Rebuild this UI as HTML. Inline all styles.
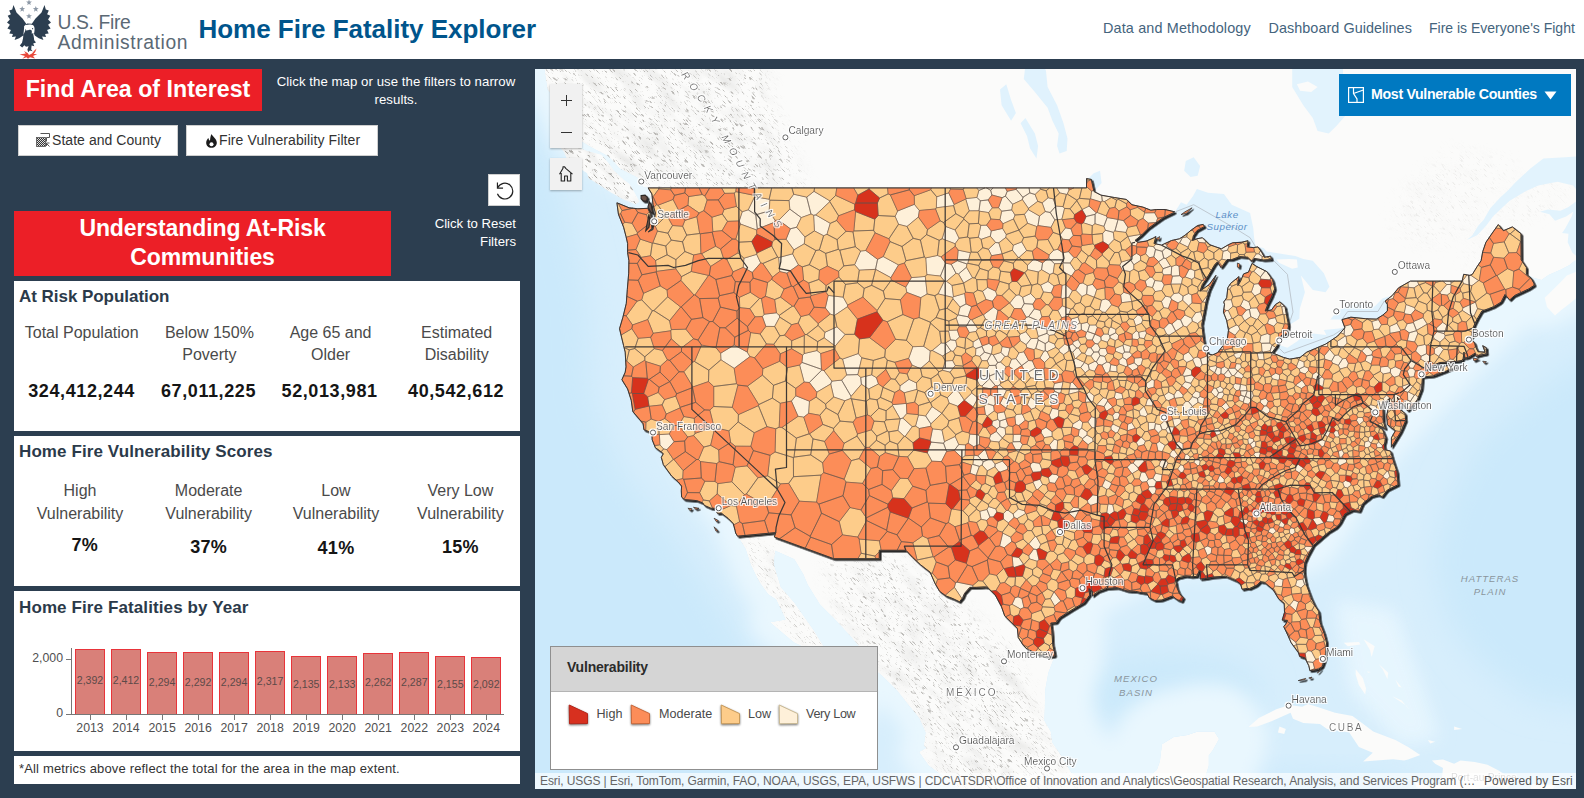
<!DOCTYPE html>
<html><head><meta charset="utf-8"><title>Home Fire Fatality Explorer</title>
<style>
*{box-sizing:border-box}
html,body{margin:0;padding:0}
body{width:1584px;height:798px;overflow:hidden;background:#2c3e50;font-family:"Liberation Sans",sans-serif;position:relative;color:#222}
.a{position:absolute;white-space:nowrap}
.hdr{left:0;top:0;width:1584px;height:59px;background:#fff}
.logo{color:#5b6975;font-size:19.3px;line-height:20px}
.title{left:198.5px;top:13px;font-size:26px;font-weight:700;color:#00558c;line-height:32px;letter-spacing:-0.02px}
.nav{top:19px;font-size:14.4px;line-height:18px;color:#44647d}
.red{background:#ec1f27;color:#fff;font-weight:700;text-align:center}
.btn{background:#fff;border:1px solid #cfcfcf;height:31px;top:124.5px;font-size:14px;color:#323232;line-height:29px}
.wt{color:#fff;font-size:13.2px;line-height:18px}
.card{background:#fff;left:14px;width:506px}
.ct{left:19px;font-size:17px;font-weight:700;color:#2b3a4a;line-height:20px;letter-spacing:-0.2px}
.lb{font-size:16px;color:#4a4a4a;line-height:22.5px;text-align:center;transform:translateX(-50%)}
.nm{font-size:18px;font-weight:700;color:#151515;line-height:22px;text-align:center;transform:translateX(-50%);letter-spacing:0.6px}
.map{position:absolute;left:535px;top:69px;display:block}
.mb{background:#f1f1f1;left:550px;width:32px;box-shadow:0 1px 2px rgba(0,0,0,.3)}
.yr{font-size:12.3px;color:#4f4f4f;line-height:14px;transform:translateX(-50%);top:720.5px}
.bv{font-size:10.6px;color:#5c4a48;line-height:12px;transform:translateX(-50%)}
.bar{background:#d98079;border:1px solid #e8343a;border-bottom:none;width:30px}
.lg{font-size:12.6px;color:#4a4a4a;line-height:14px;top:707px}
</style></head><body>

<div class="a hdr"></div>
<svg class="a" style="left:0;top:0" width="60" height="59" viewBox="0 0 60 59"><path d="M26.0,23.6L22.5,18.5L16.5,12.5L13.5,4.9L12.2,9.6L9.2,10.4L10.9,14.3L7.7,15.8L9.9,19.4L7.0,22.4L9.9,24.8L7.4,28.4L10.9,29.9L9.3,33.4L12.9,33.9L12.0,36.9L15.9,36.4L14.6,40.0L19.2,38.3L23.2,35.5L25.5,30.0ZM32.0,23.6L35.5,18.5L41.5,12.5L44.5,4.9L45.8,9.6L48.8,10.4L47.1,14.3L50.3,15.8L48.1,19.4L51.0,22.4L48.1,24.8L50.6,28.4L47.1,29.9L48.7,33.4L45.1,33.9L46.0,36.9L42.1,36.4L43.4,40.0L38.8,38.3L34.8,35.5L32.5,30.0ZM24.3,26.0L27.0,23.6L32.0,23.8L34.8,27.0L34.4,31.0L33.2,34.0L33.8,37.0L34.2,40.2L36.0,42.6L33.2,43.4L34.3,46.2L31.6,45.4L31.2,49.4L32.6,51.2L29.8,50.4L28.2,52.2L27.4,49.6L28.6,46.2L26.0,46.8L24.4,45.2L22.2,47.4L19.8,45.4L22.0,42.8L23.0,38.5L23.6,33.0Z" fill="#2c3e50"/><path d="M24.3,26.6 C25.2,24.4 31,23.9 33.5,25.5 C34.9,27 34.9,30 34.1,33.3 L31.6,33.6 C32.4,31 31.6,29.4 29.6,29.8 C28.5,30 27.6,31 27.3,30 L26.3,30.7 L25.8,29 L24.7,29.1 Z" fill="#fff"/><circle cx="32.6" cy="28.7" r="0.6" fill="#2c3e50"/><path d="M29.0,-0.5L29.8,1.5L31.9,1.6L30.2,3.0L30.8,5.1L29.0,3.9L27.2,5.1L27.8,3.0L26.1,1.6L28.2,1.5ZM22.2,6.1L23.0,8.1L25.1,8.2L23.4,9.6L24.0,11.7L22.2,10.5L20.4,11.7L21.0,9.6L19.3,8.2L21.4,8.1ZM35.8,6.1L36.6,8.1L38.7,8.2L37.0,9.6L37.6,11.7L35.8,10.5L34.0,11.7L34.6,9.6L32.9,8.2L35.0,8.1ZM29.0,13.2L29.8,15.2L31.9,15.3L30.2,16.7L30.8,18.8L29.0,17.6L27.2,18.8L27.8,16.7L26.1,15.3L28.2,15.2Z" fill="#8c98a6"/><path d="M19.5,54.5L25.8,53.6L24.0,51.0L27.6,53.0L29.0,55.0L32.0,53.4L34.4,50.4L36.6,48.4L35.2,52.0L33.6,54.0L37.2,54.0L33.0,56.0L35.0,58.6L30.0,57.2L28.0,58.8L26.4,57.2L22.4,58.8L25.0,56.0Z" fill="#e8483a"/></svg>
<div class="a logo" style="left:57.5px;top:12.8px;letter-spacing:-0.35px">U.S. Fire</div>
<div class="a logo" style="left:57.5px;top:32.9px;letter-spacing:0.6px">Administration</div>
<div class="a title">Home Fire Fatality Explorer</div>
<div class="a nav" style="left:1103px;letter-spacing:0.15px">Data and Methodology</div>
<div class="a nav" style="left:1268.5px;letter-spacing:0.05px">Dashboard Guidelines</div>
<div class="a nav" style="left:1429px;font-size:14px">Fire is Everyone's Fight</div>
<div class="a red" style="left:14px;top:69px;width:248px;height:42px;font-size:23.2px;line-height:40px">Find Area of Interest</div>
<div class="a wt" style="left:266px;top:72.5px;width:260px;text-align:center;letter-spacing:0.06px">Click the map or use the filters to narrow<br>results.</div>
<div class="a btn" style="left:18px;width:160px"><svg class="a" style="left:16px;top:6px" width="16" height="16" viewBox="0 0 16 16"><path d="M5.5,1.5 h9 v4 h-3 v4" fill="none" stroke="#555" stroke-width="1"/><defs><pattern id="dt" width="2" height="2" patternUnits="userSpaceOnUse"><rect width="1" height="1" fill="#333"/><rect x="1" y="1" width="1" height="1" fill="#333"/></pattern></defs><rect x="1.5" y="5.5" width="9" height="9" fill="#ddd"/><rect x="1.5" y="5.5" width="9" height="9" fill="url(#dt)" stroke="#555" stroke-width="0.8"/><path d="M11,11 l3.5,3.5 M11.5,14 v-3 h3" fill="none" stroke="#555" stroke-width="1"/></svg><span class="a" style="left:33px;top:0;letter-spacing:0.05px">State and County</span></div>
<div class="a btn" style="left:186px;width:192px"><svg class="a" style="left:18px;top:8px" width="13" height="14" viewBox="0 0 13 14"><path d="M6.5,0 C7.5,2.5 11.5,4.5 11.8,8.5 C12,11.5 9.5,13.8 6.5,13.8 C3.3,13.8 1,11.5 1.2,8.5 C1.3,6.5 2.3,5 3.5,4 C3.6,5.5 4.2,6.3 5,6.8 C5.2,4.5 5.5,2 6.5,0Z" fill="#1c1c1c"/><circle cx="6.5" cy="10.3" r="2" fill="#fff"/></svg><span class="a" style="left:32px;top:0;letter-spacing:0.1px">Fire Vulnerability Filter</span></div>
<div class="a" style="left:488px;top:174px;width:32px;height:32px;background:#fff;border:1px solid #cfcfcf"><svg class="a" style="left:5.5px;top:5.5px" width="19.5" height="19.5" viewBox="0 0 16 16"><path d="M2.2,5.5 A6.5,6.5 0 1 1 2,10.5" fill="none" stroke="#222" stroke-width="0.95"/><path d="M2,1.2 v4.6 h4.6" fill="none" stroke="#222" stroke-width="0.95"/></svg></div>
<div class="a wt" style="left:396px;top:214.5px;width:120px;text-align:right;white-space:normal;font-size:13.2px">Click to Reset Filters</div>
<div class="a red" style="left:14px;top:211px;width:377px;height:65px;font-size:23px;line-height:29px;padding-top:3px;letter-spacing:-0.1px">Understanding At-Risk<br>Communities</div>
<div class="a card" style="top:281px;height:150px"></div>
<div class="a ct" style="top:286.5px;letter-spacing:-0.04px">At Risk Population</div>
<div class="a lb" style="left:81.7px;top:321.5px">Total Population</div>
<div class="a lb" style="left:209.4px;top:321.5px">Below 150%<br>Poverty</div>
<div class="a lb" style="left:330.6px;top:321.5px">Age 65 and<br>Older</div>
<div class="a lb" style="left:456.7px;top:321.5px">Estimated<br>Disability</div>
<div class="a nm" style="left:81.6px;top:380px">324,412,244</div>
<div class="a nm" style="left:208.5px;top:380px">67,011,225</div>
<div class="a nm" style="left:329.6px;top:380px">52,013,981</div>
<div class="a nm" style="left:456.1px;top:380px">40,542,612</div>
<div class="a card" style="top:436px;height:150px"></div>
<div class="a ct" style="top:442px;letter-spacing:0.1px">Home Fire Vulnerability Scores</div>
<div class="a lb" style="left:80px;top:479px;line-height:23px">High<br>Vulnerability</div>
<div class="a lb" style="left:208.6px;top:479px;line-height:23px">Moderate<br>Vulnerability</div>
<div class="a lb" style="left:336px;top:479px;line-height:23px">Low<br>Vulnerability</div>
<div class="a lb" style="left:460.4px;top:479px;line-height:23px">Very Low<br>Vulnerability</div>
<div class="a nm" style="left:84.7px;top:533.5px;letter-spacing:0.3px">7%</div>
<div class="a nm" style="left:208.6px;top:536px;letter-spacing:0.3px">37%</div>
<div class="a nm" style="left:336px;top:537.2px;letter-spacing:0.3px">41%</div>
<div class="a nm" style="left:460.4px;top:536px;letter-spacing:0.3px">15%</div>
<div class="a card" style="top:591px;height:160px"></div>
<div class="a ct" style="top:597.5px;letter-spacing:0.11px">Home Fire Fatalities by Year</div>
<div class="a" style="left:71px;top:648px;width:1px;height:67px;background:#777"></div>
<div class="a" style="left:66px;top:714.0px;width:438px;height:1px;background:#777"></div>
<div class="a" style="left:66px;top:659px;width:5px;height:1px;background:#777"></div>
<div class="a" style="left:32px;top:650.5px;font-size:12.3px;color:#4f4f4f;line-height:14px;width:31px;text-align:right">2,000</div>
<div class="a" style="left:32px;top:705.5px;font-size:12.3px;color:#4f4f4f;line-height:14px;width:31px;text-align:right">0</div>
<div class="a bar" style="left:75.0px;top:649.1px;height:64.9px"></div>
<div class="a bv" style="left:90.0px;top:674.3px">2,392</div>
<div class="a" style="left:89.5px;top:714.5px;width:1px;height:5px;background:#777"></div>
<div class="a yr" style="left:90.0px">2013</div>
<div class="a bar" style="left:111.0px;top:648.6px;height:65.4px"></div>
<div class="a bv" style="left:126.0px;top:674.0px">2,412</div>
<div class="a" style="left:125.5px;top:714.5px;width:1px;height:5px;background:#777"></div>
<div class="a yr" style="left:126.0px">2014</div>
<div class="a bar" style="left:147.1px;top:651.8px;height:62.2px"></div>
<div class="a bv" style="left:162.1px;top:675.6px">2,294</div>
<div class="a" style="left:161.6px;top:714.5px;width:1px;height:5px;background:#777"></div>
<div class="a yr" style="left:162.1px">2015</div>
<div class="a bar" style="left:183.1px;top:651.8px;height:62.2px"></div>
<div class="a bv" style="left:198.1px;top:675.7px">2,292</div>
<div class="a" style="left:197.6px;top:714.5px;width:1px;height:5px;background:#777"></div>
<div class="a yr" style="left:198.1px">2016</div>
<div class="a bar" style="left:219.1px;top:651.8px;height:62.2px"></div>
<div class="a bv" style="left:234.1px;top:675.6px">2,294</div>
<div class="a" style="left:233.6px;top:714.5px;width:1px;height:5px;background:#777"></div>
<div class="a yr" style="left:234.1px">2017</div>
<div class="a bar" style="left:255.2px;top:651.2px;height:62.8px"></div>
<div class="a bv" style="left:270.1px;top:675.3px">2,317</div>
<div class="a" style="left:269.6px;top:714.5px;width:1px;height:5px;background:#777"></div>
<div class="a yr" style="left:270.1px">2018</div>
<div class="a bar" style="left:291.2px;top:656.1px;height:57.9px"></div>
<div class="a bv" style="left:306.2px;top:677.8px">2,135</div>
<div class="a" style="left:305.7px;top:714.5px;width:1px;height:5px;background:#777"></div>
<div class="a yr" style="left:306.2px">2019</div>
<div class="a bar" style="left:327.2px;top:656.2px;height:57.8px"></div>
<div class="a bv" style="left:342.2px;top:677.8px">2,133</div>
<div class="a" style="left:341.7px;top:714.5px;width:1px;height:5px;background:#777"></div>
<div class="a yr" style="left:342.2px">2020</div>
<div class="a bar" style="left:363.2px;top:652.7px;height:61.3px"></div>
<div class="a bv" style="left:378.2px;top:676.1px">2,262</div>
<div class="a" style="left:377.7px;top:714.5px;width:1px;height:5px;background:#777"></div>
<div class="a yr" style="left:378.2px">2021</div>
<div class="a bar" style="left:399.3px;top:652.0px;height:62.0px"></div>
<div class="a bv" style="left:414.3px;top:675.7px">2,287</div>
<div class="a" style="left:413.8px;top:714.5px;width:1px;height:5px;background:#777"></div>
<div class="a yr" style="left:414.3px">2022</div>
<div class="a bar" style="left:435.3px;top:655.6px;height:58.4px"></div>
<div class="a bv" style="left:450.3px;top:677.5px">2,155</div>
<div class="a" style="left:449.8px;top:714.5px;width:1px;height:5px;background:#777"></div>
<div class="a yr" style="left:450.3px">2023</div>
<div class="a bar" style="left:471.3px;top:657.3px;height:56.7px"></div>
<div class="a bv" style="left:486.3px;top:678.4px">2,092</div>
<div class="a" style="left:485.8px;top:714.5px;width:1px;height:5px;background:#777"></div>
<div class="a yr" style="left:486.3px">2024</div>
<div class="a" style="left:14px;top:756px;width:506px;height:28px;background:#fff"></div>
<div class="a" style="left:19px;top:761px;font-size:13px;color:#333;line-height:16px;letter-spacing:0.16px">*All metrics above reflect the total for the area in the map extent.</div>
<svg class="map" width="1041" height="720" viewBox="535 69 1041 720">
<defs>
<filter id="bl" x="-20%" y="-20%" width="140%" height="140%"><feGaussianBlur stdDeviation="9"/></filter>
<filter id="bl3" x="-30%" y="-30%" width="160%" height="160%"><feGaussianBlur stdDeviation="16"/></filter>
<filter id="sh" x="-5%" y="-5%" width="110%" height="110%"><feDropShadow dx="1.6" dy="1.6" stdDeviation="0.7" flood-color="#000" flood-opacity="0.85"/></filter>
<filter id="hill" x="0" y="0" width="100%" height="100%"><feTurbulence type="fractalNoise" baseFrequency="0.7 0.22" numOctaves="3" seed="11"/><feColorMatrix type="matrix" values="0 0 0 0 0.40  0 0 0 0 0.39  0 0 0 0 0.37  -4.5 -4.5 0 0 4.02"/></filter><filter id="hill2" x="0" y="0" width="100%" height="100%"><feTurbulence type="fractalNoise" baseFrequency="0.06 0.045" numOctaves="2" seed="5"/><feColorMatrix type="matrix" values="0 0 0 0 0.68  0 0 0 0 0.68  0 0 0 0 0.67  -0.9 -0.9 0 0 0.98"/></filter>
<filter id="halo" x="-10%" y="-30%" width="120%" height="160%"><feMorphology in="SourceAlpha" operator="dilate" radius="1.1" result="d"/><feFlood flood-color="#fff" flood-opacity="0.95"/><feComposite in2="d" operator="in" result="h"/><feMerge><feMergeNode in="h"/><feMergeNode in="SourceGraphic"/></feMerge></filter>

<clipPath id="pac"><path d="M294.9,-115.2L517.2,4.8L539.5,46.6L544.2,68.2L545.8,78.9L547.4,89.5L555.3,100.0L560.1,109.1L563.3,115.5L565.7,123.2L568.8,130.9L571.2,135.9L580.7,141.0L588.7,146.0L598.2,151.0L607.7,156.0L614.1,162.2L619.6,168.4L628.4,173.3L636.3,176.9L641.1,180.6L642.7,186.7L648.1,187.9L660.1,235.3L660.1,388.9L715.7,498.7L741.1,531.1L737.6,536.2L745.6,549.0L750.7,564.8L756.2,575.9L759.4,582.3L768.1,594.2L776.1,599.6L785.6,619.5L770.0,622.2L785.6,635.6L794.0,642.4L811.3,650.8L817.4,667.5L818.9,680.6L830.1,690.2L846.7,699.8L852.0,709.6L856.3,706.7L859.4,697.2L845.9,687.6L840.4,681.5L834.8,669.3L829.3,655.2L819.4,639.2L814.7,631.5L806.2,619.5L794.3,602.4L780.8,586.9L774.0,564.2L775.3,550.8L794.3,559.2L803.1,574.0L807.8,585.0L819.7,604.2L836.4,621.0L851.5,637.4L861.8,649.9L865.8,662.2L882.5,676.3L896.8,690.2L907.6,704.1L919.0,717.9L925.5,732.6L923.7,746.0L926.1,747.7L919.0,752.0L928.5,765.5L940.9,774.8L952.3,784.0L965.0,792.3L1009.5,842.0L1009.5,955.5L294.9,955.5Z"/></clipPath>
<clipPath id="atl"><path d="M1200.1,891.0L1200.1,787.3L1204.8,779.0L1208.8,765.5L1208.8,755.4L1212.8,750.3L1219.1,739.1L1214.4,731.6L1197.7,731.6L1187.4,735.0L1173.7,737.0L1161.9,744.3L1159.9,761.3L1156.9,769.7L1146.1,779.0L1139.2,781.5L1131.8,781.5L1120.7,784.8L1112.7,785.7L1098.1,789.8L1087.3,782.3L1071.0,772.2L1063.5,758.7L1052.4,742.6L1050.8,731.6L1044.4,720.4L1044.9,707.5L1045.2,690.2L1048.4,672.8L1054.8,655.9L1057.1,583.2L1168.3,527.3L1295.3,527.3L1358.9,429.7L1438.3,346.8L1517.7,269.8L1533.5,277.7L1541.5,280.0L1548.5,275.0L1560.5,269.8L1569.3,265.3L1574.8,260.7L1676.5,260.7L1676.5,891.0Z"/></clipPath>
<clipPath id="usc"><path d="M616.9,202.8L629.2,207.8L637.9,208.8L647.8,208.3L650.6,214.2L652.2,228.3L648.2,231.9L653.0,229.5L654.1,221.3L655.4,213.0L653.0,204.7L651.9,193.9L648.1,187.9L1086.5,187.9L1086.5,178.6L1091.3,179.4L1094.0,191.5L1100.8,195.1L1114.3,197.5L1126.2,199.4L1131.8,204.7L1142.9,207.1L1150.8,210.2L1156.4,209.5L1165.1,209.5L1174.7,211.8L1173.4,212.8L1163.1,217.8L1148.3,228.3L1141.8,234.9L1135.0,240.5L1138.1,242.3L1146.1,241.2L1153.2,238.1L1155.9,236.5L1154.0,243.5L1161.6,245.1L1171.5,240.5L1179.4,238.8L1185.0,235.3L1191.3,230.0L1197.7,225.5L1203.2,224.4L1204.5,226.5L1196.9,230.7L1193.4,235.8L1192.4,240.5L1196.9,238.8L1202.4,237.7L1209.3,244.6L1215.9,246.9L1221.5,248.8L1228.6,244.6L1232.6,242.8L1241.3,242.3L1248.0,240.7L1247.2,246.9L1253.3,247.6L1258.0,246.9L1262.0,252.7L1264.4,257.3L1270.7,256.1L1271.5,259.6L1263.6,260.0L1254.1,258.4L1252.0,261.4L1247.7,257.3L1239.8,256.6L1231.8,259.6L1227.1,259.6L1223.1,265.3L1221.0,267.5L1217.5,261.8L1214.8,264.6L1210.4,272.1L1206.4,278.8L1202.4,284.4L1200.1,291.1L1209.3,284.4L1215.9,275.4L1213.6,281.1L1209.3,290.0L1206.1,301.1L1204.8,308.8L1201.8,324.4L1203.2,336.0L1204.5,344.6L1206.1,349.3L1208.8,354.2L1212.8,354.9L1217.5,352.7L1223.9,344.6L1227.4,338.2L1228.5,330.2L1226.6,320.2L1223.4,312.1L1224.5,304.4L1223.7,302.0L1226.7,297.8L1227.8,287.8L1230.7,283.3L1239.0,276.6L1237.9,285.6L1240.6,281.1L1243.6,273.9L1248.5,272.1L1252.0,263.4L1256.4,266.4L1266.8,271.6L1272.6,279.7L1274.7,288.9L1271.5,297.1L1268.3,303.3L1265.2,311.0L1271.5,309.9L1275.5,304.4L1279.9,301.8L1285.0,306.6L1286.8,316.5L1288.7,325.2L1287.1,333.9L1281.8,335.0L1278.7,339.7L1277.1,345.7L1272.0,352.7L1283.4,357.4L1289.8,359.1L1300.1,357.4L1306.8,352.1L1314.4,348.9L1325.8,344.0L1337.7,336.0L1344.9,327.8L1341.9,319.6L1350.9,317.2L1365.2,318.7L1376.3,319.1L1382.7,315.2L1387.4,311.0L1387.4,304.4L1385.1,301.1L1392.2,295.6L1398.6,287.8L1410.5,281.1L1462.1,281.1L1463.7,274.3L1470.0,275.4L1472.4,274.3L1477.2,266.4L1481.1,260.7L1482.7,251.5L1485.9,242.3L1492.3,233.0L1498.3,224.6L1503.4,230.7L1512.4,226.9L1521.0,233.7L1521.2,259.8L1526.4,267.5L1526.4,274.3L1531.2,278.2L1533.9,283.3L1534.3,285.3L1528.8,288.9L1519.2,293.4L1514.5,295.6L1509.7,300.0L1505.0,294.5L1501.0,302.2L1493.8,306.6L1488.3,308.8L1481.9,311.0L1478.0,317.6L1474.8,323.7L1472.9,328.5L1476.4,332.8L1472.4,336.0L1470.0,339.3L1474.5,342.5L1475.6,346.8L1478.0,351.7L1485.1,352.1L1482.7,345.7L1486.4,347.8L1486.7,353.8L1481.1,354.9L1476.1,356.4L1475.1,353.2L1468.4,357.4L1464.5,358.1L1464.0,352.1L1463.2,358.5L1462.4,360.4L1456.4,361.4L1449.4,362.1L1439.8,362.5L1431.9,365.9L1425.6,371.1L1436.7,369.0L1449.4,364.8L1456.4,366.5L1446.2,371.1L1433.5,375.9L1422.4,377.0L1422.4,379.1L1421.6,388.9L1417.6,399.2L1415.7,402.1L1407.6,410.9L1404.1,405.3L1398.6,400.2L1397.4,397.1L1399.4,403.3L1400.1,409.4L1405.1,413.5L1405.7,420.6L1400.9,431.7L1391.4,447.2L1391.4,437.8L1395.4,430.7L1387.4,424.7L1386.6,415.6L1389.0,405.3L1389.8,398.2L1382.7,404.3L1383.0,410.1L1383.5,421.7L1385.5,428.7L1374.7,423.7L1382.7,429.7L1385.9,437.8L1384.3,444.8L1385.1,449.8L1390.6,451.1L1392.7,458.7L1397.0,471.5L1398.1,484.7L1387.4,490.0L1382.2,496.7L1377.9,494.8L1371.6,496.4L1362.8,503.5L1359.5,511.2L1352.5,510.2L1344.9,514.0L1339.8,523.5L1336.6,527.3L1328.7,532.1L1320.0,539.6L1315.7,543.3L1313.3,545.6L1308.0,555.5L1304.9,562.4L1304.1,570.3L1304.9,577.1L1306.5,585.0L1311.2,597.8L1315.2,606.0L1318.7,611.2L1320.0,622.2L1324.4,633.9L1326.6,642.8L1325.5,653.4L1324.9,659.2L1322.3,666.6L1318.4,669.3L1309.9,670.7L1308.8,665.7L1304.9,657.8L1299.6,656.4L1298.5,652.7L1294.5,647.2L1291.2,642.8L1288.0,635.6L1286.1,631.5L1283.7,626.7L1285.8,624.0L1287.4,620.4L1282.2,620.1L1284.5,612.3L1284.2,603.3L1278.8,599.1L1273.1,589.6L1264.4,582.3L1260.4,581.7L1257.2,585.0L1249.3,588.7L1247.7,588.3L1242.1,589.3L1240.6,584.1L1236.6,581.0L1225.5,576.2L1212.8,577.1L1204.8,578.6L1200.1,579.0L1200.9,571.3L1199.3,570.7L1196.9,576.4L1191.3,576.8L1185.8,576.0L1178.6,577.7L1175.4,580.1L1176.2,583.2L1177.0,587.8L1179.4,593.3L1183.4,597.8L1181.8,601.5L1177.0,599.6L1172.3,596.0L1167.5,597.8L1161.9,600.0L1154.8,600.5L1149.2,597.8L1146.9,593.3L1139.7,592.4L1135.7,591.4L1127.0,590.9L1117.5,587.8L1107.2,588.3L1098.4,591.4L1092.4,596.0L1092.4,591.4L1088.9,588.7L1089.7,595.1L1084.1,602.7L1073.8,608.7L1066.7,613.2L1059.5,617.7L1056.3,622.6L1050.8,623.1L1051.9,630.3L1052.7,644.5L1054.8,653.9L1054.8,655.9L1049.2,656.9L1038.1,654.3L1027.0,649.0L1023.3,645.3L1018.2,637.4L1017.4,628.5L1004.7,615.9L1001.6,606.9L995.2,594.9L987.3,587.2L984.7,586.9L976.2,587.4L969.8,587.4L964.6,593.3L962.7,597.8L959.5,601.8L953.1,598.7L946.0,596.0L939.6,591.3L934.9,583.2L930.1,572.2L920.6,564.8L912.6,557.4L906.3,550.6L905.8,550.3L879.3,550.3L879.3,558.7L833.7,558.7L774.3,537.0L775.7,532.6L737.6,536.2L735.6,533.0L735.1,530.2L733.2,523.5L728.4,518.6L721.3,513.1L717.3,513.3L715.7,508.3L711.0,508.3L704.3,505.4L703.0,503.1L696.7,500.6L684.4,499.6L681.6,497.1L681.3,490.9L681.6,486.1L678.1,481.8L671.6,476.0L663.3,464.6L661.3,457.3L663.3,453.7L659.7,450.7L655.4,447.8L652.2,439.8L651.9,434.2L652.5,433.2L649.0,431.7L643.9,429.7L643.1,423.7L632.8,411.5L631.2,400.2L627.6,388.9L621.9,379.7L625.2,372.2L626.0,366.9L625.2,352.1L623.6,345.7L619.5,328.7L622.8,317.6L626.3,303.3L627.3,289.4L628.7,273.2L628.9,260.7L627.6,252.7L627.6,243.5L626.0,236.5L623.6,227.2L618.4,214.2Z"/></clipPath>
</defs>
<rect x="535" y="69" width="1041" height="720" fill="#fbfbfa"/>
<mask id="hm" maskUnits="userSpaceOnUse" x="535" y="69" width="1041" height="720"><rect x="535" y="69" width="1041" height="720" fill="#000"/><g filter="url(#bl)" fill="#fff"><path d="M533.1,46.6L763.4,46.6L766.5,100.0L784.0,138.5L798.3,175.7L803.1,192.7L612.5,192.7L556.9,163.4Z"/><path d="M741.1,540.5L761.8,540.5L807.8,619.5L850.7,690.2L850.7,707.5L817.4,672.8L782.4,619.5Z" opacity="0.9"/><path d="M826.9,561.1L906.3,561.1L961.9,610.5L1006.3,646.3L1031.7,707.5L1065.1,767.2L1081.0,792.3L946.0,800.7L930.1,741.8L882.5,672.8L842.8,619.5Z" opacity="0.95"/><path d="M1454.1,151.0L1517.7,163.4L1485.9,204.7L1462.1,235.3L1422.4,246.9L1390.6,223.7L1406.5,187.9Z" opacity="0.22"/><path d="M1536.7,183.0L1571.7,183.0L1557.4,207.1L1509.7,223.7L1478.0,258.4L1462.1,269.8L1470.0,246.9L1501.8,211.8Z" opacity="0.22"/><path d="M1263.6,716.1L1295.3,707.5L1335.0,716.1L1390.6,741.8L1417.6,755.4L1366.8,760.4L1335.0,733.3L1279.5,724.7Z" opacity="0.45"/></g></mask>
<g mask="url(#hm)" opacity="0.8"><g transform="skewX(40)"><rect x="-150" y="60" width="1700" height="740" filter="url(#hill2)"/><rect x="-150" y="60" width="1700" height="740" filter="url(#hill)"/></g></g>
<path d="M294.9,-115.2L517.2,4.8L539.5,46.6L544.2,68.2L545.8,78.9L547.4,89.5L555.3,100.0L560.1,109.1L563.3,115.5L565.7,123.2L568.8,130.9L571.2,135.9L580.7,141.0L588.7,146.0L598.2,151.0L607.7,156.0L614.1,162.2L619.6,168.4L628.4,173.3L636.3,176.9L641.1,180.6L642.7,186.7L648.1,187.9L660.1,235.3L660.1,388.9L715.7,498.7L741.1,531.1L737.6,536.2L745.6,549.0L750.7,564.8L756.2,575.9L759.4,582.3L768.1,594.2L776.1,599.6L785.6,619.5L770.0,622.2L785.6,635.6L794.0,642.4L811.3,650.8L817.4,667.5L818.9,680.6L830.1,690.2L846.7,699.8L852.0,709.6L856.3,706.7L859.4,697.2L845.9,687.6L840.4,681.5L834.8,669.3L829.3,655.2L819.4,639.2L814.7,631.5L806.2,619.5L794.3,602.4L780.8,586.9L774.0,564.2L775.3,550.8L794.3,559.2L803.1,574.0L807.8,585.0L819.7,604.2L836.4,621.0L851.5,637.4L861.8,649.9L865.8,662.2L882.5,676.3L896.8,690.2L907.6,704.1L919.0,717.9L925.5,732.6L923.7,746.0L926.1,747.7L919.0,752.0L928.5,765.5L940.9,774.8L952.3,784.0L965.0,792.3L1009.5,842.0L1009.5,955.5L294.9,955.5Z" fill="#d7eefc"/>
<g clip-path="url(#pac)">
<path d="M500,40L540,140L566,200L588,300L592,400L622,470L680,545L716,600L752,660L790,720L850,820L500,820Z" fill="#cbe9fb" filter="url(#bl3)"/>
<path d="M294.9,-115.2L517.2,4.8L539.5,46.6L544.2,68.2L545.8,78.9L547.4,89.5L555.3,100.0L560.1,109.1L563.3,115.5L565.7,123.2L568.8,130.9L571.2,135.9L580.7,141.0L588.7,146.0L598.2,151.0L607.7,156.0L614.1,162.2L619.6,168.4L628.4,173.3L636.3,176.9L641.1,180.6L642.7,186.7L648.1,187.9L660.1,235.3L660.1,388.9L715.7,498.7L741.1,531.1L737.6,536.2L745.6,549.0L750.7,564.8L756.2,575.9L759.4,582.3L768.1,594.2L776.1,599.6L785.6,619.5L770.0,622.2L785.6,635.6L794.0,642.4L811.3,650.8L817.4,667.5L818.9,680.6L830.1,690.2L846.7,699.8L852.0,709.6L856.3,706.7L859.4,697.2L845.9,687.6L840.4,681.5L834.8,669.3L829.3,655.2L819.4,639.2L814.7,631.5L806.2,619.5L794.3,602.4L780.8,586.9L774.0,564.2L775.3,550.8L794.3,559.2L803.1,574.0L807.8,585.0L819.7,604.2L836.4,621.0L851.5,637.4L861.8,649.9L865.8,662.2L882.5,676.3L896.8,690.2L907.6,704.1L919.0,717.9L925.5,732.6L923.7,746.0L926.1,747.7L919.0,752.0L928.5,765.5L940.9,774.8L952.3,784.0L965.0,792.3L1009.5,842.0L1009.5,955.5L294.9,955.5Z" fill="none" stroke="#e9f7fe" stroke-width="40" stroke-linejoin="round" filter="url(#bl)"/>
</g>
<path d="M1200.1,891.0L1200.1,787.3L1204.8,779.0L1208.8,765.5L1208.8,755.4L1212.8,750.3L1219.1,739.1L1214.4,731.6L1197.7,731.6L1187.4,735.0L1173.7,737.0L1161.9,744.3L1159.9,761.3L1156.9,769.7L1146.1,779.0L1139.2,781.5L1131.8,781.5L1120.7,784.8L1112.7,785.7L1098.1,789.8L1087.3,782.3L1071.0,772.2L1063.5,758.7L1052.4,742.6L1050.8,731.6L1044.4,720.4L1044.9,707.5L1045.2,690.2L1048.4,672.8L1054.8,655.9L1057.1,583.2L1168.3,527.3L1295.3,527.3L1358.9,429.7L1438.3,346.8L1517.7,269.8L1533.5,277.7L1541.5,280.0L1548.5,275.0L1560.5,269.8L1569.3,265.3L1574.8,260.7L1676.5,260.7L1676.5,891.0Z" fill="#d7eefc"/>
<g clip-path="url(#atl)">
<path d="M1640,320L1550,380L1480,440L1448,500L1432,560L1446,620L1480,665L1530,700L1640,715Z" fill="#cbe9fb" filter="url(#bl3)"/>
<ellipse cx="1170" cy="692" rx="92" ry="40" fill="#cbe9fb" filter="url(#bl3)"/>
<path d="M1235,830L1275,772L1375,776L1440,800L1440,830Z" fill="#cbe9fb" filter="url(#bl3)"/>
<path d="M1200.1,891.0L1200.1,787.3L1204.8,779.0L1208.8,765.5L1208.8,755.4L1212.8,750.3L1219.1,739.1L1214.4,731.6L1197.7,731.6L1187.4,735.0L1173.7,737.0L1161.9,744.3L1159.9,761.3L1156.9,769.7L1146.1,779.0L1139.2,781.5L1131.8,781.5L1120.7,784.8L1112.7,785.7L1098.1,789.8L1087.3,782.3L1071.0,772.2L1063.5,758.7L1052.4,742.6L1050.8,731.6L1044.4,720.4L1044.9,707.5L1045.2,690.2L1048.4,672.8L1054.8,655.9L1057.1,583.2L1168.3,527.3L1295.3,527.3L1358.9,429.7L1438.3,346.8L1517.7,269.8L1533.5,277.7L1541.5,280.0L1548.5,275.0L1560.5,269.8L1569.3,265.3L1574.8,260.7L1676.5,260.7L1676.5,891.0Z" fill="none" stroke="#e9f7fe" stroke-width="96" stroke-linejoin="round" filter="url(#bl)"/>
<path d="M1335,600L1395,610L1420,680L1440,740L1400,745L1350,690Z" fill="#e9f7fe" opacity="0.85" filter="url(#bl)"/>
</g>
<path d="M1466.8,240.0L1477.2,235.3L1485.9,226.0L1493.4,215.9L1509.4,201.1L1525.1,191.5L1538.3,185.5L1557.4,181.8L1573.2,185.5L1578.0,192.0L1676.5,192.7L1676.5,138.5L1581.2,156.0L1565.3,157.2L1543.4,158.5L1530.4,168.4L1515.3,182.5L1508.1,190.3L1500.2,197.5L1490.3,208.3L1483.5,220.1L1478.0,226.0L1472.4,235.3Z" fill="#e2f3fd"/>
<path d="M1539.9,211.8L1547.8,209.5L1560.5,210.7L1568.5,207.1L1578.0,199.9L1612.9,199.9L1612.9,258.4L1576.4,256.1L1572.4,252.7L1567.7,242.3L1568.5,233.7L1562.1,233.0L1565.3,228.3L1571.7,216.6L1573.2,211.8L1566.1,216.6L1555.0,220.8L1549.4,214.2Z" fill="#e2f3fd"/>
<path d="M1287.4,4.8L1292.2,68.2L1292.2,86.9L1303.3,105.2L1312.8,118.1L1317.6,130.9L1328.7,133.4L1336.6,125.8L1347.7,112.9L1346.2,97.4L1343.0,86.9L1343.0,68.2L1343.0,4.8Z" fill="#e2f3fd"/>
<path d="M1175.1,211.8L1181.0,202.3L1186.6,204.7L1192.9,196.3L1196.9,189.1L1208.0,192.7L1223.9,193.9L1231.8,204.7L1250.1,213.0L1253.3,228.3L1254.1,237.7L1255.6,246.9L1258.0,246.9L1231.8,251.5L1200.1,246.9L1160.4,249.2L1133.4,244.6L1144.5,223.7Z" fill="#e0f2fd"/>
<path d="M1258.0,246.9L1263.6,248.1L1266.8,251.5L1281.0,253.8L1295.3,256.1L1303.3,259.1L1312.8,260.7L1323.9,273.2L1329.5,286.7L1325.5,292.3L1312.8,290.0L1300.9,275.4L1304.9,292.3L1299.8,308.8L1299.3,318.7L1289.0,325.2L1288.2,333.9L1288.2,339.3L1279.5,340.3L1277.9,344.6L1269.9,340.3L1266.8,314.3L1263.6,292.3L1250.9,269.8L1249.3,260.7Z" fill="#e0f2fd"/>
<path d="M1247.7,258.4L1208.0,258.4L1196.9,294.5L1200.1,357.4L1231.8,357.4L1247.7,303.3L1250.9,267.5Z" fill="#e0f2fd"/>
<path d="M1277.9,344.6L1287.4,347.8L1296.9,341.4L1308.0,332.8L1319.2,334.3L1326.3,335.0L1323.9,330.0L1339.0,328.5L1344.3,327.4L1347.7,333.9L1330.3,351.0L1303.3,361.7L1276.3,361.7Z" fill="#e0f2fd"/>
<path d="M1341.9,319.6L1330.3,319.4L1336.9,311.5L1345.4,306.6L1356.5,304.4L1374.7,306.6L1382.7,298.3L1392.2,295.6L1393.8,303.3L1390.6,318.7L1366.8,323.1L1344.6,323.1Z" fill="#e0f2fd"/>
<path d="M1059.5,153.5L1057.1,146.0L1058.7,133.4L1052.4,120.7L1047.6,107.8L1034.9,92.1L1023.8,78.9L1025.4,65.5L1041.3,60.2L1046.0,70.9L1047.6,86.9L1057.1,105.2L1063.5,123.2L1067.5,138.5L1066.7,151.0Z" fill="#e0f2fd"/>
<path d="M1036.5,158.5L1030.1,148.5L1027.0,135.9L1020.6,123.2L1025.4,118.1L1034.9,133.4L1038.1,146.0Z" fill="#e0f2fd"/>
<path d="M1011.1,120.7L1001.6,105.2L1000.0,89.5L1006.3,84.2L1011.1,100.0L1015.9,112.9Z" fill="#e0f2fd"/>
<path d="M1190.5,176.9L1184.2,170.8L1185.8,160.9L1193.7,157.2L1200.1,165.9L1197.7,175.7Z" fill="#e0f2fd"/>
<path d="M1085.7,187.9L1087.3,179.4L1093.7,173.3L1100.0,170.8L1101.6,183.0L1095.3,190.3Z" fill="#e0f2fd"/>
<path d="M558.0,144.0L566.4,142.2L573.6,145.5L587.1,151.0L601.4,154.7L608.5,162.9L614.1,170.8L623.6,179.4L629.3,183.8L634.7,192.7L639.5,201.8L635.5,204.2L622.0,198.7L609.3,191.5L598.2,184.2L588.7,178.2L587.1,173.3L577.6,167.1L568.0,160.9L564.1,152.3Z" fill="#fbfbfa"/>
<path d="M1581.2,261.8L1575.6,272.1L1566.9,275.4L1560.5,282.2L1553.2,289.6L1544.7,297.8L1547.0,307.1L1555.0,315.4L1561.3,309.9L1570.1,303.3L1578.0,296.7L1589.1,292.3L1589.1,261.8Z" fill="#fbfbfa"/>
<path d="M1296.9,84.2L1308.0,81.6L1317.6,86.9L1311.2,92.1L1300.1,90.8Z" fill="#fbfbfa"/>
<path d="M1276.3,259.6L1289.0,258.9L1296.9,259.6L1297.7,267.5L1292.2,268.7L1279.5,263.0Z" fill="#fbfbfa"/>
<path d="M1248.5,727.0L1258.8,717.9L1276.3,709.3L1289.6,705.1L1302.2,706.7L1308.0,704.1L1319.2,707.5L1335.0,712.7L1352.5,716.1L1362.0,723.0L1373.2,731.6L1395.4,740.1L1408.1,746.9L1420.3,755.0L1408.1,759.6L1404.1,760.4L1393.0,759.3L1363.1,761.4L1372.8,752.8L1358.9,746.9L1349.3,732.4L1327.1,729.0L1320.0,723.9L1303.3,723.0L1293.0,718.7L1290.6,712.7L1271.5,721.3L1257.2,726.4Z" fill="#fbfbfa"/>
<path d="M1279.5,726.4L1285.8,729.0L1284.2,734.1L1277.9,732.4Z" fill="#fbfbfa"/>
<path d="M1431.9,760.4L1443.0,759.6L1454.1,763.8L1460.5,760.4L1474.8,762.1L1487.5,764.7L1498.6,770.5L1506.5,775.6L1511.3,784.0L1506.5,789.0L1492.3,785.7L1476.4,789.0L1463.7,799.0L1458.9,792.3L1446.2,789.0L1448.6,783.1L1441.4,782.3L1442.2,775.6L1443.0,768.0L1435.1,763.8Z" fill="#fbfbfa"/>
<path d="M1447.8,783.1L1428.7,785.7L1415.2,782.3L1416.0,787.3L1430.3,790.7L1446.2,789.0Z" fill="#fbfbfa"/>
<path d="M1531.2,784.0L1555.0,784.8L1551.8,792.3L1530.4,793.2Z" fill="#fbfbfa"/>
<path d="M1355.7,669.3L1362.8,678.0L1366.0,688.5L1365.2,694.6L1358.9,685.0L1355.7,674.5Z" fill="#fbfbfa"/>
<path d="M1343.8,642.8L1358.9,641.9L1360.4,644.5L1347.7,646.3Z" fill="#fbfbfa"/>
<path d="M1363.6,639.2L1374.7,646.3L1371.6,656.9L1370.0,649.9Z" fill="#fbfbfa"/>
<path d="M1378.7,664.0L1388.2,672.8L1387.4,678.9L1382.7,669.3Z" fill="#fbfbfa"/>
<path d="M1366.8,671.4L1370.8,671.9L1368.4,672.8Z" fill="#fbfbfa"/>
<path d="M1395.4,679.8L1401.7,687.6L1398.6,686.7Z" fill="#fbfbfa"/>
<path d="M1392.2,696.3L1398.6,700.6L1406.5,705.8L1408.9,709.3L1401.7,700.6Z" fill="#fbfbfa"/>
<path d="M1427.9,740.1L1435.1,741.8L1430.3,743.5Z" fill="#fbfbfa"/>
<path d="M1454.1,726.4L1462.1,729.0L1454.1,729.9Z" fill="#fbfbfa"/>
<clipPath id="vi"><path d="M558.0,144.0L566.4,142.2L573.6,145.5L587.1,151.0L601.4,154.7L608.5,162.9L614.1,170.8L623.6,179.4L629.3,183.8L634.7,192.7L639.5,201.8L635.5,204.2L622.0,198.7L609.3,191.5L598.2,184.2L588.7,178.2L587.1,173.3L577.6,167.1L568.0,160.9L564.1,152.3Z"/></clipPath>
<g clip-path="url(#vi)"><g transform="skewX(40)"><rect x="365" y="136" width="180" height="80" filter="url(#hill2)"/><rect x="365" y="136" width="180" height="80" filter="url(#hill)"/></g></g>
<path d="M1175.4,211.8L1193.7,204.7L1235.0,228.3L1250.1,237.7L1255.6,246.9M1271.5,258.4L1287.4,274.3L1293.0,312.1L1288.7,325.2" fill="none" stroke="#b5bcc4" stroke-width="0.8"/>
<path d="M1277.6,346.8L1284.2,353.2L1319.2,340.3L1333.5,335.0L1344.6,327.8M1342.2,319.1L1347.7,311.5L1377.9,311.5L1384.3,301.1" fill="none" stroke="#b5bcc4" stroke-width="0.8"/>
<g filter="url(#sh)">
<path d="M616.9,202.8L629.2,207.8L637.9,208.8L647.8,208.3L650.6,214.2L652.2,228.3L648.2,231.9L653.0,229.5L654.1,221.3L655.4,213.0L653.0,204.7L651.9,193.9L648.1,187.9L1086.5,187.9L1086.5,178.6L1091.3,179.4L1094.0,191.5L1100.8,195.1L1114.3,197.5L1126.2,199.4L1131.8,204.7L1142.9,207.1L1150.8,210.2L1156.4,209.5L1165.1,209.5L1174.7,211.8L1173.4,212.8L1163.1,217.8L1148.3,228.3L1141.8,234.9L1135.0,240.5L1138.1,242.3L1146.1,241.2L1153.2,238.1L1155.9,236.5L1154.0,243.5L1161.6,245.1L1171.5,240.5L1179.4,238.8L1185.0,235.3L1191.3,230.0L1197.7,225.5L1203.2,224.4L1204.5,226.5L1196.9,230.7L1193.4,235.8L1192.4,240.5L1196.9,238.8L1202.4,237.7L1209.3,244.6L1215.9,246.9L1221.5,248.8L1228.6,244.6L1232.6,242.8L1241.3,242.3L1248.0,240.7L1247.2,246.9L1253.3,247.6L1258.0,246.9L1262.0,252.7L1264.4,257.3L1270.7,256.1L1271.5,259.6L1263.6,260.0L1254.1,258.4L1252.0,261.4L1247.7,257.3L1239.8,256.6L1231.8,259.6L1227.1,259.6L1223.1,265.3L1221.0,267.5L1217.5,261.8L1214.8,264.6L1210.4,272.1L1206.4,278.8L1202.4,284.4L1200.1,291.1L1209.3,284.4L1215.9,275.4L1213.6,281.1L1209.3,290.0L1206.1,301.1L1204.8,308.8L1201.8,324.4L1203.2,336.0L1204.5,344.6L1206.1,349.3L1208.8,354.2L1212.8,354.9L1217.5,352.7L1223.9,344.6L1227.4,338.2L1228.5,330.2L1226.6,320.2L1223.4,312.1L1224.5,304.4L1223.7,302.0L1226.7,297.8L1227.8,287.8L1230.7,283.3L1239.0,276.6L1237.9,285.6L1240.6,281.1L1243.6,273.9L1248.5,272.1L1252.0,263.4L1256.4,266.4L1266.8,271.6L1272.6,279.7L1274.7,288.9L1271.5,297.1L1268.3,303.3L1265.2,311.0L1271.5,309.9L1275.5,304.4L1279.9,301.8L1285.0,306.6L1286.8,316.5L1288.7,325.2L1287.1,333.9L1281.8,335.0L1278.7,339.7L1277.1,345.7L1272.0,352.7L1283.4,357.4L1289.8,359.1L1300.1,357.4L1306.8,352.1L1314.4,348.9L1325.8,344.0L1337.7,336.0L1344.9,327.8L1341.9,319.6L1350.9,317.2L1365.2,318.7L1376.3,319.1L1382.7,315.2L1387.4,311.0L1387.4,304.4L1385.1,301.1L1392.2,295.6L1398.6,287.8L1410.5,281.1L1462.1,281.1L1463.7,274.3L1470.0,275.4L1472.4,274.3L1477.2,266.4L1481.1,260.7L1482.7,251.5L1485.9,242.3L1492.3,233.0L1498.3,224.6L1503.4,230.7L1512.4,226.9L1521.0,233.7L1521.2,259.8L1526.4,267.5L1526.4,274.3L1531.2,278.2L1533.9,283.3L1534.3,285.3L1528.8,288.9L1519.2,293.4L1514.5,295.6L1509.7,300.0L1505.0,294.5L1501.0,302.2L1493.8,306.6L1488.3,308.8L1481.9,311.0L1478.0,317.6L1474.8,323.7L1472.9,328.5L1476.4,332.8L1472.4,336.0L1470.0,339.3L1474.5,342.5L1475.6,346.8L1478.0,351.7L1485.1,352.1L1482.7,345.7L1486.4,347.8L1486.7,353.8L1481.1,354.9L1476.1,356.4L1475.1,353.2L1468.4,357.4L1464.5,358.1L1464.0,352.1L1463.2,358.5L1462.4,360.4L1456.4,361.4L1449.4,362.1L1439.8,362.5L1431.9,365.9L1425.6,371.1L1436.7,369.0L1449.4,364.8L1456.4,366.5L1446.2,371.1L1433.5,375.9L1422.4,377.0L1422.4,379.1L1421.6,388.9L1417.6,399.2L1415.7,402.1L1407.6,410.9L1404.1,405.3L1398.6,400.2L1397.4,397.1L1399.4,403.3L1400.1,409.4L1405.1,413.5L1405.7,420.6L1400.9,431.7L1391.4,447.2L1391.4,437.8L1395.4,430.7L1387.4,424.7L1386.6,415.6L1389.0,405.3L1389.8,398.2L1382.7,404.3L1383.0,410.1L1383.5,421.7L1385.5,428.7L1374.7,423.7L1382.7,429.7L1385.9,437.8L1384.3,444.8L1385.1,449.8L1390.6,451.1L1392.7,458.7L1397.0,471.5L1398.1,484.7L1387.4,490.0L1382.2,496.7L1377.9,494.8L1371.6,496.4L1362.8,503.5L1359.5,511.2L1352.5,510.2L1344.9,514.0L1339.8,523.5L1336.6,527.3L1328.7,532.1L1320.0,539.6L1315.7,543.3L1313.3,545.6L1308.0,555.5L1304.9,562.4L1304.1,570.3L1304.9,577.1L1306.5,585.0L1311.2,597.8L1315.2,606.0L1318.7,611.2L1320.0,622.2L1324.4,633.9L1326.6,642.8L1325.5,653.4L1324.9,659.2L1322.3,666.6L1318.4,669.3L1309.9,670.7L1308.8,665.7L1304.9,657.8L1299.6,656.4L1298.5,652.7L1294.5,647.2L1291.2,642.8L1288.0,635.6L1286.1,631.5L1283.7,626.7L1285.8,624.0L1287.4,620.4L1282.2,620.1L1284.5,612.3L1284.2,603.3L1278.8,599.1L1273.1,589.6L1264.4,582.3L1260.4,581.7L1257.2,585.0L1249.3,588.7L1247.7,588.3L1242.1,589.3L1240.6,584.1L1236.6,581.0L1225.5,576.2L1212.8,577.1L1204.8,578.6L1200.1,579.0L1200.9,571.3L1199.3,570.7L1196.9,576.4L1191.3,576.8L1185.8,576.0L1178.6,577.7L1175.4,580.1L1176.2,583.2L1177.0,587.8L1179.4,593.3L1183.4,597.8L1181.8,601.5L1177.0,599.6L1172.3,596.0L1167.5,597.8L1161.9,600.0L1154.8,600.5L1149.2,597.8L1146.9,593.3L1139.7,592.4L1135.7,591.4L1127.0,590.9L1117.5,587.8L1107.2,588.3L1098.4,591.4L1092.4,596.0L1092.4,591.4L1088.9,588.7L1089.7,595.1L1084.1,602.7L1073.8,608.7L1066.7,613.2L1059.5,617.7L1056.3,622.6L1050.8,623.1L1051.9,630.3L1052.7,644.5L1054.8,653.9L1054.8,655.9L1049.2,656.9L1038.1,654.3L1027.0,649.0L1023.3,645.3L1018.2,637.4L1017.4,628.5L1004.7,615.9L1001.6,606.9L995.2,594.9L987.3,587.2L984.7,586.9L976.2,587.4L969.8,587.4L964.6,593.3L962.7,597.8L959.5,601.8L953.1,598.7L946.0,596.0L939.6,591.3L934.9,583.2L930.1,572.2L920.6,564.8L912.6,557.4L906.3,550.6L905.8,550.3L879.3,550.3L879.3,558.7L833.7,558.7L774.3,537.0L775.7,532.6L737.6,536.2L735.6,533.0L735.1,530.2L733.2,523.5L728.4,518.6L721.3,513.1L717.3,513.3L715.7,508.3L711.0,508.3L704.3,505.4L703.0,503.1L696.7,500.6L684.4,499.6L681.6,497.1L681.3,490.9L681.6,486.1L678.1,481.8L671.6,476.0L663.3,464.6L661.3,457.3L663.3,453.7L659.7,450.7L655.4,447.8L652.2,439.8L651.9,434.2L652.5,433.2L649.0,431.7L643.9,429.7L643.1,423.7L632.8,411.5L631.2,400.2L627.6,388.9L621.9,379.7L625.2,372.2L626.0,366.9L625.2,352.1L623.6,345.7L619.5,328.7L622.8,317.6L626.3,303.3L627.3,289.4L628.7,273.2L628.9,260.7L627.6,252.7L627.6,243.5L626.0,236.5L623.6,227.2L618.4,214.2Z" fill="#fc8d59"/>
<path d="M1208.8,357.2l-2.1-1.1 -6.3,2.4 1.7,6.4 5.5-0.8 1.7-4.4zM1247,390.6l-0.8-5.2 -5.6-1.1 -1,5.7 0.9,0.9zM1028.6,316.7l-2.4,0.6 -1.4,2.2 2.7,9.1 8.8,0.1 3.1-4.6 -0.6-3.1zM1153.6,400.9l-2.8-2.9 -3.4,1 -1.9,6.6 7,0.4zM876.5,377.7l-4.8-2.9 -11,2.6 0.7,6.9 7.3,4.7 9.8-5zM959.1,238.2l-4-8.3 -9.3-3.4 -3.7,12.3 13.1,5zM905.7,287.1l1.1,5.3 14,5.3 6.4-3.7 -1.9-17.6 -13.9,1.2zM931,442.1l-3.7,10.8 4.6,8.3 9.6,0.4 5.1-10 -3-8.3zM860.7,377.4l-2.8-2.8 -11.3,0.3 -5,5.2 9.5,16.3 10.3-12.1zM1228.9,246.8l-0.9-1.8 -6.5,3.8 -2.5-0.8 0.2,0.7 3.8,2.6 4.5-1.1zM1035.7,348.6l2.6-8.7 -0.8-1.7 -6.4,0.4 -5,6.1 0.7,3 7.1,1.9zM982,346.5l2.5,5.7 6.6,2 0.5-0.2 1.1-8 -3.7-2.6 -6.7,2.4zM1240.2,521.3l6,3.6 2.3-3.5 -1.5-2 -6.7-0.1zM734.2,345l-13.6,8.2 0.3,6.6 13.3,8.6 15.8-11.8 -2.8-4.6zM1032.9,304.2l-8.7-0.6 -2.9,5.1 4.9,8.6 2.4-0.6 5.8-7.9zM1069.1,190l-0.6-2.1 -11.9,0 3.1,5 6.7,1.5 0.9-0.3zM1055.7,347.4l-1-3.3 -6-2.7 -3.5,2.2 0.1,7.1 1.9,1zM796.7,227.2l4.6-9.6 -11.5-8.5 -11,11.1 11.5,8.6zM825.3,307.9l4.8,6.2 4.4,1.4 13-8.8 0.2-1.6 -4.5-8 -15-1.7zM1002.4,438l-6.1-6.6 -5.7,3.4 -1.2,3.5 1.1,2.8 8.4,1zM1417.5,281.1l-7,0 -2.6,1.4 0.3,4.7 5.8,0.7 4.8-3.2zM1078.2,507.8l-4.9-0.4 -4.3,4.4 0.1,1.6 5.8,5.1 4.8-9.4zM809.3,382.5l7.5,9.7 13.9-8.2 1.2-2.9 -7.9-10.4 -2-0.8zM1471.8,332.9l-1.3,4.9 0.3,0.4 1.6-2.2 2.3-1.9zM1141.3,364.8l1.5-5.6 -1.5-1.7 -7,0.6 -0.2,4.7 4.1,3.2zM1079.7,283.5l-4,6.7 6.2,6.4 4.7-2.3 0.7-8.7 -4.4-2.7zM1415.5,394.6l-1,0.3 -4.2,6.5 1.3,2 2.4,0.5 3.6-4.7 0.7-1.7zM817,350.5l-12.8,3 -1.6,1.7 -0.7,7.2 19.6,6.9 -0.7-15.7zM1214.1,279.7l1.8-4.3 -2.4,3.4zM990.9,322l5.1-1.6 2-10.1 -4.4-3.2 -10.2,7.7 1.9,4.1zM951.2,264.2l-5.5-1 -5.3,12.9 3.9,5 2.3,0.2 9.4-8zM786.1,239.2l7.8,10.7 10.4-6.1 0.7-6.8 -8.3-9.8 -6.4,1.6zM1088.2,364.6l1.1,5.1 5.3,1.6 3.6-6.8 -1.8-2.7 -1.7-0.5zM995,466.8l3.6,4.8 1.6,0.5 7.3-2.6 0.3-2.5 -5.3-6 -7.4,3zM1072.5,290.7l-6.8-6.2 -3.7,0.8 -1.1,12.2 1.3,1.2 6.7-1.5zM1084.5,362.4l-8.5-4 -1.1,0.2 -1.3,1.6 1.9,7.8 5.2-0.5zM1188.6,417.2l8-5.2 -4.1-5.5 -6.5,5.3zM982.5,291.3l3.5,8.2 6.4,1.8 4.6-6.1 -1.3-4 -8.1-3.9zM823.6,235.8l3.4-1.5 3.3-11 -14.5-8.4 -2.2,0.4 0.8,15.6zM1197.7,323.6l5.1-4.4 0.2-0.8 -2.4-6.8 -5,1.1 -3.8,5.5 0.6,3.1zM900,385.8l-0.3,3.9 4.5,3.1 12.8-3.4 -0.6-6.5 -7.4-3.6zM957.3,330l-7.9,0.3 -0.9,0.8 1.9,8.7 5.4,0.7 3.8-3.6zM1023.6,564.5l-4.7-7.1 -6.7-0.9 0.8,10.1 1.4,0.8zM989.6,376l-2.3-7.8 -8.7-0.4 2,7.5zM1000,403.5l6.3,4.9 3-7.9 -5.9-3.4zM1191,383.3l3.3-5.8 -2.5-2.5 -7.8,1.4 1.1,5.4zM952.8,297.4l0.1,1.3 7.1,8.4 6.1-3.2 -1.4-10.5 -11.2,3.3zM1024.4,510.7l-6.1-1.7 -5.2,4.9 1,3.6 3,1.2 8.7-5.2zM1141.6,316.6l-3.8-1.9 -4.3,4.8 2.1,6.3 6-2.5 1.1-3zM1175.7,331.4l-3.8-7.5 -2.8-0.8 -5.3,5.5 2.6,5.3 2.6,1.4zM1228.3,369.8l3.7,5.8 2.1,0 3.4-4.4 -2.6-3.1 -5.6,0.1 -1,0.7zM1063.6,262.9l-0.7-10.2 -5.2-3.4 -4,0.8 -4.6,4.9 -0.4,3 5.9,5.8 8.3-0.3zM1379.2,416l-0.6-5 -1.8-1.4 -5.7,2.5 0.6,2.5 4.7,3.3zM829.8,201.7l0.2-0.8 -16-9.6 -7.3,5.8 4.3,17 2.6,1.2 2.2-0.4zM1172.7,418.9l-0.2,0.4 1.8,7.6 1,0.1 5.5-4 0.6-2.4 -2.2-2.3zM801.3,217.6l9.7-3.5 -4.3-17 -13-2.9 -4.7,6.4 0.8,8.5zM1082.5,438.6l0.1,1.3 5.5,4.8 5.1-3.4 -0.4-3 -5.7-3.3zM1253.7,271.4l6.7,5.6 4.8-6.2 -8-4zM1188.5,293.4l-5.4,2.7 -0.5,4.2 6,5.7 3.5-3.1 -0.3-8.1zM769.2,210.9l0.7-10.7 -0.7-1 -14.6-2.5 -6.4,13.1 7.6,5zM1035.5,407.7l1.3-6 -5.7-4.3 -1.5,0.8 -2.3,6.6 4,4.5zM1156.1,222.4l1.6-4.1 -3-5.6 -10,0.2 -1.8,5.5 5.5,4.7zM985.2,448.9l-7.4,6.8 5.4,6.1 5.6-2.6zM792.6,253.8l-14,3.8 1.1,14 7.2,1.6 11.6-8.3zM1270.1,350.9l1.8,4 4.3,0.5 0.8-0.6 -5-2.1 3.9-5.3 -3.6-2.2 -0.3,0zM1028.6,360.5l-7,5.3 3.6,5.8 2.7,0.9 7.5-4.6 -3-7.1zM1109.5,362.5l-2.7-0.5 -4.9,3.1 3.6,7.9 1.8,0.1 2.4-1.9 1.1-6.7zM988.6,212.6l3.8-4.8 -4.2-7.9 -7.9,0.9 -1.3,10 0.4,0.4zM1172.4,276.2l-1.7,8 10.4-0.1 0.5-0.4 1-5.7 -2.9-2.3zM1295.3,532.3l-1.1-3.9 -3.3-0.8 -1.6,2.2 0.3,3.3 1.4,1.5 1.4,0.2zM1192.5,406.5l5.5-4.1 -0.5-4 -5.1-1.8 -3.9,4.9zM1085.4,402.3l7.6-0.6 1.3-5.8 -4.9-4 -3.2,2.3zM1239.1,400.4l4.1,1.6 1.6-5.3 -4-1.5 -2.2,1.5zM1390.6,369l-0.3,3.7 2.1,3.5 2.3,1.1 4.5-1.6 2-5.1 -0.5-1.3 -5.5-2.6zM1462.5,280.9l0.9,2.8 8.5,2 6.8-5.1 -8-5.5 -0.7,0.3 -3.1-0.5zM1242.3,348.7l4.7-5.1 -3.7-4.8 -4.7,1 -0.9,5.5zM915.5,426.1l3.8,2.4 11.5-2.2 0.1-2.4 -5.3-8 -7.1-1zM1168.4,308.5l3.1-9 -1-2.4 -4.9-1 -4.2,5.3 2.2,6.3zM1324.9,359.3l6.6,1.9 3.3-5.9 -5.2-6 -5.2,6.3zM1133.9,264.8l-3.6-5.4 -8.9,2.6 -1.7,3.2 2.7,5.2 7.5,1.2 4-2.3zM743.9,258.2l-0.7,9.2 9.1,5.1 8.4-9.6 -4-8.6zM877.6,259.3l-11.8-8.8 -5.2,0.5 -6,13.7 4.7,5.5 16.2-0.9zM1299.2,369l5.1-2.5 -0.2-4.6 -5.2-2.1 -2.4,6.3 0.3,1.3zM955.5,582.7l-1.1,4.6 7.5,11.4 0.8-0.9 1.9-4.5 5.2-5.9 3.2,0 -0.1-2.1 -15.9-3.2zM1024.4,214.3l3.1,9 9.3,3.3 1.2-1 1.5-9.6 -11.2-6.4zM1345.6,480.4l-3,2.1 1.7,4.7 3.2,0.8 3.8-3 -0.7-2.6zM1023.9,351.7l-5.1,1.2 -2.9,5.7 5.7,7 7-5.1zM1267.3,323.5l6.5,2.9 3.4-3.9 -1.8-5 -6.6,1.6zM1021.5,413.9l-5.3,0.6 -1.4,2.4 0.9,7.7 3.2,1 6.4-5.3 -2.8-5.9zM988.2,199.9l3.7-4.9 -1.2-4.7 -4.3-2.4 -1.4,0 -6.2,2.6 -1.9,6.9 3.4,3.4zM1138.6,332.2l-2.3-1.4 -4.2,3.6 0.2,4.7 5.4,0.5 1.8-1.7zM1165.9,258.5l-2.1-0.4 -5.1,3.6 -0.1,0.4 4.4,6.6 7.6-2.6zM1230.7,253.1l-3.2-2.9 -4.5,1.1 -1.2,7.9 4.8,1 0.5-0.6 3.4,0zM756.7,230.1l0.6-1 -1.5-14.3 -7.6-5 -6,1.9 -3,9.3 1.1,3zM1423.1,317.5l-9.3,3.8 -0.4,1.2 3.2,7.9 10.7-6.3zM1186.7,327.1l5.7-5.8 -0.6-3.1 -6.9-3.3 -4.3,4.9 2.8,6.3zM1202.1,364.9l-1.7-6.4 -3.2-1.6 -3.7,1.3 -0.8,1.7 3,6.8 4.3,0.9zM1012.7,204.3l-7.3-8.2 -3.3,1.6 -3.6,10 3.1,3.5 10.2-1.3zM1453.2,359.4l-3.2-0.5 -3.8,2.8 -0.1,0.5 9.4-0.7zM1448.3,369.1l1.7,0.3 6.4-2.9 -7-1.7 -2.7,0.9zM1030,466.1l2.8,6.2 7.8-0.5 1.3-2.7 -2.3-5.8 -6.6-1 -2.2,1.4zM943.6,443.3l3,8.3 7.6-1.1 4.6-6 -3.6-8.1 -10.7,5.1zM1221.1,433.5l-2.6-5.2 -3.7,0.3 -1.1,1.6 2.8,5.2zM986.9,509.4l-7.2,1.9 1.3,8 5.8,1.2 3.2-3.4zM1451.2,285.3l-0.5-0.8 -4,0 -6.8,8 0.1,0.5 1.3,1.3 5.9,0.9 3.6-2.7zM989.6,378.6l-7.7,7.5 0.9,1.3 8.1,1.5 4.5-3.3zM769.2,210.9l-13.4,3.9 1.5,14.3 16.6-6.6 1.3-2.1zM1063.7,272.1l7.4,3.9 0.7-0.2 3.5-5.1 -5.2-7.7 -6.5-0.1 -0.7,0.6zM1233.1,306.2l-1.7-6.5 -6.1,0.1 -1.6,2.2 0.8,2.4 -0.6,4.4 2,1.8 2.4-0.1zM1344.8,326.1l-0.7,8.2 1,1.7 1,0.4 4.8-1.2 3.1-5.2 -3.3-5.6zM1093.8,352.1l-3,4 3.9,5.2 1.7,0.5 3.6-6.3 -1.5-3.6zM949.1,403.1l8.6,3.1 6.6-6.1 -6.2-9.2 -3.7-0.8 -7.1,7.7zM1043.8,368.8l-5.9,0.5 -2,9.4 1.5,1.9 6.7,0.2 0.9-0.9zM1014.4,370.5l7.2-4.9 -5.7-7 -4.4,0.5 -2.7,7.1zM1002.4,438l3.3-3.8 -0.5-6 -5.5-1.5 -2.9,2.2 -0.5,2.5zM1050.2,212.5l-5-1 -5.7,4.5 -1.5,9.6 13,1.8 3.9-7.5zM1270.1,528l-1.8,3.1 0.3,0.9 4.2,2.2 3.6-3 -2.9-3.6zM900.1,418.8l-2.3,11.6 6.4,5.9 1,0.1 7.1-9.8 -9.4-8.5zM1162.1,251.3l5.1-4.7 -0.3-1.5 -2-1.6 -3.3,1.6 -5.6-1.2 -2.4,2.8 1.9,2.8zM674.1,441.7l-4.8-7.8 -9.9,0.7 0.5,10.2 3.7,4.2 3.3,0.7zM1057.9,310.6l3.7,7.1 6.6-1.5 2.6-7.1 -8.5-3.3zM1280.6,306l1,0.8 3.1-0.4 -3.7-3.6zM1153.8,256.9l4.9,4.8 5.1-3.6 -1.7-6.8 -6.6-1.8zM1086.3,332.3l-1.1,4.3 1.9,3.4 5.2,0 2.5-5.8 -7.2-2.7zM1155.1,291.6l6.8-1 2.4-5.7 -2.4-3.7 -7-0.7 -2.4,7.1zM1338.7,437.1l0.7-1.5 -1.4-4.8 -2.4-0.3 -2.2,2.5 1.9,4.1zM1172,433.5l2.3-6.6 -6.4-0.3 -2.2,3.2 2.1,3.3zM1100.8,336.8l0.4,3.4 6.1,2.1 2.8-4.2 -0.3-2.4 -1.8-1.7 -4.2,0zM1250,444.3l4.1-3.3 -1-2.3 -3.5-1 -1.9,1.8 0.7,4.4zM1005.9,237.4l0.4-2.9 -3.7-6.1 -11.3,2.5 -1,5.3 5.3,6.3 3.3,0.3zM990.7,190.3l1.2,4.7 10.2,2.7 3.3-1.6 1.8-4.8 -1.9-3.4 -12.1,0zM1388.4,299.9l4.6-1.3 2.1-5.7 -0.4-0.4 -2.5,3.1 -4.5,3.5zM1155.5,423.6l-0.9-1.2 -6.4,0 0.4,8.1 5.9-1.4zM968.1,316.8l-10.1-1.9 -0.4,0.2 -1.4,3 2.8,8.6 7.1,0 4.2-7.3zM987.4,396.7l-1.3,6 0.4,0.8 7.2,2.2 1.6-1.5 -0.6-7.6 -4.2-1.6zM1162.3,451.6l2.9-6.3 -5.9-3.9 -2.9,2.1 1.5,7.5zM1221.2,368.3l-4.2-1.2 -2.3,5.8 3.3,2.5 2.9-1.6zM1462.9,307.8l-0.6,2.7 9.3,6 2.5-0.6 3.5-7.3 -2.1-6.5zM1312.8,374.1l-0.9,3.9 5.1,2.1 4.9-3.3 -5.5-4.9zM966.1,303.9l-6.1,3.2 -2,7.8 10.1,1.9 3.6-10.2zM945.7,263.2l-4.6-6.3 -3.6-1.5 -11.8,2.5 1.1,16.7 13.6,1.5zM1324.1,445.9l1.4-4.6 -3.4-1.6 -4.7,2.3 4.7,4.9zM1338.8,457.9l-1.5,5.1 2.6,2.7 6.7-3.3 -0.1-2.5 -4.5-2.8 -2.7,0.4zM1118.1,219.4l-10.9-1.9 -3.3,8.9 1.4,3.8 8,2.1 1.6-1.3zM1314.5,517.9l-1.7,1.7 4,5.8 7.1-2.5 -3.9-5.5zM1129.7,352.1l-5.1-0.1 -2,2.1 0.1,3.3 3.8,2.4 5.6-4.3 -0.1-1zM1245.4,396.3l-0.6,0.4 -1.6,5.3 0.5,1.1 4.6,1.2 3.5-3.8 -0.1-1.2zM1321.5,346.4l6.1,0.1 0.4-4 -2.2,1.5 -4.6,2zM842.5,359.1l4.1,15.8 11.3-0.3 3.9-16.8 -3.5-4.3zM964.3,400.2l8.9,6.7 4.4-7.8 -0.4-1.9 -5.5-4.2zM1020.2,340.7l5.9,4 5-6.1 -5.2-6.9 -5.8,2.4 -0.9,2.2zM1328.5,436.3l1.7-3.8 -0.6-1.1 -3.9-0.9 -2.3,3.5 4.1,2.8zM1371,412l5.8-2.4 -0.5-3.4 -5.5-1.5 -2,1.3zM1052.2,431.8l-6.2-4.5 -4.5,2.7 -0.4,2.7 3.1,5 8-1.3zM1383,475.8l0.3,1.5 3.8,2.1 2.9-2.8 -1.8-5.5 -1.2,0zM1192.1,395l0.3,1.6 5.1,1.8 2.6-2 -0.1-3.9 -4.4-1.6zM1115.5,351.3l7.1,2.8 2-2.1 -1.7-6.8 -7.4,3zM1218.4,398.7l3.4-0.2 2.4-4.3 -1.4-2.3 -4.2,0.9 -2.1,4zM1057.9,409.2l-5.8-0.9 -2.8,6.8 1.4,4 2.5,0.4 5.2-3.1 0.5-5.7zM1096.9,418.3l-5.5-1.7 -3.6,5.3 4.2,5.8 2.7,0.3 1.2-1.4zM1302.7,574l1.2,3.2 1-0.2 -0.8-6.6zM1098.9,502.8l-0.3-5.9 -1.3-1.3 -4.6-0.8 -5.3,5.7 0.5,2.5 2.9,2.4zM1021.3,435.6l-0.9-1.4 -7.2,0.2 -0.3,7.4 7.4-0.2zM930.2,440.5l0.8,1.6 12.6,1.2 0.9-1.8 -2.5-11.6 -9.5-1.1zM1192.7,359.9l0.8-1.7 -4.9-6.3 -5.2,2.9 -0.3,4.3 3.7,3.4zM955.8,340.5l-5.4-0.7 -5,3.3 5.6,7.9 2.2,0.5 3.8-5.3zM1444.2,333.7l-7.1-2.1 -3.7,4.4 0.4,2.7 6.1,3.5 4.9-4.3 0.4-2.3zM1037.8,201.3l-2.7-6.8 -5.3-1.6 -6.9,4.4 -0.5,2.4 6,8.7zM1338.2,354.9l-3.4,0.4 -3.3,5.9 1.1,2 5.7,2.2 4.3-6.7zM779.3,315.3l-2.9-2.5 -12.2,1.4 -1.9,2.4 3.5,9.8 8.9,0.1 5-9.4zM1191.4,370.2l-5.2-2.9 -3.8,7.9 1.6,1.2 7.8-1.4zM898.6,264.9l-15.4-8.4 -5.6,2.8 -2.1,10 15.4,8.4zM1016.2,189.3l6.7,8 6.9-4.4 -0.7-5 -12.2,0zM1045.3,350.7l-1.5,0.6 -4,6.8 4.8,4.4 5.4-5.3 -2.8-5.5zM1048.7,258l-6.1,4.8 -1.1,6.9 8.3,4.8 3.4-1.3 1.4-9.4zM1248.9,301.7l-5.4-2.5 -3.2,6.8 6.1,4 3-0.5 1.6-1.5zM1151.9,379.4l-5.3,3.8 -0.4,2.8 1.8,2.7 6.1-1.5 0.3-6.9zM1209.5,286.6l-2.7,4.5 1.1,3.7 1.4-4.8 1.8-3.8zM1237.8,371.1l3.7-3.8 -0.9-3.3 -4.4-0.5 -1.3,4.6zM907,226.5l11.4-9.5 1-6.5 -5-6.2 -16.8,6.7 -2.5,5.4 3.4,7.9zM1161.1,481.4l1.1-6.8 -6.7-1.4 -2.6,5.1 3.5,3.4zM1105.4,312.5l6.3-7.8 -2.6-4.4 -3.7-1.4 -4,1.2 -2.1,9.5 3.2,2.5zM1252.4,391.6l-5.2-0.7 -1.8,5.4 6.3,3 1.8-3.4zM1090.8,356.1l3-4 -2.8-4.3 -3.2-0.1 -3,5.7 1.9,2.4zM1039.4,324.1l-3.1,4.6 1.9,7.8 8.8-3.2 0.1-6zM1006.4,510.5l-3.1,3.1 0.1,5.5 5,3.8 5.7-5.4 -1-3.6 -5-3.6zM1317,380.1l0.2,3.8 5.7,3.1 1.4-8.1 -2.4-2.1zM963.7,282.9l8.9-5.2 -6.1-10.5 -8,6.8zM1229.8,377.8l2.2-2.2 -3.7-5.8 -4.3,4.7 1.4,2.7zM1443.6,349.3l-3.6-3.6 -5.7,3 0,4.9 4.5,2.8zM1054.8,391.4l4.2,1.8 1.9-0.4 2.2-11.1 -8.7,1.7 -1.2,4.8zM952.1,285.4l-5.5-4.1 -2.3-0.2 -6.3,12.8 14.8,3.5 0.7-0.7zM1082.2,209.4l-0.1,0.3 4,6.8 9-2.2 1.2-1.6 -7.3-6.6zM1199,242.4l6,0.7 0.9-1.9 -3.5-3.5 -6,1.3zM1293.9,599.9l-4.4,5.3 6.5,5.9 2.6-9.1zM1102.9,241.6l5.7,3.6 5.6-5.9 -0.9-7 -8-2.1 -2.7,3.3zM1170.5,297.1l1,2.4 6.5,3.5 4.6-2.7 0.5-4.2 -4.4-3.3 -4.9,0.7zM1389.2,404.1l2.6-2.6 -0.2-1.7 -5-4.9 -3.5,3.6 1.7,4 5-4.3zM798,416.3l5.8,0.9 4.9-3.9 0.8-12.1 -13.7-5.5 -4.4,5.4zM1018.6,451.8l0.4-0.1 3.6-7.1 -2.3-3 -7.4,0.2 -1,1 4.2,8zM999.7,385l1-1.8 -2.1-10 -1.2-0.5 -7.8,3.3 0,2.6 5.8,7 2,0.3zM983.2,461.8l-1.1,3.3 5.2,5.8 7.7-4.1 0.1-2.8 -3.4-4.4 -2.9-0.4zM1204.5,350.3l2.2,5.8 2.1,1.1 3.3-2.4 -3.3-0.6 -3-5.7zM984.2,406.6l1.1,7.8 2,1.6 7-5.1 -0.6-5.2 -7.2-2.2zM979.7,356.4l2.1,4.3 5.4,0.1 3.9-6.6 -6.6-2zM1068.4,345.8l0.6,5.1 3.7,1.4 4-4.3 -4.1-4.1zM1289.3,637.1l-0.5,0.3 2.4,5.4 2.5,3.3 2.8-1.5 -0.5-2.3zM990.3,236.2l1-5.3 -4.7-5.8 -5.8,0.2 -2.5,12 2.8,2.1zM1390.3,372.7l0.3-3.7 -2.8-2.8 -7.1,0.7 -0.4,4.4 2.9,2.7zM1095.1,214.3l-0.1,9.5 8.9,2.6 3.3-8.9 -0.9-1.6 -9.2-3.5 -0.8,0.3zM996.8,428.9l2.9-2.2 0.1-5.7 -2.1-1.6 -5.3,1.7 -0.6,4zM1305.1,653.3l1.2,7.4 0.5,1 6.3,0.7 2.7-3 -4.3-8.3 -3.5-0.5zM831.9,381.1l-1.2,2.9 3,13 11.1,3.8 6.2-2.4 0.1-2 -9.5-16.3zM1400.6,398l-0.2-1.3 -5.1-2.9 -3.7,6 0.2,1.7 3.9,0.8 2.6-2.3 -0.9-2.9 1.1,2.8zM1055,483.4l3.9-6.6 -1.9-2.1 -4.8-0.7 -3.8,3.6 1,5zM1005.2,428.2l3.1-2.5 -2.3-6.7 -6.2,2 -0.1,5.7zM1096.7,405l7.4,1.6 3.5-5.6 -0.1-1.4 -1.5-1.4 -2.8-0.6 -6.6,7.1zM1261.4,343.3l8.5-0.2 0.3-8.3 -2.9-1.3 -6.4,2.1 -1.3,6.4zM1186,411.8l6.5-5.3 -4-5 -2.8-0.2 -3.1,3.6 1.7,6.2zM1138.2,467.8l-5.1-4.8 -2.1,0.2 -3.9,4 4.4,6.1 0.9,0.2 6.1-3.7zM1426.5,353.7l-0.1-8.4 -1.8-0.8 -7,1.5 -2.1,5.1 5.5,5.2zM1038.3,272l3.2-2.3 1.1-6.9 -8.7-3.9 -6.4,6.2 0,4.6zM1049.2,335.5l-2.2-2.2 -8.8,3.2 -0.7,1.7 0.8,1.7 6.9,3.7 3.5-2.2zM1001.6,211.2l-1.7,8.5 3,4.1 10.6-4.8 1.6-4 -3.3-5.1zM977.8,455.7l-3.9-0.4 -1.1,9.1 6.6,2 2.7-1.3 1.1-3.3zM1156.4,481.7l-3.5-3.4 -4.3,0.7 -1.9,2.7 2.3,5.1 5.7-0.2zM966.5,267.2l0.5-3.2 -9.7-3.3 -6.1,3.5 4.8,9.1 2.5,0.7zM1022.4,199.7l0.5-2.4 -6.7-8 -9,2 -1.8,4.8 7.3,8.2zM1110.8,426.9l0.3,2.8 4.5,3.3 2-0.4 2.3-4.8 -0.2-0.6 -6.8-3.3zM1098.5,351.9l1.5,3.6 4.8,0.9 2.8-3.1 -1.7-5 -5.8,0.2zM1087.6,331.5l7.4,2.6 2.4-6.6 -1.5-2.6 -6.3,0.1zM1182.1,237.2l-2.7,1.6 -5.1,1.1 4.3,3.4 1-0.3 2.8-5.4zM1140.1,415.7l5.9,1 1.7-2.4 -3.4-7.8 -0.5-0.1 -4.6,4.7zM1193.7,462.3l3.9,3.5 2.1-0.7 0.5-4.1 -2.7-2.2 -2.1,0.5zM1186.7,236.9l-4.3,0.7 -2.8,5.4 8.5,4.2 2.9-6.8zM1114.9,231l11.1,1.5 1.9-5.2 -4.3-6.7 -5.5-1.1zM1036.4,536.7l-1.3-0.3 -6.4,7.4 4.9,5.3 3.1,0.4 2.4-1.3 1.7-3.8zM950,372.2l5.4-6.7 -2.7-5 -7.5,0.4 -2.8,9.4zM1416.5,330.7l-7.4,2.1 -1.8,7.9 7.4,1.3 3.2-8.6zM1153.6,246.7l-4.9-0.8 -1.8,1.5 -1.3,6.3 3.6,4.1 4.6-0.9 1.7-7.4zM1087.3,322.3l-6.1,1.3 0.2,6.2 4.9,2.5 1.3-0.8 2-6.5zM1179.1,266.2l-3-1.3 -4.4,1.6 -0.5,8.3 1.2,1.4 7.3-0.5zM1251,308l-1.6,1.5 1.4,7.2 5.6,2.7 1.4-0.5 2.4-4.9 -3.2-6.2zM997.6,362.5l-4.4-7.7 -1.6-0.8 -0.5,0.2 -3.9,6.6 2,4.7 6.6-0.2zM1303.6,468.2l-5.3-3.8 -2.2,1.1 -0.7,5 3.8,2.3zM1057.7,440.3l-3.5-1.2 -4.9,5.9 2.7,6 5.1-0.7zM1230.1,284.2l-2.3,3.6 -0.1,1.6 2.1-0.2 1.8-2.9zM1141.1,458.1l-4.7,0 -3.3,4.9 5.1,4.8 6.4-6.8zM912,365.1l8.5,3.6 8.9-7.8 0.9-10 -6.6-4.6 -10.9,0.4 -4.2,11.7zM1172.4,450.2l-2.7,3.7 0.5,2.1 4.3,2.3 3.4-3 -3.7-5.4zM1087.3,285.6l-0.7,8.7 7.8,2.9 2.4-7.7 -4.3-5.2zM1080,322.9l-2-5.9 -6.7,1.9 0.1,4.7 3,1.9zM1087.9,181.1l-0.9-2.4 -0.5-0.1 0,5.4zM1232,318.3l-3.7-7.8 -2.4,0.1 -2,2.8 2.9,7.7zM1076,358.4l5.8-5.5 -3.2-4.9 -1.9,0 -4,4.3 2.2,6.3zM1254.1,441l-4.1,3.3 2.2,3.8 0.6,0.2 3.1-2.1 -0.1-4.3zM1306.6,585.3l-1.7-8.3 -1,0.2 -1.1,1.8 1.9,5.7zM1082.5,529.9l1.6-4.2 -2.4-5.1 -6.5-0.9 -1.5,2.2 3.2,8.2zM1021.3,308.7l2.9-5.1 -1.6-6.4 -3.5-2.4 -3,0.4 -6.4,7.8 4.7,5.5zM1198,402.4l5.1,2.3 1.5-6.5 -4.5-1.8 -2.6,2zM973,341.9l0,4.7 2.8,2 6.2-2.1 0.3-0.7 -3-7.3 -0.3-0.2zM1040.2,187.9l-11.1,0 0.7,5 5.3,1.6 5.5-5.3zM1043.4,292l7.9,0.8 2.8-6.9 -6.1-4.5 -7.5,3.7zM1081.2,323.6l-1.2-0.7 -5.6,2.6 0.6,6.7 0.9,0.3 5.5-2.7zM1312.2,546.7l-7-0.5 -0.8,2.2 3.4,4.4 3.5-3.5 1.2-2.1zM1172.1,249.8l-4.9-3.2 -5.1,4.7 1.7,6.8 2.1,0.4 5.5-3.4zM1378.4,319.5l-6.7,2 1.9,8.1 5.3-0.4 2.6-4.5zM1102.3,201.2l2.4,0.4 6.8-4.1 0-0.5 -9.8-1.7zM1113.8,420.1l4.5-1.1 1.6-4.4 -1.3-2 -3.6-0.3 -2.5,3zM1119,363.9l7,2.8 1.2-0.7 0.4-0.7 -1.1-5.5 -3.8-2.4 -3.9,2.8zM1041.9,316.8l-1.7-6.5 -5.8-1.5 -5.8,7.9 10.2,4.3zM1222.8,349.6l0.6-0.3 -0.2-3.7 -3,3.7zM1045.2,211.5l5,1 5.7-6.5 -2.6-7.1 -5.2-1.2 -6,5.2zM1314.7,668.6l-1.6-6.2 -6.3-0.7 2,4 1.1,4.9zM993.4,516.9l3.5-4.8 -1-3.2 -7.3-2.4 -1.7,2.9 3.1,7.7zM1174,394.8l0.4,3.2 0.6,0.4 8-1.1 0.2-2.2 -4.3-4.9 -2.4,0.4zM997.7,394.6l5.6,2.3 3.2-6.3 -6.8-5.6 -2.3,0.9zM1207.8,294.7l-5.2,7.1 3.2,0.9zM1187.5,454.2l-2.3,0.1 -0.9,4.2 3.8,3.5 0.5,0 1.6-4.9zM1062.7,239.2l6.4,0.7 4.2-4.5 -2.3-6.6 -5.5-1 -5.5,7zM1188.8,269.6l-3.8,7.3 6.8,2.5 2.8-1.9 0.3-6.8 -4-1.7zM1148.6,479l-3.3-6.8 -4.1-0.2 -2,7 2.8,3.3 4.7-0.6zM1216.2,388.3l2.4,4.5 4.2-0.9 0.8-3.1 -3.4-2.6zM1251.3,291.9l3.6,4 5.3-2.5 1.4-5.7 -3.2-4.1 -4.4,0.5zM1446.7,284.5l4,0 0.5-1.4 -0.4-2 -8.2,0zM1412.7,386.2l-3.8-2.4 -6.2,2.2 -0.6,0.9 2.3,4.2 3,1.2 1.2-0.3zM1209.6,366.8l-0.2,2.4 5.3,3.7 2.3-5.8 -0.9-1.6zM1122,393.5l-6.6-1.5 -1.1,5.5 2.2,2.1 6.5-0.9zM1447,325.3l-4.4-3.1 -6.2,5.7 0.7,3.7 7.1,2.1zM1130,294.2l-6.2-1.9 -3.2,2.8 1,7.6 10.2-1.2zM1342.6,358.7l-4.3,6.7 1.7,3.7 7.2-2 1.3-3.9 -2.5-4.8zM980.3,200.8l-3.4-3.4 -10.9,1.1 -0.3,0.5 3.5,11.9 9.8-0.1zM1006,419l0.3-0.6 -2-6.6 -7,1.3 0.4,6.3 2.1,1.6zM1159,465.5l4.1,3.1 3.2-1.1 1.7-4.2 -1.5-2.5 -4.2-1 -2,1.3zM1409.1,332.8l7.4-2.1 -3.1-8.2 -6.4,1.3 -2.4,5.6zM925.6,415.9l5.3,8 11-10.6 -9.9-6.8zM1407.2,371.1l2.2,6.1 4.7-0.5 1.4-5.8 -2.2-2.5 -3.4-0.3zM1182.6,449.3l0.6-0.9 -0.2-4.7 -3.9-2.2 -2.9,1.1 -0.2,5.6zM1404.2,312.6l0.9,1.4 5.9,0.7 4.2-5 -0.5-2.1 -8.7-3.2zM1036.3,489.6l1.6-0.1 4.7-5.1 -2.5-5.2 -6.6,2 -0.5,1zM1018.1,257.4l1.1,0 7.5-6.9 -4.9-8.7 -8.6,3.4 -0.8,5zM1204.1,548.1l3.2,7.4 3.9-2 0.7-5.5 -4.2-2 -3.2,1.4zM1100,355.5l-3.6,6.3 1.8,2.7 3.7,0.6 4.9-3.1 -2-5.6zM1300,372.2l5.1,1.8 3.4-3.4 -0.2-2.7 -4-1.4 -5.1,2.5zM1165.7,429.8l2.2-3.2 -1.3-4.4 -2.4-1.2 -3.9,3.7 1.8,5zM978.3,434.8l-8.5-0.8 -1.6,9.2 5.4,3.5 5.8-2.1 0.3-8zM1140.8,437.3l-4.6,5.1 2,3.9 5.9-1.6 1.4-3.6 -3.9-3.8zM1342,457.1l2.1-3.9 -2.2-3.4 -3.6,1.5 1,6.2zM1174,394.8l-5.4-2.7 -4.6,3.3 2.2,4.6 2.6,0.6 5.6-2.6zM1015,597.7l-3,6.6 8.5,4.8 3.5-1.6 -2.1-9.1 -3.9-1.6zM1368,447.6l2.3-1.5 0.9-2.8 -2.9-2.5 -3.6,1.2 -0.3,4.2 1,1.4zM954.2,204.4l-5.5-11.6 -12,4 -0.4,11 17.3-2.1zM1109.8,335.7l6-2.9 0.1-3.4 -4.9-2.4 -1.8,1 -1.2,6zM1064.8,344l-6.1,5.4 0.8,2.3 4,3.1 5.5-3.9 -0.6-5.1zM1079.8,419.7l-6.9,4.1 -0.7,3.2 6.9,2.9 2.7-1.7 0.9-5.9zM1048.7,397.5l3.5,4 4.2-1.2 2.6-7.1 -4.2-1.8 -6,4.9zM1219.8,474.9l-2.9,6.5 2.8,1.8 4.6-0.8 0-3.1zM1258.8,253.8l3.5,2.8 1.6-0.3 -3.5-5.9zM1372.6,351.7l-5.9-5.9 -5,5.1 4.8,5 5.5-1zM1000.6,362.1l-3,0.4 -1.8,2.8 1.6,7.4 1.2,0.5 4.9-1.1 2.7-5.2zM1486.4,349.1l0-1.3 -3.1-1.8 1.9,3.3zM977.8,328.6l-6-8.9 -1.5-0.3 -4.2,7.3 3.2,5.9 6.7-1.1zM1054.6,606.1l6.3-5.1 -6.8-9.2 -3.8,6.7zM1284.4,358.2l0.9-0.3 -1.2-0.3zM1420.3,384.4l-0.6,5.6 1.3,0.5 0.6-1.6 0.4-5zM1224.5,366.6l-3.3,1.7 -0.3,5.5 3.1,0.7 4.3-4.7 0-0.9zM1101.9,486.3l4.8,3.1 2.4-0.8 2.4-4.6 -0.4-1.4 -6.1-3.1zM972.8,464.4l-1.2,0.7 -1.6,8.2 6.1,2.1 3.3-9zM1396.9,323.1l-7.3,3.3 0.3,7 9.8-1.8 1-1.4zM906.4,403.7l-0.3-0.3 -13.3,1.2 -0.3,0.9 7.6,13.3 2.8-0.7 4-4.6zM978.8,190.5l6.2-2.6 -8.4,0zM1091.6,191l-1.1,7.8 10.4,3.2 1.4-0.8 -0.6-5.9 -7.7-3.8 -0.3-1.1zM1413.3,368.4l3.1-5.8 -4.9-3.2 -4.1,3.5 2.5,5.2zM1278.1,380.4l1.3-1.2 0.2-4.5 -4-1.6 -4.2,2.7 -0.2,0.5 1,2.5zM1064.6,208.4l-1.5-1.8 -7.2-0.6 -5.7,6.5 4.7,7.4 7-0.6zM1264.1,406l-2.7,4.6 4.8,3.3 1-0.2 2.5-2.2 0.2-2.3 -3.4-3.4zM1263.5,352.1l6.6-1.2 1.9-5.7 -2.1-2.1 -8.5,0.2 0.5,7.8zM1373.8,438.7l-0.7-1.9 -2.2-1.1 -2.6,1.8 0,3.3 2.9,2.2zM1408.4,408.8l3.2-5.4 -1.3-2 -2.6-1.3 -3.5,0.6 -1.3,3.5 1.2,1.1 1.6,2.6zM1002.7,533l-3.1,13 4.6,1.8 7.7-6.4 -1.1-4.3zM995.6,242.5l-7.2,6.7 3.1,6.5 10.7-1.8 -3.3-11.1zM1262.3,256.6l-3.5-2.8 -2.5-0.1 -4.4,6.6 0.5,0.5 1.7-2.4 7.8,1.3zM1356.4,420.3l2.4,4.1 0.7,0.2 4.2-3.5 -0.8-3.6 -5.3-0.1zM1078.9,391.2l0.1-1.6 -6.5-7.5 -2.2,0.9 -1.6,11.2 9.7-2.4zM1097.9,344l-3-0.5 -3.9,4.3 2.8,4.3 4.7-0.2 1.6-3.4zM835.2,346.1l10-11.7 -8.3-7.6 -12.1,5.5 -0.7,5.5zM1070.1,263l3.9-5.5 -5.5-5.9 -5.6,1.1 0.7,10.2zM1140.7,234.7l-0.3-0.3 -12.6,2.2 3.9,8.5 4.4,1 1.6-4 -2.7-1.6 5.1-4.2zM1146.6,333.2l-1-2.5 -7,1.5 0.9,5.7 4.8,0.8zM1234.1,375.6l1.4,1.7 6.1,1.1 1.8-1.5 -0.3-2.1 -5.3-3.7zM1295.4,385.2l6,3.4 4.4-3.1 -3.1-4.7 -1.2-0.2zM1079.1,429.9l-0.8,5.9 4.2,2.8 4.6-3.6 0.1-3.1 -5.4-3.7zM1130.7,346.4l-7.1-2.4 -0.7,1.2 1.7,6.8 5.1,0.1zM1281.6,306.8l1.4,7.4 0.9,0.6 2.5-0.5 -1.4-7.7 -0.3-0.2zM1180.6,319.8l-3.2-0.7 -5.5,4.8 3.9,7.2 7.6-5zM1047.1,327.3l-0.1,6 2.2,2.2 5.3-0.8 2.1-4.5 -4.3-6.1zM1039,559.6l-2.3-10.1 -3.1-0.4 -4.8,6.6 0.4,3.1 8,2.5zM1334.8,518.7l-1.5-3 -4.8-1.2 -2.3,7.2 6.9,0.5zM821.5,369.3l-19.6-6.9 -2.3,2.6 4.5,17.1 5.2,0.4 12.7-12.6zM989.2,365.5l-1.9,2.7 2.3,7.8 7.8-3.3 -1.6-7.4zM1283.2,579.7l-4.6-1.7 -4.5,4.8 0.5,3.3 7.6,0.6zM1216.5,396.8l2.1-4 -2.4-4.5 -2.4-0.4 -2.8,4.1 4.1,4.6zM1240.6,384.3l-5.2-0.8 -2.3,1.3 0,2.5 3.3,3.4 3.2-0.7zM1304.7,584.7l-1.9-5.7 -5.9,1 -1.6,5.6 5.6,2.4zM1239.8,329.5l-1.1-3.5 -2.4-1 -7.1,3.6 -0.6,2.6 6.4,4.1zM1254.8,452.5l-1.2,2.2 3.2,3.6 2.3-0.5 1.3-4.5 -1-1.4zM1184.5,469l-1.3-3.5 -2.6-0.9 -3.1,4.4 3.4,3.7 2.2-0.6zM989.5,376.1l-8.9-0.8 -3.6,4.9 2.4,4.8 2.5,1.1 7.7-7.5zM965.2,455.7l0.3-10.9 -6.7-0.3 -4.6,6 8,7.5zM1094.8,334.2l-2.5,5.8 2.6,3.5 3,0.5 3.3-3.8 -0.4-3.4zM1221.4,406.4l4.1,4.3 4.2-3.3 -3.7-5.2zM1004.9,356.5l-4-4.1 -7.7,2.4 4.4,7.7 3-0.4zM1045.2,343.6l-6.9-3.7 -2.6,8.7 8.1,2.7 1.5-0.6zM1086.1,216.5l-2.7,6.3 8.9,2.9 2.7-1.9 0.1-9.5zM1149,486.8l-0.9,2.6 4.1,5.3 2.8-1.2 1.3-4.5 -1.6-2.4zM1347.1,343.1l-1-6.7 -1-0.4 -7.9,5.3 0.2,4.1 3.3,2.8 2.2-0.1zM1135.4,428.3l-3.6-5.8 -4.1,1.7 -0.5,6.3 0.3,0.3zM1146.7,286.5l5.8,1.1 2.4-7.1 -2.7-3.3 -2.1-0.1 -5,3.9zM1010.1,348l-8-1.5 -1.2,5.9 4,4.1 3-0.2zM1162.1,429.7l-1.8-5 -4.8-1.1 -1,5.5 3.9,4.1zM1181.9,386l5.7,3.9 4-4.3 -0.6-2.3 -5.9-1.5 -3.2,3.6zM1030.6,293.5l-8,3.7 1.6,6.4 8.7,0.6 3.1-5.1zM1264.2,359.9l-0.7-7.8 -1.6-1 -4.8,1.9 1.3,6.5zM1080.7,367.5l4.4,5.3 4.2-3.1 -1.1-5.1 -3.7-2.1zM1268.2,401.3l-2.4-3.1 -4.9,1.6 -0.9,2.3 4.1,3.9 2.4-0.2zM1137.3,368.4l0.9-2.4 -4.1-3.2 -6.5,2.5 -0.4,0.7 5.3,4.6zM975.8,348.6l-0.3,6.8 4.2,1 4.8-4.2 -2.5-5.7zM1114.3,511.6l-1.5-7 -4-0.7 -0.9,0.5 -1.2,8.3 2.9,2zM967.9,263.3l2.6-10.6 -12.4-2.6 -0.8,10.6 9.7,3.3zM1240.8,395.2l4,1.5 0.6-0.4 1.8-5.4 -0.2-0.3 -6.5,0.3zM1140.7,260.4l-0.1-4.5 -4.1-2.7 -5.8,3.9 -0.4,2.3 3.6,5.4zM1344.1,334.3l0.5-6.2 -4.1,4.7zM1344.8,326.1l-0.8-0.6 0.7,1.8zM1407.7,400.1l2.6,1.3 4.2-6.5 -5.9-2.9 -1.2,0.3zM1109.7,371.2l7.4,0.7 -0.2-6.1 -6.1-1.3zM1072.6,343.9l4.1,4.1 1.9,0 2.4-3.4 -2.8-5 -5,2.1zM1378.6,441.8l-2.2,2.3 0.5,3.7 5.4-0.4 0.1-2zM1112.6,407.3l0.1-0.4 -5.1-5.9 -3.5,5.6 1.4,3.7 1.3,0.7zM1035.4,367.9l-7.5,4.6 2.7,5.3 5.3,0.9 2-9.4zM1454.5,281.1l-3.7,0 0.4,2zM1118.6,335.3l-2.8-2.5 -6,2.9 0.3,2.4 5.1,2.5 3-1.5zM1429.6,355.7l-3.1-2 -5.5,2.6 -0.2,2.8 5.3,3.5 3.8-1.6zM941.2,343l-9,7.5 10.4,5.5 8.4-5 -5.6-7.9zM1283.5,527.6l1.4-3.2 -3.8-3.6 -2.3,4.5 0.7,1.6zM1242.8,352l-0.3-0.5 -8.2,1.9 -0.6,1.7 2.6,3.3 3.5-0.4zM1372,354.9l-5.5,1 -1.4,4.9 6,3.3 2.2-7.3zM1170.6,266.1l-7.6,2.6 -0.9,3.6 1.4,2.6 7.7-0.1 0.5-8.3zM1241.7,315.8l3,5.1 6.1-4.2 -1.4-7.2 -3,0.5zM1260.4,277l0.4,2.2 9.3,0.7 0.7-2.3 -4-6 -1.6-0.8zM993.2,187.9l-6.8,0 4.3,2.4z" fill="#fef0d9" stroke="#63554b" stroke-width="0.55" stroke-linejoin="round"/>
<path d="M924.3,257l-3.9-17 -7.2-1.7 -11.2,8.2 4,14.2zM1113.8,357.4l-0.5-3 -5.7-1.1 -2.8,3.1 2,5.6 2.7,0.5zM664.8,418.4l-6.3,3 0.6,12.9 0.3,0.3 9.9-0.7 4.7-8.3zM1151.4,370.9l-2.7-3.1 -2.8,0.3 -3.5,7.3 7.8,0.8zM735.7,239.2l3.2,3 12.8-0.7 5.1-7.3 -0.1-4.1 -16.4-6.1zM793.4,457.6l-18.4-5.7 -5,3.4 -2.4,20.5 13,8.1 8.1-0.5 4.8-6.7zM1119,211l7.9-4.1 -0.4-3.1 -7.9-4.4 -2,0.7 -1.7,7.2zM1283.9,314.8l1,8.9 2.1,0.3 1.2-0.8 -1.8-8.9zM1510.2,233.8l10.4,7.7 0.4-0.2 0-7.6 -5.6-4.4zM767,426.7l-8.6-21.1 -20,9 -0.2,7.3 16.1,10.9zM1423.7,336.2l4.4-2.6 -0.9-9.4 -10.6,6.2 1.3,3zM1367.4,319l4.3,2.5 6.7-2 0.9-2.2 -3,1.8zM962.9,510.7l5.7,5.9 7.9-7.4 -0.4-1.5 -6.2-4.7zM1493.5,257.3l10.5,1 4.8-5.4 -4.6-11.1 -10.8,1.6 -2.7,9.6zM784.1,289l-12.4-9.7 -4.1,3.2 -2.2,13.8 9.2,3.3 6-2.5zM819.8,415.3l3,9.1 10.8,4 6.4-7.3 -2.1-6.6 -11.8-6.6zM1163.6,307.7l-2.2-6.3 -7-0.6 -2.5,4.4 5.1,5.8 2.3,0.2zM704.8,481.2l-5.2,11.5 3.8,7.3 6,0.9 7.8-7 0.6-10.3 -2.8-2.2zM673.1,199.4l-15.1,5.8 7.8,11.1 1.8,0.4 11-6.6zM809.3,264.7l6.6-14.2 -11.6-6.7 -10.4,6.1 -1.3,3.9 5.9,11.1 3.8,2zM919.4,210.5l16.1-1.5 0.8-1.2 0.4-11 -5.9-7.1 -16.6,6 0.2,8.6zM694.5,361.5l14.3,8.7 12.1-10.4 -0.3-6.6 -4.6-5.5 -14.5-2.7zM1179.6,243l-1,0.3 -2.7,5.2 4.9,4.3 7.5-4.4 -0.2-1.2zM839.9,358l2.6,1.1 15.8-5.6 1.2-14.6 -4.9-4.6 -9.4,0.1 -10,11.7 -0.4,3zM696.9,216.6l-12.1,3.8 -2.2,5.8 4.1,8.9 13-1.6zM939.4,310.1l-4.6-14.4 -7.6-1.7 -6.4,3.7 -1.8,19.8 11.3,4.7 5.8-4.7zM1104.2,560.2l-3.4,5.1 4.5,3.4 6-2 -1.7-4.3zM824.6,441.4l9.1-10.6 -0.1-2.4 -10.8-4 -13.3,9.4 3.5,5.1zM948.7,192.8l1.8-3.6 -0.4-1.3 -18.9,0 -0.4,1.8 5.9,7.1zM641.7,299.8l-4.6,1.3 -10.9,14.8 6.3,9.1 15.2-5.4 4.6-8.8zM850,507.5l-10.8,14.1 3.2,13.3 15.4,2.2 8.9-16.5 -0.3-2.8 -5.4-7.9zM808.7,283l2.3,12.7 14.6-3.9 0.5-6.3 -7.2-6.1zM1389.8,418.4l1.7,0.5 3.9-3.9 -2.3-4.5 -1.9-0.7 -4,3.3 -0.3,1.2zM1222.4,574.7l-5.9-5.2 -3.3,1.5 -1.1,2.5 1.9,3.6 7.5-0.6zM1012,604.3l-2.6,1.1 1,9.1 3.4,2 5-1.7 1.7-5.7zM834.5,315.5l2.4,11.3 8.3,7.6 9.4-0.1 2.9-15.2 -10-12.4zM940.8,395l-10.2,7.6 1.4,3.9 9.9,6.7 7.2-10.1 -1.8-5.3zM1078.3,435.8l-4.1,0.9 -1.6,6 1.5,2.9 3.5,1.1 5-6.8 -0.1-1.3zM1013.8,268.4l10.5,4.4 0.6-0.1 2.6-3 0-4.6 -8.3-7.7 -1.1,0 -4.8,5.8zM772.4,398.1l-13.7,6.5 -0.3,1 8.6,21.1 8.7,2.1 3.5-1.6 1.1-23.9zM1288.7,453.3l-1.1-3.1 -3.8-1 -1.6,1.2 -0.1,5.4 4.3,1.1zM912.3,426.6l-7.1,9.8 7.8,6.4 6.4-4.9 -0.1-9.4 -3.8-2.4zM710.7,445.3l-7,1.8 -5.2,12.4 2,2.1 16.3,2 2.4-1.9 -0.4-11.8zM1331.3,426.9l-2.9-3.2 -2.6,1.1 -1.3,2.2 1.2,3.5 3.9,0.9zM1184.1,428.4l-3.3-5.4 -5.5,4 4.4,4.3zM1036.4,442.3l-2.2-5.2 -3.7-1.6 -1.3,0.9 -2.3,7.9 4,3.1 4.5-2.3zM1049.4,645.6l0.4,2.5 4.3,2.8 -1.4-6.4 -0.1-2.1zM1489.9,294.3l-3-1.3 -11.1,8.4 -0.3,0.7 2.1,6.5 6.8,1.6 9.7-3.7zM736.6,383.7l-22.9,2.8 0,20 18.6,0.8 5.7-22.2zM985.3,414.4l-7.1,0.1 -3,6.8 7,3.5 5.1-8.4zM762.4,375.1l-15,11 11.3,18.5 13.7-6.5 1.1-12.8zM1128.1,390l-2.3-0.7 -3.8,4.2 1,5.2 0.6,0.5 5.8-2.2zM621,335.1l3.1,12.5 5.2,2.3 5.5-1.4 3.4-10.3 -6.3-9.6zM860.6,251l5.2-0.5 9.3-17.6 -1.5-2.6 -19.8,0.7 -0.8,0.8 2.3,14.9zM702.2,194.5l-13.5,2 -0.8,8.8 11.2,7.7 4.8-2.3 3.3-10.7 -2.3-4.1zM1247.2,390.9l5.2,0.7 2.2-2.6 -0.2-4.8 -7.5,0.5 -0.7,0.7zM1104.9,287.8l-8.1,1.7 -2.4,7.7 7,2.9 4-1.2zM701.6,253.7l9,12.8 12.9-8.3 -2.9-9.2 -5-2.8zM913.8,319l-10.8-4.5 -15.8,7.3 8.3,17.5 10.9,1zM1076.4,257.2l-2.4,0.3 -3.9,5.5 5.2,7.7 3.3-1.1 3.6-6zM1065.3,590.9l1.4,6.9 5.5,0.8 3.1-2.4 0.1-7.7 -4.7-2.4zM667.9,233.2l-10.5-2.1 -4.7,11.8 13.1,3.1 5.5-5.9zM854.6,264.7l6-13.7 -5.3-4.3 -15.5,3.5 4,15.7zM871.6,285.3l-7.4,3.1 -1.3,8.7 14.2,13.5 7.9-12.1 -1.7-7.4zM878.9,408.2l7.2,2.5 6.4-5.2 0.3-0.9 -0.8-2.1 -11.6-5.1 -3.4,2.4zM912.8,346.7l-6.4-6.4 -10.9-1 -10.1,10.2 -0.7,7.5 2.6,3.2 7.6,2.1 13.7-3.9zM803.8,417.2l-5.8-0.9 -16.1,11.1 14.5,10.7 12.8-4.5zM683.8,371.8l9,15.2 15.7-5.4 0.3-11.4 -14.3-8.7 -1.4,0.3zM653.1,196.8l5.7-7.8 -0.1-1.1 -10.6,0 3.8,6 0.2,2.6zM883.3,291.1l1.7,7.4 15.4,1.3 6.4-7.4 -1.1-5.3 -14.3-7.1zM976,331.5l-6.7,1.1 -3.1,4.9 6.8,4.4 6-3.6zM1296.9,580l-2.6-2.9 -6.8,1 3.7,9.5 4.1-2zM754.3,432.8l-16.1-10.9 -9.4,9 1.8,11.6 4.8,3.7 15.5,0.1zM814,191.3l16,9.6 5.7-5.5 1.1-7.5 -22.2,0zM1131.3,483.4l-2.2-0.1 -4.7,3.6 0.8,3.7 4.2,2.9 4.3-1.7 0.2-5.6zM1188,516.9l1.5,1.9 6.2,1.6 1.4-5.8 -4.4-3.2 -1.6,0.3zM1066.8,360.5l-1.6,10 8,1.4 2.3-3.9 -1.9-7.8zM1322.2,488.1l2.9-1.2 2-4.9 -6-2.7 -0.4,0.2 -2.5,4.7 0.2,1.2zM759.6,298.4l-9.3-6.1 -10.9,5 0.3,10.4 10.1,1zM667.7,296.8l-13.8,13.8 15.7,10.1 11.1-13.7zM1241.7,315.8l-3.3-0.9 -5.3,3.7 3.2,6.4 2.4,1 5.8-5.2zM1087.9,411.8l2.1,1.1 6.1-5.2 0.5-3 -3.6-3 -7.2,0.8zM810.7,454.9l-16.7,2.2 -0.6,0.5 0.1,19.1 27.6-1.6 2.7-2.5 -1.1-9.8zM1448.5,325.1l4.1-3.7 0.1-3.7 -4.8-3.7 -5.2,3.3 -0.9,2.6 0.8,2.3 4.4,3.1zM954.2,378.2l11.7-2.3 0.2-1.2 -3.1-8.6 -7.6-0.6 -5.4,6.7zM939.4,390.7l1.4,4.3 6.5,2.8 7.1-7.7 -2.3-6.7 -8.8,0.2zM756.7,254.3l4,8.6 2.1,0.6 14.8-6.4 -5.9-11.1 -14.8,7zM1023.6,237.7l-1.8,4.1 4.9,8.7 5.6,0.7 4.5-3.9 1.1-7.3 -2.7-3.9zM964.9,348.4l0.7-10.6 -6-0.9 -3.8,3.6 1.2,5.7zM1099.6,511.7l-8.2,0.7 -1.9,2.6 2.2,3.8 8.4,2 1.2-7.4zM973.4,293l4.1-2.9 -0.8-10.5 -1.8-1.6 -2.3-0.3 -9,5.5 2,9zM922.2,376.5l-5.8,6.4 0.6,6.5 0.8,1 6.8,2.1 7.1-5.8 -0.8-8zM753.7,195.2l-17.9-3.6 -1.5,1.6 2,13.2 5.9,5.3 6-1.9 6.4-13.1zM1229.3,368.2l1.9-5.8 -3.3-4 -3.8,2.2 -0.3,0.7 0.7,5.3 3.8,2.3zM885.4,349.5l-15.8-11.9 -10.1,1.3 -1.2,14.6 3.5,4.3 11.5,2.6 11.4-3.4zM1507.5,268.6l-10.5,7 7.7,13.6 1.1,0.3 6.8-2.4 1.2-15.9zM996,590.5l4.3-7.2 -3.7-8 -7.1-1.5 -6.8,7.2 6.3,8 2.3,2.1zM1181.7,339l-6-7.6 -6.7,3.9 0.6,6.3 2.2,2.3zM854.5,209.8l0.3-5.6 -19.1-8.8 -5.7,5.5 -0.2,0.8 8.8,14.1zM1397.5,321.3l-4-6 -5.6,2.9 -0.6,6 2.3,2.2 7.3-3.3zM1146.6,333.2l-2.3,5.5 0.9,1.7 6.7,0.3 2-4.1zM1357.1,501.8l1.8,3.7 3.3-0.6 0.6-1.4 1.9-1.5 0.4-1.2 -4.6-3.8 -2.2,1.4zM1053.8,591.9l4.3-3.6 0.1-5.2 -1.9-2.7 -5-1.6 -4.7,5 0.9,5.1zM1166,489l2-2.7 -1.6-4.5 -5.2-0.3 0.9,6.9 1.1,0.9zM1347.5,444.9l-1,2.8 1.8,3.7 4.5-1 0.4-0.5 -0.2-2.4 -2.7-2.8zM947.6,425.9l8.2,8.7 6.6-3.4 -3.4-13.4 -10.1,3zM1066.4,194.4l-6.7-1.5 -6.4,6 2.6,7.1 7.2,0.6zM1162.3,451.6l7.4,2.3 2.7-3.7 -4.8-6 -2.4,1.1zM1189.7,333.6l5.9-1.2 3.3-4.8 -1.2-4 -5.3-2.3 -5.7,5.8zM1029.6,398.2l1.5-0.8 0.6-2.6 -5.6-8.1 -5.2,4.3 -0.5,4.2 1,1.5zM1090.5,198.8l1.1-7.8 -5.1-4.4 0,1.3 -4.6,0 -2.5,10.4 10.6,0.9zM1439.9,306.1l-1.9,3.7 4.7,7.5 5.2-3.3 0.5-3.9 -4.8-4.5 -2-0.3zM640.2,239.1l-4.3,10.4 5.3,7.9 9.3-1.6 1.8-12.7zM1155.3,272.5l-3.1,4.7 2.7,3.3 7,0.7 1.6-6.3 -1.4-2.6zM1137.6,350.5l-0.8-3.7 -4.8-1.2 -1.3,0.8 -1,5.7 2.3,2.4zM1211,392l-3.1,0.6 -1.4,4.7 4.1,3 4.5-3.7zM1300,397.2l-4.5,3 -0.3,3.3 3.3,2 4.1-2.1 0.6-3.9zM927.8,538.4l-5.3-2.4 -9.7,6.8 4.3,17.2 16.1-3.4zM1347.5,436.6l-0.1-0.7 -4.1-2.4 -3.9,2.1 -0.7,1.5 1,1.5 6.3-0.1zM857.5,282.8l-12,1.6 -2.3,12.7 4.5,8 15.2-8 1.3-8.7zM1296.6,644.3l2.2,8.7 6.3,0.3 2.9-2.7 -1.6-6.2zM1433.4,336l-5.3-2.4 -4.4,2.6 0.9,8.3 1.8,0.8 1.8-0.3 5.6-6.3zM1050.3,598.5l3.5-6.6 -6.3-3 -5.5,3.8 3.2,6.6zM1141.6,323.3l-6,2.5 -0.3,0.6 1,4.4 2.3,1.4 7-1.5 0.6-1.6zM788.7,483.4l10.6,17.8 17.3,1 4.5-27.1 -27.6,1.6zM925.7,257.9l11.8-2.5 1.7-15.1 -12.6-5.7 -6.2,5.4 3.9,17zM1261.9,544.4l0.1-2.6 -0.3-0.5 -4.9-1.3 -1.9,2.4 2.2,4.4zM682.8,478.6l0.4-8 -9.3-11.2 -0.5-0.1 -8.5,7.5 6.7,9.2 4.7,4.2zM1261.7,419.3l-1.7-0.2 -2.8,1.9 0.8,4.1 3.3,1.9 3.4-3.6 -0.1-1.1zM1195.2,345.5l-5.8,2.6 -0.8,3.8 4.9,6.3 3.7-1.3 1.7-6.5zM930.5,323.1l-6.8,23.2 6.6,4.6 1.9-0.4 9-7.5 -1.5-11.7zM1229.6,543.4l-2.4-1.3 -5,1.9 -1,2.5 3.3,3.1 5.6-1.2zM1431,299.6l9-6.6 -0.1-0.5 -6.2-6.6 -1.3,0.3 -5.2,7zM911.4,277.6l13.9-1.2 1.5-1.8 -1.1-16.7 -1.4-0.9 -18.3,3.7 -1.6,2.4zM1294,387.7l-6.6,2.2 -0.6,1.4 2.1,4.4 3.6,0.4 3-3.5zM963.2,189.5l2.8,9 10.9-1.1 1.9-6.9 -2.2-2.6 -12.6,0zM1192.5,406.5l4.2,5.5 4.8-1.5 2.3-4.5 -0.7-1.3 -5.1-2.3zM747.1,465.8l-11.9,1.4 -3.4,14.5 12.6,12.9 1.9-0.5 11.7-16.4zM995.7,291.2l1.3,4 4.8,0.4 7.3-7.1 -0.1-4.5 -9.5-2.7zM891.3,490.5l1.4,7.4 11.3,0.8 8.8-12.5 -4.8-7.6 -7.8-0.4zM1340,369.1l-1.7-3.7 -5.7-2.2 -3.9,6.6 3.9,4.7 7-3.8zM1112.8,528.8l-3.2,5.8 1.4,2.8 7.6-1.3 -0.9-6zM1008.4,524.3l0-1.4 -5-3.8 -5.6,2.3 -1.4,6.4 1.5,3 4.4,1.4zM1360.8,496.2l5.3-2.5 -2.1-6.3 -3,0.6 -1.9,2.7zM1042,452.3l-0.7,1.4 1,5.2 8.7,1.5 0-8.3zM1127.7,236.5l-1.7-4 -11.1-1.5 -1.6,1.3 0.9,7 6.1,3.1zM1382.1,357.1l3.4,0.2 5.5-7.8 -0.1-1.3 -5-2.6 -5.9,3.1zM1398.4,302.9l-4.1,7.6 0.1,0.5 9.8,1.6 1.8-8.2 -1.6-3.2zM1003.8,260.8l-5,7.3 1.8,3.1 9.7,1.2 3.5-4 -0.5-5.2zM886.1,410.7l-0.1,9.2 14.1-1.1 -7.6-13.3zM1007.1,498.8l0.9,0.2 6.7-3.6 1.2-3.1 -1.3-2.1 -8.2-1.2 -2,3zM1227.9,358.4l0.4-0.9 -3.6-7.6 -1.3-0.6 -0.6,0.3 -3.3,6.2 4.6,4.8zM1176.4,561l-3.2,1.6 -1.8,5.2 5.9,2.8 2.9-3 -0.5-5.9zM1121.6,302.7l-3.2,4.4 1.5,4 7.3,1.2 5.6-3.3 -1-7.5zM837.1,239.6l-10.1-5.3 -3.4,1.5 -4.2,14.1 6.3,3.5 12.6-4.1zM1076.8,200.1l-9.5-6 -0.9,0.3 -3.3,12.2 1.5,1.8 5.4,0.4 6.8-8.2zM1037.9,240l-1.1,7.3 12.3,7.7 4.6-4.9 -5.7-10.6zM1072.9,423.8l-5.3-6.1 -3.2,1.5 -2,8.3 9.4-0.1 0.4-0.4zM954.4,390.1l3.7,0.8 7.9-5.2 0.6-8.7 -0.7-1.1 -11.7,2.3 -2.1,5.2zM1206.5,495l0.5-2.4 -4.4-3.3 -4.3,1.9 -0.2,0.8 3.9,5.7zM941.9,413.2l7,7.6 10.1-3 1.4-1.5 -2.7-10.1 -8.6-3.1zM997.6,451.9l6,5.3 3.9-1.8 1-2.5 -1.9-4.3 -6.7-0.7zM1383.2,374l-2.9-2.7 -7.1,3.9 0.1,1.4 5.9,5.5 2.8,0.3 0.6-0.3zM1078.7,315.4l5.4-2.3 1.3-6.1 -5.1-4.5 -4.8,1.4 -2.6,4.3zM923.7,346.3l6.8-23.2 -0.2-0.9 -11.3-4.7 -5.2,1.5 -7.4,21.3 6.4,6.4zM653.9,310.6l-1.6,0.2 -4.6,8.8 5.5,13.7 17.5-2.5 0.7-1.2 -1.8-8.9zM1241.7,286.8l8-5.7 -0.8-3.4 -6.4-1.3 -1.9,4.7 -2.2,3.5zM1237.5,280.9l-0.1,3 0.6,0.4 0.6-4.6zM1233,400.6l-5.7,0.4 -1.2,1.1 3.6,5.3 2.1,0.3 3.1-3.5 0-1.2zM793.7,194.2l-1.8-6.3 -20.2,0 -2.5,11.3 0.7,1 19.1,0.4zM883,387.3l11.9,5.2 4.8-2.8 0.3-3.9 -4.8-6.5 -4.3-0.5 -8,8.1zM673.4,459.3l-6.5-9.6 -3.3-0.7 -2.6,2.8 2.3,1.9 -2,3.6 2,7.3 1.6,2.2zM1361.1,458.3l-1.4,3.8 3.3,4.6 2.5,0.2 3-2.3 -0.5-2.9 -4.5-3.6zM1194.8,387.5l4.1-2.2 0.1-5 -4.7-2.8 -3.3,5.8 0.6,2.3zM952.5,509l-1.2,0.3 -2.9,13.3 6.6,4.2 12.8-4 1.3-1.5 -0.5-4.7 -5.7-5.9zM1355,318.6l7.5,4.1 4.9-3.9 -12.3-1.2zM1120.3,574.7l4.2,5.6 3.4-0.6 3.3-7.4 -0.2-0.5 -7.1-1.7zM1475.8,301.4l11.1-8.4 -3.6-10.1 -4-2.4 -0.6,0.1 -6.8,5.1 -1.3,5.7zM1048,281.4l1.8-6.9 -8.3-4.8 -3.2,2.3 -0.8,11.7 3,1.4zM983.1,426.9l-4.8,7.9 1.4,1.8 9.7,1.7 1.2-3.5 -4.6-7.1zM1172.4,347.7l-0.6-3.8 -2.2-2.3 -8.4,2.5 -0.5,1.1 5.1,7.3 1.1-0.1zM1132.8,309l3.3,1.9 8.3-5.9 -2.9-6 -9.7,2.5zM1157.4,550.4l-1.8,6 3.8,1.9 3-0.8 1.9-2.9 -1.4-5zM1390.8,484.8l-0.5,0.1 -0.4,3.9 4.4-2.2zM1191,240.4l-2.9,6.8 0.2,1.2 3,3 2.4,0.6 3.5-1.1 1.8-8.5 -2.6-3.4 -4,1.5 0.2-0.7zM1231.6,286.3l5.8-2.4 0.1-3 -1.5-1.9 -5.3,4.3 -0.6,0.9zM1052.7,310.1l-3.7,6.2 3.4,7.4 8.6-4.1 0.6-1.9 -3.7-7.1zM845.5,284.4l12-1.6 1.8-12.6 -4.7-5.5 -10.8,1.2 -5.2,5.5 0.2,5.6zM1362.9,338.3l-5.6,1.7 -2.8,7.5 6.7,3.5 0.5-0.1 5-5.1 0.4-2.4zM773.5,385.3l-1.1,12.8 7.9,5.2 11.1-2.2 4.4-5.4 0-7.3 -10.5-7.3zM1451.2,283.1l-0.5,1.4 0.5,0.8 9,3 3.2-4.6 -0.9-2.8 -0.3-0.2 -0.1,0.4 -7.6,0zM875.6,269.4l-16.3,0.8 -1.8,12.6 6.7,5.6 7.4-3.1zM1290.7,374l-3.3,2.5 -0.7,4.5 6.8,1.6 1.4-5.9zM1414.7,307.6l0.5,2.1 8.2,4.4 3.9-3.9 -0.5-5.8 -8.4-3.4zM1141.6,437.3l3.9,3.8 4.3-0.8 1.3-3.5 -3-5.5 -3.3,0.4zM988.4,249.2l7.2-6.7 -5.3-6.3 -9.2,3.2 1.7,8.3zM979.4,385l-2.4-4.8 -10.4-3.2 -0.6,8.7 5.7,5.5zM1394.8,438.2l0.2-0.6 -1.9-2.9 -1.7,3.1 0,2.7zM1337.4,345.4l-0.2-4.1 -3.7-2.4 -5.5,3.6 -0.4,4 2,2.8zM1104.7,201.6l-2.4-0.4 -1.4,0.8 -3.8,10.4 9.2,3.5 3.3-7.5zM1202.6,301.8l-1.6,1.9 0.1,7.1 3.3,0 1.4-8.1zM1089.7,390.1l-0.3,1.8 4.9,4 5.2-2.4 0.3-3.3 -6.2-3.5zM851.5,398.8l4.6,19.3 11.4-3.1 -1.2-13.9zM1390.3,484.9l0.5-0.1 4.3-5.1 -0.2-1.9 -4.9-1.2 -2.9,2.8 0.7,4.3zM1184.3,411.1l-1.7-6.2 -5.4,0.4 -1.6,2.1 0.4,3 3.7,3zM1416.1,297.6l-2.1-9.7 -5.5-0.4 -2.9,10.8zM1415.5,394.6l2.8,2.9 2.7-7 -1.3-0.5 -2.2,0.7zM760.1,333.9l-9.4-1.3 -3.5,19.4 2.8,4.6 4.6,1.2 11.9-13.8zM1293.3,546.4l3.1,3.4 3.1-0.5 -0.3-5.8 -0.5-0.5zM1325,472.3l1.8-3.7 -2.1-4.6 -6.5,1.1 -0.2,0.5 1.5,5.3zM1078.8,399.9l-0.4-8.1 -9.8,2.5 4.1,6.7zM779.7,317.1l-5,9.4 5.2,9.3 4.7-0.6 7.1-10.5zM1471.4,331.9l-3.8-2.2 -6.3,2.4 0.4,10.2 2,0.3 6.8-4.8 1.3-4.9zM1133.6,418.2l-1.8,4.3 3.6,5.8 1,0.3 3.4-1.6 0.7-1.8 -3.8-6.9zM1092,427.7l-4.8,4.2 -0.1,3.1 5.7,3.3 4.4-5.2 -2.5-5.1zM1238.4,440.4l4.2-1 0.4-0.5 -0.3-2.7 -3.7-1.8 -2.6,2.6zM765.8,326.4l-5.7,7.5 6.4,10.1 7.3,0.3 6.1-8.5 -5.2-9.3zM1092.3,225.7l-8.9-2.9 -2.1,1.1 0.9,10.2 9.7,0.5zM1082.7,422.3l-0.9,5.9 5.4,3.7 4.8-4.2 -4.2-5.8zM1196.7,480.9l2.9-4.4 -1.6-3.7 -5.6,1.6 0.7,5.9zM1389.1,470.5l5.5,0.8 1.7-1.5 -1.6-5 -1.9-1.2 -2.1,0.6zM1175,577.7l0.2,2.8 0.4,0 -0.2-0.4 3.2-2.4 5.7-1.3 0-0.7 -6.5-1.5zM1146.4,348.8l3.7,4.6 5.5-0.9 1.2-5.6 -4.1-2.7zM1361.9,328.8l2.4,3.3 7.7-0.8 1.6-1.7 -1.9-8.1 -4.3-2.5 -4.9,3.7zM824,370.7l7.9,10.4 9.7-1 5-5.2 -4.1-15.8 -2.6-1.1zM1136.6,225.4l-8.7,1.9 -1.9,5.2 1.7,4 12.7-2.1zM792.5,306.1l-13.2,9.2 0.4,1.8 12,7.6 6.5-1.6 2.7-6.6 -6.8-10.4zM979,210.8l-9.8,0.1 -5.6,7.2 0.3,1 5.3,4.7 9.2-0.4 1-12.2zM895.1,216.4l2.5-5.4 -7.2-16.1 -2.2-1 -8.6,4.1 -2.2,5 0.8,12.5zM993.1,498.7l-4.7,5.7 0.2,2.1 7.3,2.4 4.7-6.2 -4.7-4.4zM1264.4,302.9l0.9-5.7 -5.1-3.8 -5.3,2.5 4.5,8.4zM1195.4,260.3l-4.1,2.4 -0.4,6.3 4,1.7 5.1-1.8 -0.8-7zM1199.2,261.9l0.8,7 0.6,0.3 7.5-1.5 0.2-7.4 -3.9-2.5zM1277,306.5l3.6-0.5 0.4-3.2 -1.1-1 -4.8,3.2zM667.7,296.8l-0.6-6.8 -6.9-4.1 -16.7,7.4 -1.8,6.5 10.6,11 1.6-0.2zM1251.4,371.8l1.2,3.4 6.5-1.3 -0.1-6.1 -2.7-1.4 -4.1,2zM1301.3,593.2l1.2,1.2 6.1-0.3 0.8-1.2 -2.8-7.6 -1.9-0.6 -3.8,3.3zM1295.3,585.6l-4.2,2.1 0.6,6.5 9.6-1 -0.4-5.2zM1012.9,426.5l-4.6-0.8 -3.1,2.5 0.5,6 7.3,0zM1259.2,580.1l2,1.8 3.2,0.4 0.5,0.4 3.9-3.3 -0.2-3.1 -1.4-1.8 -1.7-0.7 -3.8,0.4zM857,436.1l-13,7.2 -1.8,7.1 9.1,10.2 7.8-2 6-11zM999,280.3l1.6-9.1 -1.8-3.1 -5.7-1.2 -4.8,4.1 -0.4,8zM1473.5,348.8l2.3,5.3 2.7,1.1 6.2-3.1 -6.7-0.4 -2.6-5.6zM1485.2,349.3l-1.9-3.3 -0.6-0.3 2.1,5.6zM1167.5,409.4l3.2-2.8 -1.9-6 -2.6-0.6 -4.5,5.1 -0.2,1.9zM1018.9,230.1l4.7,7.6 11.6-1.6 1.6-9.5 -9.3-3.3zM1378.9,329.2l-5.3,0.4 -1.6,1.7 3,8.7 9.8-3.6zM1140.3,485.3l-6.4,0.9 -0.2,5.6 4.8,3 2.8-0.8 0.9-2zM1251.9,260.3l4.4-6.6 -1.9-1.8 -8.3,0.3 -1.8,2.5 1,2.4 2.4,0.2 3.4,3.2zM978.7,265.5l2.9-5.3 -4-7.9 -6.4-0.2 -0.7,0.6 -2.6,10.6zM798.2,323.1l6.7,11.5 1.7-0.1 11.5-9.1 0.1-1.9 -9.1-9 -8.2,2zM1246.1,582.7l-1-0.1 -4.2,2.8 1.2,3.9 5.4-0.9zM1241.9,295.4l-9,1.5 -1.5,2.8 1.7,6.5 3.1,1.1 4.1-1.3 3.2-6.8zM971.2,252.1l-1.5-13.9 -2.2-1.2 -8.4,1.2 -3.9,5.6 0.1,2.5 2.8,3.8 12.4,2.6zM1248,576.6l-1.9,6.1 8,0.1 2.1-2.5 -3.4-5.5zM1243.1,374.8l2.2-3.1 -1-3.4 -2.8-1 -3.7,3.8zM670.7,330.8l0.5,8 10.3,9.1 12.1-9.1 -7.7-9.7 -14.5,0.5zM1042.3,458.9l-2.7,4.4 2.3,5.8 6.8-1.1 2.8-3.8 -0.1-3.3 -0.4-0.5zM965.6,349.3l-0.1,3.2 6.8,4.8 3.2-1.9 0.3-6.8 -2.8-2zM948.9,321l7.3-2.9 1.4-3 -10.6-6.8 -7.6,1.8 -3.3,7.4zM1127.4,376.2l-3.8-3.9 -5,1.2 -1.5,5.5 1.7,1.4 7.5,0.1 0.5-0.4zM1056,363.6l8.6-4.8 -1.1-4 -4-3.1 -6.4,6.5zM675.9,259.6l-0.1,9.3 5.6,7.8 9.9-5.2 2.4-16.5 -8.8-3.5zM988.3,271l-8.5-2.6 -4.9,9.6 1.8,1.6 10.4,0.1 0.8-0.7zM794,457.1l2.4-19 -14.5-10.7 -2.7-0.2 -3.5,1.6 -0.7,23.1 18.4,5.7zM1108,473.2l5.7,0.9 2-5.8 -3.9-4.4 -1.4,0.3 -3.6,6.1zM1132.5,502.5l-3.8-3.4 -4.9,0.9 -1.4,7.2 0.7,1.5 1,0.5 7.9-4.1zM1484.7,352.1l-6.2,3.1 0.2,0.4 7.4-1.7zM769.2,199.2l2.5-11.3 -17.6,0 -0.4,7.3 0.9,1.5zM1205.8,348.5l-1.5-5.2 -3.7-2.6 -4.9,3.7 -0.5,1.1 3.7,4.9 5.6-0.1zM1002.6,228.4l3.7,6.1 12.6-4.5 -5.4-11 -10.6,4.8zM728.8,430.9l9.4-9 0.2-7.3 -6.1-7.3 -18.6-0.8 -3.9,3.6 4.2,16.9 0.8,0.7zM930.9,423.9l-0.1,2.4 1.7,2.5 9.5,1.1 5.6-4 1.3-5.1 -7-7.5zM1463.7,342.6l-2-0.3 -2.1,1.1 -1.6,5.3 1.3,3.4 4.4,2.4 0.3-2.4 0.4,2.7 5.1-6.1zM659.1,434.3l-0.6-12.9 -7.3-2.4 -5.3,3.2 -0.2,8.2 6.8,2.8 -0.6,1 0,0.6zM1249.1,497.9l-2.3,3.4 1.6,3.6 2.5-0.3 3-3.4 -4.3-3.3zM977.8,328.6l-1.8,2.9 3,6.8 0.3,0.2 7.3-2.4 -0.2-5.1 -6-3.3zM1260.9,335.6l-3.4-4.1 -6.2,3.5 2,8.2 6.3-1.2zM1401.5,426.1l-0.4,0.4 -1.1,5.1 0.5,0.7 2.9-6.2zM1245.5,332.8l-5.7-3.3 -4.8,5.8 0.2,1.8 3.4,2.7 4.7-1zM1099.2,417.4l0.9-4.3 -4-5.4 -6.1,5.2 1.4,3.7 5.5,1.7zM1097.2,433.1l-4.4,5.2 0.4,3 4.4,2.9 4.4-6 -1.8-4.2zM1251.7,399.3l0.1,1.2 5.3,3.1 2.9-1.5 0.9-2.3 -2.2-3.4 -5.2-0.5zM1060.2,570.4l-7-1.2 -3,6.8 1.1,2.8 5,1.6 5-8.7zM1242.4,361.7l3.1-0.6 0.1-7.5 -2.8-1.6 -3,6zM667.1,254.8l-11.6,5.7 1,10.9 19.3-2.5 0.1-9.3zM1281.6,306.8l-1-0.8 -3.6,0.5 -3.4,4.8 2.4,4.9 7-2zM1317.1,367.5l-0.4-6.8 -1.3-1 -5.1,2 -0.5,4.9zM1041.7,411.3l3.6-5.3 -2.3-4.7 -2.8-1 -3.4,1.4 -1.3,6 5.3,3.9zM1243.4,455.4l2.9-4.8 -0.7-0.9 -5.3-1.2 -1,4.5 1.8,2.9zM1307.7,454.3l-1.2,1.4 4.2,5.5 2.1-1 1.1-4.6 -1.4-1.9zM1352.4,471.1l0.6,1.5 4.2,1.6 2.3-1.6 0-3.2 -4.8-2.5zM810.7,454.9l12,7.9 6.6-8.8 -4.7-12.6 -11.6-2.5zM693.7,255l7.3-1.5 -0.7-19.7 -0.6-0.3 -13,1.6 -4.2,6.7 2.4,9.7zM924.6,392.5l-6.8-2.1 -3.2,11.8 3.9,3.3 11.2-3.4zM945.2,360.9l-2.6-4.9 -10.4-5.5 -1.9,0.4 -0.9,10 9.4,10.9 3.6-1.5zM1084.8,353.4l-3-0.5 -5.8,5.5 8.5,4 2.2-6.6zM785.3,381.1l10.5,7.3 8.3-6.3 -4.5-17.1 -12,2.6zM1095.9,324.9l2-4.2 -5.2-4.9 -4.7,1.5 -0.7,5 2.3,2.7zM1141.6,292.1l1.1,3.3 10.2,0.1 2.2-3.9 -2.6-4 -5.8-1.1zM1237.2,252.1l2.2,2.4 4.9,0.2 1.8-2.5 -1.2-8 -2.2-1.5 -5.1,2.1zM1155.6,393.1l3.7,3 4.3-0.9 -2.2-7.3 -5.1,1.2zM1040.5,298.3l2.9-6.3 -2.9-6.9 -3-1.4 -5.5,1.5 -1.4,8.3 5.4,5.6zM632.1,223.2l-7.5-1 -2,2.6 1,2.4 2.6,10.1 11-3.2 0.3-1.3zM1222.4,574.7l-0.9,1.8 4-0.3 4.3,1.9 0.4-0.8 -5.4-3.4zM716.8,511.7l0.5,1.6 4-0.2 7.1,5.5 4.8,4.9 0.4,1.5 6.1-3.2 -3.2-15.7 -5.6-0.6zM1518.9,269.1l11.1,9.3 1.3,0 -4.9-4.1 0-6.8 -3.9-5.7zM1032.7,574.8l-6.2,5.1 5.8,6.3 3.6-0.8 3.7-4.5 -0.4-2.7zM1201.1,310.8l-0.5,0.8 2.4,6.8 1.4-7.6zM1112.7,380.6l2,9.6 5.5-4 -1.4-5.8 -1.7-1.4zM1349.1,354.2l5.4-6.4 -7.4-4.7 -4.2,5zM1104.6,321.9l4.5-4.1 -3.7-5.3 -2.9-0.4 -4.6,8.6zM938.8,371.8l-9.4-10.9 -8.9,7.8 1.7,7.8 8.7,2.2 7-4.7zM1357.5,359.7l3.7-8.7 -6.7-3.2 -5,6.3zM927.3,452.9l-13.5-2.8 -6.2,6.8 6.4,11.8 11.9-0.6 6-6.9zM1359.1,445.4l5.3,0.8 0.3-4.2 -2.9-2.7 -0.6,0 -2.6,5.6zM1156.6,379.6l2.9-6.3 -3.4-2.8 -4.7,0.4 -1.2,5.3 1.7,3.2 2.5,0.9zM1048,239.5l5.7,10.6 4-0.8 5-10.1 -2.7-4.4 -7-2.4zM1032.9,521.5l6.9-6.1 -3.2-4.9 -10.2,3.4 1.6,5.1zM1136.2,523.3l-5.1-2 -3.3,1.5 -1.4,5.4 2,2.6 8.1-2.1zM1285,534.7l-1.9-2.8 -4.1,0.8 0.4,3.9 1.6,1.2 3.7-1.7zM767.6,475.8l-9.6,1.9 -11.7,16.4 20.5,12 13.8-22.2zM1040.6,189.2l-5.5,5.3 2.7,6.8 4.3,1.6 6-5.2 -1.9-6.9zM1015.1,215l9.3-0.7 3.9-4.7 0.1-1.2 -6-8.7 -9.7,4.6 -0.9,5.6zM1200.4,540.9l-4.3,1.6 -0.6,6.5 2.6,1.6 6-2.5 0.4-0.7zM1167.6,571.5l-8.1-0.7 -1,1.3 2.7,6.9 4.3-0.3 2.9-4zM1120.5,324.7l1.8-2.3 -2.8-10.2 -8,6.4 0.7,1.7zM1291.7,594.2l-8.5,3.1 -0.2,1.9 5.7,6 0.8,0 4.4-5.3zM957.3,330l1.7-3.3 -2.8-8.6 -7.3,2.9 0.5,9.3zM993.3,477.5l-6.6-2.5 -0.8,0.8 -0.8,7.6 6.5,3.1 2.8-0.6 1.1-1.7zM1286.9,574.4l0.6,3.7 6.8-1 1.3-4.2 -3.8-4 -1.9,0.8zM1351.9,442l-2.2-4.6 -2.2-0.8 -1.5,1.9 0.1,5.1 1.4,1.3 2.8-0.2zM680.9,280.4l13.1,14.6 1,0 13.6-19.6 -17.3-3.9 -9.9,5.2zM1306.2,555.2l1.6-1.8 0-0.6 -3.4-4.4 -3.7,1.5 0.5,4.3 4.4,1.2zM1159.5,507.2l4.2-3.5 -0.4-3.3 -4.1-0.9 -3.5,2.9zM1232,318.3l1.1,0.3 5.3-3.7 -2.2-7.6 -3.1-1.1 -4.8,4.3zM1221.8,259.2l-3,2.2 0,0.5 3.3,4.4 4.5-6.1zM1102.6,233.5l2.7-3.3 -1.4-3.8 -8.9-2.6 -2.7,1.9 -0.3,9zM1035.1,536.4l1.3,0.3 6.3-2.7 -1.1-7.7 -7.4,0.4 -2.5,3.9zM825.6,404.1l8.1-7.1 -3-13 -13.9,8.2 -0.7,4.9zM843.8,265.9l-4-15.7 -1.5-0.9 -12.6,4.1 1.7,12.7 11.2,5.3zM1027.5,328.6l-1.6,3.1 5.2,6.9 6.4-0.4 0.7-1.7 -1.9-7.8zM1402.7,355.5l-0.5,4.7 1.6,2.1 3.6,0.6 4.1-3.5 -0.2-5.2zM1185,276.9l-2.4,1.1 -1,5.7 6.1,3.6 4.3-2.9 -0.2-5zM1144.8,269.6l2.4-3.7 -0.6-2.1 -5.9-3.4 -6.8,4.4 0,4.5 4.5,2.4zM1254.8,296l-5.9,5.7 2.1,6.3 6-0.2 2.4-3.5zM1230.3,577.3l5.2,2.3 3.6-1.8 1-5.1 -5.7-3.3zM1218.2,262.9l0.6-1.5 -4.9-2.8 -5.6,1.7 -0.2,7.4 3.3,2.6 3.4-5.7 2.7-2.8zM1373,471.5l-3.1,2.5 1.5,4.2 4.5,0.8 1.8-6.4 -0.3-0.9zM652.7,242.9l-0.4,0.2 -1.8,12.7 5,4.7 11.6-5.7 -1.3-8.8zM1271.9,284.1l-1.7,3.7 1.6,5.6 0.9,0.6 2-5.1 -1.1-4.9zM1230.2,454.5l-4.9-0.8 -1.7,1.7 -0.3,1.8 4.8,4 1.8-1.1zM1102.3,532.7l-1.4,1.9 0.6,4.9 8,2.5 1.5-4.6 -1.4-2.8zM1080.9,247.1l0.5,3 7,5.8 1.7-0.3 4.9-7.9 -0.4-2.5 -1.7-1.4 -10.9,1.7zM1329.1,388.2l-5.7-0.1 -1,1.6 -0.1,5.1 2.8,2.9 5.9-2.6 0.8-3.3zM953.2,351.5l2,3.6 6.3,0.9 4-3.5 0.1-3.2 -0.7-0.9 -7.9-2.2zM967.5,237l1.7-13.2 -5.3-4.7 -8.8,10.8 4,8.3zM991.6,486.5l-3.8,6.9 5.3,5.3 2.8-0.4 2.2-5.7 -3.7-6.7zM1283.9,551.2l0,3.7 4.8,0.3 1.7-3.3 -1.2-3.2 -2-0.2zM1115.2,340.6l-5.1-2.5 -2.8,4.2 0.7,3.3 6.5,1.4zM1367.1,343.4l-0.4,2.4 5.9,5.9 6-3.4 -4.1-7.3zM1123.6,399.2l-0.6-0.5 -6.5,0.9 -0.1,5.2 4.8,2.2 2-0.6 1.3-1.9zM932.4,573.1l3.9-11.1 -2.4-5 -0.7-0.4 -16.1,3.4 -0.6,0.9 4.1,3.9 9.5,7.4 0.5,1.2zM804.3,335.4l-0.1,18.1 12.8-3 0.7-8.9 -11.1-7.1 -1.7,0.1zM1314.5,605.7l-2.5,4.5 4.8,5 2.2-1.5 -0.3-2.5 -3.7-5.5zM814,191.3l0.6-3.4 -22.7,0 1.8,6.3 13,2.9zM1090.1,255.6l-1.7,0.3 -3.5,6.8 9.5,7 2.4-1.9 -0.4-7.8zM1010.6,316.9l-2,0.9 -2.1,4.3 3.9,6.2 5.3-0.2 3.5-6.9zM1293.7,646.1l4.8,6.6 0.2,0.5 -2.2-8.6zM1111.5,318.6l8-6.4 0.4-1.1 -1.5-4 -6.7-2.4 -6.3,7.8 3.7,5.3zM724.6,193.4l9.7-0.2 1.5-1.6 0.5-3.7 -14.8,0zM1262.3,256.6l-0.4,3.1 1.7,0.3 6.5-0.4 0-0.7 -3.2-2.1 -2.5,0.5 -0.5-1zM1183,339.5l6.2-4.8 0.5-1.1 -3-6.5 -3.3-1 -7.7,5.3 6,7.6zM1281.4,541.2l-0.4-3.4 -1.6-1.2 -3.6,1.7 -0.3,3.8 1,0.8zM1438.8,356.4l-4.5-2.8 -4.7,2.1 0.3,5.3 4.1,2.7 5-6.7zM1124.3,333.2l0.8-1.4 -4.7-6 -4.5,3.6 -0.1,3.4 2.8,2.5zM1122.4,270.4l-5,8.1 1.3,3.4 4.2,2.1 6.3-1.9 0.7-10.5zM1213.9,258.6l4.9,2.8 3-2.2 1.2-7.9 -3.8-2.6 -5.4,4.1zM990.5,441.1l-2.6,5.7 8.4,5.5 1.3-0.4 2.3-4 -1-5.8zM1028.3,421.7l-0.5,6.9 2.6,2.6 6.5-4.1 -1.8-6.8 -1-0.3zM778.8,220.2l11-11.1 -0.8-8.5 -19.1-0.4 -0.7,10.7 6,9.5zM1007,334.8l3.4-6.5 -3.9-6.2 -5.6,1.7 -1.4,6.4zM1018.1,257.4l-5.7-7.2 -10.2,3.7 1.6,6.9 9.5,2.4zM1236.4,390.7l-3.3-3.4 -3.5,3.2 0.3,3.5 3.8,1.5 0.6-0.3zM1148.3,533l-0.7,0.8 3.9,6.8 1.8,0 3.6-5.4 -0.1-0.6zM1063.3,338.3l-5.6,0.5 -3,5.3 1,3.3 3,2 6.1-5.4 -0.8-5zM1056,536.7l-1.7,3.2 2.7,4.4 5.4,0.2 1.7-7.7 -0.8-1.6zM1223.3,515.9l1.1-1.5 0-2 -2.8-3.6 -5.1-1.1 -3.5,4.3 0.2,1 4.9,4.2zM1025.4,383.7l-5.3-4.5 -0.6-0.1 -6.4,6.2 0,1 7.8,4.7 5.2-4.3zM1155.4,458.3l-4.8,2.7 4.3,6.6 4.1-2.1 1.3-4.4zM1126,366.7l-7-2.8 -2.1,1.9 0.2,6.1 1.5,1.6 5-1.2zM1088,317.3l-3.9-4.2 -5.4,2.3 -0.7,1.6 2,5.9 1.2,0.7 6.1-1.3zM989.9,259.8l1.6-4.1 -3.1-6.5 -5.6-1.5 -5.2,4.6 4,7.9zM1227.5,502.2l-1.5-0.1 -4.4,6.7 2.8,3.6 7-4.6zM1025.2,371.6l-5.1,7.6 5.3,4.5 5.2-5.9 -2.7-5.3zM1205,243.1l2.6,4.2 3.6-2 -1.9-0.7 -3.4-3.4zM1439.9,342.2l0.1,3.5 3.6,3.6 4.2,0.4 1.8-7 -4.8-4.8zM1192.7,230.4l-2.1,0.2 -3.4,2.9 -0.5,3.4 4.3,3.5 1.6-0.6 0.8-4 1.5-2.1zM879.4,540.8l-20.3-1.8 1.9,14.2 14,2.9 4.3-4.2 0-1.6 1.9-0.2zM1201.5,410.5l-4.8,1.5 1.8,7.8 6.3-1 0-4.9zM1114.6,390.3l-5.8-0.1 -2.8,8 1.5,1.4 6.8-2.1 1.1-5.5zM920.4,240l6.2-5.4 0.9-5 -9.1-12.6 -11.4,9.5 6.2,11.8zM1016.1,295.2l3-0.4 2.1-8.4 -4.2-4.9 -4.9-0.1 -3.1,2.6 0.1,4.5zM1379.2,382.1l-5.9-5.5 -4.2,4.4 0.6,5 4.3,1.2zM1358.9,456l2.2,2.3 2.4-0.2 2.5-3.7 -2.1-3.9 -4.7,1.4zM1218.1,517.2l-4.9-4.2 -3.7,8 7.2,1.3zM1011.5,359.1l-3.6-2.8 -3,0.2 -4.3,5.6 5.6,4.8 2.6-0.7zM1136.4,434.1l4.4,3.2 0.8,0 3.2-5.6 -5-4.7 -3.4,1.6zM877.1,310.6l0,1.2 5.8,8.4 4.3,1.6 15.8-7.3 -2.6-14.7 -15.4-1.3zM1203.5,438.3l-6.2-0.3 -1.7,3.8 4.4,4.4 4-3.7 -0.1-3.5zM1324.2,639.9l-0.4,1.6 1.5,5.3 0.8,0.6 0.5-4.6 -0.8-3.3zM1277.7,567.4l0.1-0.6 -2.9-2.2 -3.1,0.8 -1.1,2.1 0.2,0.9 3.7,2.4zM1405.3,298.5l-0.9,2.7 1.6,3.2 8.7,3.2 3.7-6.6 -0.8-2.4 -1.5-1zM1083.9,557.9l-8.2-4 -4.6,6 7,5 5.7-2.8zM1446.2,361.7l-7.2-4.7 -5,6.7 1,0.8 4.8-2 6.3-0.3zM717.2,493.9l13.7,11.6 5.6,0.6 7.9-11.5 -12.6-12.9 -14,1.9zM1228.3,331.4l0.9-2.8 -1.4-2.1 0.7,3.7zM1422.2,376.8l-5.7,2.1 0.1,2.7 3.7,2.8 1.7-0.5 0.4-6.9 0.4,0zM930.9,378.7l0.8,8 7.7,4 3.9-7.1 -5.4-9.6zM1133.9,269.3l-4,2.3 -0.7,10.5 5.4,2.7 5.2-5.2 -1.4-7.9zM1340.6,392.8l-2.3-1.8 -6.5,0.8 -0.8,3.3 1.8,2.6 6.1,0.8 0.4-0.3zM1106.4,439.5l0.7,4.5 7.2,0.5 0.4-0.3 0.4-2.6 -2.3-3.8 -4-0.5zM1022.6,297.2l8-3.7 1.4-8.3 -0.8-0.4 -10,1.6 -2.1,8.4zM1368.8,406l2-1.3 1.5-6.2 -0.9-2.2 -2.5-0.7 -4.4,6.1 3.8,4.2zM857,436.1l0.5-2.2 -4.4-11.7 -13.1-1.1 -6.4,7.3 0.1,2.4 10.3,12.5zM897.6,444.2l6.6-7.9 -6.4-5.9 -9,1.5 1,9.4zM1054.7,344.1l3-5.3 -3.2-4.1 -5.3,0.8 -0.5,5.9zM1109.2,261.6l-6.9-6.5 -5.9,4.9 0.4,7.8 10.3,0.4 2.5-3.5zM885.3,452.7l13.7,3.7 -1.4-12.2 -7.8-2.9 -4.7,3.9zM1148.7,245.9l4.9,0.8 2.4-2.8 -2-0.4 1.9-7 -2.7,1.6 -6.1,2.6zM913.2,238.3l-6.2-11.8 -8.5-2.2 -9.6,14.5 1.1,2.8 12,4.9zM805,237l9.4-6.1 -0.8-15.6 -2.6-1.2 -9.7,3.5 -4.6,9.6zM1006.5,390.6l3.2-0.5 3.4-3.8 0-1 -5-5.5 -7.4,3.4 -1,1.8zM1008.5,452.9l-1,2.5 6.5,6.1 1.1-0.1 3.5-9.6 -2.5-1zM834.8,349.1l0.4-3 -11.1-8.3 -6.4,3.8 -0.7,8.9 3.8,3.1zM1022.5,576.3l-6.3,0 -0.7,0.7 -0.6,8.5 5.4,2.3 6-8zM1022.4,639.4l-3.7-3.8 -0.6,0 0.1,1.8 3.8,5.8zM1248.9,567.7l-3.8,0.5 -1.9,3.2 4.8,5.2 4.6-1.9 -2.5-6.3zM1097.4,327.5l4.1,1.1 3.5-2.4 -0.4-4.3 -6.7-1.2 -2,4.2zM1269.7,411.5l6.3,3.2 1.2-0.5 0.1-7.2 -3.2-1 -4.2,3.2zM1261.4,343.3l-1.8-1.3 -6.3,1.2 -0.6,0.5 0.3,7.8 4.1,1.5 4.8-1.9zM1036.9,566.6l-4.4,3.1 0.2,5.1 6.5,3.4 3.6-4.8 -0.4-3.1zM1290.5,505.9l-4.2,3.6 1.7,3 3.3,0 2.5-3.7zM1231.2,362.4l4.2,0.1 0.9-4.1 -2.6-3.3 -5.4,2.4 -0.4,0.9zM1176.5,390.6l2.4-0.4 3-4.2 0-0.6 -6.1-4.4 -3.4,4.7zM618.2,203.3l-1.3-0.5 1.6,11.7 2.2-0.7 1.3-3.2zM1194.9,270.7l-0.3,6.8 7.4,3.1 1-0.3 0.7-1.6 -3.1-9.5 -0.6-0.3zM1409.1,377.4l-6.6,1 0.2,7.6 6.2-2.2zM1069.1,190l-1.8,4.1 9.5,6 2.6-1.8 2.5-10.4 -8,0zM1093.6,386.7l6.2,3.5 1.3-1.2 0.2-6.5 -7.7-1.1zM1021.8,241.8l1.8-4.1 -4.7-7.6 -12.6,4.4 -0.4,2.9 7.3,7.8zM1291.6,478.1l-4.3,1.5 -2.2,5.7 4.7,2.5 1.6-0.7 3.1-7.3zM1090,199.2l-10.6-0.9 -2.6,1.8 0,0.5 5.4,8.8 6.8-3.3zM1159.2,566l-5.9-2 -4.1,3.8 5.7,5.1 3.6-0.8 1-1.3zM948.5,331.1l-8.8,0.2 1.5,11.7 4.2,0.1 5-3.3zM1192,487.5l4.6,1 1.8-5.7 -1.7-1.9 -3.6-0.6 -1.8,1.4zM965.7,199l-11.5,5.4 -0.6,1.3 2.2,8 7.8,4.4 5.6-7.2zM1237.4,283.9l-5.8,2.4 -1.8,2.9 3.1,7.7 9-1.5 1.5-3.1 -1.7-5.5 -3.3-2.2 -0.5,1 0.1-1.3zM1138.5,469.8l-6.1,3.7 2.2,5.4 4.6,0.1 2-7zM1105.9,348.3l2.1-2.7 -0.7-3.3 -6.1-2.1 -3.3,3.8 2.2,4.5zM998.9,442.1l1,5.8 6.7,0.7 3.1-5.4 -7.3-4.8zM1060.9,392.8l4.5,2 3.2-0.5 1.7-11.3 -7-1.5 -0.2,0.2zM1052.2,436.4l-8,1.3 -1,2.9 2.1,3.9 4,0.5 4.9-5.9zM1207.9,468.9l-4.3,1.8 2.1,5.4 3.2-1 1.3-3.7zM1439.9,292.5l6.8-8 -4.1-3.4 -2.2,0 -5,1.5 -1.7,3.3zM1363.8,409l-0.6,2.6 1.1,1.7 6.7-1.3 -2.2-6 -0.5-0.1zM1280.1,440.2l-6.3,2.5 0,0.5 3.9,3.2 3.4-2.1zM1423.9,292.8l3.3,0.4 5.2-7 -6.9-3.6 -6.1,2.2zM646.5,214.7l2.8,9 2.5,1.2 -1.2-10.7 -1.2-2.4zM655.3,226.5l10.5-10.2 -7.8-11.1 -1.4-0.6 -2.8,2.8 1.6,5.6 -1.9,12.7zM1172.9,485.6l4.7-2 -0.6-5 -5.8,0.9zM866.3,401.1l1.2,13.9 3.1,1.3 8.3-8.1 -1.9-8.4 -7.2-1.1zM1263.6,476.5l1.8-5.4 -2-2 -3.3,0 -1.3,5.7zM1222,424.7l-4.4-3.2 -4.6,2.5 1.8,4.6 3.7-0.3zM1064.6,208.4l-2.7,10.9 0.6,0.4 11.6-1.3 0.4-3.7 -4.5-5.9zM1308.6,594.1l2.4,5.6 1-0.3 -2.6-6.5zM955.8,213.7l-2.2-8 -17.3,2.1 -0.8,1.2 4.6,11.8 3.5,1.7zM1324.4,355.6l-5.4-3.9 -0.4,0.1 -3.9,4.7 0.7,3.2 1.3,1 7.9-1.8zM1133.7,539.2l-6.3,4.3 -0.5,1.7 4.3,4.7 0.6,0 6.2-5.6 -3.3-5zM1044.5,653.9l-6.5-5.7 -3.2,4.5 3.3,1.6 6.5,1.5zM869.2,447.3l7.2-7 0.4-4.2 -5.4-6.3 -13.9,4.1 -0.5,2.2 8.1,11.5zM1356.6,392.9l-0.2-5.7 -3.3-2.5 -5.9,4 -0.8,2.9 2,2.5 4.9,1.2zM1473.8,329.6l-0.9-1.1 4-8.8 -2.8-3.8 -2.5,0.6 -5.5,5.6 1.5,7.6 3.8,2.2zM1020.1,334.1l-4.4-6 -5.3,0.2 -3.4,6.5 0.3,1.6 1.4,0.8 10.5-0.9zM1233.1,384.8l2.3-1.3 0.1-6.2 -1.4-1.7 -2.1,0 -2.2,2.2 0,5.2zM952.7,360.5l2.7,5 7.6,0.6 0.3-0.7 -1.8-9.4 -6.3-0.9zM1085.4,307l4.7-0.9 4.1-8.8 -7.6-3 -4.7,2.3 -1.6,5.9zM1013.2,245.2l-7.3-7.8 -7,5.4 3.3,11.1 10.2-3.7zM1264.6,422.3l0.1,1.1 3.1,2.9 3.2-0.5 0.2-5.9 -1.3-0.4zM1126.3,380.5l-1.4,7.4 0.9,1.4 2.3,0.7 1.6-0.7 3.2-6.2 -6.1-3zM1393.8,359.4l-5.3,0.6 -0.7,6.2 2.8,2.8 4.6-2.3 0.5-5.5zM995,466.8l-7.7,4.1 -0.6,4.1 6.6,2.5 5.3-5.9zM1358.4,411.7l-1.9,3.2 1.1,2.5 5.3,0.1 1.3-1.6 0.1-2.6 -1.1-1.7zM1264.2,359.9l6.4-2.5 1.3-2.5 -1.8-4 -6.6,1.2zM1228,417.9l-4.2,0.7 -1.6,6 1.7,0.8 5.5-2.7 0.5-2.6zM876.4,440.3l-7.2,7 10.4,9.1 5.7-3.7 -0.2-7.5zM1303.2,560.7l2.4-5.3 -4.4-1.2 -0.7,0.5 -0.8,4.1zM1107.9,504.4l-7.8-0.4 -0.5,7.7 1.7,1.7 5.4-0.7zM1400,431.6l1.1-5.1 -5.6-0.9 -1.8,1.6 0.4,2.6 1.3,1zM1259.1,373.9l-6.5,1.3 -0.6,1.7 3.3,5.6 2.5-0.4 4.2-6.2zM1278.5,333.3l-3.4-1 -4.9,2.5 -0.3,8.3 2.1,2.1 6.3-4.1zM899,456.4l8.6,0.5 6.2-6.8 -0.8-7.3 -7.8-6.4 -1-0.1 -6.6,7.9zM851,398.4l-6.2,2.4 -6.9,13.7 2.1,6.6 13.1,1.1 3-4.1 -4.6-19.3zM1053.2,273.2l-3.4,1.3 -1.8,6.9 6.1,4.5 5.6-1.6 -2.2-9.2zM1160.3,424.7l3.9-3.7 -1.3-4 -3.8-2.1 -2.2,0.8 -2.3,6.7 0.9,1.2zM999.5,342.8l-6.8,3.2 -1.1,8 1.6,0.8 7.7-2.4 1.2-5.9zM1047.8,541.2l-2.3-6.1 -2.8-1.1 -6.3,2.7 4.4,7.7zM791.6,348.8l11,6.4 1.6-1.7 0.1-18.1 -12.6,5.3zM1252.7,343.7l0.6-0.5 -2-8.2 -4.6-2.5 -1.2,0.3 -2.2,6 3.7,4.8zM1254.4,251.9l1.9,1.8 2.5,0.1 1.6-3.4 -2.4-3.5 -4.3,0.7zM1346.1,443.6l-5.6,0.3 1.4,5.9 4.6-2.1 1-2.8zM1446.2,361.7l3.8-2.8 -1.8-8.8 -0.4-0.4 -4.2-0.4 -4.8,7.1 0.2,0.6zM1086.7,564.8l7.8-1.7 0.6-7 -5.1-2.5 -3,0.6 -3.1,3.7 -0.1,4.2zM1069.9,560.2l-6.3-7.4 -6,2.3 -0.6,3.5 4.5,4.9 7.1-1.6zM1000.6,502.7l-4.7,6.2 1,3.2 6.4,1.5 3.1-3.1zM1252.8,448.3l2,4.2 4.6-0.6 1.1-3.9 -4.6-1.8zM1154.6,422.4l2.3-6.7 -5.3-2.4 -3.9,1 -1.7,2.4 1,4.8 1.2,0.9zM1071.8,403.9l0.9-2.9 -4.1-6.7 -3.2,0.5 -1.8,8 2.9,2.5zM1158.2,434.7l1.5,2.4 6.1-0.1 2-3.9 -2.1-3.3 -3.6-0.1 -3.7,3.5zM1326,441.1l4.1,1.4 2.8-1.6 0.4-2.1 -4.8-2.5 -1,0.5zM1303.6,468.2l-4.4,4.6 0.1,0.5 5.2,3.8 2.7-1.9 0.7-3.4zM1011.5,359.1l4.4-0.5 2.9-5.7 -5.4-6.1 -1.1-0.1 -2.2,1.3 -2.2,8.3zM955.8,434.6l-0.6,1.8 3.6,8.1 6.7,0.3 2.7-1.6 1.6-9.2 -0.9-1.1 -6.5-1.7zM1274.8,524.4l4,0.9 2.3-4.5 -0.1-0.4 -4.2-0.8 -3.1,2.1zM975.5,496.1l-5.4,2.2 -0.9,1.7 0.7,3 6.2,4.7 5.5-7.4zM973.9,455.3l-8.7,0.4 -3,2.3 -0.7,3.9 10.1,3.2 1.2-0.7zM964.7,293.4l0.9-1.2 -2-9 -11.5,2.2 1.4,11.3zM1003.4,397.1l5.9,3.4 2.5-0.9 1.4-2.6 -3.5-6.9 -3.2,0.5zM1003.6,568.5l-7,6.8 3.7,8 4.3-0.8 3.8-5.7 -4.2-8.1zM1025,500.8l1.6,0.9 6.1-6.3 0-2.4 -7.1-3.7 -3.8,3.1zM1298.8,359.4l1.7-2.3 -4.1,0.9zM1237.2,252.1l0.4-7.3 -1.6-0.6 -7.1,2.6 -1.4,3.4 3.2,2.9zM1348.1,377l3.3-4.9 -4.2-5 -7.2,2 -0.4,1.6 4.6,6.9zM1072.7,352.3l-3.7-1.4 -5.5,3.9 1.1,4 2.2,1.7 6.8-0.3 1.3-1.6zM1339.3,475.3l6.5,0 0.6-4.8 -6.2-2.4 -2.9,4.9zM1304.3,448.9l2.7,1.5 2.6-2.1 -0.9-3.6 -3.2-0.1zM1358.4,411.7l-1.8-4 -4.8,0.5 1.3,5.9 3.4,0.8zM1270.4,383.8l1.8,2.4 5.7-0.5 0.2-5.3 -5.9-1.6zM1453.3,334.2l1.6-2.5 -6.4-6.6 -1.5,0.2 -2.8,8.4 1,1.9zM1161.1,382.2l5.2-2.8 0.5-1.3 -5.3-5.2 -2,0.4 -2.9,6.3zM1271.4,393.1l2.6,6.6 5.9-0.9 0-6 -0.5-0.4zM1282.4,416.6l-0.9-1.2 -4.3-1.2 -1.2,0.5 -2.2,4.5 3.5,3.8 3.6-1zM1044.4,619.6l0.6-1.8 -3.8-7.7 -9.5,3.4 -0.7,5 0.9,1.3 7.4,2.5zM1336.3,413.5l-4.4-3.7 -2.6,1.9 -0.8,4.1 6.1,2.4zM1459.3,352.1l-6.1,7.3 2.3,2.1 5.9-0.9 1.8-2.1 0.5-4zM1465,356.9l-0.6-2.1 -0.2-0.1 0.2,2.8zM1385.6,492.1l-0.9-0.5 -5.5,2 1.1,2.3 1.9,0.8zM1378.8,469.1l-1.4,2.6 0.3,0.9 5.3,3.2 4-4.7 -3.7-2.9zM1391.2,409.8l-1.8-5.7 -0.2,0 -2,9zM875.1,232.9l13.8,5.9 9.6-14.5 -3.4-7.9 -16.9-0.9 -3.4,3.7 -1.2,11.1zM890.9,277.7l-15.3-8.3 -4,15.9 11.7,5.8 8.1-11.1zM1378.7,440.3l-4.9-1.6 -2.6,4.6 5.2,0.8 2.2-2.3zM1248.4,443.9l-0.7-4.4 -4.7-0.6 -0.4,0.5 0.7,4.2 3.1,1.3zM1165.8,437l3,5.2 3.5-1.3 1.1-5.8 -1.4-1.6 -4.2-0.4zM1020.5,403.6l-4.5,0.8 -2.8,5.7 3,4.4 5.3-0.6 0.7-8.7zM1461.4,360.6l1-0.2 0.6-1.5zM1465,356.9l-0.6,0.6 0.1,0.6 1.8-0.3zM1046,304.5l2.6,0.4 5.6-7.9 -2.9-4.2 -7.9-0.8 -2.9,6.3zM1123.7,537l3.7,6.5 6.3-4.3 -5.6-6.3zM1304.6,434.6l6.4-1.9 0.2-0.4 -4.7-4.4 -3.2,1.8zM1186.8,362.5l-3.7-3.4 -4.8,2 0.4,5.5 7.3,0.1zM1252.6,557.7l1.4,0.5 3.3-1.5 0.4-1.1 -1.4-2.7 -3.3-0.7 -1.2,0.7zM1313.6,395.2l3.3,1.8 5.4-2.2 0.1-5.1 -7.8,0.8 -1.6,3.1zM1031.2,284.8l0.8,0.4 5.5-1.5 0.8-11.7 -10.8-2.3 -2.6,3zM809.5,401.2l-0.8,12.1 11.1,2 6.3-7.4 -0.5-3.8 -9.5-7zM1376.9,447.8l-1.2,1.7 4.6,3.7 3.3-3.5 -1.3-2.3zM1058.3,527l-6.4,3 4.1,6.7 7.3-1.5 1.4-4.8zM950.5,189.2l12.7,0.3 0.8-1.6 -13.9,0zM1429.4,323.8l4.9-5 -1.3-6.8 -5.7-1.8 -3.9,3.9 -0.3,3.4 4.2,6.6zM1254.9,462.5l1.9-4.2 -3.2-3.6 -2.6,1 -1,1.6 2.9,6zM1256.2,361.2l2.2-1.7 -1.3-6.5 -4.1-1.5 -2.1,1.8 1,6.3zM1387.3,324.2l-5.8,0.5 -2.6,4.5 5.9,7.2 4.6-2.2 0.5-0.8 -0.3-7zM1027.5,265.1l6.4-6.2 -1.6-7.7 -5.6-0.7 -7.5,6.9zM1032.7,493l3.6-3.4 -3.3-7.4 -7.6,2.4 0.2,4.7zM1063.9,508.1l5.1,3.7 4.3-4.4 -3-4.6 -6.7-0.3zM1229.2,328.6l7.1-3.6 -3.2-6.4 -1.1-0.3 -5.2,2.8 1,5.4zM1042.4,606.8l-1.2,3.3 3.8,7.7 8.9-3.3 1.4-3.1 -1.2-3.9zM1229.9,394l-1.8,1 -0.8,6 5.7-0.4 0.7-5.1zM1036.9,566.6l0.3-5.3 -8-2.5 -5.3,5.8 1.3,2.2 7.3,2.9zM1073.2,371.9l2.3,5.7 2.9,0.2 6.4-3.8 0.3-1.2 -4.4-5.3 -5.2,0.5zM1252.9,325.5l-2.9,0.5 -3.3,6.5 4.6,2.5 6.2-3.5 0-1.1zM1050.9,500l4.7-5.2 -0.1-2.8 -7.3-1.3 -3.8,4 0,1zM1339.6,370.7l-7,3.8 -0.8,4.3 1.4,2.3 4.8,1.5 3.8-1.4 2.4-3.6zM1265.5,370.6l3.2-0.3 1.9-2.7 -0.5-2.3 -5.3-2.5 -2.3,4.2zM1420.8,359.1l-2.9,3.2 4,6 2.9-0.4 1.3-5.3zM876.8,436.1l10.5-5.1 -2.9-9.2 -10.4-0.7 -2.6,8.7zM714,427l-18.9,6.3 -1.5,2.3 10.1,11.5 7-1.8 4.1-17.6zM885.8,369.5l1.5-9.3 -2.6-3.2 -11.4,3.4 -1.6,14.4 4.8,2.9zM1198.9,454.5l2.2-0.1 2.8-4.1 -3.9-4 -2.9,2.8 0.4,4.3zM1162.2,493.3l3.8,4.4 2.8-0.4 1-0.9 0-3.4 -3.8-4 -2.8,0.3zM1110.5,575.7l-5,1.5 2.9,7.8 5.6,0.9 1.2-1.7 -1-6.3zM1141.1,352.4l5.3-3.6 -2.4-4 -5.3-0.2 -1.9,2.2 0.8,3.7zM1120.6,435.7l6.6-1.6 0-3.6 -7.3-2.7 -2.3,4.8zM981,519.3l-4.5,3.3 3.3,8.2 4.1,0.7 4.2-6.5 -1.3-4.5zM1095.7,374.1l-1.1-2.8 -5.3-1.6 -4.2,3.1 -0.3,1.2 5,5.7 2.9,0.2zM890.9,378.8l4.3,0.5 4.3-6.6 -4.6-10.4 -7.6-2.1 -1.5,9.3zM634.8,348.5l10,8.3 9.5-8.2 -3.6-11.3 -12.5,0.9zM1071.6,540.5l-4,7.7 7.7,2.9 3.5-4.5 -2.8-6.4 -1.2-0.7zM1026.4,513.9l-0.6-0.4 -8.7,5.2 2.7,5.1 4.1,0.4 4.1-5.2zM1363.1,369.8l2.3,1.3 3.9-0.4 2.2-5.6 -0.4-1 -6-3.3 -4.7,1.8zM1059.6,451.9l5.3-4.2 -0.7-6.8 -1.7-2 -4.8,1.4 -0.6,10zM1121.9,249.7l-3.2,2.7 2.7,9.6 8.9-2.6 0.4-2.3 -5.4-7zM1286.9,574.4l-4.5-3.4 -0.8,0.2 -3.8,4.2 0.8,2.6 4.6,1.7 4.2-1.7zM1070.3,413.9l9,2.5 1.4-2.5 -2.1-5.6 -4.8-0.7zM1316.3,421.1l0.2-4.9 -4.4-2.6 -3.9,4.7 4,4.1zM1113.2,567.8l-2.7,7.9 3.7,2.2 5.8-3.3 -6.1-6.9zM1197.7,323.6l1.2,4 3.4,1 -0.5-4.2 1-5.2zM996.3,332l-1.1,3.6 4.3,7.2 7.8-6.4 -0.3-1.6 -7.5-4.6zM1068.2,316.2l3.1,2.7 6.7-1.9 0.7-1.6 -5.8-7.2 -2.1,0.9zM1039.8,358.1l4-6.8 -8.1-2.7 -1.8,1 0.6,9.1zM1282.4,571l4.5,3.4 3-4.7 -5.3-3.2zM1295.4,470.5l0.7-5 -3.7-1.9 -3.2,3.2 2.2,5.2zM624.1,347.6l1.1,4.5 0.5,9.3 1-0.3 2.6-11.2zM853,231.8l-7-0.5 -8.9,8.3 1.2,9.7 1.5,0.9 15.5-3.5zM1251.6,272l-2.7,5.7 0.8,3.4 4.3,3 4.4-0.5 2.4-4.4 -0.4-2.2 -6.7-5.6zM1111,327l1.2-6.7 -0.7-1.7 -2.4-0.8 -4.5,4.1 0.4,4.3 4.2,1.8zM1044.1,380.8l-6.7-0.2 -2,4.8 2.5,5.4 2.9,0.9 2.4-0.9 2.1-3.3zM1244.7,320.9l5.3,5.1 2.9-0.5 3.5-6.1 -5.6-2.7zM1223.7,437.9l-4,3 2.1,3.3 4-0.3 0-5.3zM1277.2,414.2l4.3,1.2 3.2-7.1 -4.2-2.8 -3.2,1.5zM1364,487.3l-0.2-7.2 -0.4-0.5 -4.9,0.6 -1.2,4 3.7,3.8zM1337.2,341.3l7.9-5.3 -1-1.7 -3.6-1.5 -2.8,3.2 -4.2,2.9zM1102,438.2l-4.4,6 0.5,1.3 7.8,0.2 1.2-1.7 -0.7-4.5zM1165.6,296.1l-3.7-5.5 -6.8,1 -2.2,3.9 1.5,5.3 7,0.6zM1157.8,362.8l-1.1-0.9 -5.2,0.3 -2.8,5.6 2.7,3.1 4.7-0.4zM1040.8,544.4l-1.7,3.8 8.3,4.4 3.1-1.6 -2.9-9.5zM1220.4,381.6l-2.5-1.9 -3.2,1.4 -1.3,5.9 0.4,0.9 2.4,0.4 4-2.1zM1065.6,410.2l0.9-4.9 -2.9-2.5 -3.8,1 -1.9,5.4 1,1.5zM1131.5,473.3l-5.3,4 2.9,6 2.2,0.1 3.3-4.5 -2.2-5.4zM1195.5,549l-3.3,1.1 -2.6,3.8 1.7,3.9 8.1-1 -1.3-6.2zM869,189l10.6,9 8.6-4.1 -0.6-6 -18.5,0zM1252.2,368.4l4.1-2 -0.1-5.2 -4.3-1.6 -4,2.9 0.5,2.6zM1026.8,502.4l-0.2-0.7 -1.6-0.9 -7.1,1.1 -1.4,2.4 1.8,4.7 6.1,1.7zM983.4,314.8l-0.7-0.2 -10.9,5.1 6,8.9 2.6-0.9 4.9-8.8zM1166.7,318.4l4.6-6.7 -2.9-3.2 -4.8-0.8 -4.3,3.5 3,6.8zM1142.7,320.3l-1.1,3 4.6,5.8 4.6-2.5 0-5.6zM1350.9,476.2l2.1-3.6 -0.6-1.5 -5.2-1.1 -0.8,0.5 -0.4,5.1zM1015.9,529.4l-7.5-5.1 -6.1,7.9 0.4,0.8 8.1,4.1 5.4-5.7zM1279.8,560.6l-3.8-1.2 -1.1,5.2 2.9,2.2 2.6-2.3zM1131.8,301.5l9.7-2.5 1.2-3.6 -1.1-3.3 -6-3.7 -5.6,5.8zM1212.8,479.3l-3.8,2.6 0.2,3.7 0.4,0.4 3.8-0.1 2.7-4.5zM1117.6,512.5l5.5-3.8 -0.7-1.5 -7.5-3.7 -2.1,1.1 1.5,7zM1282.2,586.7l-7.6-0.6 -1.2,2.2 3.2,5.8 4.9,1.2 1.4-7.8zM1254.8,296l-3.5-4.1 -7.9,0.4 -1.5,3.1 1.6,3.8 5.4,2.5zM924.6,392.5l5.1,9.6 0.9,0.5 10.2-7.6 -1.4-4.3 -7.7-4zM859.1,458.6l-7.8,2 -7.2,18.6 1.9,2.9 16.6,1.3 8.5-15zM1041.9,605.5l0.5,1.3 11.7,0.7 0.5-1.4 -4.3-7.6 -5.1,0.8zM1433.6,375.4l-4.1-3 -5.6,4.4 9.6-0.9zM1389.4,455.9l3.2,2.4 -1.4-5.1zM1276.8,465.3l2.6-2.7 -0.7-2.9 -6.2-1.9 -0.8,0.6 -0.7,3.7zM939.2,240.3l2.9-1.5 3.7-12.3 -2.2-4 -3.5-1.7 -12.6,8.8 -0.9,5zM887.3,431l1.5,0.9 9-1.5 2.3-11.6 -14.1,1.1 -1.6,1.9zM1045.5,535.1l6.3-5.1 -2.9-4.7 -6.6,0.3 -0.7,0.7 1.1,7.7zM751.7,241.5l-12.8,0.7 -0.9,10.6 5.9,5.4 12.8-3.9 0.2-1.3zM1312.1,480.6l6.1,3.6 2.5-4.7 -5-4.3 -3.6,3.1zM1047.6,632.9l-4.2,5.6 0.9,4.3 5.1,2.8 3.2-3.2 -0.4-7.2zM1347.5,488l1.8,7 2.9-0.7 2.6-3.4 -1.9-5.2 -1.6-0.7zM880.4,397.4l11.6,5.1 2.9-10 -11.9-5.2zM1339.1,481.6l-8.4-1.3 2.1,7.1 3.6,0.6zM1365,436.1l3.3,1.4 2.6-1.8 -0.6-3.8 -0.6-0.6 -4.9,0.7 -0.3,0.3zM1251.6,272l2.1-0.6 3.5-4.6 -5.2-3.4 -2.7,6.6zM1251.9,260.3l-0.8,0.2 0.9,0.9 0.4-0.6zM1181.6,283.7l-0.5,0.4 -2.4,8.7 4.4,3.3 5.4-2.7 -0.8-6.1zM682.5,241.8l-11.2-1.7 -5.5,5.9 1.3,8.8 8.8,4.8 9-8.1zM1058.4,416.4l6,2.8 3.2-1.5 1.6-3.3 -3.6-4.2 -6.7,0.5zM909,379.3l7.4,3.6 5.8-6.4 -1.7-7.8 -8.5-3.6 -4.9,8.8zM1190.2,457.1l-1.6,4.9 1.3,1 3.8-0.7 1.7-3 -2.6-3zM1179.1,441.5l3.9,2.2 5.1-3.2 -0.5-4.3 -7.5-0.5zM1177.5,469l3.1-4.4 -0.9-1.4 -4.7-1.4 -2.3,2.1 1.1,5.5zM722.3,214l-10.4,3.2 0.9,14.4 9.3-0.9 5.4-9.3zM809.5,433.8l-13.1,4.3 -2.4,19 16.7-2.2 2.3-16zM1046.8,506l4.3-3.9 -0.2-2.1 -6.5-4.3 -4.7,5.9 0.1,2.1zM1193.7,454.3l-2.8-4 -3.4,3.9 2.7,2.9 2.6-0.8zM1301.4,388.6l-6-3.3 -1.4,2.4 1.5,4.9 4.5,1.1 1.4-1.3zM995.1,464l7.4-3 1.1-3.8 -6-5.3 -1.3,0.4 -4.6,7.3zM1369.9,474l-3.3-0.7 -2.5,1.9 -0.7,4.4 0.4,0.5 5.5,0.7 2.1-2.6zM1131.2,572.3l5.6,1.2 3.5-5.5 -2.2-4.6 -6.4,2.7 -0.7,5.7zM815.9,250.5l3.5-0.6 4.2-14.1 -9.2-4.9 -9.4,6.1 -0.7,6.8zM1322.8,660.6l1.4,0.6 0.7-2 0.3-3.1 -3.6,2.5zM687.7,437l5.9-1.4 1.5-2.3 -0.8-15 -10.5-1.8 -5.2,8.8zM824.8,332.3l12.1-5.5 -2.4-11.3 -4.4-1.4 -11.9,9.4 -0.1,1.9zM1433,312l5-2.2 1.9-3.7 -8.9-6.1 -4.2,4.4 0.5,5.8zM1313.5,626.9l-1.1,0.7 2.3,7.9 7-0.3 0.6-2.1 -2.9-5.5zM1123.8,292.3l-0.9-8.3 -4.2-2.1 -5.9,6 2.1,6 5.7,1.2zM675.8,396.1l-11.2,3.4 -2.5,5.4 4.1,9.2 13.9-6.2 0.1-0.6zM955.8,213.7l-12.2,8.8 2.2,4 9.3,3.4 8.8-10.8 -0.3-1zM1129.7,389.3l-1.6,0.7 1.3,7 2.8,1.4 3.1-1.5 0.5-5.4zM1330.7,456.4l1.8-1.2 0.7-2.7 -2.2-4.2 -0.5-0.2 -1.3,0.3 -2.5,4.5zM1370.1,452.6l-0.9,1.5 2,3.5 3.5,0.1 0.7-1.3 -1.4-4.9zM1314.8,492.6l6.1,2.4 1.2-0.4 0.1-6.5 -3.8-2.7 -3.9,3.2zM1478.7,280.6l0.6-0.1 2.1-13.1 -3.1-2.6 -5.9,9.5 -1.7,0.8zM1358,508.3l0.9-2.8 -1.8-3.7 -7.2,0.5 1.2,5.4 4.3,2zM1448.3,369.1l-1.6-3.4 -7.6,2.5 -0.2,4.4 1.5,0.7 7.1-2.8zM1201.1,370.9l3.9,2.7 4.4-4.4 0.2-2.4 -2-2.7 -5.5,0.8 -2.1,2.7zM1231.4,299.7l1.5-2.8 -3.1-7.7 -2.1,0.2 -1,8.4 -1.4,2zM1062.5,438.9l1.1-2.7 -2-8.1 -3.7-0.5 -5.7,4.2 0,4.6 2,2.7 3.5,1.2zM1063.6,502.5l6.7,0.3 4.9-7 -0.7-0.9 -8.1-0.8 -3.8,7.3zM1031.7,394.8l6.2-4 -2.5-5.4 -8.9,1.5zM1380.7,366.9l-1.4-1.9 -7.8,0.1 -2.2,5.6 3.9,4.5 7.1-3.9zM1118.9,460l-0.4-6.6 -5.3-0.7 -1.7,3 2.2,5.5zM1111.5,197.5l5.1,2.6 2-0.7 0.5-1.1 -7.6-1.3zM1177.2,533.7l-1-8.2 -7.1,1.4 -0.3,0.3 0,2.4 5.6,4.4zM878.5,384l-9.8,5 1.1,9.7 7.2,1.1 3.4-2.4 2.6-10.1zM947,308.3l5.9-9.6 -0.1-1.3 -14.8-3.5 -3.2,1.8 4.6,14.4zM1126.6,411.7l-0.9,3.3 0.6,1.2 7.3,2 -0.7-8.6zM1120.4,563.1l-0.3-1.6 -3.8-3.9 -3.7,0.2 -3,4.6 1.7,4.3 1.9,1.1 0.7-0.1zM1118.6,373.5l-1.5-1.6 -7.4-0.7 -2.4,1.9 4.6,7.4 0.8,0.1 4.4-1.6zM1014.4,308.5l-5-5.6 -9.5,7.4 8.7,7.5 2-0.9zM1268.8,487.5l4.7-2 -1.3-4.2 -3.8-1.4 -2.6,4.7zM1305.1,374l1,3.3 5.1,1.2 0.7-0.5 0.9-3.9 -4.3-3.5zM1203.9,439l0.1,3.5 5,3 1.1-0.5 2-3.1 -0.9-2.7zM1050.5,368.7l3.4,5.8 7.8-0.2 1.8-2.9 -7.5-7.7zM1300.7,529.9l-2.6-3.7 -3.9,2.2 1.1,3.9 2.4,0.6zM1096.6,404.7l6.6-7.1 -3.7-4.1 -5.2,2.4 -1.3,5.8zM1255.1,562.8l-4.6,0.5 -1.6,4.4 1.2,0.7 5.4-1.1 1.5-2.6 -0.2-0.8zM1318.6,351.8l0.4-0.1 2.5-5.3 -0.3-0.4 -6.8,2.9zM1323.4,367.4l1.5-8.1 -0.3-0.4 -7.9,1.8 0.4,6.8zM1019.2,321.2l-3.5,6.9 4.4,6 5.8-2.4 1.6-3.1 -2.7-9.1zM644.8,356.8l-10-8.3 -5.5,1.4 -2.6,11.2 6.6,6 11.5-6.8zM1144.1,444.7l2.9,5.7 2.2,0.8 0.3-0.1 2.8-8 -2.5-2.8 -4.3,0.8zM1026.1,344.7l-5.9-4 -6.8,6.1 5.4,6.1 5.1-1.2 2.9-4zM1245.2,430.8l1.5-4.4 -4.3-3 -2.7,3 1.4,3.2zM1199.7,465.1l1.8,0.9 4.3-2 0.4-2.1 -3.3-2.4 -2.7,1.5zM1265.5,573.8l1.7,0.7 3.7-6.1 -0.2-0.9 -5.8-1.3zM1080.3,302.5l1.6-5.9 -6.2-6.4 -3.2,0.5 -3.6,6.5 6.6,6.7zM1333.9,463.4l3.4-0.4 1.5-5.1 -6.3-2.7 -1.8,1.2 -1.1,3.4zM1258.6,411l-0.5,1 1.9,7.1 1.7,0.2 4.5-5.4 -4.8-3.3zM1161.2,344.1l-2-6.5 -4.1-1.7 -1.2,0.7 -2,4.1 0.8,3.5 4.1,2.7 3.9-1.7zM1135.6,501l2.9-6.2 -4.8-3 -4.3,1.7 -0.7,5.6 3.8,3.4zM1231.2,555.5l1.2,2.5 8.1-0.8 0.4-1.7 -3.5-6.4 -5,1.4zM1127.8,236.6l-7.5,5.8 1.6,7.3 3.4,0.4 6.4-5zM1095.2,309.9l-5.1-3.8 -4.7,0.9 -1.3,6.1 3.9,4.2 4.7-1.5zM1358,361.6l-2.3,1.8 -1.8,8.1 2.3,1 6.9-2.7 -2.7-7.2zM1046.7,485.1l-4.1-0.7 -4.7,5.1 6.5,5.2 3.8-4zM1208.3,260.3l5.6-1.7 -0.1-5.8 -6.5-3.5 -3.8,3.8 0.9,4.7zM1234.9,403l0,1.2 5.5,3.6 3.3-4.7 -0.5-1.1 -4.1-1.6zM1206.7,384.1l-0.1-1.7 -2.5-3.3 -5.1,1.2 -0.1,5 5,3.2zM1061.9,219.3l-7,0.6 -3.9,7.5 2,5 7,2.4 5.5-7 -3-8.1zM1104.5,478l0.5,1.5 6.1,3.1 4.2-6.5 -1.6-2 -5.7-0.9zM1232.5,426.4l-3.1-3.7 -5.5,2.7 2.6,4.8 1.7,0.5zM1108,334l1.2-6 -4.2-1.8 -3.5,2.4 2.3,5.4zM1132.3,339.1l-6.4,0.6 -2.4,3.3 0.1,1 7.1,2.4 1.3-0.8zM981.9,500.3l6.5,4.1 4.7-5.7 -5.3-5.3 -2.5,0.4zM1339.3,475.3l-2-2.3 -1.9,0.1 -4.7,4 0,3.2 8.7,1.1zM1027.4,530.6l-4.6,3.8 0.3,4.7 4.9,4.6 0.7,0.1 6.4-7.4 -3.4-5.8zM1344.3,487.2l-3,2.7 2.3,5.5 5.5-0.1 -1.6-7.3zM1105,456.9l6.5-1.2 1.7-3 -0.8-1.7 -5.6-1.5 -3.1,4.2zM1370.9,494.1l3.2,1.5 4.7-2.1 -1.1-5 -4.4-1.8 -1.3,0.2zM1063.6,552.8l2.1-4.1 -3.3-4.2 -5.4-0.2 -3.4,7.2 4,3.6zM918.5,405.5l-0.3,9.1 0.3,0.3 7.1,1 6.4-9.4 -1.4-3.9 -0.9-0.5zM986.1,402.7l-8.5-3.6 -4.4,7.8 0.1,0.4 1.6,0.9 9.3-1.6 2.3-3.1zM1074.5,606l-7.2,4.2 -0.8,3.1 10.4-6.4zM1216.1,362.3l1-5.9 -3.4-2 -1.6,0.4 -3.3,2.4 0.5,2.5zM1369.3,480.8l-5.5-0.7 0.2,7.2 7.1-0.9zM1264.9,566.2l5.8,1.3 1.1-2.1 -2.4-5.1 -0.3-0.1 -4.2,2.5 -0.7,2.8zM1211.2,439.2l0.9,2.7 3.9,0.5 2.5-1.7 -2-5.3 -4.9,2.5zM1198.3,506.6l2.9,5.6 2.5,0.5 3.3-2.3 -0.7-6.2 -5.2-2.6zM1089.8,379.7l-5-5.7 -6.4,3.8 5.9,6.3zM1177.2,497.3l0.6,0.6 5.9-0.9 0.3-5.2 -4-2.2 -2.4,1.6zM1050.1,564.4l6.9-5.8 0.6-3.5 -4-3.6 -3.1-0.5 -3.1,1.6 -2.5,6.6 4.7,5.1zM1203.5,253.1l-6.3-2.2 -3.5,1.1 1.7,8.3 3.8,1.6 5.2-4.1zM1307.2,359.6l3.1,2.1 5.1-2 -0.7-3.2 -5.3-3.1 -2.5,3zM972.3,357.3l-0.6,3.3 5.4,6.8 1.2,0.1 3.5-6.8 -2.1-4.3 -4.2-1zM809.3,264.7l-7,2.2 1.2,13.1 5.2,3 10.2-3.6 0.6-9.2zM1405.2,415l-0.1-1.5 -4.5-3.7 0.3,2.6zM1408.4,408.8l-2.7-0.9 1.9,3 1-1.1zM1166.5,460.8l1.5,2.5 4.7,0.6 2.3-2.1 -0.5-3.5 -4.3-2.3zM861,553.2l-3.2,5.5 18,0 -0.8-2.6zM1152.9,406.7l-1.3,6.6 5.3,2.4 2.2-0.8 1.4-6.9zM1417.5,390.7l2.2-0.7 0.6-5.6 -3.7-2.8 -3.9,4.6zM1176,410.4l-5,4.5 1.7,4 6.5-0.6 0.5-4.9zM990.8,328.1l5.5,3.9 3.2-1.8 1.4-6.4 -4.9-3.4 -5.1,1.6zM1313.3,349.4l-4.9,2 1,1.2zM1356.1,438.5l-2.3-2.6 -4.1,1.5 2.2,4.6 2.8-0.8zM1197,421.9l-8.6-3.1 -0.4,0.5 1,7.4 4.7,0.9zM945,595.3l1,0.7 7.1,2.7 6.4,3.1 2.4-3.1 -7.5-11.4zM1122.9,345.2l0.7-1.2 -0.1-1 -5.3-3.9 -3,1.5 -0.7,6.4 1,1.2zM1270.1,258.9l1.2-0.4 -0.6-2.4 -3.8,0.7zM1329.1,403.2l-4-5.5 -3.8,5.7 0.3,1.7 2.1,1.2 4.9-1.9zM1402.7,355.5l-1.5-2.1 -6.3,0.7 -1.1,5.3 1.9,1.8 6.5-1zM1318,465.6l0.2-0.5 -1.1-3 -4.3-1.9 -2.1,1 -1.3,2.1 2.8,4.4zM1114.7,252.5l-5.9-5.1 -6.6,6 0.1,1.7 6.9,6.5zM1210.6,400.3l0.3,3.7 6.5,0.6 1-5.9 -1.9-1.9 -1.4-0.2zM1459.6,343.4l-4.4-2.3 -5.6,1.6 -1.8,7 0.4,0.4 9.8-1.4zM1271.2,376.3l-6.3,1.1 0.7,6.3 4.8,0.1 1.8-5zM906,260.7l-4-14.2 -12-4.9 -6.8,14.9 15.4,8.4 5.8-1.8zM1136.1,310.9l-3.3-1.9 -5.6,3.3 1.9,6.4 4.4,0.8 4.3-4.8zM951,351l-8.4,5 2.6,4.9 7.5-0.4 2.5-5.4 -2-3.6zM1089.4,391.9l0.3-1.8 -5.5-5.3 -5.2,4.8 -0.1,1.6 7.3,3zM1282.3,372.9l-2.7,1.8 -0.2,4.5 7.2,1.9 0.8-4.6zM1079.3,416.4l-9-2.5 -1.1,0.5 -1.6,3.3 5.3,6.1 6.9-4.1zM1454.5,302l-1.5,6.3 5.9,4.5 3.4-2.3 0.6-2.7 -3.1-5.7 -4.3-0.6zM1013.2,410.1l-6.9-1.6 -2,3.3 2,6.6 8.5-1.5 1.4-2.4zM1067.2,326l-3.4-1 -3.3,5.1 3.2,4.2 5-3.1zM1383.4,427.1l-0.3,0.5 2.4,1.1 -0.6-2.1zM1269.8,503.5l-0.9,4.1 1.7,1.7 3.9-1.1 0.9-3.8 -1-1.3zM1364.5,427.3l0.3,4.7 4.9-0.7 0.2-4.3 -3.2-1.3zM1133.2,441.5l-3.2,1.8 -0.7,4 5.7,3.4 2.2-1.4 1-3 -2-3.9zM1264.8,362.8l5.3,2.5 2.6-3.2 -2.1-4.7 -6.4,2.5zM1346.2,409.4l0,3.5 3.6,3.3 3.3-2.1 -1.3-5.9 -1.6-0.9zM667.4,359.8l-4.9-9.4 -8.2-1.8 -9.5,8.2 0,3.5 1,1.3 14.6,4.6zM686.7,235.1l-4.1-8.9 -10.1-0.7 -4.6,7.7 3.4,6.9 11.2,1.7zM1232.7,346.8l-0.6,1.2 2.2,5.4 8.2-1.9 -0.2-2.8 -4.6-3.4zM981.9,386.1l-2.5-1.1 -7.7,6.2 0,1.8 5.5,4.2 5.5-4.4 0.1-5.4zM1316.4,371.9l5.4,4.6 3.8-6.8 -2.2-2.3 -6.3,0.1zM1183.2,465.5l4.9-3.5 -3.8-3.5 -2.9,0.9 -1.7,3.8 0.9,1.4zM1265.8,313.7l-5.6,0.3 -2.4,4.9 6,5.9 1,0.1 2.5-1.4 1.5-4.4zM1322.9,387l0.5,1.1 5.7,0.1 4.1-7.1 -1.4-2.3 -7.5,0.1zM1254.5,475.8l-3,5.8 5.5,2.7 2.7-1.2 -3.3-7zM1340.7,348.2l-3.3-2.8 -7.8,3.9 5.2,6 3.4-0.4zM987.8,493.4l3.8-6.9 -6.5-3.1 -3.2,1.6 -1.8,4.2 5.2,4.6zM1179.2,418.3l2.2,2.3 6.6-1.3 0.6-2.1 -2.6-5.4 -1.7-0.7 -4.6,2.3zM1036.9,507.3l-0.3,3.2 3.2,4.9 1.2,0.5 2-0.3 5-5.6 -1.2-4 -7-2.3zM1248.3,465.1l3.6-0.3 1-1.5 -2.9-6 -2.9,0.6 -1.3,3.6zM777.6,257.1l1,0.5 14-3.8 1.3-3.9 -7.8-10.7 -11.2,0.3 -2.6,2.4 -0.6,4.1zM779.9,335.8l-6.1,8.5 6.5,9.6 11.3-5.1 0.1-8.1 -7.1-5.5zM1144.7,212.9l-0.3-0.8 -6.8-4.8 -7.4,2.5 0.3,5.5 7.9,5.4 4.5-2.3zM1078.2,339.6l2.8,5 4.4-0.7 1.7-3.9 -1.9-3.4 -6.3,1zM1174.3,359.1l4,2 4.8-2 0.3-4.3 -6.1-3.8zM1176.1,264.9l-0.2-6.2 -4.5-3.6 -5.5,3.4 4.7,7.6 1.1,0.4zM1014.7,495.4l3.2,6.5 7.1-1.1 -3.2-8.4 -5.9-0.1zM1128.9,563.4l2.8,2.7 6.4-2.8 -2.2-4.9 -5.9-0.1zM1156.4,600.4l5.5-0.4 2.6-1 -2.3-4.4 -1.2-0.3 -0.5,0.2zM1063.7,334.3l-3.2-4.2 -3.9,0.1 -2.1,4.5 3.2,4.1 5.6-0.5zM1252,473l1.6-3.9 -1.7-4.3 -3.6,0.3 -3.5,3.3 0.3,2 5,2.9zM1402.5,378.4l-3.3-2.7 -4.5,1.6 0.4,6.8 3.6,2.8 3.4,0 0.6-0.9zM1184.4,311.2l4.2-5.2 -6-5.7 -4.6,2.7 -0.5,6.1zM1243.1,374.8l0.3,2.1 3.9,1.6 4.7-1.6 0.6-1.7 -1.2-3.4 -6.1-0.1zM1034.2,526.7l-1.3-5.2 -4.9-2.5 -4.1,5.2 3.5,6.4 4.3,0zM1408.6,392l5.9,2.9 1-0.3 2-3.9 -4.8-4.4zM1050.9,406.4l1.3-4.9 -3.5-4 -5.7,3.8 2.3,4.7zM1317,435.8l3.8-1.5 -2-6 -5,1.3 -1.6,2.3zM734.2,368.4l-13.3-8.6 -12.1,10.4 -0.3,11.4 5.2,4.9 22.9-2.8zM1170.9,284.2l-6.6,0.7 -2.4,5.7 3.7,5.5 4.9,1 3.3-3.6zM1220.8,414.9l4.6-3.5 0.1-0.7 -4.1-4.3 -2.6,0.1 -1.6,4.2zM1205.1,567l3.8-0.2 1.8-5.3 -4.2-4.4 -4.8,1.9 -0.6,2.6zM1136.7,418.3l3.8,6.9 6.5-3.7 -1-4.8 -5.9-1zM1399.9,419.9l5.6-1.9 -0.3-3 -4.3-2.6 -3.7,2.9zM1385,438.8l-1-0.6 -4.5,1.1 -0.8,1 -0.1,1.5 3.8,3.6 2.1-1.8 0.6-2.4zM1448.3,369.1l-0.8,1.4 2.5-1.1zM1139.8,279.6l5.3,1.4 5-3.9 -5.3-7.5 -6.4,2.1zM1368.3,440.8l0-3.3 -3.3-1.4 -3.2,3.2 2.9,2.7zM1210.9,404l-1.8,2 1.3,3.2 5.7,1.9 1.1-0.4 1.6-4.2 -1.4-1.9zM1139.8,403.3l4,3.1 0.5,0.1 1.2-0.9 1.9-6.6 -4.3-2.6 -3.6,2.4zM993.1,266.9l-3.2-7.1 -8.3,0.4 -2.9,5.3 1.1,2.9 8.5,2.6zM1322.9,511.7l0.4-0.2 0-7.5 -7-1.3 0.5,6.9zM1246.2,385.4l0.7-0.7 0.4-6.2 -3.9-1.6 -1.8,1.5 -1.1,5.9zM1154.7,526.8l6.6-2.9 0-1.1 -3.2-4.5 -2-0.7 -1.3,0.4 -2.7,6.5 1.3,1.9zM1159.2,337.6l7.2-3.7 -2.6-5.3 -4-1.4 -3.8,2.1 -0.9,6.6zM1382,382.4l0,8.1 4.5,2.3 2.8-2.2 0.6-4.3 -5-4 -2.3-0.2zM1227.6,438l2-5 -1.4-2.3 -1.7-0.5 -4.5,3.5 1.7,4.2 2.1,0.7zM1173.8,469.4l-1.1-5.5 -4.7-0.6 -1.7,4.2 4.9,4.5 1-0.5zM1024.9,454.8l5.6-2.3 0.4-5.1 -4-3.1 -4.3,0.3 -3.6,7.1zM742.2,211.7l-5.9-5.3 -12.3,3 -1.7,4.6 5.2,7.4 11.7-0.4zM1393.7,427.2l-3.3-1.3 -1,0.3 4.7,3.6zM943.3,383.6l8.8-0.2 2.1-5.2 -4.2-6 -7.6-1.9 -3.6,1.5 -0.9,2.2zM1284.7,536.1l-3.7,1.7 0.4,3.4 2.7,2 3.7-2.9zM1344.8,419.8l4.8-1.1 0.2-2.5 -3.6-3.3 -3.8,3 -0.1,2.1zM1179.6,600.1l-1,0.1 1.6,0.7zM979.4,466.4l-3,8.8 9.5,0.6 0.8-0.8 0.6-4.1 -5.2-5.8zM1030.4,410.9l-7.9,3.5 2.8,5.9 3,1.4 5.8-1.7zM1296.8,611.5l-0.8-0.4 -4.1,3.3 -0.1,7.7 8.2-0.5 1.5-2.1zM1188.1,553.8l1.5,0.1 2.6-3.8 -4.4-4.8 -1-0.1 -3.9,2.9 -0.1,0.7zM1291,371l-2.9-2.3 -5.4,1.5 -0.4,2.7 5.1,3.6 3.3-2.5zM1115.6,433l-2.8,4.8 2.3,3.8 5-2.5 0.5-3.4 -3-3.1zM1082.9,282.9l4.4,2.7 5.2-1.3 3-5.9 -2.1-6 -7.9,2.2zM1087.5,474.6l-2.7-0.7 -6.2,4.3 2.6,6 2.6,1.4 5.8-7zM1379.6,428.8l-1.1,4.1 5.1,0.7 0.4-0.5 -1.3-3.4 -1.7-1.2zM998.5,207.7l-6.1,0.1 -3.8,4.8 2.3,6.5 9,0.6 1.7-8.5zM1188.1,553.8l-5.3-5 -3.4,3.7 2.8,4.9zM1015.1,543.1l1.7,4.5 5.3,2.2 5.9-6.1 -4.9-4.6zM1209.5,286.6l-1.3-1.4 -7.7,5.6 6.3,0.3zM1203,280.3l-1,0.3 -4.3,6.5 0.6,3.6 1.9,0.1 2.2-6.4 2-2.7zM1270.8,493l-2.1,3.6 0.2,0.6 5.9,2.1 1.2-1.4 -2.4-5.1zM1363.7,421.1l-4.2,3.5 0.7,1.2 4.3,1.5 2.2-1.6 -0.6-3.4zM1346.8,400.4l1.6-6.3 -2-2.5 -5.8,1.2 -1.3,5.4 5.1,2.9zM999.5,281.3l9.5,2.7 3.1-2.6 -1.8-9 -9.7-1.2 -1.6,9.1zM1181.9,385.4l3.2-3.6 -1.1-5.4 -1.6-1.2 -1.3-0.1 -5.5,3.3 0.2,2.6zM1306.1,409.9l5.6,0.7 1.8-2.6 -1-3.7 -2.1-1.7 -4.8,2.5zM1196.9,574.7l-4.9-1.1 -1.4,1.7 0.3,1.4 6-0.3zM1099.8,390.2l-0.3,3.3 3.7,4.1 2.8,0.6 2.8-8 -1.7-1.6 -6,0.4zM1185.7,401.3l-2.7-4 -8,1.1 2.2,6.9 5.4-0.4zM1185.8,477.5l3.8,4.1 1.7,0.1 1.8-1.4 -0.7-5.9 -1.3-1.1 -4.8,1.9zM1126.9,457l0.2-1.3 -1.1-1.7 -6.6-1.2 -0.9,0.6 0.4,6.6 1.8,1.2zM1258.6,550l2.4,0.6 3.2-3.2 -2.3-3 -4.8,2.4zM1322.1,494.6l0.8,0.4 6.9-1.1 0.3-4.3 -5-2.7 -2.9,1.2zM1462.5,280.9l4.4-6 -3.2-0.6 -1.5,6.4zM1452.7,317.7l-0.1,3.7 5.5,2.3 4-2.4 -3.5-7.6zM1342.9,348.1l-2.2,0.1 -2.5,6.7 4.4,3.8 3.4-0.3 3.1-4.2zM1242.7,242.7l2.2,1.5 2.7-0.4 0.4-3.1 -5.3,1.3zM1240.1,572.7l-1,5.1 6,4.8 0.9,0 2-6 -4.8-5.2zM1268.6,576.3l0.2,3.1 5.3,3.4 4.5-4.8 -0.8-2.6 -2.7-1.7zM1227.2,384l2.6-1 0-5.2 -4.4-0.6 -2.3,3.9zM1036.8,401.7l3.4-1.4 0.6-8.6 -2.9-0.9 -6.2,4 -0.6,2.6zM1087.8,347.7l-2.4-3.8 -4.4,0.7 -2.4,3.4 3.2,4.9 3,0.5zM1186.2,367.3l5.2,2.9 4.3-3.5 -3-6.8 -5.9,2.6 -0.8,4.2zM1255.9,446.2l4.6,1.8 0.5-0.4 0.7-6 -1.4-1 -4.5,1.3zM1249.7,281.1l-8,5.7 1.7,5.5 7.9-0.4 2.7-7.8zM1384.3,463.9l3.4-1.3 -0.5-5.9 -4.9,0.6 -1.5,3.8zM1169.4,386.2l-0.7,0.8 -0.1,5.1 5.4,2.7 2.5-4.2 -4.1-4.9zM1247.8,548.9l2.7-2.4 0-2.8 -6.7-0.6 -2.1,1.9 4,3.9zM1256.4,319.4l-3.5,6.1 4.6,4.9 6.3-5.6 -6-5.9zM1029.2,558.8l-0.4-3.1 -6.1-3.3 -3.8,5 5,7.2zM1241.5,367.3l2.8,1 4.1-3.2 -0.5-2.6 -2.4-1.4 -3.1,0.6 -1.8,2.3zM1330.6,528.8l-5.3-1.4 -1,1.9 1.4,4.7 0.6,0.1 2.4-2 2.6-1.6zM987.3,416l5.1,5.1 5.3-1.7 -0.4-6.3 -3-2.2zM986,299.5l-3.5-8.2 -5-1.2 -4.1,2.9 3.5,11.4zM1462.7,293.1l7.9-1.7 1.3-5.7 -8.5-2 -3.2,4.6 0.6,3.1zM1284.4,358.2l-1,2.2 0.7,1.9 4,2.1 3-1.6 0.1-3.9 -1.4,0.2 -4.5-1.2zM1094.7,428l2.5,5.1 3,0.9 3.3-2.4 0.5-5.7 -0.4-0.5 -7.7,1.2zM1418.4,301l8.4,3.4 4.2-4.8 -3.8-6.4 -3.3-0.4 -6.3,5.8zM1338.1,451.2l-2.3-5.2 -4.8,2.3 2.2,4.2zM963.6,283.2l-5.1-9.2 -2.5-0.7 -9.4,8 5.5,4.1zM1201.2,512.2l-4.1,2.4 -1.4,5.8 0.8,1.4 8.6-1.7 -1.4-7.4zM1049.5,187.9l-9.3,0 0.4,1.3 5.6,1.6zM1277.3,407l3.2-1.5 0.4-5.6 -1-1.1 -5.9,0.9 -1.3,1.6 1.4,4.7zM977.6,252.3l5.2-4.6 -1.7-8.3 -2.8-2.1 -8.6,0.9 1.5,13.9zM1290,557.5l-0.4,1.3 1.7,2.7 4.6,0.4 0.4-1.6 -1.7-3.7zM1336.4,444.9l3.4-1.4 -0.1-4.9 -1-1.5 -3.4,0 -2,1.7 -0.4,2.1zM1049,316.3l3.7-6.2 -4.1-5.2 -2.6-0.4 -5.8,5.8 1.7,6.5zM1364.7,502l2-1.7 -1.6,0.5zM1035.1,420.3l3.4-1.9 2.3-6.8 -5.3-3.9 -4.2,1.6 -0.9,1.6 3.7,9.1zM1349.4,457.1l-2.9,2.8 0.1,2.5 1.9,1.8 5.6,0.2 -0.9-7.3zM1364.1,475.2l-4.6-2.6 -2.3,1.6 -0.3,4.5 1.6,1.5 4.9-0.6zM978.3,237.3l2.5-12 -2.4-1.9 -9.2,0.4 -1.7,13.2 2.2,1.2zM1123.8,500l4.9-0.9 0.7-5.6 -4.2-2.9 -5.7,5.9zM1361.2,439.3l0.6,0 3.2-3.2 -0.5-3.8 -5.1-0.1 0,5.8zM1244.5,320.8l-5.8,5.2 1.1,3.5 5.7,3.3 1.2-0.3 3.3-6.5zM1407.1,340.8l-5.9-1.2 -4.5,3 -0.5,1.6 5.6,5.6 4.5-2.6zM1378.2,403.9l-1.9,2.3 0.5,3.4 1.8,1.4 4.3-1.8 -0.2-4.3zM1027.3,404.8l2.3-6.6 -8.2-1.5 -0.9,6.9 1.7,1.6zM1380.2,454.7l2.1,2.6 5.1-0.7 -2.8-6.7 -1-0.2 -3.3,3.5zM973,587.4l11.7-0.5 2.6,0.3 1.7,1.8 -6.3-8 -4.4-0.3 -5.4,4.6zM1296.4,517l0.2,5 1.9,1.7 4.5-1.5 1.7-3.8 -5.6-3.8zM1404.6,329.4l2.4-5.6 -3.9-4.3 -5.6,1.8 -0.6,1.8 3.8,7.1zM1076.8,200.6l-6.8,8.2 4.5,5.9 7.6-5 0.1-0.3zM1261,550.6l-2.4-0.6 -2.3,2.9 1.4,2.7 4.7-1.1zM1304.5,477.1l-0.4,1.8 2.2,3.8 3.4,0.3 2.4-2.4 0-2.3 -4.9-3.1zM1192.7,230.4l0.9-2 -3,2.2zM1191.3,251.4l-3-3 -7.5,4.4 -0.1,2.5 4.8,4.2 1-0.2zM1236.2,418.6l-2.1-6 -0.3-0.2 -5.3,2.4 -0.5,3.1 1.9,2.2zM1187.6,391.2l-4.4,3.9 -0.2,2.2 2.7,4 2.8,0.2 3.9-4.9 -0.3-1.6zM1162.2,474.6l0.9-6 -4.1-3.1 -4.1,2.1 -0.8,1.7 1.4,3.9zM1074.4,532.6l-9.2-2.6 -0.5,0.4 -1.4,4.8 0.8,1.6 7.5,3.7 3.2-1zM1256.3,366.4l2.7,1.4 3.5-0.8 2.3-4.2 -0.6-2.9 -5.8-0.4 -2.2,1.7zM658.2,392.4l-10.6,4.6 1.4,9 0.3,0.3 12.8-1.4 2.5-5.4zM1080,509.1l7.9-6.1 -0.5-2.5 -7.1-4.1 -1.7,0.4 -0.4,11zM1285.1,485.3l2.2-5.7 -3.8-3.7 -2.7,0.2 -1.9,2.8 1.1,4.6 3.5,2.2zM1140.3,568l-3.5,5.5 1.3,1.9 6.4,1.3 1-0.9 0.8-6.5zM1261.5,566.2l-1.8,6.2 2,1.8 3.8-0.4 -0.6-7.6 -0.7-0.7zM1044.6,362.5l0.2,5.5 5.7,0.7 5.5-5.1 -2.9-5.4 -3.1-1zM1136.5,528.7l-8.1,2.1 -0.3,2.1 5.6,6.3 1,0.1 3.4-4.1 -0.8-5.7zM1071.1,559.9l-1.2,0.3 -1.3,1.7 0.4,7.2 4,2.6 3.6-1.8 1.5-5zM873.6,230.3l1.2-11.1 -19.2-7.6 -1.8,19.4zM1316.1,643.6l7.7-2.1 0.4-1.6 -2.5-4.7 -7,0.3 -3.1,3.6zM1200.6,311.6l0.5-0.8 -0.1-7.1 -8.9-0.8 -3.5,3.1 7,6.7zM1297.6,433l-3-1.8 -4.4,2.2 -0.1,3.1 6.5,2.5 1.4-0.7 0.6-1.8zM1200.5,290.8l-0.4,0.3 0.1-0.3 -1.9-0.1 -1.3,2.4 5.3,8.8 5.5-7.2 -1-3.6zM1132.9,409.6l0.7,8.6 3.1,0.1 3.4-2.6 -0.9-4.6 -5.9-2.2zM1331.1,467.9l-4.3,0.7 -1.8,3.7 0.1,0.5 5.6,4.3 4.7-4zM1197.7,287.1l-5.7-2.7 -4.3,2.9 0.8,6.1 3.3,1.4 5.2-1.7 1.3-2.4zM1339.9,423l-2.3,1.7 2.3,4.3 3.1-0.1 0.3-4.4zM1094.1,592.5l0.4,1.9 3.9-3 5.3-1.8 -0.2-0.5 -1.6-0.5zM1201.9,483.2l-3.5-0.4 -1.8,5.7 1.7,2.7 4.3-1.9 1-3.3zM1304.2,562.6l0.5,1.3 0.2-1.5zM1385.9,491.9l1.5-1.9 2.5-1.2 0.4-3.9 -2.5-1.2 -4.7,1.9 1.6,6zM1418.8,284.7l0.6,0.1 6.1-2.2 0.2-1.5 -8.2,0zM1275.1,573.7l2.7,1.7 3.8-4.2 -3.9-3.8 -3.1,3.4zM1279.4,536.6l-0.4-3.9 -1.8-1.5 -0.8,0 -3.6,3 0.1,1.6 2.9,2.5zM1323.4,434l-2.2,0.4 0.9,5.3 3.4,1.6 0.5-0.2 1.5-4.3zM1234.6,477.2l1.6,0.7 5.3-2.5 0-0.5 -3.8-3.5 -3.4,0.9zM1294.5,479.8l-3.1,7.3 6.7,1.8 1.7-2.3 -1.5-5 -2.8-1.8zM1414.7,342l2.9,4 7-1.5 -0.9-8.3 -5.8-2.8zM1280.6,438.8l-0.5,1.4 1,4.1 1.8,1.1 3.7-2.3 -2.2-4.9 -1-0.3zM1383.4,427.1l-1.9-3.8 -2.6,0.1 -0.6,1.9 4.8,2.3zM1377.7,427l1.9,1.8 1.4-0.3 -3-2.4zM1277.2,322.5l7.2,1.6 0.5-0.4 -1-8.9 -0.9-0.6 -7,2 -0.6,1.3zM1260.1,469.1l-1.2-5.3 -4-1.3 -2,0.8 -1,1.5 1.7,4.3zM1459.8,302.1l3.5-3.8 -0.6-5.2 -1.9-1.7 -5.6,3.5 0.3,6.6zM1174.2,582.7l1.4,3.1 1.2,0.5 -1.2-5.8 -0.4,0zM1244.3,254.7l-4.9-0.2 -1.4,2.7 1.8-0.6 5.5,0.5zM1247.7,439.5l1.9-1.8 -1.1-4.4 -2.6-1 -3.2,3.9 0.3,2.7zM1168.8,529.6l-3.3,4.4 0.3,1.6 4.1,3 4.5-4.6zM1198.9,327.6l-3.3,4.8 5.5,5.8 2.2-1.6 -1-8zM1261.8,512.2l-1.5,2.7 2.7,3 2.8-0.8 1.3-3.7 -2.1-1.6zM1260.3,440.6l-0.6-4.7 -4.3-0.5 -2.3,3.3 1,2.3 1.7,0.9zM1115.3,493l-6.2-4.4 -2.4,0.8 -1.1,5.8 2.5,2.2 7.6-2.9zM1105.3,568.7l-4.5-3.4 -3.3,0.8 -1.6,6.7 8.1,3.3zM1288.7,605.2l-5.7-6 -1.7,1.8 2.9,2.3 0.3,6.9zM1191.8,318.2l3.8-5.5 -7-6.5 -4.2,5 0.5,3.7zM1264.8,324.9l-1-0.1 -6.3,5.6 0,1.1 3.4,4.1 6.4-2.1zM1353.8,435.9l0.9-4.2 -0.5-0.5 -4.9,0.1 -1.9,4.6 0.1,0.7 2.2,0.8zM1212.1,573.5l1.1-2.5 -4.3-4.2 -3.8,0.2 -2.6,4.8 3.2,4.3zM1352.8,450.4l-4.5,1 -0.9,1.7 2,4 3.6-0.2zM873.3,360.4l-11.5-2.6 -3.9,16.8 2.8,2.8 11-2.6zM792.5,306.1l-11.9-9 -6,2.5 1.8,13.2 2.9,2.5zM1178.5,511.9l-0.2,3.1 4.1,3.2 3.6-1.8 -2.7-6.2zM1046.2,190.8l1.9,6.9 5.2,1.2 6.4-6 -3.1-5 -7.1,0zM824.1,337.8l0.7-5.5 -6.7-6.9 -11.5,9.1 11.1,7.1zM1160.7,345.2l-3.9,1.7 -1.2,5.6 1.7,1.8 6.6-0.2 1.9-1.6zM1330.1,442.5l0.4,5.6 0.5,0.2 4.8-2.3 0.6-1.1 -3.5-4zM1253.3,430.9l2.1,4.5 4.3,0.5 0.4-0.5 0.1-4.6 -6.4-1.1zM1182.6,479.1l-4.3-2.2 -1.3,1.7 0.6,5 3.1,1.8 2.3-1.2zM1283.9,554.9l-0.5,0.6 -0.2,3.2 2.2,1.9 4.2-1.8 0.4-1.3 -1.3-2.3zM1262.8,375.9l2.1,1.5 6.3-1.1 0.2-0.5 -2.7-5.5 -3.2,0.3zM1188.1,497.2l2.2-4.4 -1.2-2.7 -1.4-0.3 -3.7,2 -0.3,5.2 1.5,0.9zM1384.6,449.9l2.8,6.7 2-0.7 1.8-2.7 -0.6-2.1 -5.5-1.4zM1039.5,216l5.7-4.5 -3.1-8.6 -4.3-1.6 -9.4,7.1 -0.1,1.2zM1151.6,395.3l-0.8,2.7 2.8,2.9 3.7-0.5 2-4.3 -3.7-3zM1520.6,241.5l-10.4-7.7 -1.2,0 -4.8,8 4.6,11.1 7.9-0.3zM1332.8,487.4l-2.7,2.2 -0.3,4.3 1.3,1.3 4.8-0.2 1.9-5.4 -1.4-1.6zM1235.5,579.6l-5.2-2.3 -0.5,0.8 5.7,2.4zM1148.1,431.3l0.5-0.8 -0.4-8.1 -1.2-0.9 -6.5,3.7 -0.7,1.8 5,4.7zM1218.9,525.9l5.3-1.2 0.5-0.9 -1.4-7.9 -5.2,1.3 -1.4,5.1zM1358,508.3l2,1.8 2.2-5.2 -3.3,0.6zM1296.6,644.3l9.8,0.1 2-4.8 -1.3-1.5 -7-1 -4.1,5.2zM1243.3,443.6l-3.3,2.6 -0.1,1.6 0.4,0.7 5.3,1.2 0.8-4.8zM1119.7,427.2l2.5-4.9 -3.9-3.3 -4.5,1.1 -1,1.6 0.1,2.2zM1416.6,381.6l-0.1-2.7 -2.4-2.2 -5,0.7 -0.2,6.4 3.8,2.4zM986.4,331l0.2,5.1 2,1.5 6.6-2 1.1-3.6 -5.5-3.9zM1501.5,228.5l-3.2-3.9 -2.6,3.6zM1226.1,448.4l-1.4,1.5 0.6,3.8 4.9,0.8 2.2-1.5 -2.4-4.2zM1180.8,252.8l-4.9-4.3 -3.8,1.3 -0.7,5.3 4.5,3.6 4.8-3.4zM1127.2,312.3l-7.3-1.2 -0.4,1.1 2.8,10.2 4.1-0.4 2.7-3.3zM1223.6,388.8l1.9-0.8 1.7-4 -4.1-2.9 -2.7,0.5 -0.2,4.6zM1177.9,455.3l0.5,0 4.3-3.2 -0.1-2.8 -6.6-1.1 -1.8,1.7zM1433.8,338.7l-5.6,6.3 6.1,3.7 5.7-3 -0.1-3.5zM1216.5,362.9l7.3-1.6 0.3-0.7 -4.6-4.8 -2.4,0.6 -1,5.9zM1157.9,584l-0.1-0.5 -4.4-2.8 -6,3.3 3.4,7.1zM1298.3,375.7l1.7-3.5 -0.8-3.2 -2.4-1.6 -5.8,3.6 -0.3,3 4.2,2.7zM1088.1,444.7l-0.6,4.5 0.8,1.4 7.1,1.5 1.5-1.1 1.2-5.5 -0.5-1.3 -4.4-2.9zM1057.5,275.1l2.2,9.2 2.3,1 3.7-0.8 5.4-8.5 -7.4-3.9zM1064.1,536.8l-1.7,7.7 3.3,4.2 1.9-0.5 4-7.7zM1234.6,565.8l-0.7,2.4 0.5,1.2 5.7,3.3 3.1-1.3 1.9-3.2 -3-5.9zM1360.9,394.6l4.9-2.1 0.1-3.1 -4.4-3.4 -5.1,1.2 0.2,5.7zM917.8,390.4l-0.8-1 -12.8,3.4 1.9,10.6 0.3,0.3 8.2-1.5zM1120.3,242.4l-6.1-3.1 -5.6,5.9 0.2,2.2 5.9,5.1 4-0.1 3.2-2.7zM1092.9,243.8l1.7,1.4 8.3-3.6 -0.3-8.1 -10.6,1.2zM1204.8,418.8l0.5,0.5 6.4-1.8 0.6-0.9 -3.2-3.8 -4.3,1.1zM1284,468.8l-6.2,1.8 3,5.5 2.7-0.2 2.3-3.5zM1098,544.6l3.5-5.1 -0.6-4.9 -8-0.3 -2,7.9 2,1.8zM1312,610.2l2.5-4.5 -3.9-4.9 -5.1,3.3 0.1,4.7 2,2zM1073.7,521.9l-6.1,2.3 -2.4,5.8 9.2,2.6 2.5-2.5zM949.4,330.3l-0.5-9.3 -12.8-3.5 -5.8,4.7 0.2,0.9 9.2,8.2 8.8-0.2zM1458.6,313.7l3.5,7.6 4,0.8 5.5-5.6 -9.3-6 -3.4,2.3zM1078.6,408.3l4.1-5.8 -3.9-2.6 -6.1,1.1 -0.9,2.9 2,3.7zM1070.8,309.1l2.1-0.9 2.6-4.3 -6.6-6.7 -6.7,1.5 0.1,7.1zM1187.6,391.2l4.5,3.8 3.5-4.1 -0.8-3.4 -3.2-1.9 -4,4.3zM1163.6,395.2l0.4,0.2 4.6-3.3 0.1-5.1 -6.9,0.3 -0.4,0.6zM1232.7,528.9l2.3-2.3 -4.1-5.1 -6.2,2.3 -0.5,0.9 2.8,4.2zM1395,437.6l-0.2,0.6 1.1,1.7 2.3-3.7zM1122.2,564.3l6.7-0.9 1.1-5.1 -2.2-3.1 -2.7,0.1 -5,6.2 0.3,1.6zM978.4,223.4l2.4,1.9 5.8-0.2 4.3-6 -2.3-6.5 -9.2-1.4zM1185.2,454.3l2.3-0.1 3.4-3.9 0-2.1 -7.7,0.2 -0.6,0.9 0.1,2.8zM1234.4,461.3l1.3-3.2 -2.9-5.1 -0.4,0 -2.2,1.5 -0.3,5.6zM870.6,416.3l3.4,4.8 10.4,0.7 1.6-1.9 0.1-9.2 -7.2-2.5zM1275.1,332.3l3.4,1 2.8-0.8 3.1-8.4 -7.2-1.6 -3.4,3.9zM944.3,281.1l-3.9-5 -13.6-1.5 -1.5,1.8 1.9,17.6 7.6,1.7 3.2-1.8zM1118.8,360.2l3.9-2.8 -0.1-3.3 -7.1-2.8 -2.2,3.1 0.5,3zM1216.1,456.2l2.6-3.2 -0.6-4 -0.4-0.1 -2.8,0.4 -3.4,4.1 3.2,3.1zM1011.1,504.7l5.4-0.4 1.4-2.4 -3.2-6.5 -6.7,3.6zM1240.6,364l1.8-2.3 -2.6-3.7 -3.5,0.4 -0.9,4.1 0.8,1zM1084.5,362.4l3.7,2.2 6.5-3.3 -3.9-5.2 -4.1-0.3zM1163.1,468.6l-0.7,5.9 6.5,0.8 2.3-3.3 -4.9-4.5zM1363.9,450.5l2.1,3.9 3.2-0.3 0.9-1.5 -2.1-5 -2.6,0zM1234.3,436.7l2.1,0.3 2.6-2.6 -0.5-2 -2.9-1.2 -2.8,2.6zM1357.3,340l-6.4-4.8 -4.8,1.2 1,6.7 7.4,4.4zM1258.7,396.4l2.6-5.6 -6.7-1.8 -2.2,2.6 1.1,4.3zM1119.7,265.2l1.7-3.2 -2.7-9.6 -4,0.1 -5.5,9.1 0.4,3.1zM1139.1,387.1l-1.8-3.5 -2.7-1 -1.7,0.5 -3.2,6.2 6.1,2.2 2.7-2zM942.1,238.8l-2.9,1.5 -1.7,15.1 3.6,1.5 14.2-10.6 -0.1-2.5zM1118.8,380.4l1.4,5.8 4.7,1.7 1.4-7.4zM1056.6,330.2l3.9-0.1 3.3-5.1 -2.8-5.4 -8.6,4.1 -0.1,0.4zM1207.6,364.1l2,2.7 6.5-1.3 0.4-2.6 -0.4-0.6 -6.8-2.6zM1240.9,504.9l-3.7,1 -0.7,1.1 3.5,4.4 3.1-0.3 1.5-3.9zM1272.5,431.7l0.6,0.4 5.6-2.2 -2.5-4.5 -3.9,1.1zM1181.6,560.4l0.6-3 -2.8-4.9 -1.8,0 -2.8,3.4 1.6,5.1 3.3,0.7zM1306.9,356.4l2.5-3 0-0.8 -1-1.2 -1.6,0.7 -4.3,3.4zM1318.5,455.6l-4.6,0 -1.1,4.6 4.3,1.9 3.2-4.9zM1148.7,367.8l2.8-5.6 -3.1-3.7 -5.6,0.7 -1.5,5.6 4.6,3.3zM979.7,511.3l-3.2-2.1 -7.9,7.4 0.5,4.7 7.4,1.3 4.5-3.3zM1250.3,424.8l0.3-0.9 -1.3-3.1 -3.6-1.7 -3.4,2.3 0.1,2 4.3,3zM1058.3,527l-0.6-5.7 -6.4-1.7 -0.3,0.2 -2.1,5.5 2.9,4.7zM1314.6,390.5l-1.3-4.1 -3.4-1.7 -2.8,1.2 1,6.5 4.9,1.2zM1363.8,409l-3.2-3.2 -2.9,0.4 -1.1,1.5 1.8,4 4.8-0.1zM1172.8,485.8l1.1,3.6 3.7,1.8 2.4-1.6 0.7-4.2 -3.1-1.8zM1296.4,358l-5,1 -0.3,3.8 5.4,3.3 2.4-6.3zM1032.5,569.7l-7.3-2.9 -2.7,9.5 4,3.6 6.2-5.1zM1150.2,376.2l-7.8-0.8 -0.3,0.2 -0.1,3.4 4.6,4.2 5.3-3.8zM1336.9,404.9l-4.7,4.9 4.1,3.7 2.2-0.6 2.9-5.5zM1135.3,326.4l-5.5,0.2 -3.8,5 6.1,2.8 4.2-3.6zM1197,421.9l1.5-2.1 -1.9-7.8 -8,5.2 -0.2,1.6zM1322.8,660.6l-0.8,6.3 2.2-5.7zM1208.1,267.7l-7.5,1.5 3.1,9.5 4.1-2.2 3.6-6.2zM1319,531.1l-2.9-3 -5.5,1.9 3.4,6.6 1,0.4 3.5-2.3zM1066.9,474.6l5.3,5.1 6.1-1.6 -3-7.2 -6.7-0.8zM1315.8,474l3.7-3.1 -1.5-5.3 -5.8,2.1 -0.7,2.4zM825.7,253.4l-6.3-3.5 -3.5,0.6 -6.6,14.2 10.2,5.5 7.9-4.1zM1013.1,513.9l5.2-4.9 -1.8-4.7 -5.4,0.4 -3,5.6zM1097.9,320.7l4.6-8.6 -3.2-2.5 -4.1,0.3 -2.5,5.9zM1011.3,587.2l3.6-1.7 0.6-8.5 -7.1-0.2 -3.8,5.7zM1225.5,388l4.1,2.5 3.5-3.2 0-2.5 -3.3-1.8 -2.6,1zM1245.8,461.5l1.3-3.6 -3.7-2.5 -2.3,0.5 -0.4,0.8 0.6,5.1zM1101.4,300.1l-7.2-2.8 -4.1,8.8 5.1,3.8 4.1-0.3zM1321.1,414.1l-0.6-0.1 -4,2.2 -0.2,4.9 1.5,1 3.8-1 2-4.4zM1219.2,248.7l-0.2-0.7 -7.8-2.7 -3.6,2 -0.3,2 6.5,3.5zM1279.8,560.6l0.6,3.9 4.1,1.4 1.4-2.3 -0.5-3 -2.2-1.9zM1197.5,458.8l2.7,2.2 2.7-1.5 0.4-2.5 -2.2-2.6 -2.2,0.1zM965.6,349.3l7.4-2.7 0-4.7 -6.8-4.4 -0.6,0.3 -0.7,10.6zM1022.9,644.6l4.1,4.4 1.1,0.5 -0.3-2.5zM1359.5,469.4l0,3.2 4.6,2.6 2.5-1.9 -1.1-6.4 -2.5-0.2zM1251.9,359.6l-1-6.3 -5.3,0.3 -0.1,7.5 2.4,1.4zM1211,376l3.6-3.1 -5.2-3.7 -4.4,4.4 0.3,0.8zM976.7,279.6l0.8,10.5 5,1.2 5.1-4 -0.5-7.6zM1118.6,199.4l7.9,4.4 1.7-2.5 -2-1.9 -7.1-1.1zM1272.3,345.2l3.6,2.2 1.2-1.7 1.2-4.6zM1230,448.8l2.4,4.2 0.9-0.3 2.1-4.3 -2.9-4.7zM1173.3,547.9l-2.5,1.9 -0.6,5.1 4.6,1 2.8-3.4zM1173.2,211.5l0.2,1.3 1.3-1zM1071.8,427.4l-9.4,0.1 -0.8,0.6 2,8.1 7.5-2zM1191.8,279.4l0.2,5 5.7,2.7 4.3-6.5 -7.4-3.1zM1441.8,319.9l0.9-2.6 -4.7-7.5 -5,2.2 1.3,6.8zM1435.4,282.6l5-1.5 -5.4,0zM1145.6,253.7l-5,2.2 0.1,4.5 5.9,3.4 2.6-6zM1228.3,357.5l5.4-2.4 0.6-1.7 -2.2-5.4 -7.4,1.9zM1133.5,319.5l-4.4-0.8 -2.7,3.3 3.4,4.6 5.5-0.2 0.3-0.6zM1400.8,286.9l7.4,0.3 -0.3-4.7 -7.2,4.1zM1113.8,420.1l-1.3-4.8 -4.6-1.5 -2.9,5.5 7.8,2.4zM1165.8,368.8l5.6,3.5 3-3.8 -4.2-6.2 -0.7,0.2zM1131.1,521.3l0.2-6.5 -5-1.3 -2.9,5.3 4.4,4zM906.9,413.5l-4,4.6 9.4,8.5 3.2-0.5 3-11.2 -0.3-0.3zM1392.8,463.6l1.9,1.2 -1.1-3.5zM1015.1,461.4l3.7,2.5 6.1-4.2 0-4.9 -5.9-3.1 -0.4,0.1zM1204.6,434l5.5,0.7 1.9-3.9 -4.9-2.3zM1319.9,650.4l-4.5-1.6 -3.9,2.3 4.3,8.3 5.5-0.9zM1315.8,669.7l2.6-0.4 3.3-2.3 -6,2.3zM1275.2,368.8l2.4-2 -1.2-4.3 -3.7-0.4 -2.6,3.2 0.5,2.3zM1366,454.4l-2.5,3.7 4.5,3.6 3.2-4.1 -2-3.5zM1305.2,546.2l-0.7-1.8 -5.3-0.9 0.3,5.8 1.2,0.6 3.7-1.5zM1008.1,379.8l5,5.5 6.4-6.2 -5.5-5.6 -5.3,3.4zM1298.3,481.6l5.8-2.7 0.4-1.8 -5.2-3.8 -3.8,6.5zM1293.5,382.6l-6.9-1.5 -1.2,3.8 2,5 6.6-2.2 1.4-2.5zM1305.5,444.6l-2.8-2.4 -2.8,3.6 1.8,4 2.6-0.9zM1485.2,349.3l-0.4,2 0.3,0.8 -0.4,0 1.4,1.8 0.6-0.1 -0.3-4.7zM1289.3,529.8l-5.1-0.5 -1.1,2.6 1.9,2.8 4.6-1.6zM1259.7,572.4l-2.7-0.4 -4.2,2.8 3.4,5.5 3-0.2 2.5-5.9zM1053.2,388.2l1.2-4.8 -3-4.3 -6.4,0.8 -0.9,0.9 1.2,6.7zM1169,335.3l-2.6-1.4 -7.2,3.7 2,6.5 8.4-2.5zM1288.7,555.2l1.3,2.3 4.6-0.9 0.6-2.1 -0.5-1.2 -4.3-1.4zM743.9,258.2l-5.9-5.4 -11.2,6.6 6.2,12.5 10.2-4.5zM1044.3,642.8l-6.3,4.9 0,0.5 6.5,5.7 5.3-5.8 -0.4-2.5zM1222,433.7l4.5-3.5 -2.6-4.8 -1.7-0.8 -3.7,3.7 2.6,5.2zM1035.4,385.4l2-4.8 -1.5-1.9 -5.3-0.9 -5.2,5.9 0.7,3 0.4,0.2zM1222.8,391.9l1.4,2.3 3.9,0.8 1.8-1 -0.3-3.5 -4.1-2.5 -1.9,0.8zM1273.9,485.7l6.1-2.2 -1.1-4.6 -4.1-0.3 -2.6,2.7 1.3,4.2zM857.8,195.2l11.2-6.2 0.1-1.1 -15.5,0zM1166.2,400l-2.2-4.6 -0.4-0.2 -4.3,0.9 -2,4.3 4.4,4.7zM1009.7,443.2l2.2-0.4 1-1 0.3-7.4 -7.5-0.2 -3.3,4.2zM1119.4,452.8l6.6,1.2 1.2-5.5 -5.2-2.1 -1.7,0.8zM1330.3,501.8l-1,0.7 1.1,5.6 5.1,1 1.9-6.5zM1175.6,407.4l-4.9-0.8 -3.2,2.8 1.1,4.3 2.4,1.2 5-4.5zM957.6,315.1l0.4-0.2 2-7.8 -7.1-8.4 -5.9,9.6zM1246.7,495.4l-2.6,0.1 -2.3,2.8 1.3,2.6 3.7,0.4 2.3-3.4zM1277.7,552.3l-3.1-0.8 -2.3,2 3.3,5.3 2.8-4.4zM1017,281.5l4.2,4.9 10-1.6 -6.3-12.1 -0.6,0.1zM1208.9,475.1l-3.2,1 -0.8,1.4 0.2,1.6 3.9,2.8 3.8-2.6 -0.4-2.1zM1353.2,449.9l5.5,1.4 0.4-5.9 -1.2-0.6 -4.9,2.7zM826.1,285.5l-0.5,6.3 2.6,3.6 15,1.7 2.3-12.7 -6.7-7.4zM1339.4,481.4l-3,6.6 1.4,1.6 3.5,0.3 3-2.7 -1.7-4.7zM1292.9,522.5l-3.1-3.7 -1.4,0.1 -1.4,5 3.6,2.5zM889.8,441.3l-1-9.4 -1.5-0.9 -10.5,5.1 -0.4,4.2 8.7,4.9zM1230.9,481.3l0.6-2.8 -3.3-2.8 -3.9,3.6 0,3.1 2,1.8zM1178.7,292.8l2.4-8.7 -10.2,0.1 2.9,9.3zM1050,357.2l3.1,1 6.4-6.5 -0.8-2.3 -3-2 -8.5,4.3zM1232.5,443.7l-0.9-3.4 -4-2.3 -1.8,0.6 0,5.3 0.4,0.4zM1260.3,514.9l-3,0.5 -0.5,4.3 2.6,2 2.9-0.9 0.7-2.9zM980.4,327.7l6,3.3 4.4-2.9 0.1-6.1 -5.6-3.1zM988.6,506.5l-0.2-2.1 -6.5-4.1 -5.8,7.4 0.4,1.5 3.2,2.1 7.2-1.9zM1238.5,432.4l0.5,2 3.7,1.8 3.2-3.9 -0.7-1.5 -4.1-1.2zM762.8,263.5l9.6,13.8 7.3-5.7 -1.1-14 -1-0.5zM1239.4,254.5l-2.2-2.4 -6.5,1 -0.2,6.5 1.3,0 6.2-2.4zM1249.4,532.6l0.1,5.1 5.8-1.9 -0.3-1.7 -4.1-3zM1169.8,493l4.1-3.6 -1.1-3.6 -4.8,0.5 -2,2.7zM1417.6,298.6l6.3-5.8 -4.5-8 -0.6-0.1 -4.8,3.2 2.1,9.7zM1242.1,487l-8,2.5 0.1,1.2 4.1,3.2 3.7-2.1 0.9-2.9zM1049.4,482.6l-1-5 -6.8-2.4 -1.5,4 2.5,5.2 4.1,0.7zM1205.3,577.6l-1.9,1.1 2.5-0.3zM1455.2,294.9l-4.4-2.4 -3.6,2.7 2.2,5.5 5.1,1.3 1-0.5zM972.6,277.7l2.3,0.3 4.9-9.6 -1.1-2.9 -10.8-2.2 -0.9,0.7 -0.5,3.2zM1041.7,411.3l7.6,3.8 2.8-6.8 -1.2-1.9 -5.6-0.4zM1253.8,429.7l6.4,1.1 1.3-1.4 -0.2-2.4 -3.3-1.9zM1054.6,263.8l-1.4,9.4 4.3,1.9 6.2-3 -0.8-8.6zM1206.9,450.3l2.1-4.8 -5-3 -4,3.8 3.9,4zM709.4,500.9l-6-0.9 -2.1,2.4 1.7,0.7 1.3,2.3 6.7,2.9 1.7,0zM1289,422.1l-0.2,0.6 1.5,3.6 4.2,0.9 2-2 -3-4zM1088.4,255.9l-7-5.8 -5,7.1 5.8,6.4 2.7-0.9zM761.5,298.5l-1.9-0.1 -9.8,10.3 5.2,8.2 7.3-0.3 1.9-2.4zM1304.3,366.5l4,1.4 1.5-1.3 0.5-4.9 -3.1-2.1 -3.1,2.3zM1013.5,219l5.4,11 8.6-6.7 -3.1-9 -9.3,0.7zM1121.2,407l-4.8-2.2 -3.7,2.1 -0.1,0.4 2.4,5 3.6,0.3zM1232.8,433.8l2.8-2.6 -1-4.6 -2.1-0.2 -4.3,4.3 1.4,2.3zM1257.2,421l0.2-0.4 -5-4.5 -3.1,4.7 1.3,3.1zM1191.3,251.4l-4.8,7.9 4.8,3.4 4.1-2.4 -1.7-8.3zM1006.3,408.5l6.9,1.6 2.8-5.7 -4.2-4.8 -2.5,0.9zM1099.8,486.7l-2.5,8.9 1.3,1.3 7-1.7 1.1-5.8 -4.8-3.1zM1116.6,200.1l-5.1-2.6 -6.8,4.1 4.9,6.8 5.3-1.1zM1359.1,490.7l1.9-2.7 -3.7-3.8 -4.4,1.5 1.9,5.2zM1001.8,295.6l7.9,7.4 6.4-7.8 -7-6.7zM1163,268.7l-4.4-6.6 -5.4,4.6 2.1,5.8 6.8-0.2zM762.8,368.7l-0.4,6.4 11.1,10.2 11.8-4.2 2.3-13.5 -7.9-6.4zM1143.3,393.8l4.5-3.6 0.2-1.5 -1.8-2.7 -7.1,1.1 -0.6,2.4zM1509,233.8l1.2,0 5.2-4.5 -3-2.4 -6.9,2.9zM1168.7,387l0.7-0.8 -3.1-6.8 -5.2,2.8 0.7,5.1zM1276.8,519.6l-1.1-4.9 -0.5-0.3 -3.2,0.5 -0.8,2.9 2.5,3.9zM1159.3,441.4l5.9,3.9 2.4-1.1 1.2-2 -3-5.2 -6.1,0.1zM1311,599.7l-0.4,1.1 3.9,4.9 0.5,0 -3-6.3zM663.6,449l-3.7-4.2 -5.4,0.8 0.9,2.2 5.6,4zM851.1,396.4l-0.1,2 0.5,0.4 14.8,2.3 3.5-2.4 -1.1-9.7 -7.3-4.7zM1325.7,534l-1.4-4.7 -5.3,1.8 -0.5,3.6 4.4,2.3zM944.5,441.5l10.7-5.1 0.6-1.8 -8.2-8.7 -5.6,4zM1377.7,392.7l2.8,5.6 2.6,0.2 3.5-3.6 -0.1-2.1 -4.5-2.3zM981.9,485l-5.8-5 -6.1,6.1 7.4,4.3 2.7-1.2zM658.8,189l11.9,0.9 0.6-2 -12.6,0zM1288.1,364.4l-4-2.1 -3,5.2 1.6,2.7 5.4-1.5zM1314.5,488.6l3.9-3.2 -0.2-1.2 -6.1-3.6 -2.4,2.4 1.4,4.5zM1389.3,390.6l5.8,2.4 3.6-6.1 -3.6-2.8 -5.2,2.2zM1388.2,471.1l1.8,5.5 4.9,1.2 0.4-0.6 -0.7-5.9 -5.5-0.8zM1391.4,443.9l0,3.3 1.5-2.4zM1379.6,428.8l-1.9-1.8 -2.6,0.4 -0.6,3.6 3.1,2.5 0.9-0.6zM1276.2,355.4l2.1,4.8 5.1,0.2 1-2.2 -0.3-0.6 -7.1-2.8zM1364.8,432l-0.3-4.7 -4.3-1.5 -0.7,6.3 5,0.2zM1306.5,618.2l-0.5,0.5 4.2,8.7 2.2,0.2 1.1-0.7 2.5-8.9zM1212.4,423.6l0.6,0.4 4.6-2.5 -0.1-3.1 -5.2-1.8 -0.6,0.9zM1254.1,582.8l-8-0.1 1.4,5.7 1.8,0.3 5.4-2.5zM1043,515.6l8,4.2 0.3-0.2 2.5-7.6 -5.8-2zM1199.6,430.8l2.2-4.4 -4.6-4.6 -3.5,5.8 2.2,4.4zM1172.5,419.3l-5.9,2.9 1.3,4.4 6.4,0.3zM838.6,215.8l-8.8-14.1 -14,13.2 14.5,8.4 6.4-2.8zM1134.2,453.7l0.8-3 -5.7-3.4 -2.1,1.2 -1.2,5.5 1.1,1.7zM1206.7,384.1l6.7,2.9 1.3-5.9 -2.9-1.2 -5.2,2.5zM1355.7,363.4l-7.2-0.2 -1.3,3.9 4.2,5 2.5-0.6zM1145.5,405.6l-1.2,0.9 3.4,7.8 3.9-1 1.3-6.6 -0.4-0.7zM1182.4,237.6l4.3-0.7 0.5-3.4 -5.1,3.7zM1172.4,596.1l2.2,1.7 -1.9-2.2zM1249.6,497.9l4.3,3.3 1.1-0.2 1.3-4.2 -1-1.9 -2.5-0.4zM1200,392.5l4-3.4 -0.1-0.6 -5-3.2 -4.1,2.2 0.8,3.4zM1383.1,398.5l-2.6-0.2 -2.7,2.8 0.4,2.8 4.5,1 0-0.6 2.1-1.8zM1107.1,388.6l0.8-5.7 -5.3-1.6 -1.3,1.2 -0.2,6.5zM1219.7,440.9l4-3 -1.7-4.2 -0.9-0.2 -4.5,2 1.9,5.2zM1391.5,418.9l4.3,3.1 4.1-2.1 -2.7-4.6 -1.8-0.3zM1227.3,401l0.8-6 -3.9-0.8 -2.4,4.3 4.3,3.6zM1086.7,464.3l5.9,4.6 0.5,0 3.5-7.9 -1.6-2 -7.4,1.1zM1267.9,478.9l2.7-4.7 -1.7-2.8 -3.5-0.3 -1.8,5.4 0.3,0.8zM1152.4,319l-0.2-2.3 -5.4-3.8 -5.2,3.7 1.1,3.7 8.1,0.7zM1103.5,431.6l4.3,1.3 3.3-3.2 -0.3-2.8 -6.8-1zM1106.8,470.3l3.6-6.1 -6.3-4 -2.5,1.6 0.6,6.5zM1272.1,542.6l-2-3.9 -2.2-0.2 -1.7,2.8 2,2.5 2.9,0zM1120.5,324.7l-8.3-4.4 -1.2,6.7 4.9,2.4 4.5-3.6zM964.3,400.1l7.4-7.1 0-1.8 -5.7-5.5 -7.9,5.2zM1064.6,358.8l-8.6,4.9 7.5,7.7 1.7-0.9 1.6-10zM1139.2,411.1l4.6-4.7 -4-3.1 -6.6,2.8 0.1,2.8zM1225.2,534.9l-2,0.1 -3.4,4.7 2.4,4.3 5-1.9 -1.1-6.5zM1298.8,359.4l0.1,0.4 5.2,2.1 3.1-2.3 -0.3-3.2 -4.4-0.9 -2,1.6zM1383.4,421l-1.9,2.3 1.9,3.8 1.5-0.5zM932.4,573.1l-1.8,0.3 5.1,11.3 2-5.3zM1257.8,382.1l5.8,3.3 2-1.7 -0.7-6.3 -2.1-1.5 -0.8,0zM1197.1,449.1l-6.1-0.6 -0.1,1.8 2.8,4 3.8-0.9zM1477.6,308.6l-3.5,7.3 2.8,3.8 5-8.7 2.5-0.8zM1370.3,446.1l-2.3,1.5 2.1,5 3.9-1.1 1.1-1.8zM899.5,372.7l-4.3,6.6 4.8,6.5 9-6.5 -1.9-5.4zM1245.6,414.9l0.8-0.9 -0.7-3.5 -5.2-2 -1,1.9 1.9,4.3zM1376.3,406.2l1.9-2.3 -0.4-2.8 -5.5-2.6 -1.5,6.2zM1252.6,574.7l4.4-2.7 -1.5-4.7 -5.4,1.1zM1087.9,181.1l3.5-1.2 -0.1-0.5 -4.3-0.7zM1268.8,487.5l-3-2.9 -3.7,0.2 0,5.4 2.7,1.1 3.6-1.8zM1210.4,409.2l-1.3,3.6 3.2,3.8 3.8-5.5zM1159.2,321.1l3.1-3.1 -3-6.8 -2.3-0.2 -4.8,5.7 0.2,2.3zM1285.4,560.6l0.5,3 3.7,0.4 1.7-2.5 -1.7-2.7zM1384.9,382.3l7.5-6.1 -2.1-3.5 -7.1,1.3 -0.6,8.1zM672.5,225.5l-4.9-8.8 -1.8-0.4 -10.5,10.2 2.1,4.6 10.5,2.1zM1444.8,337.9l4.8,4.8 5.6-1.6 -1.9-6.9 -8.1,1.4zM1000.7,383.2l7.4-3.4 0.6-2.9 -5.2-4.8 -4.9,1.1zM825.6,404.1l0.5,3.8 11.8,6.6 6.9-13.7 -11.1-3.8zM1239.3,453l1-4.5 -0.4-0.7 -4.5,0.6 -2.1,4.3zM836.7,220.5l-6.4,2.8 -3.3,11 10.1,5.3 8.9-8.3zM1257.7,555.6l-0.4,1.1 2.1,3.3 2.9-0.2 1.1-4.8 -1-0.5zM1105.9,445.7l0.9,3.8 5.6,1.5 1.9-6.5 -7.2-0.5zM1266.2,413.9l-4.5,5.4 2.9,3 5.3-2.8 -2.7-5.8zM1346.5,447.7l-4.3,2.2 1.9,3.3 3.3-0.1 0.9-1.7zM1277.3,450l0.4-3.6 -3.9-3.2 -2,3.3 1,2.4zM1475.5,302l0.3-0.6 -5.2-10 -7.9,1.7 0.6,5.2zM1336.5,424.6l-2.9,2.5 2,3.4 2.4,0.3 1.9-1.8 -2.3-4.3zM978.3,367.5l0.3,0.3 8.7,0.4 1.9-2.7 -2-4.7 -5.4-0.1zM1139.5,337.9l-1.8,1.7 1,5 5.3,0.2 1.2-4.4 -0.9-1.7zM1288.1,540.2l2.9-5.6 -1.4-1.5 -4.6,1.6 -0.3,1.4zM1457.9,330.8l0.2-7.1 -5.5-2.3 -4.1,3.7 6.4,6.6zM1214.9,535l4-3.2 -0.6-4.8 -7.8,1.8 -0.6,3.5zM1358.3,378.3l4.2,1 2.9-8.2 -2.3-1.3 -6.9,2.7z" fill="#fdcc8a" stroke="#63554b" stroke-width="0.55" stroke-linejoin="round"/>
<path d="M678.6,210.1l-11,6.6 4.9,8.8 10.1,0.7 2.2-5.8 -5.9-10.2zM1000.3,583.3l-4.3,7.2 5.4,4.7 8.6-2.8 1.3-5.2 -6.7-4.7zM731.7,275.5l-15.8,4 3.7,16.2 14.3-3.2 1.4-10.9zM1407,323.8l6.4-1.3 0.4-1.2 -2.8-6.6 -5.9-0.7 -2,5.5zM656.5,271.4l-0.3,0.5 4,14 6.9,4.1 13.8-9.6 0.5-3.7 -5.6-7.8zM892.8,469.6l7.4,8.6 7.8,0.4 6-9.9 -6.4-11.8 -8.6-0.5zM822.7,462.8l1.1,9.8 20.3,6.6 7.2-18.6 -9.1-10.2 -12.9,3.6zM995.5,546.6l-7.4,11.3 0.1,0.6 12.2,3.3 7-7.1 -3.2-6.9 -4.6-1.8zM1320.3,457.2l-3.2,4.9 1.1,3 6.5-1.1 1.1-3 -3.4-3.9zM1258.8,474.8l1.3-5.7 -6.5,0 -1.6,3.9 2.5,2.8 1.9,0.3zM1048,510l5.8,2 1.5-0.7 0.2-6.4 -4.4-2.8 -4.3,3.9zM757.3,229.1l-0.6,1 0.1,4.1 15.5,7.7 2.6-2.4 -1-17zM676.6,393.8l-0.8,2.3 4.4,11.2 15.5-5 -3.2-14.7zM945.5,466.3l14-1.7 2-2.7 0.7-3.9 -8-7.5 -7.6,1.1 -5.1,10zM1089.6,478.6l-5.8,7 1.4,2.6 4.3,1.2 5.9-5.1 -1-4.2zM1047.1,422.1l3.6-3 -1.4-4 -7.6-3.8 -0.9,0.3 -2.3,6.8zM802.3,266.9l-3.8-2 -11.6,8.3 4.5,12.9 1.9,0.5 10.2-6.6zM1308.2,418.3l3.9-4.7 -0.4-3 -5.6-0.7 -3.4,2.4 5.1,6zM720.6,249l2.9,9.2 3.3,1.2 11.2-6.6 0.9-10.6 -3.2-3 -3.3-0.2zM1090.2,524.6l1.5-5.8 -2.2-3.8 -2.7,0.1 -5.1,5.5 2.4,5.1zM681.2,306.9l12.8-11.9 -13.1-14.6 -13.8,9.6 0.6,6.8 13,10.2zM745.1,535.5l23.5-2.2 -4-12.8 -22.3,3zM1092.3,340l-5.2,0 -1.7,3.9 2.4,3.8 3.2,0.1 3.9-4.3zM784.6,335.2l7.1,5.5 12.6-5.3 0.6-0.8 -6.7-11.5 -6.5,1.6zM1193.7,427.6l-4.7-0.9 -2.7,2.2 1.6,6.8 7.4-2.3 0.6-1.4zM718.2,298.2l-18.6,0.4 3.3,19 6.6,4 3.3-0.1 7.6-14.4zM1144.3,528.6l1.6-5.7 -1.1-2.3 -5-0.7 -3.6,3.4 0.3,5.4 0.8,0.8zM1376.2,392.5l-2.2-5.3 -4.3-1.2 -3.8,3.4 -0.1,3.1 3.1,3.1 2.5,0.7zM982.2,424.8l-7-3.5 -2.4,0.6 -3.9,11 0.9,1.1 8.5,0.8 4.8-7.9zM1268.4,489.5l-3.6,1.8 0.8,4.7 3.1,0.6 2.1-3.6zM1053.2,419.5l-2.5-0.4 -3.6,3 -1.1,5.2 6.2,4.5 5.7-4.2zM1152.3,443.1l4.1,0.4 2.9-2.1 0.4-4.3 -1.5-2.4 -7.1,2.1 -1.3,3.5zM1303.5,506.4l1,1.5 3.3,1.5 0.5-0.2 5-7.4 -7.1-2.2 -1,0.6zM1520.6,241.5l-3.9,11.1 4.4,4.2 -0.1-15.5zM1279.4,497.2l2.8,3.2 2.9,0.3 2.7-5.6 -6.6-2.8zM1051,227.4l-13-1.8 -1.2,1 -1.6,9.5 2.7,3.9 10.1-0.5 5-7.1zM631.5,392.9l-2.5,0.5 2.2,6.8 1.6,11.3 0.5,0.6 1.9-2.8 -2.8-15.8zM1369.9,427l-0.2,4.3 0.6,0.6 4.2-0.9 0.6-3.6 -2.6-2.1zM1082.2,263.6l-3.6,6 6.9,5 7.9-2.2 1-2.7 -9.5-7zM1288.9,395.7l-2.2,3.7 2.1,4 4.6,0.9 1.8-0.8 0.3-3.3 -3-4.1zM1306.2,499.6l7.1,2.2 0.4-0.2 -1-7 -5.7-1.1zM901.4,541.6l-4.4-6.8 -9.8-3.4 -7.8,9.4 1.8,9.3 0.3,0.2 15.6,0zM1131.9,374.5l0.6-3.9 -5.3-4.6 -1.2,0.7 -2.4,5.6 3.8,3.9zM1071.1,276l-5.4,8.5 6.8,6.2 3.2-0.5 4-6.7 -7.9-7.7zM927.5,229.6l12.6-8.8 -4.6-11.8 -16.1,1.5 -1,6.5zM1305.8,385.5l1.3,0.4 2.8-1.2 1.3-6.2 -5.1-1.2 -3.4,3.5zM1075.2,495.8l3.4,1 1.7-0.4 4.9-8.2 -1.4-2.6 -2.6-1.4 -7,3.8 0.3,6.9zM977.2,397.2l0.4,1.9 8.5,3.6 1.3-6 -4.7-3.9zM1519.1,289.3l-6.5-2.2 -6.8,2.4 0.4,6.4 3.5,4.1 4.8-4.4 6.6-3.1zM1211.2,553.5l-3.9,2 -0.8,1.6 4.2,4.4 5.4-0.5 0.8-5.4zM1030.9,447.4l-0.4,5.1 2.2,2 8.6-0.8 0.7-1.4 -0.4-2.1 -6.2-5.1zM722.3,214l1.7-4.6 -5.7-9.5 -11.1,0.1 -3.3,10.7 8,6.5zM1102.2,468.3l-0.6-6.5 -5-0.8 -3.5,7.9 4.2,2.7zM888.2,193.9l2.2,1 19-5.1 0-1.9 -21.8,0zM999.9,310.3l9.5-7.4 -7.6-7.3 -4.8-0.4 -4.6,6.1 1.2,5.8 4.4,3.2zM1248.9,277.7l2.7-5.7 -2.3-2 -0.8,2.1 -4.9,1.8 -1.1,2.5zM1075.3,270.7l-3.5,5.1 7.9,7.7 3.2-0.6 2.6-8.3 -6.9-5zM831.5,544.6l-20.9-7.5 -5.4,11.1 28.4,10.4zM754.6,357.8l-4.6-1.2 -15.8,11.8 2.4,15.3 1.4,1.4 9.4,1 15-11 0.4-6.4zM667.4,359.8l-7,6.4 -0.4,5.9 9.8,9.5 9.2-9.8 -9.3-11.5zM1504.2,241.8l4.8-8 -3.5-4 -2.1,0.9 -1.9-2.2 -5.8-0.3 -6.4,9.2 4.1,6zM949.8,577.9l-12.1,1.5 -2,5.3 3.9,6.6 5.4,4 9.4-8 1.1-4.6zM662.1,404.9l-12.8,1.4 1.9,12.7 7.3,2.4 6.3-3 1.4-4.3zM787.6,367.6l12-2.6 2.3-2.6 0.7-7.2 -11-6.4 -11.3,5.1 -0.6,7.3zM638,212.5l8.5,2.2 2.9-2.9 -1.6-3.5 -9.9,0.5 -2.8-0.4zM656.6,204.6l-3.5-7.8 -1-0.3 0.9,8.2 0.8,2.7zM1462.9,307.8l12.6-5.7 0-0.1 -12.2-3.7 -3.5,3.8zM1300,621.6l0.9,7.1 5.2,1.2 4.1-2.5 -4.2-8.7 -4.5,0.8zM966.1,303.9l5.6,2.7 4.9-1.5 0.3-0.7 -3.5-11.4 -7.8-0.8 -0.9,1.2zM1006.3,418.4l-0.3,0.6 2.3,6.7 4.6,0.8 2.8-1.9 -0.9-7.7zM695.1,433.3l18.9-6.3 -4.2-16.9 -5.2-0.2 -10.3,8.4zM1272.7,401.3l1.3-1.6 -2.6-6.6 -1-0.6 -3.1,0.6 -1.5,5.1 2.4,3.1zM1187.7,508.7l-4.4,1.5 2.7,6.2 2,0.5 3.1-5.2zM1300.9,601.2l4.6,2.9 5.1-3.3 0.4-1.1 -2.4-5.6 -6.1,0.3zM726.8,259.4l-3.3-1.2 -12.9,8.3 -1.3,8.7 6.6,4.3 15.8-4 1.3-3.6zM733,271.9l-1.3,3.6 3.6,6.1 14.7,0.6 3.2-4.1 -0.9-5.6 -9.1-5.1zM905.7,287.1l5.7-9.5 -7-14.5 -5.8,1.8 -7.7,12.8 0.5,2.3zM985.3,448.3l-5.9-3.7 -5.8,2.1 0.6,8.4 3.6,0.6 7.4-6.8zM1033.9,258.9l8.7,3.9 6.1-4.8 0.4-3 -12.3-7.7 -4.5,3.9zM687.5,492.6l12.1,0.1 5.2-11.5 -3.5-3.2 -17.6,1.3zM749.8,308.7l-10.1-1 -2.7,3.3 0.1,7.2 10.4,8.4 7.5-9.7zM1284,619.5l-1.8,0.5 0,0.1 3.1,0.2zM1290,623.3l-3-1.9 -1.2,2.6 -2.1,2.7 1.1,2.2zM1000.7,502.7l5.7,7.8 1.7-0.2 3-5.6 -3.1-5.7 -0.9-0.2zM1291.9,568.6l4.7-4.3 -0.7-2.4 -4.6-0.4 -1.7,2.5zM681.5,351.6l0-3.7 -10.3-9.1 -8.7,11.6 4.9,9.4 2.3,0.5zM800.9,316.5l8.2-2 5-7.3 -3.9-10.2 -11.6,1.5 -4.5,7.6zM1075.9,332.5l3,5.1 6.3-1 1.1-4.3 -4.9-2.5zM655.5,260.5l-5-4.7 -9.3,1.6 -3.9,6 4.6,11.4 14.3-2.9 0.3-0.5zM710.7,445.3l8.1,4.6 11.8-7.4 -1.8-11.6 -14-3.2zM1204.5,350.3l-5.6,0.1 -1.7,6.5 3.2,1.6 6.3-2.4zM936.3,562l11.8,4.3 7.3-6.4 -4-12.4 -2.8-0.4 -14.7,9.9zM1153.6,502.3l-3.7,6.6 6.3,1.9 3.2-1.8 0.1-1.8 -3.8-4.8zM1178.9,390.2l4.3,4.9 4.4-3.9 0-1.3 -5.7-3.9zM982.7,314.6l0.7,0.2 10.2-7.7 -1.2-5.8 -6.4-1.8 -9.1,4.9 -0.3,0.7zM659.1,434.3l-7.2,0.5 0.3,5 2.3,5.8 5.4-0.8 -0.5-10.2zM1490.7,253l2.7-9.6 -4.1-6 -3.4,4.9 -3.3,10.1zM1302.7,412.3l3.4-2.4 -0.5-4.8 -3-1.7 -4.1,2.1 1.2,5.8 1.3,1zM1267.1,304.7l0.2,1.1 0.6-1.4zM1268.3,310.7l5.3,0.6 3.4-4.8 -1.9-1.5 -3.6,4.9zM846,482.1l-3,13.6 7,11.8 11,2.4 8.4-14.3 -0.8-6.1 -6-6.1zM1022.8,534.4l-6.6-3 -5.4,5.7 1.1,4.3 3.2,1.7 8-4zM754.1,187.9l-17.8,0 -0.5,3.7 17.9,3.6zM1252.8,494.5l2.5,0.4 2.3-3.6 -2.2-3 -4.6,1.1 -0.3,0.7zM704.9,195.9l2.3,4.1 11.1-0.1 6.3-6.5 -3.1-5.5 -11.8,0zM703.9,210.7l-4.8,2.3 -2.2,3.6 2.8,16.9 0.6,0.3 11.9-1.6 0.6-0.6 -0.9-14.4zM866.7,520.6l-8.9,16.5 1.3,1.9 20.3,1.8 7.8-9.4 -0.6-1.2zM939.2,535.6l7-12 -15.9-5.7 -9,9.1 1.2,9 5.3,2.4zM1112.8,287.9l5.9-6 -1.3-3.4 -8.5-3.5 -4.6,5.8 1.1,6.3zM1315.8,659.4l-2.7,3 1.6,6.2 1,0.7 6.3-2.4 0.8-6.3 -1.5-2.1zM1069,569.1l-7.2,2.7 6.1,8.2 1.5,0.5 2.5-2.4 1.1-6.4zM1255.5,567.3l1.5,4.7 2.7,0.4 1.8-6.2 -4.5-1.5zM1109.2,553.6l0.6-3.9 -1.1-1.8 -8.2,0.6 -1.4,5.9 4.3,3zM1324.7,464l2.1,4.6 4.3-0.7 2.8-4.5 -4.3-3.6 -3.8,1.2zM1102.3,255.1l-0.1-1.7 -7.2-5.7 -4.9,7.9 6.3,4.4zM978.3,580.7l4.4,0.3 6.8-7.2 -2.2-13.7 -15.3,6.5zM1258,425.1l-0.8-4.1 -6.6,2.9 -0.3,0.9 3.4,4.6zM989.4,538l-1-0.2 -9.9,7.8 -0.4,1.9 10,10.4 7.4-11.3zM1333.1,522.2l-6.9-0.5 -1.9,1.3 1,4.4 5.3,1.4 3.5-3.8zM1206.5,397.3l-1.9,0.9 -1.5,6.5 0.7,1.3 5.3,0 1.8-2 -0.3-3.7zM1191.8,294.8l0.3,8.1 8.9,0.8 1.3-1.8 -5.3-8.8zM780.6,483.9l-13.8,22.2 1.9,6.7 22.4,2.1 8.2-13.7 -10.6-17.8zM1383.6,433.6l-5.1-0.7 -0.9,0.6 1.9,5.8 4.5-1.1zM799.3,501.2l-8.2,13.7 4,12.8 15.1,8.6 11.3-23.1 -2.6-9.1 -2.3-1.9zM987.3,560.1l0.9-1.6 -0.1-0.6 -10-10.4 -8.3,3.4 -3.5,12.3 1.2,1.8 4.5,1.6zM631.5,376.2l-7.9-0.4 -1.7,3.9 5.7,9.2 1.4,4.5 2.5-0.5 1.2-15.2zM930.3,485.3l-4.3,5.1 1.2,11.6 1.3,1.1 17.3,0.6 3.4-19.4 -2.6-1.9zM1039.4,324.1l7.7,3.2 5.2-3.2 0.1-0.4 -3.4-7.4 -7.1,0.5 -3.1,4.2zM1091.4,416.6l-1.4-3.7 -2.1-1.1 -7.2,2.1 -1.4,2.5 0.5,3.3 2.9,2.6 5.1-0.4zM795.8,395.7l13.7,5.5 6.6-4.1 0.7-4.9 -7.5-9.7 -5.2-0.4 -8.3,6.3zM1219,564.7l-2.5,4.8 5.9,5.2 2.4-0.8 1.7-5.7 -3-4.1zM1183,484.2l-2.3,1.2 -0.7,4.2 4,2.2 3.7-2 -2.7-5.2zM649.3,223.7l-11.8,9.1 -0.3,1.3 3,5 12.1,4 0.4-0.2 4.7-11.8 -2.1-4.6 -1.8-0.8 -0.5,3.8 -4.8,2.4 4-3.6 -0.4-3.4zM626.7,361.1l-1,0.3 0.3,5.5 -0.8,5.3 -1.6,3.6 7.9,0.4 1.8-9.1zM999.9,219.7l-9-0.6 -4.3,6 4.7,5.8 11.3-2.5 0.3-4.6zM1213.5,278.8l-4.2,5.6 -1.1,0.8 1.3,1.4 1.6-0.4 3-6.5zM1203.7,278.7l-0.7,1.6 1.4,1.4 3.4-5.2zM1190.3,528.5l1.7,5.6 6.6-1.1 1.8-2 0-1.5 -4.1-5.3zM914,468.7l-6,9.9 4.8,7.6 13.2,4.2 4.3-5.1 -4.4-17.2zM1013.8,616.5l-3.4-2 -4.8,2.3 7.4,7.3zM1146.8,312.9l0.3-6.5 -2.7-1.4 -8.3,5.9 1.7,3.8 3.8,1.9zM861,553.2l-1.9-14.2 -1.3-1.9 -15.4-2.2 -10.9,9.7 2.2,14.1 24.1,0zM1342.1,407.3l4.1,2.1 4-2.1 0.1-3.9 -3.5-3 -2.4,0.7zM1048.7,468l3.5,6 4.8,0.7 1.4-7 -6.9-3.5zM795.1,527.7l-4-12.8 -22.4-2.1 -4.1,7.7 4,12.8 7.1-0.7 -1.4,4.4 5.2,1.8zM1087.9,181.1l-1.4,2.9 0,2.6 5.1,4.4 2.1-0.6 -2.3-10.5zM1329.1,388.2l2.7,3.6 6.5-0.8 -0.3-8.4 -4.8-1.5zM835.7,195.4l19.1,8.8 0.9-1.2 2.1-7.8 -4.2-7.3 -16.8,0zM1164.3,369.1l-2.8,3.8 5.3,5.2 4.8-2.3 -0.2-3.5 -5.6-3.5zM1306.4,644.4l1.6,6.2 3.5,0.5 3.9-2.3 0.7-5.2 -4.5-4.5 -3.2,0.5zM709.5,321.6l-11.5,18.4 3.5,5 14.5,2.7 3.9-20 -7.1-6.2zM1385.9,345.6l5,2.6 5.3-4 0.5-1.6 -7.3-8.4 -4.6,2.2zM1140.1,236.3l1.7-1.4 0.1-0.1 -1.2-0.1zM1136.1,246.1l0.7,0.8 10.1,0.5 1.8-1.5 -1.6-5.2 -9,1.6 -0.4-0.2zM1177.3,524.1l-1.1,1.4 1,8.1 5.3-0.9 1.3-2.9 -2.4-5.6 -0.7-0.6zM957.3,260.7l0.8-10.6 -2.8-3.8 -14.2,10.6 4.6,6.3 5.5,1zM949.2,484.3l1,0.1 13-7.8 0.7-1.4 -4.4-10.6 -14,1.7 1.1,16.1zM1030.5,435.5l-0.1-4.3 -2.6-2.6 -6.4,1 -1,4.6 0.9,1.4 7.9,0.8zM922.5,536l-1.2-9 -12.8-8.9 -11.5,16.7 4.4,6.8 11.4,1.2zM646.5,214.7l-8.5-2.2 -5.9,10.7 5.4,9.6 11.8-9.1zM626.2,237.3l1.4,6.2 0,6.7 8.3-0.7 4.3-10.4 -3-5zM1240.3,306l-4.1,1.3 2.2,7.6 3.3,0.9 4.7-5.8zM719.2,461.7l-2.4,1.9 -1.8,17.8 2.8,2.2 14-1.9 3.4-14.5 -2.1-2.4zM890.9,378.8l-5.1-9.3 -9.3,8.2 2,6.3 4.4,2.9zM696.6,459.5l1.9,0 5.2-12.4 -10.1-11.5 -5.9,1.4 -3.1,4 0.7,10.6zM961.5,461.9l-2,2.7 4.4,10.6 6.1-1.9 1.6-8.2zM1126.3,416.2l-2.2,5.6 3.6,2.4 4.1-1.7 1.6-4.2zM951.3,509.3l-5.5-5.6 -17.3-0.6 1.8,14.8 15.9,5.7 2.2-1zM1370.3,431.9l0.6,3.8 2.2,1.1 4.1-3.4 -2.7-2.4zM1146.2,386l0.4-2.8 -4.6-4.2 -4.7,4.6 1.8,3.5zM1174.4,368.5l3.1-0.3 1.2-1.6 -0.4-5.5 -4-2 -2.3,0.6 -1.8,2.6zM1244.3,368.3l1,3.4 6.1,0.1 0.8-3.4 -3.8-3.3zM1105.5,577.2l-1-0.4 -5.5,6.3 2.9,5.5 1.6,0.5 4.9-4.1zM774.6,299.6l-9.2-3.3 -3.9,2.2 2.7,15.7 12.2-1.4zM1223.4,349.3l1.3,0.6 7.4-1.9 0.6-1.2 -2.5-5.8 -3-0.7 -2.3,2.5 -1.7,2.8zM1018,596.8l3.9,1.6 6.3-2.7 1.3-3.3 -9-4zM1391,349.5l3.9,4.6 6.3-0.7 0.6-3.6 -5.6-5.6 -5.3,4zM772.4,277.3l-9.6-13.8 -2.1-0.6 -8.4,9.6 0.9,5.6 14.4,4.4 4.1-3.2zM1387.2,456.7l0.5,5.9 3,1.6 2.1-0.6 0.8-2.3 -1-3 -3.2-2.4zM1114.9,293.9l-5.8,6.4 2.6,4.4 6.7,2.4 3.2-4.4 -1-7.6zM914.6,402.2l-8.2,1.5 0.5,9.8 11.3,1.1 0.3-9.1zM762.3,316.6l-7.3,0.3 -7.5,9.7 0.8,3.8 2.4,2.2 9.4,1.3 5.7-7.5zM1347.2,388.7l-5.4-7.5 -3.8,1.4 0.3,8.4 2.3,1.8 5.8-1.2zM866.4,517.8l21.4-10.5 0.2-3.1 -18.6-8.6 -8.4,14.3zM1092.7,379.9l-2.9-0.2 -5.5,4.4 -0.1,0.7 5.5,5.3 3.9-3.4 0-5.3zM879.6,456.4l-2.2,10.7 5.3,3.5 10.1-1 5.9-13 -13.4-3.9zM1140,374.6l-2.7-6.2 -4.8,2.2 -0.6,3.9 2.5,1.7zM855.6,211.6l-1.1-1.8 -15.9,6 -1.9,4.7 9.3,10.8 7,0.5 0.8-0.8zM1069.6,449.6l-4.7-1.9 -5.3,4.2 1.6,4.1 7.4,0.2 1.2-1.3zM1117.7,530.1l0.9,6 0.9,1 4.2-0.1 4.4-4.1 0.3-2.1 -2-2.6 -5.9-0.5zM1265.6,383.7l-2,1.7 -0.5,4.7 4.2,3 3.1-0.6 1.8-6.3 -1.8-2.4zM866.7,520.6l19.9,9.6 3.6-18.3 -2.4-4.6 -21.4,10.5zM766.5,344l-11.9,13.8 8.2,10.9 16.9-7.5 0.6-7.3 -6.5-9.6zM931.2,187.9l-21.8,0 0,1.9 4.8,5.9 16.6-6zM856.1,418.1l-3,4.1 4.4,11.7 13.9-4.1 2.6-8.7 -3.4-4.8 -3.1-1.3zM1294.5,427.2l0.1,4 3,1.8 3.8-3.9 -2.3-4.3 -2.6,0.4zM666.2,414.1l-1.4,4.3 9.2,7.2 4.6-0.3 5.2-8.8 -3.7-8.6zM1173.2,211.5l-7-1.8 -0.9,0.5 -0.6,6.6 8.6-4zM1211.8,379.9l2.9,1.2 3.2-1.4 0.1-4.3 -3.4-2.5 -3.6,3.1zM1184.4,539.7l1.8-2.9 -3.7-4.1 -5.3,1 0.9,5.5 2.4,1.6zM1271.8,553.5l-3.5,3.5 0.8,3.2 0.3,0.1 6.2-1.4 -3.3-5.4zM1530,278.4l-10.9,10.9 2,3.2 7.7-3.6 5.5-3.6 -0.4-2 -2.6-4.9zM1289.6,635.7l-0.3,1.4 6.7,5.2 4.1-5.2 -1.9-6 -3.5,0zM1350.2,407.3l1.6,0.9 4.8-0.5 1.1-1.5 -1.7-5.1 -1.3-0.6 -4.4,2.9zM814.1,307.2l11.2,0.7 2.9-12.5 -2.6-3.6 -14.6,3.9 -0.8,1.3zM838.6,271.4l-11.2-5.3 -7.9,4.1 -0.6,9.2 7.2,6.1 12.7-8.5zM1082.2,234.1l-0.9-10.2 -4.5-1.4 -5.8,6.3 2.3,6.6 7.5,0.3zM991.7,459.6l4.6-7.3 -8.4-5.5 -2.6,1.5 -0.1,0.6 3.6,10.3zM1114.7,444.2l-2.3,6.8 0.8,1.7 5.3,0.7 0.9-0.6 0.9-5.6zM1209.2,453.4l2.3,0 3.4-4.1 -4.8-4.3 -1.1,0.5 -2.1,4.8zM823.8,472.6l-2.7,2.5 -4.5,27.1 2.3,1.9 24.1-8.4 3-13.6 -1.9-2.9zM1268.7,370.3l2.7,5.5 4.2-2.7 -0.4-4.3 -4.6-1.2zM1094.4,480.1l1,4.2 4.4,2.4 2.1-0.4 3.1-6.8 -0.5-1.5 -6.3-1.9zM1191,448.5l6.1,0.6 2.9-2.9 -4.4-4.4 -4.4,1.2zM1054.3,539.9l1.7-3.2 -4.2-6.7 -6.3,5.1 2.3,6.1zM1044.4,495.7l0-1 -6.5-5.2 -1.6,0.1 -3.6,3.4 0,2.4 7,6.2zM1359.4,438l0-5.8 -4.7-0.5 -0.9,4.2 2.3,2.6zM965.7,199l0.3-0.5 -2.8-9 -12.7-0.3 -1.8,3.6 5.5,11.6zM1103.6,425.4l0.2-5.6 -4.6-2.4 -2.3,0.9 -1,8.3zM1389.9,386.3l5.2-2.2 -0.4-6.8 -2.3-1.1 -7.5,6.1zM1051.2,625.6l-0.4-2.5 5.5-0.5 0.5-0.7 -2.9-7.4 -8.9,3.3 -0.6,1.8 5.1,6.4zM1237.4,549.1l2.5-3.9 -4.3-5.4 -6,3.6 0.5,5 2.3,2.1zM1269.9,419.5l1.3,0.4 2.6-0.7 2.2-4.5 -6.3-3.2 -2.5,2.2zM1157.3,354.3l-1.7-1.8 -5.5,0.9 -1.7,5.1 3.1,3.7 5.2-0.3zM1107.3,373.1l-1.8-0.1 -3,2.2 0.1,6.1 5.3,1.6 4-2.4zM1018.8,614.8l4.5,5.4 7.7-1.7 0.7-5 -3.9-5.5 -3.8-0.5 -3.5,1.6zM676.6,393.8l-6.8-12.2 -10.7,5.7 -0.9,5.1 6.4,7.1 11.2-3.4zM1350.4,424.1l4,3.1 4.4-2.8 -2.4-4.1 -5.2,0.8zM1238.5,517.3l1.5-5.9 -3.5-4.4 -3.3,1.4 0.2,7.9zM1125.3,250.1l5.4,7 5.8-3.9 0.3-6.3 -0.7-0.8 -4.4-1zM1461.3,332.1l-3.4-1.3 -3,0.9 -1.6,2.5 1.9,6.9 4.4,2.3 2.1-1.1zM970.1,498.3l-3.3-8.4 -8.2,0.5 1.6,8.8 9,0.8zM1312.2,422.4l-4-4.1 -0.4,0 -4.2,3.4 3.3,4.5 4.8-2.2zM1060.9,601l-6.3,5.1 -0.5,1.4 1.2,3.9 11,1.6 1-2.8 -4-9.3zM1400.7,286.6l-2.1,1.2 -3.9,4.7 0.4,0.4 3.1-0.7 2.6-5.3zM1138.4,220.7l-7.9-5.4 -6.9,5.3 4.3,6.7 8.7-1.9zM775,451.9l0.7-23.1 -8.7-2.1 -12.7,6.1 -3.4,13.5 2.5,4.3 16.6,4.7zM644.8,360.3l-11.5,6.8 -1.8,9.1 1.2,1.5 14.6,0.6 -1.5-16.7zM1165.1,563.7l-5.5,1.7 -0.4,0.6 0.3,4.8 8.1,0.7 1.6-2.7zM1364.5,401.7l-1.5,0 -2.4,4.1 3.2,3.2 4.5-3.1zM1245.3,532.4l4.1,0.2 1.5-1.5 0.1-2.1 -0.6-0.9 -3.9-1.4 -2.2,2.1zM1369.1,381l-6.5-1.5 -1.1,6.5 4.4,3.4 3.8-3.4zM1177.2,405.3l-2.2-6.9 -0.6-0.4 -5.6,2.6 1.9,6 4.9,0.8zM691.5,319.3l11.4-1.7 -3.3-19 -4.6-3.6 -1,0 -12.8,11.9zM1265.8,398.2l1.5-5.1 -4.2-3 -1.8,0.7 -2.6,5.6 2.2,3.4zM1028,543.7l-5.9,6.1 0.6,2.6 6.1,3.3 4.8-6.6 -4.9-5.3zM1358,508.3l-2.6,1.4 -0.2,0.9 4.3,0.6 0.5-1.1zM1150.8,591.1l-3.4-7.1 -2.7-1.1 -3.4,2 -1.1,3.9 2.4,3.9 7.7-0.7zM914.2,195.7l-4.8-5.9 -19,5.1 7.2,16.1 16.8-6.7zM1483.3,282.9l12.9-7.4 -5.9-10.6 -8.9,2.5 -2.1,13.1zM1124.1,509.2l2.2,4.3 5,1.3 1-0.5 1.7-5.9 -2-3.3zM1374.7,457.7l2.2,4.7 3.9-1.3 1.5-3.8 -2.1-2.6 -4.8,1.7zM685.3,451.6l-0.7-10.6 -10.5,0.7 -7.2,8 6.5,9.6 0.5,0.1zM1102,438.2l4.4,1.3 2.4-2.2 -1-4.4 -4.3-1.3 -3.3,2.4zM1082.6,598l-7.3-1.8 -3.1,2.4 2.3,7.4 2.4,0.9 3.7-2.2zM746.3,494.1l-1.9,0.5 -7.9,11.5 3.2,15.7 2.6,1.7 22.3-3 4.1-7.7 -1.9-6.7zM1259.9,483.1l2.2,1.7 3.7-0.2 2.6-4.7 -0.5-1 -4-1.6zM1168.3,584l-1.1,1.7 1.4,6 3.9,1.6 3.1-7.5 -1.4-3.1zM810.6,537.1l-0.4-0.8 -15.1-8.6 -15.6,11.1 25.7,9.4zM739.2,221l-11.7,0.4 -5.4,9.3 10.3,8.3 3.3,0.2 4.6-15.2zM1296.8,367.4l-0.3-1.3 -5.4-3.3 -3,1.6 0,4.3 2.9,2.3zM1066.4,494.1l-2.9-5.4 -5.9,0.5 -2.1,2.8 0.1,2.8 7,6.6zM704.8,481.2l10.2,0.2 1.8-17.8 -16.3-2 0.8,16.4zM1044.8,368l-1,0.8 1.2,11.1 6.4-0.8 2.5-4.6 -3.4-5.8zM1131.9,590.2l-0.2-7.6 -3.8-2.9 -3.4,0.6 -0.7,0.9 0.3,7 7,3zM1023.9,524.2l-4.1-0.4 -3.9,5.6 0.3,2 6.6,3 4.6-3.8zM638.2,280.3l-10.1-0.4 -1.3,16.4 10.3,4.8 4.6-1.3 1.8-6.5zM1108.1,497.4l-2.5-2.2 -7,1.7 0.3,5.9 1.2,1.2 7.8,0.4 0.9-0.5zM626.2,315.9l10.9-14.8 -10.3-4.8 -0.5,7 -2.9,12zM1226.7,465l-6.2-0.6 -1.4,3.4 2.1,4.6 3.3-0.5 3-5.5zM1212.9,461.5l7,1.7 0.7-3.6 -4.5-3.4 -1.4,0.3zM948.4,522.6l-2.2,1 -7,12 9.4,11.5 2.8,0.4 7.7-5.9 0.4-1.4 -4.5-13.4zM1203.8,406l-2.3,4.5 3.3,3.4 4.3-1.1 1.3-3.6 -1.3-3.2zM1302.9,459.9l3.4-4.1 -5.4-3.2 -2.6,5.5 1.5,1.9zM1296.6,439l-1.3,3.3 1.8,3.4 2.8,0.1 2.8-3.6 -4.7-3.9zM1223.7,555.3l0.4,7.8 7.8-2.9 0.5-2.2 -1.2-2.5zM1062.2,298.7l-1.3-1.2 -6.7-0.5 -5.6,7.9 4.1,5.2 5.2,0.5 4.4-4.8zM1195.7,520.4l-6.2-1.6 -2.1,4.7 3,4.7 5.9-4 0.2-2.4zM1156.2,222.7l-7.8,0.4 -0.7,5.9zM765.4,296.3l2.2-13.8 -14.4-4.4 -3.2,4.1 0.3,10.1 9.3,6.1 1.9,0.1zM999.7,342.8l2.4,3.7 8,1.5 2.2-1.3 -3.6-9.5 -1.4-0.8zM1054.4,652.5l-0.3-1.6 -4.3-2.8 -5.3,5.8 0.1,1.9 4.6,1.1 5.2-1zM1177.4,319.1l-4.4-7.2 -1.7-0.2 -4.6,6.7 2.4,4.7 2.8,0.8zM1399.7,331.6l1.5,8 6.1,1.1 1.8-7.9 -4.5-3.4 -3.9,0.8zM1223.8,361.3l-7.3,1.6 -0.4,2.6 0.9,1.6 4.2,1.2 3.3-1.7zM1241.8,498.3l-3.1-0.7 -3,2.1 1.5,6.2 3.7-1 2.2-4zM1141.9,234.8l5.8-5.8 0.7-5.9 -5.5-4.7 -4.5,2.3 -1.8,4.7 3.8,9zM1004.6,482.5l4.3-2.5 1.1-7.6 -2.5-2.9 -7.3,2.6 2.6,9.8zM1274.1,548.4l0.5,3.1 3.1,0.8 2.4-3.1 -0.4-1.7 -2.5-1.5zM1158.1,518.3l6.4-5.6 -5.1-3.7 -3.2,1.8 -0.1,6.8zM778.8,220.2l-3.6,0.2 -1.3,2.1 1,17 11.2-0.3 4.2-10.4zM976.1,475.4l-6.1-2.1 -6.1,1.9 -0.7,1.4 6.8,9.2 6.1-5.8zM638.2,280.3l3.7-5.5 -4.6-11.4 -8.5-0.1 -0.1,9.9 -0.6,6.7zM1338,430.8l1.4,4.8 3.9-2.1 -0.3-4.6 -3.1,0.1zM1134.7,539.3l3.3,5 2.6,0.9 3.2-1.2 0.2-7.4 -5.9-1.4zM912.8,542.8l-11.4-1.2 -4.3,8.7 8.7,0 10.7,10.6 0.6-0.9zM1007.8,467l6.2-5.5 -6.5-6.1 -3.9,1.8 -1.1,3.8zM1036.8,602.1l-5.7,1.3 -3.3,4.6 3.9,5.5 9.5-3.4 1.2-3.3 -0.5-1.3zM633.3,412.1l7.7,9 4.9,1.1 5.3-3.2 -1.9-12.7 -0.3-0.3 -13.8,3.3zM1404.2,400.7l3.5-0.6 -0.3-7.8 -3-1.2 -4,5.6 0.2,1.3zM1042,592.7l5.5-3.8 -0.9-5.1 -7-2.9 -3.7,4.5zM720.4,307.1l-7.6,14.4 7.1,6.2 5.4,0.1 11.8-9.6 -0.1-7.2zM1195.4,459.3l2.1-0.5 1.4-4.3 -1.4-1.1 -3.8,0.9 -0.9,2zM1147,450.4l-5,1.9 -0.9,5.8 3.5,2.9 1.1,0.1 2-0.9 1.5-9zM622,210.6l11-2.4 -3.8-0.4 -11-4.5zM703.4,500l-3.8-7.3 -12.1-0.1 -3.5,6.6 0.4,0.4 12.3,1 4.6,1.8zM1298.8,536.2l1.9,1 4.9-5.5 0.1-0.7 -5-1.1 -3,3zM1235.4,426l1-7.3 -6.5,1.4 -0.5,2.6 3.1,3.7 2.1,0.2zM1078.4,377.8l-2.9-0.2 -3,4.5 6.5,7.5 5.2-4.8 0.1-0.7zM1274.1,582.8l-5.3-3.4 -3.9,3.3 7.1,6 1.4-0.4 1.2-2.2zM1014.4,370.5l-0.4,3 5.5,5.6 0.6,0.1 5.1-7.6 -3.6-5.8zM912,508l-3.5,10.1 12.8,8.9 9-9.1 -1.8-14.8 -1.3-1.1zM1460.8,291.4l-0.6-3.1 -9-3 -0.4,7.2 4.4,2.4zM926,490.4l-13.2-4.2 -8.8,12.5 8,9.3 15.2-6zM1178.4,455.3l3,4.1 2.9-0.9 0.9-4.2 -2.5-2.2zM709.4,500.9l3.3,7.4 3,0 1.1,3.4 14.1-6.2 -13.7-11.6zM1029.6,592.8l7.3,3 4.8-3.1 -5.8-7.3 -3.6,0.8zM1239.7,426.4l2.7-3 -0.1-2 -3.9-2.7 -2,0 -1,7.3zM1180.7,255.3l-4.8,3.4 0.2,6.2 3,1.3 2.5-0.7 3.9-6zM1065.3,486.2l-2.8-8.9 -3.6-0.5 -3.9,6.6 2.6,5.8 5.9-0.5zM725.3,327.8l9.4,9.4 13.6-6.8 -0.8-3.8 -10.4-8.4zM1180.2,567.6l5.1,1.4 2.3-1.4 0.8-4.9 -6.8-2.3 -1.9,1.3zM1134.6,284.8l1,3.6 6,3.7 5.1-5.6 -1.6-5.5 -5.3-1.4zM1355.1,317.6l-4.2-0.4 -3,0.8 4.3,2.2 2.8-1.6zM1119.4,477.3l0.6,7.8 4.4,1.8 4.7-3.6 -2.9-6 -4.2-1.5zM1260,402.1l-2.9,1.5 -0.7,3.8 2.2,3.6 2.8-0.4 2.7-4.6zM1339.3,398.2l-0.4,0.3 -2,6.4 4.5,2.5 0.7-0.1 2.3-6.2zM1305.6,608.8l-8.8,2.7 4.7,8 4.5-0.8 0.5-0.5 1.1-7.4zM1223.1,381.1l2.3-3.9 -1.4-2.7 -3.1-0.7 -2.9,1.6 -0.1,4.3 2.5,1.9zM1078.1,564.9l-1.5,5 6.4,4.5 4.1-3.9 -0.4-5.7 -2.9-2.7zM779.2,427.2l2.7,0.2 16.1-11.1 -6.6-15.2 -11.1,2.2zM1119.5,537.1l-1.3,6.3 2.3,4 6.4-2.2 0.5-1.7 -3.7-6.5zM966.3,563.2l-10.9-3.3 -7.3,6.4 1.7,11.6 5.7,4.8 1.5-0.6 10.5-17.1zM1378.6,411l0.6,5 2.5,0.7 1.5-0.8 -0.3-6.7zM1196.6,488.5l-4.6-1 -2.9,2.6 1.2,2.7 4.3,1.6 3.5-2.4 0.2-0.8zM1275.8,538.3l-2.9-2.5 -2.8,2.9 2,3.9 3.4-0.5zM1221.1,498.3l-5.4,5.8 0.8,3.6 5.1,1.1 4.4-6.7zM1115.2,584.2l8.6-3 0.7-0.9 -4.2-5.6 -6.1,3.2zM1028.6,630.2l-7.2-2.4 -2.7,7.8 3.7,3.8 5.1-2.4zM1021.3,308.7l-6.9-0.2 -3.8,8.4 8.6,4.3 5.6-1.7 1.4-2.2zM1150.8,326.6l5.2,2.7 3.8-2.1 -0.6-6.1 -6.8-2.1 -1.6,2zM1076,540.2l7.3-3 0.9-4.8 -1.7-2.5 -5.6,0.2 -2.5,2.5 0.4,6.9zM1181.6,265.5l-2.5,0.7 0.6,9.5 2.9,2.3 2.4-1.1 3.8-7.3zM1341.4,407.4l-2.9,5.5 3.9,3 3.8-3 0-3.5 -4.1-2.1zM1207,510.4l6,1.6 3.5-4.3 -0.8-3.6 -4.5-2.9 -4.9,3zM1070.7,338l-6.7,1 0.8,5 3.6,1.8 4.2-1.9 0.6-2.2zM1516.7,252.6l-7.9,0.3 -4.8,5.4 3.5,10.3 6.3,2.6 5.1-2.1 3.6-7.3 -1.3-2 -0.1-3zM1340.2,468.1l-0.3-2.4 -2.6-2.7 -3.4,0.4 -2.8,4.5 4.3,5.2 1.9-0.1zM1212,430.8l1.7-0.6 1.1-1.6 -1.8-4.6 -0.6-0.4 -5.6,1 -0.6,1.1 0.9,2.8zM1116.9,365.8l2.1-1.9 -0.2-3.7 -5-2.8 -4.3,5.1 1.3,2zM1063.5,371.4l-1.8,2.9 1.6,7.2 7,1.5 2.2-0.9 3-4.5 -2.3-5.7 -8-1.4zM1331.9,409.8l-3.3-5.4 -4.9,1.9 1,3.5 4.6,1.9zM1033,462.3l-0.3-7.8 -2.2-2 -5.6,2.3 0,4.9 5.9,4zM1031.3,409.3l-4-4.5 -5.1,0.4 -0.7,8.7 1,0.5 7.9-3.5zM684.6,441l3.1-4 -9.1-11.7 -4.6,0.3 -4.7,8.3 4.8,7.8zM810.6,537.1l20.9,7.5 10.9-9.7 -3.2-13.3 -17.7-8.4 -11.3,23.1zM1289.2,466.8l3.2-3.2 -0.8-2.6 -4.5-1.5 -3,4.1 1,2.4zM1303,522.2l4.8,6.9 4.4-9.4 -5.2-2.1 -2.3,0.8zM1347.4,453.1l-3.3,0.1 -2.1,3.9 4.5,2.8 2.9-2.8zM829.3,454l12.9-3.6 1.8-7.1 -10.3-12.5 -9.1,10.6zM1323.7,406.3l-2.1-1.2 -4.1,3.3 3,5.6 0.6,0.1 3.6-4.3zM967.5,565l-10.5,17.1 15.9,3.2 5.4-4.6 -6.3-14.1zM1267.9,538.5l-1.7-2.6 -3.3,0.1 -1.2,5.3 0.3,0.5 4.2-0.5zM1284,543.9l-4.3,3.6 0.4,1.7 3.8,2 3.3-2.7zM1210.7,561.5l-1.8,5.3 4.3,4.2 3.3-1.5 2.5-4.8 -2.9-3.7zM1095,459l0.4-6.9 -7.1-1.5 -3.1,6.3 2.4,3.2zM1075.7,553.9l-0.4-2.8 -7.7-2.9 -1.9,0.5 -2.1,4.1 6.3,7.4 1.2-0.3zM1163.9,354.1l-6.6,0.2 -0.6,7.6 1.1,0.9 1.9,0.2 4-2.4zM1233.8,412.4l-2-4.7 -2.1-0.3 -4.2,3.3 -0.1,0.7 3.1,3.4zM1154.1,387.2l2.2,1.9 5.1-1.2 0.4-0.6 -0.7-5.1 -4.5-2.6 -2.2,0.7zM1044.2,437.7l-3.1-5 -6.9,4.4 2.2,5.2 6.8-1.7zM1123.5,343l2.4-3.3 -1.6-6.5 -5.7,2.1 -0.4,3.8zM1376.4,463.5l-6.2,1.6 2.8,6.4 4.4,0.2 1.4-2.6zM1217.1,356.4l2.4-0.6 3.3-6.2 -2.6-0.3 -2.7,3.4 -3.8,1.7zM1436.4,327.9l6.2-5.7 -0.8-2.3 -7.5-1.1 -4.9,5zM1194.6,507l3.7-0.4 2.8-5 -0.1-0.4 -6.7-1.7 -1.6,0.9 -1.2,3.2zM968.2,443.2l-2.7,1.6 -0.3,10.9 8.7-0.4 0.3-0.2 -0.6-8.4zM1434.3,348.7l-6.1-3.7 -1.8,0.3 0.1,8.4 3.1,2 4.7-2.1zM1122,446.4l5.2,2.1 2.1-1.2 0.7-4 -3.5-2.5 -3.3,1zM701,253.5l0.6,0.2 14-7.5 -3.4-14 -11.9,1.6zM1238.7,497.6l-0.4-3.7 -4.1-3.2 -3.3,4.9 0.5,2.4 4.3,1.7zM1333.3,515.7l1.5,3 5.5,0.2 2-1.9 -2.7-5.5 -3-0.6zM1127.9,579.7l3.8,2.9 4.6-1.3 1.8-5.9 -1.3-1.9 -5.6-1.2zM1371.1,364.1l0.4,1 7.8-0.1 1.5-6.8 -7.5-1.4zM919,317.5l1.8-19.8 -14-5.3 -6.4,7.4 2.6,14.7 10.8,4.5zM1292.5,516.3l-2.7,2.5 3.1,3.7 3.7-0.5 -0.2-5zM925.9,468.1l4.4,17.2 16.3-2.9 -1.1-16.1 -4-4.7 -9.6-0.4zM1307.2,475.2l4.9,3.1 3.6-3.1 0.1-1.2 -4.3-3.9 -3.6,1.7zM1030.2,629.3l-1.6,0.9 -1.1,6.8 6,3.2 3.1-3.1 -0.5-5.7zM1306.6,493l0.3-2.6 -3.1-3.9 -4,0.1 -1.7,2.3 0.3,3.7 1,0.9zM1191.2,443l-3.1-2.5 -5.1,3.2 0.2,4.7 7.7-0.2zM882,484.4l9.3,6.1 8.9-12.3 -7.4-8.6 -10.1,1zM1298.1,526.2l0.4-2.5 -1.9-1.7 -3.7,0.5 -2.3,3.9 0.3,1.2 3.3,0.8zM1296.5,425.2l2.6-0.4 2.2-3 -2.1-3.7 -4.4,0.2 -1.3,2.9zM1135.8,391.5l-0.5,5.4 4.2,1.9 3.6-2.4 0.2-2.6 -4.8-4.3zM1095.9,572.8l1.6-6.7 -3-3 -7.8,1.7 0.4,5.7 7.4,3.2zM687.5,492.6l-3.8-13.3 -0.9-0.7 -6.5,1.6 1.8,1.6 3.5,4.3 -0.3,4.8 0.3,6.2 2.4,2.1zM699.1,187.9l-13.6,0 -0.7,5 3.9,3.6 13.5-2zM1269.9,409.2l4.2-3.2 -1.4-4.7 -4.5,0 -1.7,4.5zM1212.4,477.2l0.4,2.1 3.3,2.1 0.8,0 2.8-6.5 -4.5-0.7zM1104,425.9l6.8,1 2.1-3 -0.1-2.2 -7.8-2.4 -1.2,0.5 -0.2,5.6zM1179.3,434.7l-5.9,0.4 -1.1,5.8 3.9,1.7 2.9-1.1 1-5.8zM1339.5,501.3l0.2-2.2 -3.8-4.1 -4.8,0.2 -0.8,6.6 7.1,0.8zM1274.8,499.3l-0.4,3.8 1,1.3 3.8,0.2 3-4.2 -2.8-3.2 -3.4,0.7zM1151.9,305.2l2.5-4.4 -1.5-5.3 -10.2-0.1 -1.2,3.6 2.9,6 2.7,1.4zM1245.9,432.3l2.6,1 4.8-2.4 0.4-1.5 -3.4-4.6 -3.6,1.6 -1.5,4.4zM635.9,249.5l-8.3,0.7 0,2.5 1.3,8 -0.1,2.6 8.5,0.1 3.9-6zM1216,442.4l1.7,6.5 2.6-0.7 1.5-4 -2.1-3.3 -1.2-0.2zM1317.4,442l-0.5-0.1 -2.3,2.4 0.1,4.7 4,0.9 2.6-1.2 0.8-1.8zM1303.8,486.5l2.5-3.8 -2.2-3.8 -5.8,2.7 1.5,5zM680.2,407.3l-0.1,0.6 3.7,8.6 10.5,1.8 10.3-8.4 -8.9-7.6zM1285.1,466l-1-2.4 -4.7-1 -2.6,2.7 -0.3,3 1.3,2.3 6.2-1.8zM810.2,297l0.8-1.3 -2.3-12.7 -5.2-3 -10.2,6.6 5.3,11.9zM1192.7,230.4l2.2,3.3 2-3 3.7-2.1 -1.5-2.3 -2.8,0.2 -2.7,1.9zM1152.1,524.5l2.7-6.5 -6.7-2.5 -3.3,5.1 1.1,2.3zM1330.4,508.1l-3.6,4.2 1.7,2.2 4.8,1.2 3.3-4.8 -1.1-1.8zM725.3,327.8l-5.4-0.1 -3.9,20 4.6,5.5 13.6-8.2 0.5-7.8zM1251.5,481.6l-2,0.6 -0.6,1.3 1.9,5.9 4.6-1.1 1.6-4zM1061,319.6l2.8,5.4 3.4,1 4.2-2.4 -0.1-4.7 -3.1-2.7 -6.6,1.5zM1350.9,335.2l6.4,4.8 5.6-1.7 1.4-6.2 -2.4-3.3 -7.9,1.2zM1306.5,618.2l9.5-0.2 0.8-2.8 -4.8-5 -4.4,0.6zM1164,209.5l-7.7,0 -1.6,3.2 3,5.6 7-1.5 0.6-6.6zM1304.2,562.6l-0.5-0.3 -5.4,2.9 1,1.9 4.9,2 0.5-5.2zM1155.5,473.2l-1.4-3.9 -6.7,0.7 -2.1,2.2 3.3,6.8 4.3-0.7zM1087,554.2l-4.2-7.3 -4-0.3 -3.5,4.5 0.4,2.8 8.2,4zM955,526.8l4.5,13.4 11.7-4.8 -3.4-12.6zM993.7,405.7l0.6,5.2 3,2.2 7-1.3 2-3.3 -6.3-5 -4.7,0.7zM1101.6,461.8l2.5-1.6 0.9-3.3 -1.3-3.2 -6.8-2.7 -1.5,1.1 -0.4,6.9 1.6,2zM1306.3,393.6l1.8-1.2 -1-6.5 -1.3-0.4 -4.4,3.1 0,3.8zM730.6,442.5l-11.8,7.4 0.4,11.8 13.9,3.1 2.3-18.6zM1020.4,395.2l-7.2,1.8 -1.4,2.6 4.2,4.8 4.5-0.8 0.9-6.9zM1242.1,562.3l3,5.9 3.8-0.5 1.6-4.4 -1.9-3.7 -6.2,1.4zM1308.5,370.6l4.3,3.5 3.6-2.2 0.7-4.4 -7.3-0.9 -1.5,1.3zM1060.9,601l2.4-0.1 3.4-3.1 -1.4-6.9 -7.2-2.6 -4,3.5zM1161.7,405.1l-4.4-4.7 -3.7,0.5 -1.1,5.1 0.4,0.7 7.6,1.3 1-1zM1372.3,398.5l5.5,2.6 2.7-2.8 -2.8-5.6 -1.5-0.2 -4.8,3.8zM670.7,189.9l3.8,5.4 10.3-2.4 0.7-5 -14.2,0zM995.9,498.3l4.8,4.4 6.4-3.9 -2.7-6.8 -6.3,0.6zM1401.2,370.6l-2,5.1 3.3,2.7 6.9-1.2 -2.2-6.1zM1052,451l-1,1.1 0,8.3 0.4,0.5 8.8-2.8 1-2.1 -1.6-4.1 -2.5-1.6zM1291.9,546.2l1.4,0.2 5.4-3.5 -4.3-3.1 -3.5,2.1zM1016.1,472.6l-6.1-0.2 -1.1,7.6 7,2.9 3.2-2zM1072.2,427l-0.4,0.4 -0.7,6.8 3.1,2.5 4.1-0.9 0.8-5.9zM1323.4,367.4l2.2,2.3 3.1,0.1 3.9-6.6 -1.1-2 -6.6-1.9zM1166.5,460.8l3.7-4.8 -0.5-2.1 -7.4-2.3 0,8.2zM1334.7,418.1l-0.6,2.1 2.4,4.4 1.1,0.1 2.3-1.7 0.2-3.4zM1281.5,595.3l1.7,2 8.5-3.1 -0.6-6.5 -8.2-0.2zM962.4,431.2l6.5,1.7 3.9-11 -7.5-5.7 -4.9,0.1 -1.4,1.5zM1481.4,267.4l8.9-2.5 3.2-7.6 -2.8-4.3 -8.1-0.6 -1.5,8.3 -2.8,4.1zM1092.1,581.6l2.4-7.9 -7.4-3.2 -4.1,3.9 0,1.2 6.6,6.4 1.6,0.3zM1042.8,573.4l7.4,2.6 3-6.8 -3.1-4.8 -0.5-0.1 -7.2,6zM1114.3,397.5l-6.8,2.1 0.1,1.4 5.1,5.9 3.7-2.1 0.1-5.2zM1018.9,425.6l-3.2-1 -2.8,1.9 0.3,7.9 7.2-0.2 1-4.6zM1395.7,361.2l-0.5,5.5 5.5,2.6 3.1-7 -1.6-2.1zM1254.9,542.4l1.9-2.4 -0.7-3.4 -0.8-0.8 -5.7,2 1.9,4.7zM1248.2,559.5l4.4-1.8 -0.8-4.8 -0.9-0.1 -3.2,2zM1202,497.7l-3.9-5.7 -3.5,2.4 -0.3,5.1 6.7,1.7zM1122,475.8l4.2,1.5 5.3-4 -4.4-6.1 -3.6,0.4zM1340.3,518.9l-5.5-0.2 -1.7,3.5 1,2.8 2.9,1.3 0.9-0.5 2.8-3.9zM1251.8,400.5l-3.5,3.8 0.6,2.4 2.2,1.5 5.3-0.8 0.7-3.8zM1262.9,460.8l3.1-4.7 -0.4-1.5 -5.2-1.3 -1.3,4.5zM1356.4,387.2l5.1-1.2 1-6.7 -4.2-1 -5.3,4 0.1,2.4zM1362.6,379.5l6.5,1.5 4.2-4.4 -0.1-1.4 -3.9-4.5 -3.9,0.4zM979.4,444.6l5.9,3.7 2.6-1.5 2.6-5.7 -1.1-2.8 -9.7-1.7zM818.2,323.5l11.9-9.4 -4.8-6.2 -11.2-0.7 -5,7.3zM1146.7,481.7l-4.7,0.6 -1.7,3 1.9,6.7 5.9-2.6 0.9-2.6zM1415.5,351.1l-3.1,1.4 -1.1,1.7 0.2,5.2 4.9,3.2 1.5-0.3 2.9-3.2 0.2-2.8zM1322.1,439.7l-0.9-5.3 -0.4-0.1 -3.8,1.5 -1,3.8 0.9,2.3 0.5,0.1zM1211,499.1l4.1-4.7 -0.6-1.7 -5.3-1.7 -2.2,1.6 -0.5,2.4zM1283.4,360.4l-5.1-0.2 -1.9,2.3 1.2,4.3 3.5,0.7 3-5.2zM1316,618.2l-2.5,8.7 5.9,0.7 1.8-2.2 -1.2-3.2 -0.3-1.8zM1295.5,450.6l5.1,1.1 1.1-1.9 -1.8-4 -2.8-0.1 -2,3.3zM1112.8,504.6l2.1-1.1 3-7 -2.2-2 -7.6,2.9 0.7,6.5zM1142,452.3l-4.8-3 -2.2,1.4 -0.8,3 2.2,4.4 4.7,0zM1194.3,377.5l4.7,2.8 5.1-1.2 1.2-4.7 -0.3-0.8 -3.9-2.7zM798.6,298.5l-5.3-11.9 -1.9-0.5 -7.3,2.9 -3.5,8.1 11.9,9 1.6,0zM1069.1,239.9l-6.4-0.7 -5,10.1 5.2,3.4 5.6-1.1 3.7-5.6zM996.4,527.8l-8.3-2.8 -4.2,6.5 4.5,6.3 1,0.2 8.5-7.2zM1265.6,454.6l0.4,1.5 5.7,2.3 0.8-0.6 0.8-2.9 -2.3-3.1 -3.9-0.2zM1289.3,637.1l0.3-1.4 -4.3-5.8 3.5,7.5zM1115.7,468.3l-2,5.8 1.6,2 4.1,1.2 2.6-1.5 1.5-8.2 -1-0.8zM1113.3,354.4l2.2-3.1 0-3.1 -1-1.2 -6.5-1.4 -2.1,2.7 1.7,5zM1321.7,635.2l2.5,4.7 1.6-0.4 -2-7.3 -1.5,0.9zM1354.2,464.2l5.5-2.1 1.4-3.8 -2.2-2.3 -5.7,1.1zM1000.4,561.8l-12.2-3.3 -0.9,1.6 2.2,13.7 7.1,1.5 7-6.8zM1097.3,471.6l-4.2-2.7 -0.5,0 -5.1,5.7 2.1,4 4.8,1.5 3.8-4zM649.3,379.3l9.8,8 10.6-5.7 -9.7-9.5zM1180.5,540.8l-2.4-1.6 -5.6,3.8 1.2,3.3 6.4-0.8zM1129.8,326.6l-3.4-4.6 -4.1,0.4 -1.8,2.3 -0.1,1.1 4.7,6 0.9-0.2zM1240.5,384.3l1.1-5.9 -6.1-1.1 -0.1,6.2zM1324.3,378.9l7.5-0.1 0.8-4.3 -3.9-4.7 -3.1-0.1 -3.8,6.8zM1434,363.9l-0.9,1.5 1.9-0.9zM1429.2,371.4l0.3,1 4.1,3 5.3-2.8 0.2-4.4 -9.1,2.1zM1268.9,497.2l-0.2-0.6 -3.1-0.6 -3.3,1.7 -0.2,3.2 2.6,1.8 3.4-0.6zM1006.2,366.9l-2.7,5.2 5.2,4.8 5.3-3.4 0.4-3 -5.6-4.3zM1260.1,435.4l-0.4,0.5 0.6,4.7 1.4,1 2.7-0.3 2.2-6.3zM879.6,456.4l-10.4-9.1 -4.1,0.3 -6,11 12,9.8 6.3-1.3zM1449.4,300.7l-5.8,4.9 4.8,4.5 4.6-1.8 1.5-6.3zM1150.4,498.1l-4.5,0.7 -1.9,4.7 5.3,5.6 0.6-0.2 3.7-6.6zM894.9,392.5l-2.9,10 0.8,2.1 13.3-1.2 -1.9-10.6 -4.5-3.1zM1018.8,463.9l-3.7-2.5 -1.1,0.1 -6.2,5.5 -0.3,2.5 2.5,2.9 6.1,0.2 4.4-4.2zM990.6,434.8l5.7-3.4 0.5-2.5 -5-3.8 -5.8,2.6zM1247.3,378.5l-0.4,6.2 7.5-0.5 0.9-1.7 -3.3-5.6zM1313.9,455.6l4.6,0 0.2-5.7 -4-0.9 -1,0.8 -1.2,3.9zM1299.3,473.3l-0.1-0.5 -3.8-2.3 -4,1.5 0.2,6.1 2.9,1.7 1,0zM1215.1,494.4l5.7,2.4 3.2-4.8 -0.1-0.6 -5.1-3.2 -2.7,0.9 -1.6,3.6zM1283,599.2l0.2-1.9 -1.7-2 -4.9-1.2 -0.5,0.5 2.7,4.5 2.5,1.9zM1273.1,474.7l1.7,3.9 4.1,0.3 1.9-2.8 -3-5.1zM1157,311l-5.1-5.8 -4.8,1.2 -0.3,6.5 5.4,3.8zM1166.9,245.1l0.3,1.5 4.9,3.2 3.8-1.3 2.7-5.2 -4.3-3.4 -2.8,0.6 -1.6,0.7zM1224.1,563.1l-0.6,1 3,4.1 7.4,0 0.7-2.4 -2.7-5.6zM1065.4,394.8l-4.5-2 -1.9,0.4 -2.6,7.1 3.4,3.5 3.8-1zM1138.1,535.2l5.9,1.4 3.6-2.8 0.2-0.6 -3.5-4.6 -7,0.9zM1246.7,495.4l2.4,2.5 0.5,0 3.2-3.4 -2.3-4.4 -2.3,0.9zM1211.8,379.9l-0.8-3.9 -5.7-1.6 -1.2,4.7 2.5,3.3zM1206.9,538l0.2-3.4 -6.7-3.6 -1.8,2 1.4,7.8 0.4,0.1zM1099.6,525.8l-6.8,1.8 -1,5.1 1.1,1.6 8,0.3 1.4-1.9 0.1-2.8zM1143.1,592.8l3.8,0.5 2.3,4.5 1.5,0.7 -0.4-6.5zM1123.5,467.6l3.6-0.4 3.9-4 -4.1-6.2 -6.2,4.2 1.8,5.6zM1505.8,289.5l-1.1-0.3 -14.8,5.1 4.2,12.2 6.9-4.3 4-7.7 1.2,1.4zM1021.9,598.4l2.1,9.1 3.8,0.5 3.3-4.6 -2.9-7.7zM695.7,402.3l8.9,7.6 5.2,0.2 3.9-3.6 0-20 -5.2-4.9 -15.7,5.4 -0.3,0.6zM722.1,230.7l-9.3,0.9 -0.6,0.6 3.4,14 5,2.8 11.8-10zM1458,348.7l-9.8,1.4 1.8,8.8 3.2,0.5 6.1-7.3zM1157.7,533l3.2-1.2 1.4-6.6 -1-1.3 -6.6,2.9zM1398.2,292.2l-3.1,0.7 -2.1,5.7 5.4,4.3 6-1.7 0.9-2.7zM1107.1,268.2l1.8,6.8 8.5,3.5 5-8.1 -2.7-5.2 -10.1-0.5zM1177.3,351l6.1,3.8 5.2-2.9 0.8-3.8 -5.2-4zM1298.1,488.9l-6.7-1.8 -1.6,0.7 0,6.4 2.5,1.3 6.1-2.9zM1129.2,282.1l-6.3,1.9 0.9,8.3 6.2,1.9 5.6-5.8 -1-3.6zM1074.2,436.7l-3.1-2.5 -7.5,2 -1.1,2.7 1.7,2 8.4,1.8zM1433.7,285.9l1.7-3.3 -0.4-1.5 -9.3,0 -0.2,1.5 6.9,3.6zM1090,553.6l5.1,2.5 4-1.7 1.4-5.9 -2.5-3.9 -5.1-0.6zM1095.4,484.3l-5.9,5.1 3.2,5.4 4.6,0.8 2.5-8.9zM1141.3,357.5l1.5,1.7 5.6-0.7 1.7-5.1 -3.7-4.3 -5.3,3.3zM959.5,540.2l-0.4,1.4 10.7,9.3 8.3-3.4 0.4-1.9 -5.2-9.7 -2.1-0.5zM877.6,259.3l5.6-2.8 6.8-14.9 -1.1-2.8 -13.8-5.9 -9.3,17.6zM1045.3,444.5l-3.7,5.7 0.4,2.1 9-0.2 1-1.1 -2.7-6zM1283.4,437.9l1,0.3 5.7-1.7 0.1-3.1 -2.8-2.8 -0.5-0.1 -3.3,1.9zM1321.3,448.7l3.2,4.6 2.2-0.4 2.5-4.5 -5.1-2.5 -2,1zM1277.8,471l-1.3-2.7 -5.9,0.6 -1.7,2.5 1.7,2.8 2.5,0.5zM687.9,205.3l0.8-8.8 -3.9-3.6 -10.3,2.4 -1.4,4.1 5.5,10.7 0.3,0.1zM1107.9,382.9l-0.8,5.7 1.7,1.6 5.8,0.1 -1.9-9.7 -0.8-0.1zM1231.8,407.7l2.3,4.9 5.4-2.2 1-1.9 -0.1-0.7 -5.5-3.6zM1290.7,623.2l-0.7,0.1 -5.2,5.6 4.8,6.8 5.1-4.6zM1163.7,360.6l-4,2.4 4.6,6.1 1.5-0.3 3.7-6.3zM1335.8,446l2.3,5.2 3.8-1.4 -1.4-5.9 -0.7-0.4 -3.4,1.4zM1211,392l2.8-4.1 -0.4-0.9 -6.7-2.9 -2.8,4.4 0.1,0.6 3.9,3.5zM1240.4,407.8l0.1,0.7 5.2,2 3.2-3.8 -0.6-2.4 -4.6-1.2zM1315.8,669.7l-1.1-1.1 -4.8,2.1zM1246.8,501.3l-3.7-0.4 -2.2,4 3.7,2.3 2.6-0.4 1.2-1.9zM1404.2,400.7l-3.6-2.7 -2.1,1.9 4.4,4.3zM1395.7,402.3l3.4,4.7 0.8,0.3 -0.5-4 -1.1-3.3zM1268.9,471.4l1.7-2.5 -1.6-5.2 -3.2,0 -2.4,5.4 2,2zM1207.3,249.3l0.3-2 -2.6-4.2 -6-0.7 -1.8,8.5 6.3,2.2zM1312.3,545l-4.6-5.3 -1.3,0.7 -1.9,4 0.7,1.8 7,0.5zM1286.6,443.1l-3.7,2.3 0.9,3.8 3.8,1 2.7-3.7 -0.2-2.1 -0.4-0.5zM1352.2,320.2l-1.5,4.2 3.3,5.6 7.9-1.2 0.6-6.1 -7.5-4.1zM1150.1,277.1l2.1,0.1 3.1-4.7 -2.1-5.8 -6-0.8 -2.4,3.7zM1025.8,475.6l-3.6-6.5 -1.7-0.7 -4.4,4.2 3,8.3 3.3,0.2zM1186.3,475.2l4.8-1.9 -0.5-4 -6.1-0.3 -1.4,3.1zM1256.9,546.7l-3.4,1.8 -0.5,3.7 3.3,0.7 2.3-2.9zM1003.8,260.8l-1.6-6.9 -10.7,1.8 -1.6,4.1 3.2,7.1 5.7,1.2zM1044.6,362.5l-4.8-4.4 -5.3,0.6 -2.1,2.1 3,7.1 2.5,1.4 5.9-0.5 1-0.8zM1067.9,580l-9.7,3.1 -0.1,5.2 7.2,2.6 5.4-4.8 -1.3-5.6zM1371.2,457.6l-3.2,4.1 0.5,2.9 1.7,0.5 6.2-1.6 0.5-1.1 -2.2-4.7zM1286.1,613.5l5.8,0.9 4.1-3.3 -6.5-5.9 -0.8,0 -4.2,5 0,1.1zM1316,540.6l-3.7,4.4 0.2,2.2 0.8-1.6 4.5-4.1zM1242.4,561l5.8-1.5 -0.5-4.7 -3.2-1.4 -3.6,2.1 -0.4,1.7zM1331.9,409.8l4.9-4.9 -4.9-3 -2.8,1.3 -0.5,1.2zM1240.9,483.3l1.4,2.8 6.6-2.6 0.6-1.3 -2.8-3.8 -3.5-0.6zM1353,382.3l-4.9-5.3 -3.9,0.6 -2.4,3.6 5.4,7.5 5.9-4zM1278.4,386.2l-0.5-0.5 -5.7,0.5 -1.8,6.3 1,0.6 8-0.7zM1256.2,580.3l-2.1,2.5 0.6,3.4 2.5-1.2 3.2-3.3 0.8,0.2 -2-1.8zM685.9,329.1l7.7,9.7 4.4,1.2 11.5-18.4 -6.6-4 -11.4,1.7zM1354.2,431.2l0.2-4 -4-3.1 -1,0.7 -1.7,4.3 1.6,2.2zM1170.8,549.8l-6.9-1.5 -1,1.3 1.4,5 5.2,0.9 0.7-0.6zM1242.7,242.7l0-0.7 -7.6,0.6 0.9,1.6 1.6,0.6zM1281.3,332.5l3.4,1.9 2.4-0.5 1.4-7.9 -1.5-2 -2.1-0.3 -0.5,0.4zM1124.1,588.2l-1.6,1.2 4.5,1.5 4.1,0.3zM1118.7,519.9l-3.2,0.5 -4.5,5.8 1.8,2.6 4.9,1.3 2.8-2.4zM1403.1,319.5l2-5.5 -0.9-1.4 -9.8-1.6 -0.9,4.3 4,6zM1136.5,253.2l4.1,2.7 5-2.2 1.3-6.3 -10.1-0.5zM1089.5,515l1.9-2.6 -0.6-7 -2.9-2.4 -7.9,6.1 6.8,6zM1137.6,207.3l0.1-1.3 -5.9-1.3 -3.6-3.4 -1.7,2.5 0.4,3.1 3.3,2.9zM1184.9,314.9l-0.5-3.7 -6.9-2.1 -4.5,2.8 4.4,7.2 3.2,0.7zM1207.1,428.5l-0.9-2.8 -4.4,0.7 -2.2,4.4 5,3zM1343.2,516.9l-0.9,0.1 -2,1.9 0.4,3zM1290.9,541.9l3.5-2.1 0.3-1.9 -2.3-3.1 -1.4-0.2 -2.9,5.6zM1310.6,530l-2.8-0.9 -2.1,1.9 -0.1,0.7 2.5,7.3 5.9-2.4zM1309.6,448.3l4.1,1.5 1-0.8 -0.1-4.7 -4.5-0.9 -1.4,1.3zM1242.5,351.5l3.1,2.1 5.3-0.3 2.1-1.8 -0.3-7.8 -5.7-0.1 -4.7,5.1zM1126.9,206.9l-7.9,4.1 -0.9,8.5 5.5,1.1 6.9-5.3 -0.3-5.5zM1199.1,226.3l1.5,2.3 3.9-2.1 -1.3-2.1 -3.5,0.7zM1238.3,493.9l0.4,3.7 3.1,0.7 2.3-2.8 -2.1-3.7zM1105.5,373l-3.6-7.9 -3.7-0.6 -3.6,6.8 1.1,2.8 6.8,1.1zM963.3,365.4l8.4-4.8 0.6-3.3 -6.8-4.8 -4,3.5zM1161.5,372.9l2.8-3.8 -4.6-6.1 -1.9-0.2 -1.7,7.7 3.4,2.8zM1270.2,287.8l-8.6-0.1 -1.4,5.7 5.1,3.8 6.5-3.8zM1142,482.3l-2.8-3.3 -4.6-0.1 -3.3,4.5 2.6,2.8 6.4-0.9zM1214.5,492.7l1.6-3.6 -2.7-3.2 -3.8,0.1 -0.4,5zM1391.3,418.9l-1.5-0.5 -2.7,2.1 0.3,4.2 2,1.5 1-0.3zM1232,470.9l-3.9,3.9 0.1,0.9 3.3,2.8 3.1-1.3 -0.3-4.9zM1311.6,639.1l3.1-3.6 -2.3-7.9 -2.2-0.2 -4.1,2.5 1,8.2 1.3,1.5zM1143.1,396.4l4.3,2.6 3.4-1 0.8-2.7 -3.8-5.1 -4.5,3.6zM1291.2,472.2l-2-5.4 -4.1-0.8 -1.1,2.8 1.8,3.6zM1177.3,570.6l-5.9-2.8 -2.2,1 -1.6,2.7 0.8,3.2 6.6,3 2.8-3.5zM1026.3,579.8l-6,8 0.2,0.6 9,4 2.8-6.2zM1070.5,485.1l1.7-5.4 -5.3-5.1 -4.4,2.7 2.8,8.9zM1226.2,444.3l-0.1,4.1 3.9,0.4 2.3-5zM1081.7,467l5-2.7 0.9-4.2 -2.4-3.2 -6.2-0.1 -1.6,5.2 2.6,4.6zM1184.2,344.1l-1.2-4.6 -1.3-0.5 -9.9,4.9 0.6,3.8 4.9,3.1zM626.2,315.9l-2.8-0.6 -3.9,13.4 1.5,6.4 10.9-6.5 0.6-3.6zM1283.5,527.6l0.7,1.7 5.1,0.5 1.6-2.2 -0.3-1.2 -3.6-2.5 -2.1,0.5zM1074.9,518.5l-5.8-5.1 -6.1,4.9 4.6,5.9 6.1-2.3 1.5-2.2zM930.8,426.3l-11.5,2.2 0.1,9.4 10.8,2.6 2.3-11.7zM1039.7,501.6l-7-6.2 -6.1,6.3 0.2,0.7 10.1,4.9 2.9-3.6zM1248.5,521.4l3.8,0.2 -0.4-4.9 -3.7-1 -1.2,3.7zM708.6,275.4l0.7-0.2 1.3-8.7 -9-12.8 -0.6-0.2 -7.3,1.5 -2.4,16.5zM1281.3,332.5l-2.8,0.8 0,7.2 3.3-5.5 2.9-0.6zM1201.1,454.4l2.2,2.6 4.7-1.3 1.2-2.3 -2.3-3.1 -3,0zM650.7,337.3l3.6,11.3 8.2,1.8 8.7-11.6 -0.5-8 -17.5,2.5zM1414.1,376.7l2.4,2.2 5.7-2.1 -2.3-6.4 -4.4,0.5zM1466.1,322.1l-4-0.8 -4,2.4 -0.2,7.1 3.4,1.3 6.3-2.4zM1067.3,610.2l7.2-4.2 -2.3-7.4 -5.5-0.8 -3.4,3.1zM1073.3,235.4l-4.2,4.5 3.1,6.1 8.7,1.1 1.1-1.6 -1.2-9.8zM1172.7,593.6l0,2 1.9,2.2 2.4,1.8 1.6,0.6 1-0.1 2.3-3.5 -3.1-3.5zM1254.9,508l1.5,1.6 3.9-0.5 0.5-1.4 -2.4-4.6 -0.7,0zM1231.9,560.2l2.7,5.6 7.5-3.5 0.3-1.3 -1.9-3.8 -8.1,0.8zM1127.4,433.9l-0.9,6.9 3.5,2.5 3.2-1.8 -0.6-5.3zM1154.9,572.9l-2.4,4 0.9,3.8 4.4,2.8 3.4-4.5 -2.7-6.9zM1235.4,448.4l4.5-0.6 0.1-1.6 -2.9-3.6 -4.6,1.1zM1372,331.3l-7.7,0.8 -1.4,6.2 4.2,5.1 7.4-2.4 0.5-1zM1271.7,458.4l-5.7-2.3 -2.8,4.7 2.6,2.9 3.2,0 2-1.6zM989,343.4l3.7,2.6 6.8-3.2 -4.3-7.2 -6.6,2zM1192.8,540.6l-5,4.7 4.4,4.8 3.3-1.1 0.6-6.5zM1010.4,614.5l-1-9.1 -6.4-1.2 -2,1.7 3.7,10 0.9,0.9zM1161.9,281.2l2.4,3.7 6.4-0.7 1.7-8 -1.2-1.4 -7.7,0.1zM1079.3,579.3l-7.4-1.2 -2.5,2.4 1.3,5.6 4.7,2.4 5.1-1.8zM1245.7,410.5l0.7,3.5 5.2,0.2 -0.5-6 -2.2-1.5zM1094.4,269.7l-1,2.7 2.1,6 8.8,2.4 4.6-5.8 -1.8-6.8 -10.3-0.4zM1221.2,546.5l-3.2,1.2 -0.3,7.3 6,0.3 0.8-5.7zM1049.5,626l-2.1,6.3 0.2,0.6 4.6,2.3 -1-9.6zM1240.3,519.3l6.7,0.1 1.2-3.7 -1-2 -1.7-0.1 -5.3,5.4zM1279.9,392.8l0,6 1,1.1 5.8-0.5 2.2-3.7 -2.1-4.4zM1171.6,375.8l4,2.6 5.5-3.3 -3.6-6.9 -3.1,0.3 -3,3.8zM1394.8,438.2l-3.4,2.3 0,3.4 1.5,0.9 3-4.9zM1256.8,563.9l0.2,0.8 4.5,1.5 2.7-0.7 0.7-2.8 -2.6-2.9 -2.9,0.2zM1075.3,470.9l3.3,7.3 6.2-4.3 -3.1-6.9 -1.7-0.4zM1226.8,486.9l7,2.1 0.6-4.9 -3.5-2.8 -4.6,2.9zM1280.4,564.5l-2.6,2.3 -0.1,0.6 3.9,3.8 0.8-0.2 2.2-4.5 -0.1-0.6zM1239.2,535.2l-3.5,2.7 -0.1,1.9 4.3,5.4 1.8-0.2 2.1-1.9 1.6-4.9 -2-2.6zM682.8,478.6l0.9,0.7 17.6-1.3 -0.8-16.4 -2-2.1 -1.9,0 -13.4,11.1zM679,371.8l4.8,0 9.3-10 -11.6-10.2 -11.8,8.7zM1091.9,234.6l-9.7-0.5 -1.4,1.6 1.2,9.8 10.9-1.7zM1109.6,208.4l-3.3,7.5 0.9,1.6 10.9,1.9 0.9-8.4 -4.1-3.7zM1083,574.4l-6.4-4.5 -3.6,1.8 -1.1,6.4 7.4,1.2 3.7-3.7zM1411.6,403.4l-3.2,5.4 0.2,1 5.4-5.9zM1359.4,432.2l0.8-6.4 -0.7-1.2 -0.7-0.2 -4.4,2.8 -0.2,4 0.5,0.5zM1169.8,496.4l7.4,0.9 0.4-6.1 -3.7-1.8 -4.1,3.6zM750.9,446.3l-15.5-0.1 -2.3,18.6 2.1,2.4 11.9-1.4 6.3-15.2zM1099,583.1l5.5-6.3 -0.5-0.7 -8.1-3.3 -1.4,0.9 -2.4,7.9zM1119.5,496.5l5.7-5.9 -0.8-3.7 -4.4-1.8 -1.5,0.8 -3.2,7.1 0.4,1.5 2.2,2zM1172.5,593.3l6.3-0.2 0.3-0.5 -2.1-4.8 -0.2-1.5 -1.2-0.5zM1321.6,421.1l4.2,3.7 2.6-1.1 -1.3-6.8 -3.5-0.2zM1169.1,323.1l-2.4-4.7 -4.4-0.4 -3.1,3.1 0.6,6.1 4,1.4zM1237.7,471.4l3.8,3.5 3.6-4.5 -0.3-2 -3-1.6 -3.3,1.4zM1254.4,384.2l0.2,4.8 6.7,1.8 1.8-0.7 0.5-4.7 -5.8-3.3 -2.5,0.4zM1296,611.1l0.8,0.4 8.8-2.7 -0.1-4.7 -4.6-2.9 -2.3,0.8zM1182.4,518.2l-4.1-3.2 -4.4,3.4 3.4,5.7 3.4-0.5zM1395.5,425.6l5.6,0.9 0.4-0.4 -1.4-6.1 -4.3,2zM695,295l4.6,3.6 18.6-0.4 1.4-2.5 -3.7-16.2 -6.6-4.3 -0.7,0.2zM1303.9,577.2l-1.2-3.2 -5.1-1.8 -2,0.7 -1.3,4.2 2.6,2.9 5.9-1zM1083.3,597.7l3.2,1.8 3.2-4.4 -0.5-3.6 -4.2,1.2zM1094.1,592.5l-2.6-1.7 0.9,0.6 0,4.6 2.1-1.6zM1369.3,420.5l-0.4-2.9 -4.7-1.7 -1.3,1.6 0.8,3.6 2.4,1.2zM1245.4,538.2l-1.6,4.9 6.7,0.6 1-1.2 -1.9-4.7zM1042.3,525.6l6.6-0.3 2.1-5.5 -8-4.2 -2,0.3zM1006.4,489l8.2,1.2 1.3-7.3 -7-2.9 -4.3,2.5zM1283.7,506.7l2.7-4.3 -1.3-1.7 -2.9-0.3 -3,4.2 1.3,1.8zM1172.5,593.3l-3.9-1.6 -6.4,2.9 2.3,4.4 7.9-2.9 0.3-0.5zM1325.3,646.8l-1.5-5.3 -7.7,2.1 -0.7,5.2 4.5,1.6zM1298.3,375.7l-3.4,1 -1.4,5.9 1.9,2.6 6.1-4.6zM1010,592.4l-8.6,2.8 1.6,9 6.4,1.2 2.6-1.1 3-6.6zM1324.5,453.3l-2.1,3.8 3.4,3.9 3.8-1.2 1.1-3.4 -4-3.5zM1262.3,559.8l2.6,2.9 4.2-2.5 -0.8-3.2 -3.4-2.2 -1.5,0.2zM1072.2,246l-3.7,5.6 5.5,5.9 2.4-0.3 5-7.1 -0.5-3zM912,365.1l-3.4-6.7 -13.7,3.9 4.6,10.4 7.6,1.2zM1294.6,508.8l4.5,5.2 5.4-6.1 -1-1.5 -5.1-1.2zM1033,482.2l0.5-1 -2.6-6.2 -5.1,0.6 -3.4,5.5 3,3.5zM1209,540.4l5.2,0.1 1.1-1.2 -0.4-4.3 -5-2.7 -2.8,2.3 -0.2,3.4zM977.4,490.4l-7.4-4.3 -3.2,3.8 3.3,8.4 5.4-2.2zM809.5,433.8l13.3-9.4 -3-9.1 -11.1-2 -4.9,3.9 5.4,16.4zM1096.3,212.7l0.8-0.3 3.8-10.4 -10.4-3.2 -0.5,0.4 -1,6.9zM1160.5,408l-1.4,6.9 3.8,2.1 5.7-3.3 -1.1-4.3 -6-2.4zM1275.9,510.2l3.9-0.2 0.7-3.6 -1.3-1.8 -3.8-0.2 -0.9,3.8zM669.6,320.7l1.8,8.9 14.5-0.5 5.6-9.8 -10.3-12.4 -0.5,0.1zM1415.5,370.9l4.4-0.5 2-2.1 -4-6 -1.5,0.3 -3.1,5.8zM1315.7,502l-2.4-0.2 -5,7.4 5.8,2.2 2.7-1.8 -0.5-6.9zM786.9,273.2l-7.2-1.6 -7.3,5.7 -0.7,2 12.4,9.7 7.3-2.9zM1289,422.1l-1.6-4.9 -5-0.6 -1.5,5.4 2.6,2.8 5.3-2.1zM1209.2,485.6l-0.2-3.7 -3.9-2.8 -3.2,4.1 1.7,2.8zM1132.9,383.1l1.7-0.5 -0.2-6.4 -2.5-1.7 -4.5,1.7 -0.6,3.9zM1304.3,448.9l-2.6,0.9 -1.1,1.9 0.3,0.9 5.6,3.1 1.2-1.4 -0.7-3.9zM1351.3,485l1.6,0.7 4.4-1.5 1.2-4 -1.6-1.5 -4.6,0.4 -1.7,3.3zM1190.7,536.3l1.3-2.2 -1.7-5.6 -6.5,1.3 -1.3,2.9 3.7,4.1zM1306.4,540.4l-5.4-2.3 -2.3,4.9 0.5,0.5 5.3,0.9zM966.2,337.5l3.1-4.9 -3.2-5.9 -7.1,0 -1.7,3.3 2.3,6.9 6,0.9zM1067.4,467l-4.9-1.6 -4.1,2.3 -1.4,7 1.9,2.1 3.6,0.5 4.4-2.7 1.7-4.5zM1180.2,567.6l-2.9,3 0.5,3.6 6.5,1.5 0.6-0.4 0.4-6.3zM994.4,485.9l3.7,6.7 6.3-0.6 2-3 -1.8-6.5 -1.8-0.6 -7.3,2.3zM1171.2,472l-2.3,3.3 0.8,3.4 1.5,0.8 5.8-0.9 1.3-1.7 -6.1-5.4zM1201.1,338.2l-0.5,2.5 3.7,2.6 -1-6.7zM1261.3,496.9l1,0.8 3.3-1.7 -0.8-4.7 -2.7-1.1 -1.9,1.3zM1447.2,295.2l-5.9-0.9 0.3,11 2,0.3 5.8-4.9zM1281.1,367.5l-3.5-0.7 -2.4,2 0.4,4.3 4,1.6 2.7-1.8 0.4-2.7zM1299.7,411.3l-1.2-5.8 -3.3-2 -1.8,0.8 -2.2,7.8 0.3,0.8zM1004.2,547.8l3.2,6.9 3.8,0.9 5.6-8 -1.7-4.5 -3.2-1.7zM1178.1,539.2l-0.9-5.5 -2.8,0.3 -4.5,4.6 0.5,2.8 2.1,1.6zM1190.6,469.3l-0.7-6.3 -1.3-1 -5.4,3.5 1.3,3.5zM1473.5,348.8l-4-0.1 -5.1,6.1 0.6,2.1 1.3,0.9 2.1-0.4 6.7-4.2 0.4,1.2 0.3-0.3zM1285.4,384.9l1.2-3.8 -7.2-1.9 -1.3,1.2 -0.2,5.3 0.5,0.5zM1164.5,512.7l4.3-2.8 -0.2-3.2 -4.9-3 -4.2,3.5 -0.1,1.8zM1033.6,643.8l-5.8,3.2 0.3,2.5 6.7,3.2 3.2-4.5 0-0.5zM1209.5,521l-1.8,1 -0.1,2.4 2.9,4.4 7.8-1.8 0.6-1.1 -2.2-3.6zM1162.4,557.5l-3,0.8 0.2,7.1 5.5-1.7 0.7-2.3zM1307.8,552.8l0,0.6 1.1,0.5 2.4-4.6zM1120.5,547.4l-2.3-4 -8.3-0.4 -1.2,4.9 1.1,1.8 8.1,0.9 1.9-1.2zM1237.2,505.9l-1.5-6.2 -4.3-1.7 -3.9,4.2 3.9,5.6 1.8,0.6 3.3-1.4zM1375.8,420.2l0.6-2.3 -4.7-3.3 -2.8,3 0.4,2.9 3.6,1.8zM970,486.1l-6.8-9.5 -13,7.8 8.4,6 8.2-0.5zM1287.4,430.6l2.8,2.8 4.4-2.2 -0.1-4 -4.2-0.9zM1224.3,482.4l-4.6,0.8 -0.9,5 5.1,3.2 2.9-4.5 -0.5-2.7zM1233.8,489l0.3,0.5 8-2.5 0.2-0.9 -1.4-2.8 -3.5-1.1 -3,1.9zM1043.2,390.8l5.6,5.5 6-4.9 -1.6-3.2 -7.9-0.7zM871.1,468.4l-8.5,15 6,6.1 13.4-5.1 0.7-13.8 -5.3-3.5zM1136.3,581.3l-4.6,1.3 0.2,7.6 8.3-1.4 1.1-3.9zM1394.4,311l-0.1-0.5 -6.9-3.5 0,4 -4.6,4.1 5.1,3.1 5.6-2.9zM1219.7,474.9l1.5-2.5 -2.1-4.6 -4.5,0.8 -1.2,2.3 1.8,3.3zM1092.9,534.3l-1.1-1.6 -7.6-0.3 -0.9,4.8 4.6,5 3,0zM1288.8,403.4l-2.1-4 -5.8,0.5 -0.4,5.6 4.2,2.8zM960.2,499.2l-7.7,9.8 10.4,1.7 7-7.7 -0.7-3zM1227.2,542.1l2.4,1.3 6-3.6 0.1-1.9 -2.7-2.4 -6.9,0.1zM1320.9,495l-5.2,7 0.6,0.7 7,1.3 1.9-1.7 -2.3-7.3 -0.8-0.4zM1393.7,427.2l1.8-1.6 0.3-3.6 -4.5-3.1 -0.9,7zM1330.7,477.1l-5.6-4.3 -4,6.5 6,2.7 3.6-1.7zM1189,426.7l-1-7.4 -6.6,1.3 -0.6,2.4 3.3,5.4 2.2,0.5zM1171,510.9l-2.2-1 -4.2,2.8 2.2,5.8 2.4,1 3.9-1.4zM984.2,406.6l-9.3,1.6 3.3,6.3 7.1-0.1zM1266.7,442.6l0.7,4.1 4.4-0.2 2-3.3 -1.9-3zM1307,450.4l0.7,3.9 4.8-0.6 1.2-3.9 -4.1-1.5zM1185,484.6l2.7,5.2 1.4,0.3 2.9-2.6 -0.7-5.8 -1.7-0.1zM1205.3,419.3l1.5,5.3 5.6-1 -0.7-6.1zM1189.2,334.7l6.5,9.7 4.9-3.7 0.5-2.5 -5.5-5.8 -5.9,1.2zM1113.9,567.7l6.4,7 3.6-4.6 -1.7-5.8 -1.8-1.2zM1223.7,555.3l-6-0.3 -0.8,0.6 -0.8,5.4 2.9,3.7 4.5-0.6 0.6-1zM1512.6,287.1l6.5,2.2 10.9-10.9 -11.1-9.3 -5.1,2.1zM1380.8,358.2l-1.5,6.8 1.4,1.9 7.1-0.7 0.7-6.2 -3-2.7 -3.4-0.2zM1264.8,324.9l2.5,8.6 2.9,1.3 4.9-2.5 -1.3-5.9 -6.5-2.9zM882,484.4l-13.4,5.1 0.8,6.1 18.6,8.6 4.7-6.3 -1.4-7.4zM1104.5,478l3.5-4.8 -1.2-2.9 -4.6-2 -4.9,3.3 0.9,4.5zM1224.8,573.9l5.5,3.4 4.1-7.9 -0.5-1.2 -7.4,0zM1165.8,535.6l-4.4,4.2 -0.1,2 2.7,2.9 6.4-3.3 -0.5-2.8zM1283.5,475.9l3.8,3.7 4.3-1.5 -0.4-5.9 -5.4,0.2zM1365.1,360.8l1.4-4.9 -4.8-5 -0.5,0.1 -3.7,8.7 0.5,1.9 2.4,1zM1386.6,394.9l5,4.9 3.7-6 -0.2-0.8 -5.8-2.4 -2.8,2.2zM641.9,274.8l-3.7,5.5 5.3,13 16.7-7.4 -4-14zM1185.5,259.5l-3.9,6 7.2,4.1 2.1-0.6 0.4-6.3 -4.8-3.4zM1346,358.4l2.5,4.8 7.2,0.2 2.3-1.8 -0.5-1.9 -8-5.6zM1184.2,344.1l5.2,4 5.8-2.6 0.5-1.1 -6.5-9.7 -6.2,4.8zM1338.9,398.5l-6.1-0.8 -0.9,4.2 5,3zM1438.9,372.6l-5.3,2.8 0,0.5 6.8-2.6zM692.8,387l-9-15.2 -4.8,0 -9.2,9.8 6.8,12.2 15.9-6.2zM1111.1,482.6l0.4,1.4 7,1.9 1.5-0.8 -0.6-7.8 -4.1-1.2zM1300.2,498.4l5,1.8 1-0.6 0.8-6.1 -0.4-0.5 -7.2,0.5zM1127.6,365.3l6.5-2.5 0.2-4.7 -2.2-2.6 -5.6,4.3zM1036.9,427.1l4.6,2.9 4.5-2.7 1.1-5.2 -8.6-3.7 -3.4,1.9zM1031,618.5l-7.7,1.7 -2.8,5.8 0.9,1.8 7.2,2.4 1.6-0.9 1.7-9.5zM1134,508.4l5.5,1 2-5 -5.9-3.4 -3.1,1.5 -0.5,2.6zM1061.5,563.5l-4.5-4.9 -6.9,5.8 3.1,4.8 7,1.2zM1077.4,462l-7.3,1 -2.7,4 1.2,3.1 6.7,0.8 4.7-4.3zM1314.7,356.5l3.9-4.7 -4.2-2.9 -1.1,0.5 -3.9,3.2 0,0.8zM1351.2,421.1l5.2-0.8 1.2-2.9 -1.1-2.5 -3.4-0.8 -3.3,2.1 -0.2,2.5zM1066.3,613l-11-1.6 -1.4,3.1 2.9,7.4 2.7-4.2 7-4.4zM1238.4,418.7l3-4 -1.9-4.3 -5.4,2.2 2.1,6zM1343.3,424.5l-0.3,4.4 4.7,0.2 1.7-4.3 -4.7-1.3zM1307.3,557l1.6-3.1 -1.1-0.5 -1.6,1.8zM1224.4,514.4l-1.1,1.5 1.4,7.9 6.2-2.3 1-4.3zM670.7,189.9l-11.9-0.9 -5.7,7.8 3.5,7.8 1.4,0.6 15.1-5.8 1.4-4.1zM1242.3,421.4l3.4-2.3 -0.1-4.2 -4.2-0.2 -3,4zM1306.1,629.9l-5.2-1.2 -2.7,2.4 1.9,6 7,1zM1015.9,529.4l3.9-5.6 -2.7-5.1 -3-1.2 -5.7,5.4 0,1.4zM1155.4,458.3l4.9,2.8 2-1.3 0-8.2 -4.4-0.6 -2.5,1.3zM742.3,523.5l-2.6-1.7 -6.1,3.2 2,8 2,3.2 7.5-0.7zM1032.7,454.5l0.3,7.8 6.6,1 2.7-4.4 -1-5.2zM1325.7,534l-2.7,3 3.3-2.9zM1353,447.5l4.9-2.7 -3.2-3.6 -2.8,0.8 -1.6,2.7zM1311.5,470.1l0.7-2.4 -2.8-4.4 -3.1,0.6 -2.7,4.1 4.3,3.8zM1140.8,553.3l-3.3,1.3 -1.6,3.8 2.2,5 6.9-3.3 0.5-1.1 -0.6-3.8zM1078.8,546.6l4,0.3 5.1-4.7 -4.6-5 -7.3,3zM1186.8,545.2l1,0.1 5-4.7 -2.1-4.3 -4.5,0.5 -1.8,2.9zM1120.7,461.2l-1.8-1.2 -5.2,1.2 -1.9,2.7 3.9,4.4 6.8-1.5zM1149.1,548.4l-1,4 7.5,4 1.8-6 -2.1-2.2zM1026.4,513.9l10.2-3.4 0.3-3.2 -10.1-4.9 -2.4,8.3 1.4,2.8zM1217.4,404.6l1.4,1.9 2.6-0.1 4.7-4.3 -4.3-3.6 -3.4,0.2zM724.6,193.4l-6.3,6.5 5.7,9.5 12.3-3 -2-13.2zM1429.5,372.4l-0.3-1 -1-0.8 -2.6,0.5 1.6-1.3 -2.4-1.9 -2.9,0.4 -2,2.1 2.3,6.4 0.6,0.2 1.1-0.2zM1241.5,475.4l1.7,2.4 3.5,0.6 3.4-5.1 -5-2.9 -3.6,4.5zM1267.1,304.7l-2.7-1.8 -5,1.4 -2.4,3.5 3.2,6.2 5.6-0.3 2.5-3 -3.1,0.3 2.1-5.2zM1291.8,594.3l2.1,5.6 4.7,2.1 2.3-0.8 1.6-6.8 -1.2-1.2zM733.9,292.5l5.5,4.8 10.9-5 -0.3-10.1 -14.7-0.6zM1140.2,588.8l-8.3,1.4 -0.7,1 4.5,0.2 6.9,1.3zM1136.4,458.1l-2.2-4.4 -7.1,2 -0.2,1.3 4.1,6.2 2.1-0.2zM1191.8,570.5l4.4-3.5 0.2-1.9 -6-3.6 -2,1.2 -0.8,4.9zM1230.2,341l5-3.9 -0.2-1.8 -6.4-4.1 -0.3,0.2 -0.9,6.8 -0.6,1.1 0.4,1zM1298.2,631.1l2.7-2.4 -0.9-7.1 -8.2,0.5 -1.1,1.1 4,7.9zM1219.8,539.7l3.4-4.7 -4.3-3.2 -4,3.2 0.4,4.3zM1271,277.4l-0.9,2.5 1.8,4.2 1.7-0.1 -1-4.3zM1381.7,416.7l-2.5-0.7 -2.8,1.9 -0.6,2.3 3.1,3.2 2.6-0.1 1.9-2.3zM1204.5,547.4l3.2-1.4 1.3-5.6 -2.1-2.4 -6.5,2.9zM1212.7,416.5l4.8,1.9 3.2-2.8 0.1-0.7 -3.6-4.2 -1.1,0.4zM966.1,374.7l11-7.3 -5.4-6.8 -8.4,4.8 -0.3,0.7zM1380.8,358.2l1.3-1.1 -2.1-8.4 -1.4-0.4 -6,3.4 -0.6,3.2 1.3,1.9zM1011.2,555.6l-3.8-0.9 -7,7.1 3.2,6.7 0.6,0.2 8.8-2.1 -0.8-10.1zM1020.3,587.8l-5.4-2.3 -3.6,1.7 -1.3,5.2 5,5.3 3-0.9 2.5-8.4zM1088.3,450.6l-0.8-1.4 -9-0.9 -0.6,7 1.1,1.5 6.2,0.1zM709.7,187.9l-10.6,0 3.1,6.6 2.7,1.4zM1156,329.3l-5.2-2.7 -4.6,2.5 -0.6,1.6 1,2.5 7.3,3.4 1.2-0.7zM1206.3,504.2l4.9-3 -0.2-2.1 -4.5-4.1 -4.5,2.7 -1,3.5 0.1,0.4zM1086.2,394.2l-7.3-3 -0.5,0.6 0.4,8.1 3.9,2.6 2.7-0.2zM1022.4,639.4l-0.4,3.8 0.9,1.4 4.9,2.4 5.8-3.2 -0.1-3.6 -6-3.2zM1127.4,433.9l5.2,2.3 3.8-2.1 0-5.5 -1-0.3 -7.9,2.5zM1198.2,472.9l5.3-2.2 -2-4.7 -1.8-0.9 -2.1,0.7 -1,1.8zM1274.1,548.4l3.1-2.4 -0.7-3.1 -1-0.8 -3.4,0.5 -1,1.2 0.6,3.6zM1399.1,407l-3.4-4.7 -3.9-0.8 -2.4,2.6 1.8,5.7 1.9,0.7zM1324.3,523l-0.4-0.1 -7.1,2.5 -0.7,2.7 2.9,3 5.3-1.8 1-1.9zM1265.8,517.1l2.2,1.8 3.2-1.1 0.8-2.9 -2.2-1.9 -2.7,0.4zM1116.3,557.6l1.6-7 -8.1-0.9 -0.6,3.9 3.4,4.2zM1126.4,528.2l1.4-5.4 -4.4-4 -4.5,0.9 1.6,8zM739.7,307.7l-0.3-10.4 -5.5-4.8 -14.3,3.2 -1.4,2.5 2.2,8.9 16.6,3.9zM1252.2,448.1l-4.8,2.7 3.6,4.9 2.6-1 1.2-2.2 -2-4.2zM1407.1,340.8l-0.8,6.4 6.1,5.3 3.1-1.4 2.1-5.1 -2.9-4zM1268.2,543.8l-2-2.5 -4.2,0.5 -0.1,2.6 2.3,3 1.3,0.3zM1285.4,384.9l-7,1.3 1,6.2 0.5,0.4 6.9-1.5 0.6-1.4zM1101.3,382.5l1.3-1.2 -0.1-6.1 -6.8-1.1 -3,5.8 0.9,1.5zM1325.3,646.8l-5.4,3.6 1.4,8.1 0.3,0.1 3.6-2.5 0.9-8.7zM1228.1,461.2l-4.8-4 -2.7,2.4 -0.7,3.6 0.6,1.2 6.2,0.6zM1255,534.1l2.1-3.3 -0.9-2.7 -5.2,0.9 -0.1,2.1zM987.1,279.7l0.5,7.6 8.1,3.9 3.8-9.9 -0.5-1 -11.1-1.3zM1127.2,430.5l0.5-6.3 -3.6-2.4 -1.9,0.5 -2.5,4.9 0.2,0.6zM1267.6,523.4l-2.5,0.4 -2.1,4 0.4,1.4 4.9,1.9 1.8-3.1 -1.9-4.3zM1364.4,446.2l-5.3-0.8 -0.4,5.9 0.5,0.6 4.7-1.4 1.5-2.9zM1349.3,495l0.4,7.2 7.4-0.4 1.2-3.4 -6.1-4.1zM847.5,306.7l10,12.4 19.6-7.3 0-1.2 -14.2-13.5 -15.2,8zM1174.3,359.1l3-8.1 -4.9-3.3 -5.5,4.7 5.1,7.3zM1299.2,418.1l1.8-5.8 -1.3-1 -8.2,1.6 -0.2,0.9 3.5,4.5zM1007.2,191.3l9-2 0.7-1.4 -11.6,0zM1022.2,469.1l7.8-3 0.8-2.4 -5.9-4 -6.1,4.2 1.7,4.5zM1250,457.3l1-1.6 -3.6-4.9 -1.1-0.2 -2.9,4.8 3.7,2.5zM1300.9,452.6l-0.3-0.9 -5.1-1.1 -2.2,3.4 1.6,3.3 3.4,0.8zM1412.4,352.5l-6.1-5.3 -4.5,2.6 -0.6,3.6 1.5,2.1 8.6-1.3zM1173.7,546.3l-1.2-3.3 -2.1-1.6 -6.4,3.3 -0.1,3.6 6.9,1.5 2.5-1.9zM1260.8,507.7l3.6-1.1 0.3-3.9 -2.6-1.8 -3.7,2.2zM1125.7,415l0.9-3.3 -3.4-5.3 -2,0.6 -2.6,5.6 1.3,2zM1345.6,480.4l0.2-5.1 -6.5,0 0.1,6.1 3.2,1.1zM1191.8,570.5l-4.2-2.9 -2.3,1.4 -0.4,6.3 5.7,0 1.4-1.7zM1384.8,336.4l-9.8,3.6 -0.5,1 4.1,7.3 1.4,0.4 5.9-3.1zM1249.5,482.2l2-0.6 3-5.8 -2.5-2.8 -1.9,0.3 -3.4,5.1zM1408.5,287.5l-7.7-0.6 -2.6,5.3 7.1,6.3zM1145.2,340.4l-1.2,4.4 2.4,4 6.3-4.6 -0.8-3.5zM1114,585.9l-5.6-0.9 -4.9,4.1 0.2,0.5 3.5-1.3 6.3-0.3zM1301,538.1l-0.3-0.9 -1.9-1 -4.1,1.7 -0.3,1.9 4.3,3.1zM1281.2,492.3l6.6,2.8 2-0.9 0-6.4 -4.7-2.5 -1.6,0.4 -2.5,5.8zM1164.9,216.9l-7.2,1.4 -1.5,4.4 6.9-4.9zM645.9,422.2l-4.9-1.1 2.1,2.6 0.8,6 1.8,0.7zM1431,300l8.9,6.1 1.7-0.8 -0.3-11 -1.3-1.3 -9,6.6zM1388.4,299.9l-1.3,4 0.3,0.5 0,2.6 6.9,3.5 4.1-7.6 -5.4-4.3zM1322.9,495l2.3,7.3 4.1,0.2 1-0.7 0.8-6.6 -1.3-1.3zM1268.3,531.1l-4.9-1.9 -1.9,2.6 0.1,2.8 1.3,1.4 3.3-0.1 2.4-3.9zM1136.8,346.8l1.9-2.2 -1-5 -5.4-0.5 -0.3,6.5zM1240.9,555.5l3.6-2.1 1.2-4.5 -4-3.9 -1.8,0.2 -2.5,3.9zM1238.5,432.4l2.6-2.8 -1.4-3.2 -4.3-0.4 -0.8,0.6 1,4.6zM1033.9,349.6l-7.1-1.9 -2.9,4 4.7,8.8 3.8,0.3 2.1-2.1zM1307.7,539.7l0.4-0.7 -2.5-7.3 -4.9,5.5 0.3,0.9 5.4,2.3zM1162.9,417l1.3,4 2.4,1.2 5.9-2.9 0.2-0.4 -1.7-4 -2.4-1.2zM971.8,319.7l10.9-5.1 -6.1-9.5 -4.9,1.5 -3.6,10.2 2.2,2.6zM1178.8,593.1l3.1,3.5 0.4-0.1 -3.2-3.9zM1350.3,403.4l4.4-2.9 -1.4-5.2 -4.9-1.2 -1.6,6.3zM1426.1,362.6l-1.3,5.3 2.4,1.9 4.7-3.9 1.2-0.5 0.9-1.5 -4.1-2.9zM1429.2,371.4l0.8-1.1 -1.8,0.3zM1057.6,489.2l-2.6-5.8 -5.6-0.8 -2.7,2.5 1.5,5.6 7.3,1.3zM1283.4,555.5l-5-1.1 -2.8,4.5 0.4,0.5 3.8,1.2 3.4-1.9zM1237.1,442.6l1.3-2.2 -2-3.4 -2.1-0.3 -2.7,3.6 1,3.2zM1385.5,357.3l3,2.7 5.3-0.6 1.1-5.3 -3.9-4.6zM1002.3,532.2l-4.4-1.4 -8.5,7.2 6.1,8.6 4.1-0.6 3.1-13zM1238.6,396.7l2.2-1.5 -0.3-4.3 -0.9-0.9 -3.2,0.7 -2.1,4.5zM1257.3,556.7l-3.3,1.5 1.1,4.6 1.7,1.1 2.6-3.9zM1228.2,475.7l-0.1-0.9 -3.6-2.9 -3.3,0.5 -1.4,2.5 4.5,4.4zM1244.5,553.4l3.2,1.4 3.2-2 -3.1-3.9 -2.1,0zM1276.2,355.4l-4.3-0.5 -1.3,2.5 2.1,4.7 3.7,0.4 1.9-2.3zM1335.5,509.1l1.1,1.8 3,0.6 3.8-3.5 -0.3-4 -3.6-2.7 -2.1,1.3zM1270.9,568.4l-3.7,6.1 1.4,1.8 6.5-2.6 -0.5-2.9zM985.1,483.4l0.8-7.6 -9.8-0.4 0,4.6 5.8,5zM1304.7,518.4l2.3-0.8 0.8-8.2 -3.3-1.5 -5.4,6.1 0,0.6zM1174.5,458.3l0.5,3.5 4.7,1.4 1.7-3.8 -3-4.1 -0.5,0zM1385,438.8l0.1,2.4 0.5-2.5zM1240,446.2l3.3-2.6 -0.7-4.2 -4.2,1 -1.3,2.2zM1306.1,438.8l3.6,0.6 1.1-1 0.2-5.7 -6.2,2.1zM1260,419.1l-1.9-7.1 -5.9,2.6 0.2,1.5 5,4.5zM986.8,520.5l1.3,4.5 8.3,2.8 1.4-6.4 -4.4-4.5 -3.4,0.2zM1186.3,428.9l-2.2-0.5 -4.4,2.9 -0.4,3.4 0.8,1 7.5,0.5 0.3-0.5zM1343.6,495.4l-3.9,3.7 -0.2,2.2 3.6,2.7 6.6-1.8 -0.6-6.9zM1348.5,464.2l-1.3,5.8 5.2,1.1 2.3-4.2 -0.6-2.5zM1395,437.6l3.2-1.4 2.1-3.5 -0.3-1.1 -4.6-0.8 -2.3,3.9zM1231.2,468l0.8,2.9 2.3,1.4 3.4-0.9 0.8-3.2 -3.8-2.9zM1078.2,339.6l0.7-2 -3-5.1 -0.9-0.3 -2.1,0.7 -2.2,5.1 2.5,3.7zM1105.4,287.1l-1.1-6.3 -8.8-2.4 -3,5.9 4.3,5.2 8.1-1.7zM995.4,385.6l-4.5,3.3 -0.4,6.1 4.2,1.6 3-2 -0.3-8.7zM1486.9,293l3,1.3 14.8-5.1 -7.7-13.6 -0.8-0.1 -12.9,7.4zM1146.3,569.3l-0.8,6.5 7,1.1 2.4-4 -5.7-5.1 -1,0.1zM1187.9,435.7l-0.3,0.5 0.5,4.3 3.1,2.5 4.4-1.2 1.7-3.8 -2-4.6zM1144.4,212.1l0.3,0.8 10-0.2 1.6-3.2 -5.5,0.7 -4.9-1.9zM1133.2,406.1l-1.4-1.7 -7.3,0.1 -1.3,1.9 3.4,5.3 6.3-2.1 0.4-0.7zM1275.4,317.5l0.6-1.3 -2.4-4.9 -5.3-0.6 -2.5,3 3,5.4zM1353.9,371.5l-2.5,0.6 -3.3,4.9 4.9,5.3 5.3-4 -2.1-5.8zM1112.6,557.8l-3.4-4.2 -5.8,3.8 0.8,2.8 5.4,2.2zM1269,463.7l1.6,5.2 5.9-0.6 0.3-3 -5.8-3.2zM1247.2,506.8l2,4.2 1.5,0 3.2-3.1 -3-3.3 -2.5,0.3zM1152.9,559.9l0.4,4.1 5.9,2 0.4-0.6 -0.2-7.1 -3.8-1.9zM1213,461.7l-0.9,3.4 2.5,3.5 4.5-0.8 1.4-3.4 -0.6-1.2zM1268.9,497.2l-0.8,4.9 1.7,1.4 4.6-0.4 0.4-3.8zM1303.2,399.5l-0.6,3.9 3,1.7 4.8-2.5 -0.6-2.4 -3.8-2zM1329.2,448.4l1.3-0.3 -0.4-5.6 -4.1-1.4 -0.5,0.2 -1.4,4.6zM1204.6,398.2l1.9-0.9 1.4-4.7 -3.9-3.5 -4,3.4 0.1,3.9zM1316.8,615.2l-0.8,3 3.7,2.2 -0.7-6.7zM1175.8,381l-0.2-2.6 -4-2.6 -4.8,2.3 -0.5,1.3 3.1,6.8 3-0.5zM1395.1,479.7l-4.3,5.1 3.5,1.8 3.8-1.9 -0.3-3zM1265.5,547.7l-1.3-0.3 -3.2,3.2 1.4,3.9 1,0.5 1.5-0.2 2.6-4.9zM1272.9,535.8l-0.1-1.6 -4.2-2.2 -2.4,3.9 1.7,2.6 2.2,0.2zM1271,425.8l1.3,0.7 3.9-1.1 1.1-2.4 -3.5-3.8 -2.6,0.7zM1161.2,481.5l5.2,0.3 3.3-3.1 -0.8-3.4 -6.7-0.7zM1275.6,490.4l-1.7-4.7 -0.4-0.2 -4.7,2 -0.4,2 2.4,3.5 2.8-0.2zM1153.8,256.9l-4.6,0.9 -2.6,6 0.6,2.1 6,0.8 5.4-4.6 0.1-0.4zM1275.6,558.9l-6.2,1.4 2.4,5.1 3.1-0.8 1.1-5.2zM887.2,531.4l9.8,3.4 11.3-16.6 -18.1-6.3 -3.6,18.3zM1326.8,512.3l3.6-4.2 -1.1-5.6 -4.1-0.2 -1.9,1.7 0,7.5zM1262.9,460.8l-3.8-3 -2.3,0.5 -1.9,4.2 4,1.3zM1217.5,418.4l0.1,3.1 4.6,3.1 1.6-6 -3.1-3zM1040.2,310.3l5.8-5.8 -5.5-6.2 -4.5,0.8 -3.1,5.1 1.5,4.6zM1383.6,433.6l0.4,4.6 1,0.6 0.6-0.1 0.3-0.9 -1.9-4.7zM1149.2,451.2l-1.5,9 2.9,0.8 4.8-2.7 0-6zM1208.9,460.1l-2.7,1.8 -0.4,2.1 2.6,2.7 3.7-1.6 0.9-3.4zM1059.8,403.8l-3.4-3.5 -4.2,1.2 -1.3,4.9 1.2,1.9 5.8,0.9zM1147.8,533.2l0.5-0.2 5.1-6.6 -1.3-1.9 -6.2-1.6 -1.6,5.7zM1387.1,479.4l-3.8-2.1 -3.5,3.7 2.5,4.4 0.8,0.2 4.7-1.9zM1132.1,355.5l2.2,2.6 7-0.6 -0.2-5.1 -3.5-1.9 -5.6,4zM1114.9,503.5l7.5,3.7 1.4-7.2 -4.3-3.5 -1.6,0zM1230.1,548.4l-5.6,1.2 -0.8,5.7 7.5,0.2 1.2-5zM1374.1,495.6l-3.2-1.5 -1.8,0.7 -1.1,4.5 3.6-2.9zM1168.8,527.2l-6.5-2 -1.4,6.6 4.6,2.2 3.3-4.4zM1072.2,479.7l-1.7,5.4 3.7,2.9 7-3.8 -2.6-6zM895.5,339.3l-8.3-17.5 -4.3-1.6 -13.3,17.4 15.8,11.9zM1241,462.3l0.3-0.5 -0.6-5.1 -5,1.4 -1.3,3.2 0.8,1.4zM948.6,547.1l-9.4-11.5 -11.4,2.8 5.4,18.2 0.7,0.4zM1148.1,552.4l-3.2,2.8 0.6,3.8 7.4,0.9 2.5-3.4zM1358.3,498.4l2.2-1.4 0.3-0.8 -1.7-5.5 -4.3,0.2 -2.6,3.4zM1115,412.3l-2.4-5 -5.8,3.7 1.1,2.8 4.6,1.5zM1295.6,572.9l2-0.7 1.7-5.1 -1-1.9 -1.7-0.9 -4.8,4.6zM1281.2,520.1l5.9-2.1 -0.9-3 -4.5-1.5 -0.8,1zM1115.1,441.6l-0.4,2.6 5.6,3 1.7-0.8 1.2-4.6 -3.1-2.7zM1346.4,470.5l0.8-0.5 1.3-5.8 -1.9-1.8 -6.7,3.3 0.3,2.4zM1205.1,479.1l-0.2-1.6 -5.3-1 -2.9,4.4 1.7,1.9 3.5,0.4zM1190.6,575.3l-5.7,0 -0.6,0.4 0,0.7 1.5-0.4 5.1,0.7zM1215.1,546.6l2.9,1.1 3.2-1.2 1-2.5 -2.4-4.3 -4.5-0.4 -1.1,1.2zM1173.9,518.4l-0.8-0.3 -3.9,1.4 -0.1,7.4 7.1-1.4 1.1-1.4zM1051.3,292.8l2.9,4.2 6.7,0.5 1.1-12.2 -2.3-1 -5.6,1.6zM1249.3,420.8l3.1-4.7 -0.2-1.5 -0.6-0.4 -5.2-0.2 -0.8,0.9 0.1,4.2zM1074.5,494.9l-0.3-6.9 -3.7-2.9 -5.2,1.1 -1.8,2.5 2.9,5.4zM1049.6,564.3l-4.7-5.1 -5.9,0.4 -1.8,1.7 -0.3,5.3 5.5,3.7zM1170.2,362.3l1.8-2.6 -5.1-7.3 -1.1,0.1 -1.9,1.6 -0.2,6.5 5.8,1.9zM1212.1,441.9l-2,3.1 4.8,4.3 2.8-0.4 -1.7-6.5zM1154.8,518l1.3-0.4 0.1-6.8 -6.3-1.9 -0.6,0.2 -1.6,3.1 0.4,3.3zM1150.4,498.1l3.2,4.2 2.1,0.1 3.5-2.9 -1-4.3 -3.2-1.7 -2.8,1.2zM1368.9,395.6l-3.1-3.1 -4.9,2.1 -0.4,4.9 2.5,2.2 1.5,0zM1400.4,396.7l4-5.6 -2.3-4.2 -3.4,0 -3.6,6.1 0.2,0.8zM1317.2,383.9l-0.2-3.8 -5.1-2.1 -0.7,0.5 -1.3,6.2 3.4,1.7zM1277.2,531.2l1.8,1.5 4.1-0.8 1.1-2.6 -0.7-1.7 -4-0.7zM1245.6,449.7l0.7,0.9 1.1,0.2 4.8-2.7 -2.2-3.8 -1.6-0.4 -2,1zM1327.1,482l-2,4.9 5,2.7 2.7-2.2 -2.1-7.1zM1293.4,500l-3.6,3.8 0.7,2.1 3.3,2.9 0.8,0 3.8-3.6 -1.3-3.9zM1247.2,513.7l1,2 3.7,1 2.5-2.2 -3.7-3.5 -1.5,0zM1299.1,514l-4.5-5.2 -0.8,0 -2.5,3.7 1.2,3.8 3.9,0.7 2.7-2.4zM1388.4,299.9l-0.7-0.8 -2.6,2 2,2.8zM1244.9,244.2l1.2,8 8.3-0.3 -0.7-4.3 -6.5-0.7 0.4-3.1zM1036.8,602.1l5.1,3.4 3.3-6.2 -3.2-6.6 -5.1,3.1zM1268.1,502.1l-3.4,0.6 -0.3,3.9 1.4,1.3 3.1-0.3 0.9-4.1zM1069.1,190l4.8-2.1 -5.4,0zM1256.1,536.6l0.7,3.4 4.9,1.3 1.2-5.3 -1.3-1.4zM1313.8,429.6l5.2-1.6 -1.2-5.9 -1.5-1 -4.1,1.3 -0.5,1.6zM1308.7,444.7l1.4-1.3 -0.4-4 -3.6-0.6 -3,3.4 2.4,2.4zM1370.2,465.1l-1.7-0.5 -3,2.3 1.1,6.4 3.3,0.7 3.1-2.5zM1211.5,453.4l-2.3,0 -1.2,2.3 0.9,4.4 4,1.4 1.8-5zM1195.3,433.4l2,4.6 6.2,0.3 1.1-4.5 -5-3 -3.7,1.2zM1020.9,391l-7.8-4.7 -3.4,3.8 3.5,6.9 7.2-1.8zM632.5,325l-0.6,3.6 6.3,9.6 12.5-0.9 2.5-4 -5.5-13.7zM1156.4,600.4l4.1-5.9 -9.8-3.1 -0.4,0.6 0.4,6.5 4.1,2zM1353.2,457.1l5.7-1.1 0.3-4.1 -0.5-0.6 -5.5-1.4 -0.4,0.5zM971.2,535.4l2.1,0.5 6.5-5.1 -3.3-8.2 -7.4-1.3 -1.3,1.5zM1196.9,574.7l1.1-1.1 1.2-2.8 -3-3.8 -4.4,3.5 0.2,3.1zM1154.5,429.1l-5.9,1.4 -0.5,0.8 3,5.5 7.1-2.1 0.2-1.5zM1177.5,309.1l0.5-6.1 -6.5-3.5 -3.1,9 2.9,3.2 1.7,0.2zM1118.3,419l3.9,3.3 1.9-0.5 2.2-5.6 -0.6-1.2 -5.8-0.4zM622,210.6l-1.3,3.2 3.9,8.4 7.5,1 5.9-10.7 -2.9-4.1 -2.1-0.2zM1257,484.3l-1.6,4 2.2,3 2.6,0.2 1.9-1.3 0-5.4 -2.2-1.7zM1254.9,542.4l-3.4,0.1 -1,1.2 0,2.8 3,2 3.4-1.8zM1423.4,314.1l-8.2-4.4 -4.2,5 2.8,6.6 9.3-3.8zM1241.8,466.8l3,1.6 3.5-3.3 -2.5-3.6 -4.5,0.3 -0.3,0.5zM1201.1,561.6l0.6-2.6 -2.3-2.2 -8.1,1 -0.9,3.7 6,3.6zM1230.9,495.6l-6.9-3.6 -3.2,4.8 0.3,1.5 4.9,3.8 1.5,0.1 3.9-4.2zM1252.3,521.6l4.5-1.9 0.5-4.3 -1.5-1 -1.4,0.1 -2.5,2.2zM1192.4,474.4l5.6-1.6 -1.4-5.2 -5.8,1.3 0.3,4.4zM1039.2,578.2l0.4,2.7 7,2.9 4.7-5 -1.1-2.8 -7.4-2.6zM949.8,577.9l-1.7-11.6 -11.8-4.3 -3.9,11.1 5.3,6.3zM1081.7,520.6l5.1-5.5 -7.1-6 -4.8,9.4 0.3,1.2zM1178.3,476.9l2.6-4.2 -3.4-3.7 -3.7,0.4 -1.6,2.1zM1369.3,420.5l-3.2,1.8 0.6,3.4 3.2,1.3 2.6-1.7 0.4-3zM1126.9,545.2l-6.4,2.2 -0.7,2 5.3,5.9 2.7-0.1 3.4-5.3zM683.2,470.6l13.4-11.1 -11.3-7.9 -11.4,7.8zM1101.5,539.5l-3.5,5.1 2.5,3.9 8.2-0.6 1.2-4.9 -0.4-1zM1271.8,553.5l0.5,0 2.3-2 -0.5-3.1 -2.4-1 -3.5,2.5zM1082.7,402.5l-4.1,5.8 2.1,5.6 7.2-2.1 -2.1-9.3zM1137.6,207.3l6.8,4.8 1.5-3.8 -3-1.2 -5.2-1.1zM1386.9,414.3l-0.3,1.3 0.5,4.9 2.7-2.1zM1381.7,416.7l1.7,4.3 -0.2-5.1zM1294.8,418.3l-3.5-4.5 -3.9,3.4 1.6,4.9 4.5-0.9zM1280.9,514.5l0.8-1 0-1.3 -1.9-2.2 -3.9,0.2 -0.7,4.2 0.5,0.3zM1199.4,556.8l2.3,2.2 4.8-1.9 0.8-1.6 -3.2-7.4 -6,2.5zM1372,486.9l1.3-0.2 3.6-6.3 -1-1.4 -4.5-0.8 -2.1,2.6 1.8,5.6zM1137.5,554.6l3.3-1.3 -0.2-8.1 -2.6-0.9 -6.2,5.6zM1234.3,436.7l-1.5-2.9 -3.2-0.8 -2,5 4,2.3zM1116.9,587.8l5.6,1.6 1.6-1.2 -0.3-7 -8.6,3 -0.9,1.6zM1075,332.2l-0.6-6.7 -3-1.9 -4.2,2.4 1.5,5.2 4.2,1.7zM1277.2,546l2.5,1.5 4.3-3.6 0.1-0.7 -2.7-2 -4.9,1.7zM1154.1,469.3l0.8-1.7 -4.3-6.6 -2.9-0.8 -2,0.9 1.7,8.9zM1077.6,446.7l0.9,1.6 9,0.9 0.6-4.5 -5.5-4.8zM1327.1,416.9l1.4-1.1 0.8-4.1 -4.6-1.9 -3.6,4.3 2.5,2.6zM1346,438.5l-6.3,0.1 0.1,4.9 0.7,0.4 5.6-0.3zM1452.7,317.7l5.9-4 0.3-0.9 -5.9-4.5 -4.6,1.8 -0.5,3.9zM1255.3,535.8l0.8,0.8 5.5-2 -0.1-2.8 -4.4-1 -2.1,3.3zM1364,487.3l2.1,6.4 3,1.1 1.8-0.7 1.1-7.2 -0.9-0.5zM1054.4,383.4l8.9-1.9 -1.6-7.2 -7.8,0.2 -2.5,4.6zM1079,456.8l-1.1-1.5 -8.1-0.4 -1.2,1.3 1.5,6.8 7.3-1zM1271.9,439.6l-5.1-4.8 -2.4,6.5 2.3,1.3 5.2-2.4zM1129.4,397l-5.8,2.2 0.9,5.3 7.3-0.1 0.4-6zM645.8,361.6l1.5,16.7 1.1,1 0.9,0 10.7-7.2 0.4-5.9zM1329.6,349.3l-2-2.8 -6.1-0.1 -2.5,5.3 5.4,3.9zM1018.7,635.6l2.7-7.8 -0.9-1.8 -6.6-1 3.5,3.5 0.7,7.1zM1295.5,392.6l-3,3.5 3,4.1 4.5-3 0-3.5zM1490.3,264.9l5.9,10.6 0.8,0.1 10.5-7 -3.5-10.3 -10.5-1zM1319.4,627.6l2.9,5.5 1.5-0.9 -2.6-6.8zM1376.4,444.1l-5.2-0.8 -0.9,2.8 4.8,3.6 0.6-0.2 1.2-1.7zM1272.2,481.3l2.6-2.7 -1.7-3.9 -2.5-0.5 -2.7,4.7 0.5,1zM1364.3,413.3l-0.1,2.6 4.7,1.7 2.8-3 -0.7-2.6zM1349.3,431.3l-1.6-2.2 -4.5-0.1 0.1,4.5 4.1,2.4zM1291.3,413.8l0.2-0.9 -0.3-0.8 -6.5-3.8 -3.2,7.1 0.9,1.2 5,0.6zM1239.2,535.2l4.2,0.4 1.9-3.2 -1-3.6 -5.3-0.5zM1339.9,423l3.4,1.5 1.4-1 0.1-3.7 -2.5-1.8 -2.2,1.6zM1301.3,421.8l2.3-0.1 4.2-3.4 -5.1-6 -1.7,0 -1.8,5.8zM1387,471.1l1.2,0 0.9-0.6 1.6-6.3 -3-1.6 -3.4,1.3 -1,4.3zM1235.1,242.6l-2.5,0.2 -4.6,2.2 0.9,1.8 7.1-2.6zM1101.5,328.6l-4.1-1.1 -2.4,6.6 5.8,2.7 3-2.8zM1302.7,380.8l3.4-3.5 -1-3.3 -5.1-1.8 -1.7,3.5 3.2,4.9zM1069,511.8l-5.1-3.7 -5,4.4 2.9,5.5 1.2,0.3 6.1-4.9zM1000.9,323.8l5.6-1.7 2.1-4.3 -8.7-7.5 -1.9,0 -2,10.1zM1246.2,524.9l0.3,1.8 3.9,1.4 2.3-5.6 -0.2-0.8 -4-0.3zM1213.4,470.9l-3.2,0.5 -1.3,3.7 3.5,2.1 2.8-3zM1279.8,510l1.9,2.2 3.4-3 -1.4-2.5 -3.2-0.3zM1034.2,526.7l7.4-0.4 0.7-0.7 -1.3-9.7 -1.2-0.5 -6.9,6.1zM1314.1,511.4l0.4,6.5 5.5-0.5 2.9-5.7 -6.1-2.1zM1223.9,308.8l-0.5,3.3 0.5,1.3 2-2.8zM1008.7,337.2l3.6,9.5 1.1,0.1 6.8-6.1 -1-4.4zM1478.5,355.2l-2.7-1.1 -0.3,0.3 0.6,2 2.6-0.8zM1309.8,400.2l3.8-5 -0.6-1.6 -4.9-1.2 -1.8,1.2 -0.3,4.6zM1025.8,475.6l5.1-0.6 1.9-2.7 -2.8-6.2 -7.8,3zM1470.5,337.8l-6.8,4.8 5.8,6.1 4,0.1 1.9-2.7 -0.8-2.9 -0.9-1.3 -3.7-2.6 0.8-1.1zM1399.1,407l-6,3.5 2.3,4.5 1.8,0.3 3.7-2.9 -1-5.1zM1337,526.3l-2.9-1.3 -3.5,3.8 0.7,1.7 5.3-3.2zM1299.1,424.8l2.3,4.3 1.9,0.6 3.2-1.8 0.4-1.7 -3.3-4.5 -2.3,0.1zM1272,588.7l1.1,0.9 3,5 0.5-0.5 -3.2-5.8zM1300,393.7l0,3.5 3.2,2.3 2.8-1.3 0.3-4.6 -4.9-1.2zM821.5,369.3l0.5,0.6 2,0.8 15.9-12.7 -5.1-8.9 -14,4.5zM1103.7,453.7l3.1-4.2 -0.9-3.8 -7.8-0.2 -1.2,5.5zM1227.2,340.3l-0.4-1 -1.9,3.5zM1383.1,485.6l-0.8-0.2 -4.6,3.1 1.1,5 5.9-1.9zM1158.2,495.2l4-1.9 1-4 -1.1-0.9 -5.8,0.6 -1.3,4.5zM1201.8,426.4l4.4-0.7 0.6-1.1 -1.5-5.3 -0.5-0.5 -6.3,1 -1.3,2zM1022.6,444.6l4.3-0.3 2.3-7.9 -7.9-0.8 -1,6zM693.1,361.8l1.4-0.3 7-16.5 -3.5-5 -4.4-1.2 -12.1,9.1 0,3.7zM1384.3,463.9l-3.5-2.8 -3.9,1.3 -0.5,1.1 2.4,5.6 4.5-0.9zM1073.3,507.4l4.9,0.4 0.4-11 -3.4-1 -4.9,7zM770,455.3l-16.6-4.7 -6.3,15.2 10.9,11.9 9.6-1.9zM1302.7,574l1.4-3.6 0.1-1.3 -4.9-2 -1.7,5.1zM1065.5,227.8l5.5,1 5.8-6.3 -2.7-4.1 -11.6,1.3zM1199.1,226.3l0.6-1.2 -2,0.4 -1.4,1zM1407.4,362.9l-3.6-0.6 -3.1,7 0.5,1.3 6,0.5 2.7-3zM972.8,421.9l2.4-0.6 3-6.8 -3.3-6.3 -1.6-0.9 -8,8.9zM1427.2,324.2l0.9,9.4 5.3,2.4 3.7-4.4 -0.7-3.7 -7-4.1zM1273.5,527.6l2.9,3.6 0.8,0 2.3-4.3 -0.7-1.6 -4-0.9zM1377.7,472.6l-1.8,6.4 1,1.4 2.9,0.6 3.5-3.7 -0.3-1.5zM1218.8,488.2l0.9-5 -2.8-1.8 -0.8,0 -2.7,4.5 2.7,3.2zM1166.9,245.1l3-3.9 -5,2.3zM1161.3,522.8l5.5-4.3 -2.2-5.8 -6.5,5.6zM1249.6,437.7l3.5,1 2.3-3.3 -2.1-4.5 -4.8,2.4zM1190.8,468.9l5.8-1.3 1-1.8 -3.9-3.5 -3.8,0.7zM1039.3,628.9l0-6.6 -7.4-2.5 -1.7,9.5 5.9,2.1zM1091.4,512.4l8.2-0.7 0.5-7.7 -1.2-1.2 -8.1,2.6zM1141.3,364.8l-3.1,1.2 -0.9,2.4 2.7,6.2 2.1,1 3.8-7.5zM1474.7,334.1l1.7-1.3 -2.6-3.2 -2.4,2.3 0.4,1zM1268.2,523.7l1.9,4.3 3.4-0.4 1.3-3.2 -1.1-2.5zM1277.7,446.4l-0.4,3.6 4.9,0.4 1.6-1.2 -0.9-3.8 -1.8-1.1zM1357.9,444.8l0.7,0.1 2.6-5.6 -1.8-1.3 -3.3,0.5 -1.4,2.7zM1100.1,520.8l-8.4-2 -1.5,5.8 2.6,3 6.8-1.8zM1347.9,318l-5.6,1.5 -0.2,0.8 1.9,5.2 0.8,0.6 5.9-1.7 1.5-4.2zM1270.1,258.9l0,0.7 1.4,0 -0.2-1.1zM1109.1,300.3l5.8-6.4 -2.1-6 -7.4-0.8 -0.5,0.7 0.5,11.1zM1354.1,464.4l0.6,2.5 4.8,2.5 3.5-2.7 -3.3-4.6zM1124.9,387.9l-4.7-1.7 -5.6,4.1 0.8,1.7 6.6,1.5 3.8-4.2zM1342.3,418l0.1-2.1 -3.9-3 -2.2,0.6 -1.6,4.6 5.4,1.5zM1294.6,556.6l1.7,3.7 3.4-1.5 0.8-4.1 -5.3-0.2zM1155.4,452.3l2.5-1.3 -1.5-7.5 -4.1-0.4 -2.8,8zM1298.4,492.6l-6.1,2.9 1.1,4.5 3.7,1.3 3.1-2.9 -0.8-4.9zM1225.8,443.9l-4,0.3 -1.5,4 4.4,1.7 1.4-1.5 0.1-4.1zM1303.7,562.3l0.5,0.3 0.7-0.2 2.4-5.4 -1.1-1.8 -0.6,0.2 -2.4,5.3zM1369.1,494.8l-3-1.1 -5.3,2.5 -0.3,0.8 4.6,3.8 1.6-0.5 1.3-1zM1050.5,551l3.1,0.5 3.4-7.2 -2.7-4.4 -6.5,1.3 -0.2,0.3zM1237.5,280.9l1.1-1.2 0.4-3.1 -3,2.4zM1055.5,504.9l7.1-3.5 -7-6.6 -4.7,5.2 0.2,2.1zM1389.9,333.4l-0.5,0.8 7.3,8.4 4.5-3 -1.5-8zM1378.9,423.4l-3.1-3.2 -2.9,2.1 -0.4,3 2.6,2.1 2.6-0.4 0.3-0.9 -3.3-2.4 3.6,1.6zM1267.5,549.9l-2.6,4.9 3.4,2.2 3.5-3.5 -3.6-3.6zM1283.9,551.2l-3.8-2 -2.4,3.1 0.7,2.1 5,1.1 0.5-0.6zM1159.2,499.5l4.1,0.9 2.7-2.7 -3.8-4.4 -4,1.9zM1169.3,559.9l-3.5,1.5 -0.7,2.3 4.1,5.1 2.2-1 1.8-5.2zM1378.4,319.5l3.1,5.2 5.8-0.5 0.6-6 -5.1-3.1 -3.5,2.2zM1207.7,546l4.2,2 3.2-1.4 -0.9-6.1 -5.2-0.1zM1043.2,440.6l-6.8,1.7 -1,2.8 6.2,5.1 3.7-5.7zM1132.1,334.4l-6.1-2.8 -0.9,0.2 -0.8,1.4 1.6,6.5 6.3-0.6zM1185.4,502.7l-3.6,2.1 1.5,5.4 4.4-1.5 1.1-4.1zM1144.1,444.7l-5.9,1.6 -1,3 4.8,3 5-1.9zM1333.3,438.8l2-1.7 -1.9-4.1 -3.2-0.5 -1.7,3.8zM1290,623.3l0.7-0.1 1.1-1.1 0.1-7.7 -5.8-0.9 -2.1,6 1.3,0.8 2.1,0.1 -0.4,1zM1111,526.2l-1-0.3 -7.6,4 -0.1,2.8 7.3,1.9 3.2-5.8zM875,556.1l0.8,2.6 3.5,0 0-6.8zM1287,324l1.5,2 -0.3-2.8zM1218.8,261.9l-0.6,1 2.8,4.6 1.1-1.2zM1375.1,449.7l-1.1,1.8 1.4,4.9 4.8-1.7 0.1-1.5 -4.6-3.7zM1142.1,375.6l-2.1-1 -5.6,1.6 0.2,6.4 2.7,1 4.7-4.6zM1151.6,395.3l4-2.2 0.7-4 -2.2-1.9 -6.1,1.5 -0.2,1.5zM1271.7,547.4l-0.6-3.6 -2.9,0 -2.7,3.9 2,2.2 0.7,0zM1253.9,507.9l1,0.1 2.8-4.9 -2.7-2.1 -1.1,0.2 -3,3.4zM1338.3,451.3l-5.1,1.2 -0.7,2.7 6.3,2.7 0.5-0.4zM821.5,513.2l17.7,8.4 10.8-14.1 -7-11.8 -24.1,8.4zM1211.2,501.2l4.5,2.9 5.4-5.8 -0.3-1.5 -5.7-2.4 -4.1,4.7zM1083,575.6l-3.7,3.7 1.2,7.4 9.1-4.7zM1298.8,536.2l-1.1-3.3 -2.4-0.6 -2.9,2.5 2.3,3.1zM1209.6,486l-0.4-0.4 -5.6,0.4 -1,3.3 4.4,3.3 2.2-1.6zM1259.1,373.9l2.9,2 0.8,0 2.7-5.3 -3-3.6 -3.5,0.8zM1210.1,434.7l-5.5-0.7 -1.1,4.3 0.4,0.7 7.3,0.2 0.4-1.3zM1072.9,332.9l-4.2-1.7 -5,3.1 -0.4,4 0.7,0.7 6.7-1zM1197.1,514.6l4.1-2.4 -2.9-5.6 -3.7,0.4 -1.9,4.4zM1104.1,406.6l-7.4-1.6 -0.6,2.7 4,5.4 5.4-2.8zM1400.1,420l1.4,6.1 1.9,0 2.3-5.5 -0.2-2.5zM1008.5,452.9l7.6-2.1 -4.2-8 -2.2,0.4 -3.1,5.4zM1109.1,488.6l6.2,4.4 3.2-7.1 -7-1.9zM1065.6,410.2l3.6,4.2 1.1-0.5 3.5-6.3 -2-3.7 -5.3,1.4zM1307,493.5l5.7,1.1 2.1-2 -0.3-4 -3.4-1.1 -4.2,2.9 -0.3,2.6zM1395.3,477.2l-0.4,0.6 0.2,1.9 2.7,2 -0.4-5.2zM982.3,345.8l6.7-2.4 -0.4-5.8 -2-1.5 -7.3,2.4zM1283.5,424.8l3.4,5.7 0.5,0.1 2.9-4.3 -1.5-3.6zM1194.6,494.4l-4.3-1.6 -2.2,4.4 4.6,3.2 1.6-0.9zM734.7,337.2l-0.5,7.8 13,7 3.5-19.4 -2.4-2.2zM1233.7,395.5l-0.7,5.1 1.9,2.4 4.2-2.6 -0.5-3.7 -4.3-1.5zM1236.2,363.5l-0.8-1 -4.2-0.1 -1.9,5.8 5.6-0.1zM1331,395.1l-5.7,2.7 3.8,5.4 2.8-1.3 0.9-4.2zM1054.4,655.9l0.4,0 -0.4-3.4zM1242.9,488.9l-0.9,2.9 2.1,3.7 2.6-0.1 1.5-4.4zM1291.2,412.1l2.2-7.8 -4.6-0.9 -4,4.8zM1178.7,366.6l-1.2,1.6 3.6,6.9 1.3,0.1 3.8-7.9 -0.2-0.6zM1279.7,430.9l-1-1 -5.6,2.2 1.6,4 3.5,0.3zM1250.9,552.8l0.9,0.1 1.2-0.7 0.5-3.7 -3-2 -2.7,2.4zM1185.8,477.5l-3.2,1.6 0.4,5.1 2,0.4 4.6-3zM1203.3,457l-0.4,2.5 3.3,2.4 2.7-1.8 -0.9-4.4zM1238.5,468.2l3.3-1.4 -0.8-4.5 -5.8,0.4 -0.5,2.6zM1356.9,478.7l0.3-4.5 -4.2-1.6 -2.1,3.6 1.4,2.9zM1378.8,493.5l-4.7,2.1 0.1,0.1 3.7-0.9 2.4,1.1zM1250.5,563.3l4.6-0.5 -1.1-4.6 -1.4-0.5 -4,1.9zM647.6,397l10.6-4.6 0.9-5.1 -9.8-8 -0.9,0 -4.7,14.2zM994.7,396.6l0.6,7.6 4.7-0.7 3.3-6.6 -5.6-2.3zM1165.3,210.2l0.9-0.5 -2.2-0.2zM1111.1,429.7l-3.3,3.2 1,4.4 4,0.5 2.8-4.8zM1061.5,563.5l-1.3,6.9 1.1,1.3 0.5,0.1 7.2-2.7 -0.4-7.2zM1287.4,578l-4.2,1.7 -1,7 0.7,0.8 8.3,0.1zM1304.6,434.6l-1.3-4.9 -1.9-0.6 -3.8,3.9 1,3.5zM1238.6,339.8l-3.4-2.7 -5,3.9 2.5,5.8 5-1.5zM1259.7,483.1l4.2-5.8 -0.3-0.8 -4.8-1.7 -2.4,1.3zM1061.3,571.7l-5,8.7 1.9,2.7 9.7-3.1 -6.1-8.2zM1218,547.7l-2.9-1.1 -3.2,1.4 -0.7,5.5 5.7,2.1 0.8-0.6zM1040.8,391.7l-0.6,8.6 2.8,1 5.7-3.8 0.1-1.2 -5.6-5.5zM1072.6,442.7l-8.4-1.8 0.7,6.8 4.7,1.9 4.5-4zM982.8,387.4l-0.1,5.4 4.7,3.9 3.1-1.7 0.4-6.1zM1289.8,503.8l-3.4-1.4 -2.7,4.3 1.4,2.5 1.2,0.3 4.2-3.6zM991.9,195l-3.7,4.9 4.2,7.9 6.1-0.1 3.6-10zM732.3,407.3l6.1,7.3 20-9 0.3-1 -11.3-18.5 -9.4-1zM1357.7,406.2l2.9-0.4 2.4-4.1 -2.5-2.2 -4.5,1.6zM1120.6,435.7l-0.5,3.4 3.1,2.7 3.3-1 0.7-6.7zM1018.9,425.6l2.5,4 6.4-1 0.5-6.9 -3-1.4zM1148.3,533l8.5,1.6 0.9-1.6 -3-6.2 -1.3-0.4zM1328.4,423.7l5.7-3.5 0.5-2 -6.1-2.4 -1.4,1.1zM1029.6,592.8l-1.4,2.9 2.9,7.7 5.7-1.3 0.1-6.3zM1181.4,524.2l2.4,5.6 6.5-1.3 0.1-0.3 -3-4.7zM1256.2,528.1l0.9-1.9 -4.4-3.7 -2.3,5.6 0.6,0.9zM624.6,222.2l-3.9-8.4 -2.2,0.7 4.1,10.3zM684.8,220.4l12.1-3.8 2.2-3.6 -11.2-7.7 -9,4.9z" fill="#fc8d59" stroke="#63554b" stroke-width="0.55" stroke-linejoin="round"/>
<path d="M877.4,203l2.2-5 -10.6-9 -11.2,6.2 -2.1,7.8zM874.8,219.2l3.4-3.7 -0.8-12.5 -21.7,0 -0.9,1.2 -0.3,5.6 1.1,1.8zM771.7,246l0.6-4.1 -15.5-7.7 -5.1,7.3 5.2,11.5zM869.6,337.6l13.3-17.4 -5.8-8.4 -19.6,7.3 -2.9,15.2 4.9,4.6zM643.7,393.5l4.7-14.2 -1.1-1 -14.6-0.6 -1.2,15.2 0.9,0.6zM635.2,409.3l13.8-3.3 -1.4-9 -3.9-3.5 -11.3,0zM887.8,507.3l2.4,4.6 18.1,6.3 3.7-10.2 -8-9.3 -11.3-0.8 -4.7,6.3zM950.2,484.4l-1-0.1 -3.4,19.4 5.5,5.6 1.2-0.3 7.7-9.8 -1.6-8.8zM919.4,437.9l-6.4,4.9 0.8,7.3 13.5,2.8 3.7-10.8 -0.8-1.6zM966.6,377l10.4,3.2 3.6-4.9 -2-7.5 -1.5-0.4 -11,7.3 -0.2,1.2zM1094.6,245.2l0.4,2.5 7.2,5.7 6.6-6 -0.2-2.2 -5.7-3.6zM1123.9,570.1l7.1,1.7 0.7-5.7 -2.8-2.7 -6.7,0.9zM1127.8,555.2l2.2,3.1 5.9,0.1 1.6-3.8 -5.7-4.7 -0.6,0zM1205.3,577.6l0.4-1.5 -3.2-4.3 -1.7-0.1 -0.7,7.3 3.3-0.3zM1196.9,574.7l0.2,1.1 0.9-2.2zM1290.3,446.5l-2.7,3.7 1.1,3.1 4.6,0.7 2.2-3.4 -0.4-1.6zM1080.5,586.7l-5.1,1.8 -0.1,7.7 7.3,1.8 0.7-0.3 1.7-5zM1053.8,512l-2.5,7.6 6.4,1.7 4.1-3.3 -2.9-5.5 -3.6-1.2zM1238.5,517.3l-5.1-1 -1.5,0.9 -1,4.3 4.1,5.1 2.3-0.2 2.9-5.1 0-2.3zM1196.3,524.2l4.1,5.3 7.2-5.1 0.1-2.4 -2.6-1.9 -8.6,1.7zM1195.7,366.7l-4.3,3.5 0.4,4.8 2.5,2.5 6.8-6.6 -1.1-3.3zM1143.8,544l-3.2,1.2 0.2,8.1 4.1,1.9 3.2-2.8 1-4 -2.1-3.4zM1284,619.5l2.1-6 -1.6-2.2 0,1 -2.3,7.7zM1080.3,496.4l7.1,4.1 5.3-5.7 -3.2-5.4 -4.3-1.2zM1281,491.5l2.5-5.8 -3.5-2.2 -6.1,2.2 1.7,4.7zM1099.1,554.4l-4,1.7 -0.6,7 3,3 3.3-0.8 3.4-5.1 -0.8-2.8zM1202.5,571.8l2.6-4.8 -4-5.4 -4.7,3.5 -0.2,1.9 3,3.8 1.7,0.5 -0.1,0.4zM1036.6,637.1l-3.1,3.1 0.1,3.6 4.4,3.9 6.3-4.9 -0.9-4.3zM1178.5,511.9l-2.4-2 -5.1,1 2.1,7.2 0.8,0.3 4.4-3.4zM1271,451.8l2.3,3.1 3.3-1.8 0.7-3.1 -4.5-1.1zM1141.3,494l-2.8,0.8 -2.9,6.2 5.9,3.4 2.5-0.9 1.9-4.7zM1179.6,600.1l0.6,0.8 1.6,0.6 1.6-3.7 -1.1-1.3zM1317.5,408.4l-4-0.4 -1.8,2.6 0.4,3 4.4,2.6 4-2.2zM1015.9,492.3l5.9,0.1 3.8-3.1 -0.2-4.7 -3-3.5 -3.3-0.2 -3.2,2 -1.3,7.3zM1078.5,448.3l-0.9-1.6 -3.5-1.1 -4.5,4 0.2,5.3 8.1,0.4zM1091.8,590.7l2.3,1.8 7.8-3.9 -2.9-5.5 -6.9-1.5 -0.9,0.7zM1267.1,513.4l2.7-0.4 0.8-3.7 -1.7-1.7 -3.1,0.3 -0.8,3.9zM1119.8,549.4l-1.9,1.2 -1.6,7 3.8,3.9 5-6.2zM1236.2,477.9l1.2,4.3 3.5,1.1 2.3-5.5 -1.7-2.4zM1260.8,279.2l-2.4,4.4 3.2,4.1 8.6,0.1 1.7-3.7 -1.8-4.2zM1312.7,494.6l1,7 2,0.4 5.2-7 -6.1-2.4zM1091.8,590.7l-0.6-8.4 -1.6-0.3 -9.1,4.7 4.5,6 4.2-1.2 -0.3-2.8zM1189.5,518.8l-1.5-1.9 -2-0.5 -3.6,1.8 -1.7,5.4 0.7,0.6 6-0.7zM1273.7,521.7l-2.5-3.9 -3.2,1.1 -0.4,4.5 0.6,0.3zM1312.2,519.7l0.6-0.1 1.7-1.7 -0.4-6.5 -5.8-2.2 -0.5,0.2 -0.8,8.2zM1235.2,462.7l-0.8-1.4 -4.5-1.2 -1.8,1.1 -1.4,3.8 0.8,1.4 3.7,1.6 3.5-2.7zM1198.6,533l-6.6,1.1 -1.3,2.2 2.1,4.3 3.3,1.9 3.9-1.7zM1084.8,473.9l2.7,0.7 5.1-5.7 -5.9-4.6 -5,2.7zM1237.3,526.4l-2.3,0.2 -2.3,2.3 0.3,6.6 2.7,2.4 3.5-2.7 -0.2-6.9zM1258.6,411l-2.2-3.6 -5.3,0.8 0.5,6 0.6,0.4 5.9-2.6zM1169.1,526.9l0.1-7.4 -2.4-1 -5.5,4.3 0,1.1 1,1.3 6.5,2zM1170.6,503.8l6.8-0.6 0.4-5.3 -0.6-0.6 -7.4-0.9 -1,0.9zM1274.7,436.1l-2.8,3.5 0,0.6 1.9,2.5 6.3-2.5 0.5-1.4 -2.4-2.4zM1160.5,594.5l0.5-0.2 -1-8.2 -2.1-2.1 -7.2,7.4zM1025.2,566.8l-1.6-2.3 -9.2,2.9 1.8,8.9 6.3,0zM1289.8,494.2l-2,0.9 -2.7,5.6 1.3,1.7 3.4,1.4 3.6-3.8 -1.1-4.5zM1261.5,429.4l-1.3,1.4 -0.1,4.6 6.7-0.6 0.6-1.9 -1-2zM1145,560.1l-6.9,3.3 2.2,4.6 6,1.3 1.9-1.4zM1003,604.2l-1.6-9 -5.4-4.7 -4.7,0.6 3.9,3.8 5.8,11zM1263.4,469.1l2.4-5.4 -2.9-2.9 -4,3 1.2,5.3zM1260.3,509.1l-3.9,0.5 -0.6,4.8 1.5,1 3-0.5 1.5-2.7zM1100.3,521l-0.7,4.8 2.8,4.1 7.6-4 -3.2-4.8zM1161.2,579l-3.4,4.5 0.1,0.5 2.1,2.1 7.2-0.4 1.1-1.7 -2.8-5.3zM1205.1,520.1l2.6,1.9 1.8-1 3.7-8 -0.2-1 -6-1.6 -3.3,2.3zM1090.9,542.2l-3,0 -5.1,4.7 4.2,7.3 3-0.6 2.9-9.6zM1241.1,455.9l-1.8-2.9 -6-0.3 -0.5,0.3 2.9,5.1 5-1.4zM1299.8,460l-1.5-1.9 -3.4-0.8 -3.3,3.7 0.8,2.6 3.7,1.9 2.2-1.1zM1377.7,488.5l4.6-3.1 -2.5-4.4 -2.9-0.6 -3.6,6.3zM1148.1,489.4l-5.9,2.6 -0.9,2 4.6,4.8 4.5-0.7 1.8-3.4zM1276,497.9l3.4-0.7 1.8-4.9 -0.2-0.8 -5.4-1.1 -2,2.4zM1283.6,432.4l3.3-1.9 -3.4-5.2 -4.4,4.8 0.6,0.8zM1317.8,422.1l1.2,5.9 5.5-1 1.3-2.2 -4.2-3.7zM1212.1,573.5l-6.4,2.6 -0.4,1.5 0.6,0.8 8.1-1.3zM1055.5,504.9l-0.2,6.4 3.6,1.2 5-4.4 -0.3-5.6 -1-1.1zM1382.3,447.4l1.3,2.3 1.5,0 -0.8-4.9 0.2-1.2 -2.1,1.8zM1315.7,475.2l5,4.3 0.4-0.2 4-6.5 -0.1-0.5 -5.5-1.4 -3.7,3.1zM1133.2,441.5l3,0.9 4.6-5.1 -4.4-3.2 -3.8,2.1zM1049.5,626l-5.1-6.4 -5.1,2.7 0,6.6 8.1,3.4zM1147.7,512.2l1.6-3.1 -5.3-5.6 -2.5,0.9 -2,5 1,2zM1310.1,443.4l4.5,0.9 2.3-2.4 -0.9-2.3 -5.2-1.2 -1.1,1zM1281,520.4l-0.1-5.9 -5.2,0.2 1.1,4.9zM991.8,425.1l0.6-4 -5.1-4.7 -5.1,8.4 0.9,2.1 2.9,0.8zM1309.7,483l-3.4-0.3 -2.5,3.8 3.1,3.9 4.2-2.9zM1279.4,462.6l4.7,1 3-4.1 -0.7-2.6 -4.3-1.1 -1.9,0.8 -1.5,3.1zM1306.9,426.2l-0.4,1.7 4.7,4.4 1-0.4 1.6-2.3 -2.1-5.6zM1262.3,520.8l-2.9,0.9 -1.2,4 4.8,2.1 2.1-4zM1223.9,491.4l0.1,0.6 6.9,3.6 3.3-4.9 -0.1-1.2 -0.3-0.5 -7-2.1zM1318.5,534.7l-3.5,2.3 1,3.6 1.8,0.9 5.1-4.5zM1176,448.2l0.2-5.6 -3.9-1.7 -3.5,1.3 -1.2,2 4.8,6 1.8-0.3zM1288,512.5l-1.8,2.5 0.9,3 1.3,0.9 1.4-0.1 2.7-2.5 -1.2-3.8zM1013,566.6l-8.8,2.1 4.2,8.1 7.1,0.2 0.7-0.7 -1.8-8.9zM1227,528.9l-2.8-4.2 -5.3,1.2 -0.6,1.1 0.6,4.8 4.3,3.2 2-0.1zM1296.3,560.3l-0.4,1.6 0.7,2.4 1.7,0.9 5.4-2.9 -0.5-1.6 -3.5-1.9zM1174.8,555.9l-4.6-1 -0.7,0.6 -0.2,4.4 3.9,2.7 3.2-1.6zM1289.7,443.9l0.4,0.5 5.2-2.1 1.3-3.3 -6.3-2.3zM1082.1,209.7l-7.6,5 -0.4,3.7 2.7,4.1 4.5,1.4 2.1-1.1 2.7-6.3zM1188.4,562.7l2-1.2 0.9-3.7 -1.7-3.9 -1.5-0.1 -5.9,3.6 -0.6,3zM1147.4,470l-1.7-8.9 -1.1-0.1 -6.4,6.8 0.3,2 2.7,2.2 4.1,0.2zM1185.4,502.7l-0.2-4.8 -1.5-0.9 -5.9,0.9 -0.4,5.3 4.4,1.6zM1144.7,582.9l-0.2-6.2 -6.4-1.3 -1.8,5.9 5,3.6zM1010.3,272.4l1.8,9 4.9,0.1 7.3-8.7 -10.5-4.4zM1247.2,506.8l-2.6,0.4 -1.5,3.9 2.4,2.5 1.7,0.1 2-2.7zM1257.7,503.1l0.7,0 3.7-2.2 0.2-3.2 -1-0.8 -5-0.1 -1.3,4.2zM1257.1,530.8l4.4,1 1.9-2.6 -0.4-1.4 -4.8-2.1 -1.1,0.5 -0.9,1.9zM1283.5,425.3l0-0.5 -2.6-2.8 -3.6,1 -1.1,2.4 2.9,4.7zM1147,545l2.1,3.4 6.2-0.2 1-4.7 -3-2.9 -1.8,0zM1328.5,423.8l2.8,3.1 2.3,0.2 2.9-2.5 -2.4-4.4zM1061.2,456l-1,2.1 2.3,7.3 4.9,1.6 2.7-4 -1.5-6.8zM1250.5,490.1l0.3-0.7 -1.9-5.9 -6.6,2.6 -0.2,0.9 0.8,1.9 5.3,2.1zM1343.1,504l0.3,4 3.9,2.8 3.8-3.1 -1.4-5.5zM1156.9,535.2l4.5,4.6 4.4-4.2 -0.3-1.6 -4.6-2.2 -3.2,1.2 -0.9,1.6zM1344.7,423.5l4.7,1.3 1-0.7 0.8-3 -1.6-2.4 -4.8,1.1zM1284.1,543.2l-0.1,0.7 3.2,4.6 2,0.2 2.7-2.5 -1-4.3 -2.8-1.7zM1267.4,432.9l-0.6,1.9 5.1,4.8 2.8-3.5 -1.6-4 -0.6-0.4zM1144.8,520.6l3.3-5.1 -0.4-3.3 -7.2-0.8 -2.2,4.6 1.5,3.9zM1105,419.3l2.9-5.5 -1.1-2.8 -1.3-0.7 -5.4,2.8 -0.9,4.3 4.6,2.4zM1033.5,481.2l6.6-2 1.5-4 -1-3.4 -7.8,0.5 -1.9,2.7zM960.4,416.3l4.9-0.1 8-8.9 -9-7.1 -6.6,6zM1290.4,551.9l4.3,1.4 1.7-3.5 -3.1-3.4 -1.4-0.2 -2.7,2.5zM1177.3,503.3l-6.7,0.5 -2,2.9 0.2,3.2 2.2,1 5.1-1zM1278.2,436.4l2.4,2.4 2.8-0.9 0.2-5.5 -3.9-1.5zM1320,517.4l4.3,5.6 1.9-1.3 2.3-7.2 -1.7-2.2 -3.5-0.8 -0.4,0.2zM1260.4,453.3l5.2,1.3 1.5-3 -0.9-3.1 -5.2-0.9 -0.5,0.4 -1.1,3.9zM1298,438.3l4.7,3.9 0.4,0 3-3.4 -1.5-4.2 -6,1.9zM1180.9,472.7l-2.6,4.2 4.3,2.2 3.2-1.6 0.5-2.3 -3.2-3.1zM1048.4,477.6l3.8-3.6 -3.5-6 -6.8,1.1 -1.3,2.7 1,3.4zM1175,577.7l-6.6-3 -2.9,4 2.8,5.3 5.9-1.3 1-2.2zM1395.3,477.2l2.1-0.7 -0.4-5 -0.7-1.7 -1.7,1.5zM1225.3,453.7l-0.6-3.8 -4.4-1.7 -2.2,0.8 0.6,4 4.9,2.4zM1106.7,512.7l-5.4,0.7 -1,7.6 6.5,0.1 3-5 -0.2-1.4zM1258.2,525.7l1.2-4 -2.6-2 -4.3,2 0.2,0.8 4.4,3.7zM1191.5,503.6l1.2-3.2 -4.6-3.2 -2.9,0.7 0.2,4.8 3.4,1.9zM1065.2,530l2.4-5.8 -4.6-5.9 -1.2-0.3 -4.1,3.3 0.6,5.7 6.4,3.4zM1300.7,529.9l5,1.1 2.1-1.9 -4.8-6.9 -4.5,1.5 -0.4,2.5zM1164,544.7l-2.7-2.9 -5,1.7 -1,4.7 2.1,2.2 5.5-0.8 1-1.3zM1118.9,519.7l-1.3-7.2 -3.3-0.9 -4.7,3.1 0.2,1.4 5.7,4.3zM1144.5,576.7l0.2,6.2 2.7,1.1 6-3.3 -0.9-3.8 -7-1.1zM1305.1,653.3l-6.4-0.1 0.9,3.2 5.3,1.4 1.4,2.9zM1244.3,528.8l2.2-2.1 -0.3-1.8 -6-3.6 -2.9,5.1 1.7,1.9zM1132.2,398.4l-0.4,6 1.4,1.7 6.6-2.8 -0.3-4.5 -4.2-1.9zM1325.7,430.5l-1.2-3.5 -5.7,1.3 2,6 0.4,0.1 2.2-0.4zM1139.8,519.9l-1.5-3.9 -6-1.7 -1,0.5 -0.2,6.5 5.1,2zM1284.9,524.4l2.1-0.5 1.4-5 -1.3-0.9 -6.1,2.4 0.1,0.4zM1321.6,405.1l-0.3-1.7 -3.9-2.5 -4.9,3.4 1,3.7 4,0.4zM1083.3,597.7l-0.7,0.3 -2,6.7 3.5-2 2.4-3.2zM1309.8,400.2l0.6,2.4 2.1,1.7 4.9-3.4 -0.5-3.9 -3.3-1.8zM1047.4,552.6l-8.3-4.4 -2.4,1.3 2.3,10.1 5.9-0.4zM1118.9,519.7l4.5-0.9 2.9-5.3 -2.2-4.3 -1-0.5 -5.5,3.8zM1036.9,427.1l-6.5,4.1 0.1,4.3 3.7,1.6 6.9-4.4 0.4-2.7zM1243.4,535.6l2,2.6 4.1-0.5 -0.1-5.1 -4.1-0.2zM1223.8,418.6l4.2-0.7 0.5-3.1 -3.1-3.4 -4.6,3.5 -0.1,0.7zM1294.9,457.3l-1.6-3.3 -4.6-0.7 -2.3,3.6 0.7,2.6 4.5,1.5zM1182.8,548.8l0.1-0.7 -2.8-2.6 -6.4,0.8 -0.4,1.6 4.3,4.6 1.8,0zM978.5,545.6l9.9-7.8 -4.5-6.3 -4.1-0.7 -6.5,5.1zM1164.3,554.6l-1.9,2.9 3.4,3.9 3.5-1.5 0.2-4.4zM1200.4,529.5l0,1.5 6.7,3.6 2.8-2.3 0.6-3.5 -2.9-4.4zM1354.7,400.5l1.3,0.6 4.5-1.6 0.4-4.9 -4.3-1.7 -3.3,2.4zM1306.5,455.7l-3.6,4.2 3.4,4 3.1-0.6 1.3-2.1zM1166,497.7l-2.7,2.7 0.4,3.3 4.9,3 2-2.9 -1.8-6.5zM1062.4,427.5l2-8.3 -6-2.8 -5.2,3.1 4.7,8.1 3.7,0.5zM1263,517.9l-0.7,2.9 2.8,3 2.5-0.4 0.4-4.5 -2.2-1.8zM1300.5,554.7l0.7-0.5 -0.5-4.3 -1.2-0.6 -3.1,0.5 -1.7,3.5 0.5,1.2zM1297.1,501.3l1.3,3.9 5.1,1.2 1.7-6.2 -5-1.8zM1264.4,441.3l-2.7,0.3 -0.7,6 5.2,0.9 1.2-1.8 -0.7-4.1zM1156.3,489l5.8-0.6 -1-7 -4.7,0.3 -1.7,4.9zM1051.4,460.9l0.1,3.3 6.9,3.5 4.1-2.3 -2.3-7.3zM1271.8,293.4l-6.5,3.8 -0.9,5.7 2.7,1.8 0.8-0.3 3.6-7.3 1.2-3.1zM1269.8,513l2.2,1.9 3.2-0.5 0.7-4.2 -1.4-2 -3.9,1.1zM1379.2,382.1l-5.2,5.1 2.2,5.3 1.5,0.2 4.3-2.2 0-8.1zM1224.5,471.9l3.6,2.9 3.9-3.9 -0.8-2.9 -3.7-1.6zM1002.8,481.9l-2.6-9.8 -1.6-0.5 -5.3,5.9 2.2,6.7zM1111.3,566.7l-6,2 -1.3,7.4 0.5,0.7 1,0.4 5-1.5 2.7-7.9zM1020.5,626l2.8-5.8 -4.5-5.4 -5,1.7 -0.8,7.6 0.9,0.9zM1266.2,448.5l0.9,3.1 3.9,0.2 1.8-2.9 -1-2.4 -4.4,0.2zM1266.4,430.9l1,2 5.1-1.2 -0.2-5.2 -1.3-0.7 -3.2,0.5zM1282.1,455.8l0.1-5.4 -4.9-0.4 -0.7,3.1 3.6,3.5zM1330.2,432.5l3.2,0.5 2.2-2.5 -2-3.4 -2.3-0.2 -1.7,4.5zM1113.7,461.2l-2.2-5.5 -6.5,1.2 -0.9,3.3 6.3,4 1.4-0.3zM959.1,541.6l-7.7,5.9 4,12.4 10.9,3.3 3.5-12.3zM1307.8,529.1l2.8,0.9 5.5-1.9 0.7-2.7 -4-5.8 -0.6,0.1zM1321.3,448.7l-2.6,1.2 -0.2,5.7 1.8,1.6 2.1-0.1 2.1-3.8zM1216.5,435.4l-2.8-5.2 -1.7,0.6 -1.9,3.9 1.5,3.2zM1265.8,507.9l-1.4-1.3 -3.6,1.1 -0.5,1.4 1.5,3.1 3.2-0.4zM1161,594.3l1.2,0.3 6.4-2.9 -1.4-6 -7.2,0.4zM1084.2,532.4l7.6,0.3 1-5.1 -2.6-3 -6.1,1.1 -1.6,4.2zM1181.8,504.8l-4.5-1.5 -1.2,6.6 2.4,2 4.8-1.7zM1237.4,482.2l-1.2-4.3 -1.6-0.7 -3.1,1.3 -0.6,2.8 3.5,2.8zM1169.7,478.7l-3.3,3.1 1.6,4.5 4.9-0.7 -1.7-6.1zM1317.4,400.9l3.9,2.5 3.8-5.7 -2.8-2.9 -5.4,2.2zM1022.7,552.4l-0.6-2.6 -5.3-2.2 -5.6,8 1,0.9 6.7,0.9zM1187.7,508.7l3.4,3 1.6-0.3 1.9-4.4 -3.1-3.4 -2.7,1zM1352.3,479.1l-1.4-2.9 -4.9-0.6 -0.4,4.8 5,2zM1186.8,545.2l-2.4-5.5 -3.9,1.1 -0.4,4.7 2.8,2.6zM1284.6,566.5l5.3,3.2 2-1.1 -2.3-4.6 -3.7-0.4 -1.4,2.3zM1245.1,582.6l-6-4.8 -3.6,1.8 0,0.9 5.1,3.6 0.3,1.3zM1377.6,433.5l-0.4-0.1 -4.1,3.4 0.7,1.9 4.9,1.6 0.8-1zM1114.3,585.8l-0.8,2.2 3.4-0.2zM1199.6,476.5l5.3,1 0.8-1.4 -2.1-5.4 -5.4,2.2zM1303.6,468l2.7-4.1 -3.4-4 -3.1,0.1 -1.5,4.4zM1145.5,559l-0.5,1.1 3.2,7.8 1-0.1 4.1-3.8 -0.4-4.1zM1280.2,456.6l-3.6-3.5 -3.3,1.8 -0.8,2.9 6.2,1.9zM1335.9,495l3.8,4.1 3.9-3.7 -2.3-5.5 -3.5-0.3zM1003.3,513.6l-6.4-1.5 -3.5,4.8 4.4,4.5 5.6-2.3zM1144,536.6l-0.2,7.4 3.2,1 4.5-4.4 -3.9-6.8zM1351.1,507.7l-3.8,3.1 0.2,1.8 5-2.4 2.7,0.4 0.2-0.9zM1314,536.6l-5.9,2.4 -0.4,0.7 4.6,5.3 3.7-4.4 -1-3.6zM1220.6,459.6l2.7-2.4 0.3-1.8 -4.9-2.4 -2.6,3.2zM1297.1,445.7l-1.8-3.4 -5.2,2.1 0.2,2.1 4.8,2.5zM1264.7,423.4l-3.4,3.6 0.2,2.4 4.9,1.5 1.4-4.6zM1343.4,508l-3.8,3.5 2.7,5.5 1.1-0.3 1.5-2.7 2.6-1.4 -0.2-1.8zM1311.2,432.3l-0.4,6.1 5.2,1.2 1-3.8 -4.8-3.9zM1254.4,514.5l1.4-0.1 0.6-4.8 -1.5-1.6 -1-0.1 -3.2,3.1zM1284.4,438.2l2.2,4.9 3.1,0.8 0.4-7.4zM1205.8,464l-4.3,2 2.1,4.7 4.3-1.8 0.5-2.2zM1214.6,468.6l-2.5-3.5 -3.7,1.6 -0.5,2.2 2.3,2.5 3.2-0.5zM1314.6,390.5l7.8-0.8 1-1.6 -0.5-1.1 -5.7-3.1 -3.9,2.5zM1156.3,543.5l5-1.7 0.1-2 -4.5-4.6 -3.6,5.4zM1233.2,508.4l-1.8-0.6 -7,4.6 0,2 7.5,2.8 1.5-0.9zM980.1,489.2l-2.7,1.2 -1.9,5.7 6.1,4.2 0.3,0 3.4-6.5zM1261.3,496.9l-1.1-5.4 -2.6-0.2 -2.3,3.6 1,1.9zM1111,537.4l-1.5,4.6 0.4,1 8.3,0.4 1.3-6.3 -0.9-1zM1233,535.5l-0.3-6.6 -5.7,0 -1.8,6 0.9,0.7zM1109.8,516.1l-3,5 3.2,4.8 1,0.3 4.5-5.8zM1179.7,431.3l-4.4-4.3 -1-0.1 -2.3,6.6 1.4,1.6 5.9-0.4zM1286.2,515l1.8-2.5 -1.7-3 -1.2-0.3 -3.4,3 0,1.3zM1047.4,632.3l-8.1-3.4 -3.2,2.5 0.5,5.7 6.8,1.4 4.2-5.6zM1140.5,511.4l-1-2 -5.5-1 -1.7,5.9 6,1.7zM1245.5,513.6l-2.4-2.5 -3.1,0.3 -1.5,5.9 1.7,1.7z" fill="#d7301f" stroke="#63554b" stroke-width="0.55" stroke-linejoin="round"/>
<g clip-path="url(#usc)" fill="none" stroke="#3c3836" stroke-width="1.25" stroke-linejoin="round">
<path d="M628.4,252.7L637.9,255.0L648.2,266.4L668.1,265.3L673.6,267.5L685.5,265.3L698.3,260.7L708.1,258.4L740.8,258.4"/>
<path d="M738.9,187.9L738.9,248.8L740.8,258.4"/>
<path d="M740.8,258.4L747.5,267.5L744.3,274.3L738.7,285.6L736.4,296.7L739.1,307.7L739.1,346.8"/>
<path d="M625.2,346.8L834.0,346.8"/>
<path d="M691.9,346.8L691.9,409.4L777.2,489.0"/>
<path d="M786.5,346.8L786.5,467.5L775.4,469.1L777.2,489.0"/>
<path d="M777.2,489.0L785.0,502.5L778.8,515.9L776.1,527.3L775.7,532.6"/>
<path d="M786.5,449.8L1094.9,449.8"/>
<path d="M865.8,368.0L865.8,558.7"/>
<path d="M834.0,346.8L834.0,368.0L865.8,368.0"/>
<path d="M834.0,281.1L834.0,346.8"/>
<path d="M834.0,281.1L945.2,281.1"/>
<path d="M865.8,368.0L976.9,368.0"/>
<path d="M945.2,187.9L945.2,368.0"/>
<path d="M754.6,187.9L754.6,211.8L760.2,218.9L760.2,226.0L772.9,235.3L781.6,243.5L780.8,261.8L779.2,268.7L790.4,270.9L799.9,285.6L806.2,293.4L826.9,291.1L828.5,286.7L834.0,292.9"/>
<path d="M945.2,259.8L1064.1,259.8"/>
<path d="M945.2,325.2L1033.3,325.2L1042.8,328.5L1054.0,330.7L1065.1,336.0"/>
<path d="M976.9,368.0L976.9,449.8"/>
<path d="M976.9,388.9L1084.1,388.9"/>
<path d="M1065.9,314.3L1065.9,336.0L1074.1,362.7L1076.7,376.8L1084.1,388.9L1088.1,398.2L1095.3,407.4L1094.9,459.7"/>
<path d="M1076.7,376.8L1140.8,376.8L1145.8,381.0"/>
<path d="M1065.9,314.3L1148.9,314.3"/>
<path d="M1065.9,314.3L1065.9,274.3L1059.5,267.5L1064.0,258.4L1060.6,237.7L1056.3,213.5L1053.5,187.9"/>
<path d="M1148.9,314.3L1141.3,303.3L1127.8,291.1L1123.8,286.7L1125.4,274.3L1122.6,266.4L1131.9,258.9L1131.9,243.0L1135.0,242.3"/>
<path d="M1161.6,245.3L1182.6,256.1L1190.5,258.9L1198.5,263.0L1202.4,272.1L1206.4,278.8"/>
<path d="M1158.1,336.0L1203.2,336.0"/>
<path d="M1148.9,314.3L1150.0,325.2L1158.1,336.0L1165.1,351.0L1160.4,357.4L1152.4,368.0L1145.8,381.0L1145.3,390.9L1157.2,409.4L1165.9,412.5L1165.4,417.0L1170.7,431.7L1176.2,443.8L1181.8,449.8L1176.2,459.7L1173.1,469.5L1167.2,486.5L1154.0,504.4L1150.0,527.3L1153.2,540.5L1142.9,564.8"/>
<path d="M1207.5,351.9L1207.5,402.3L1208.0,414.5L1200.9,425.7L1199.3,433.8"/>
<path d="M1181.8,449.8L1190.5,448.2L1192.9,441.8L1199.3,433.8L1207.2,431.7L1220.7,430.7L1235.8,424.7L1244.5,415.6L1250.9,407.4L1255.6,407.4L1267.5,416.6L1285.8,421.7L1299.3,409.4L1302.5,403.9L1313.9,394.7L1317.6,376.4L1318.8,375.5"/>
<path d="M1250.7,353.2L1250.7,407.4"/>
<path d="M1212.8,351.9L1250.7,351.9L1250.7,353.2L1272.3,352.7"/>
<path d="M1318.8,347.2L1318.8,394.7"/>
<path d="M1318.8,394.7L1394.0,394.7L1399.4,392.6"/>
<path d="M1394.0,394.7L1395.4,420.6L1405.7,420.6"/>
<path d="M1330.9,341.0L1330.9,346.8L1400.9,346.8L1411.3,360.6"/>
<path d="M1411.3,360.6L1424.0,368.0"/>
<path d="M1411.3,360.6L1404.6,369.0L1403.3,374.7L1410.2,384.7L1404.4,389.9L1399.8,393.0"/>
<path d="M1335.4,394.7L1335.4,405.3L1343.0,400.2L1351.7,396.1L1356.0,395.1L1361.2,397.1L1363.1,402.9L1374.1,411.5L1370.0,421.7L1374.7,423.7"/>
<path d="M1363.1,402.9L1353.3,406.8L1345.0,414.1L1338.2,421.0L1332.7,417.6L1327.1,430.7L1322.3,439.2L1311.2,443.8L1300.4,445.8L1295.8,439.0"/>
<path d="M1295.8,439.0L1285.8,421.7"/>
<path d="M1295.8,439.0L1268.7,457.7"/>
<path d="M1392.7,458.7L1300.4,458.7L1268.7,457.7L1198.9,457.7L1198.9,459.7L1176.2,459.7"/>
<path d="M1300.4,457.9L1295.3,467.5L1285.8,470.5L1271.5,478.3L1262.8,484.2L1258.5,489.0"/>
<path d="M1277.9,489.0L1163.5,489.0"/>
<path d="M1277.9,489.0L1290.6,485.1L1310.4,485.7L1314.4,492.9L1332.2,492.5L1350.1,511.2"/>
<path d="M1277.9,489.0L1281.0,498.7L1286.6,508.3L1296.1,517.8L1304.9,534.9L1313.3,545.6"/>
<path d="M1304.1,570.3L1294.5,576.6L1292.2,572.7L1249.9,570.3L1247.7,564.8L1206.4,564.8L1207.7,578.1"/>
<path d="M1247.7,564.8L1248.5,540.5L1244.8,530.2L1238.2,489.0"/>
<path d="M1196.9,489.0L1192.6,564.8L1193.7,579.2"/>
<path d="M1142.9,564.8L1172.6,564.8L1175.8,579.9"/>
<path d="M1104.1,527.3L1150.0,527.3"/>
<path d="M1094.9,459.7L1165.9,459.7L1162.4,469.5L1173.1,469.5"/>
<path d="M1094.9,459.7L1098.0,481.2L1097.2,515.2L1104.1,516.9L1104.1,546.2L1108.0,555.5L1111.9,564.8L1109.2,574.0L1109.2,582.3L1107.2,588.3"/>
<path d="M1097.2,515.2L1081.0,510.2L1065.1,513.1L1054.0,511.2L1039.7,505.4L1022.2,504.4L1009.5,497.5L1009.5,459.7L961.9,459.7"/>
<path d="M961.9,449.8L961.1,546.2L904.4,546.2L905.8,550.3"/>
<path d="M1462.1,281.1L1453.3,296.7L1448.6,312.1L1446.8,331.1"/>
<path d="M1434.0,331.1L1465.3,331.1L1472.9,328.1"/>
<path d="M1432.9,281.1L1431.9,312.1L1434.0,331.1L1430.5,345.7L1429.5,361.7L1427.9,368.0"/>
<path d="M1430.5,345.7L1457.3,346.1L1464.0,346.3L1466.8,353.2L1468.1,357.4"/>
<path d="M1457.3,346.3L1456.5,361.2"/>
<path d="M1468.7,274.3L1470.5,312.8L1474.8,323.7"/>
</g>
<path d="M616.9,202.8L629.2,207.8L637.9,208.8L647.8,208.3L650.6,214.2L652.2,228.3L648.2,231.9L653.0,229.5L654.1,221.3L655.4,213.0L653.0,204.7L651.9,193.9L648.1,187.9L1086.5,187.9L1086.5,178.6L1091.3,179.4L1094.0,191.5L1100.8,195.1L1114.3,197.5L1126.2,199.4L1131.8,204.7L1142.9,207.1L1150.8,210.2L1156.4,209.5L1165.1,209.5L1174.7,211.8L1173.4,212.8L1163.1,217.8L1148.3,228.3L1141.8,234.9L1135.0,240.5L1138.1,242.3L1146.1,241.2L1153.2,238.1L1155.9,236.5L1154.0,243.5L1161.6,245.1L1171.5,240.5L1179.4,238.8L1185.0,235.3L1191.3,230.0L1197.7,225.5L1203.2,224.4L1204.5,226.5L1196.9,230.7L1193.4,235.8L1192.4,240.5L1196.9,238.8L1202.4,237.7L1209.3,244.6L1215.9,246.9L1221.5,248.8L1228.6,244.6L1232.6,242.8L1241.3,242.3L1248.0,240.7L1247.2,246.9L1253.3,247.6L1258.0,246.9L1262.0,252.7L1264.4,257.3L1270.7,256.1L1271.5,259.6L1263.6,260.0L1254.1,258.4L1252.0,261.4L1247.7,257.3L1239.8,256.6L1231.8,259.6L1227.1,259.6L1223.1,265.3L1221.0,267.5L1217.5,261.8L1214.8,264.6L1210.4,272.1L1206.4,278.8L1202.4,284.4L1200.1,291.1L1209.3,284.4L1215.9,275.4L1213.6,281.1L1209.3,290.0L1206.1,301.1L1204.8,308.8L1201.8,324.4L1203.2,336.0L1204.5,344.6L1206.1,349.3L1208.8,354.2L1212.8,354.9L1217.5,352.7L1223.9,344.6L1227.4,338.2L1228.5,330.2L1226.6,320.2L1223.4,312.1L1224.5,304.4L1223.7,302.0L1226.7,297.8L1227.8,287.8L1230.7,283.3L1239.0,276.6L1237.9,285.6L1240.6,281.1L1243.6,273.9L1248.5,272.1L1252.0,263.4L1256.4,266.4L1266.8,271.6L1272.6,279.7L1274.7,288.9L1271.5,297.1L1268.3,303.3L1265.2,311.0L1271.5,309.9L1275.5,304.4L1279.9,301.8L1285.0,306.6L1286.8,316.5L1288.7,325.2L1287.1,333.9L1281.8,335.0L1278.7,339.7L1277.1,345.7L1272.0,352.7L1283.4,357.4L1289.8,359.1L1300.1,357.4L1306.8,352.1L1314.4,348.9L1325.8,344.0L1337.7,336.0L1344.9,327.8L1341.9,319.6L1350.9,317.2L1365.2,318.7L1376.3,319.1L1382.7,315.2L1387.4,311.0L1387.4,304.4L1385.1,301.1L1392.2,295.6L1398.6,287.8L1410.5,281.1L1462.1,281.1L1463.7,274.3L1470.0,275.4L1472.4,274.3L1477.2,266.4L1481.1,260.7L1482.7,251.5L1485.9,242.3L1492.3,233.0L1498.3,224.6L1503.4,230.7L1512.4,226.9L1521.0,233.7L1521.2,259.8L1526.4,267.5L1526.4,274.3L1531.2,278.2L1533.9,283.3L1534.3,285.3L1528.8,288.9L1519.2,293.4L1514.5,295.6L1509.7,300.0L1505.0,294.5L1501.0,302.2L1493.8,306.6L1488.3,308.8L1481.9,311.0L1478.0,317.6L1474.8,323.7L1472.9,328.5L1476.4,332.8L1472.4,336.0L1470.0,339.3L1474.5,342.5L1475.6,346.8L1478.0,351.7L1485.1,352.1L1482.7,345.7L1486.4,347.8L1486.7,353.8L1481.1,354.9L1476.1,356.4L1475.1,353.2L1468.4,357.4L1464.5,358.1L1464.0,352.1L1463.2,358.5L1462.4,360.4L1456.4,361.4L1449.4,362.1L1439.8,362.5L1431.9,365.9L1425.6,371.1L1436.7,369.0L1449.4,364.8L1456.4,366.5L1446.2,371.1L1433.5,375.9L1422.4,377.0L1422.4,379.1L1421.6,388.9L1417.6,399.2L1415.7,402.1L1407.6,410.9L1404.1,405.3L1398.6,400.2L1397.4,397.1L1399.4,403.3L1400.1,409.4L1405.1,413.5L1405.7,420.6L1400.9,431.7L1391.4,447.2L1391.4,437.8L1395.4,430.7L1387.4,424.7L1386.6,415.6L1389.0,405.3L1389.8,398.2L1382.7,404.3L1383.0,410.1L1383.5,421.7L1385.5,428.7L1374.7,423.7L1382.7,429.7L1385.9,437.8L1384.3,444.8L1385.1,449.8L1390.6,451.1L1392.7,458.7L1397.0,471.5L1398.1,484.7L1387.4,490.0L1382.2,496.7L1377.9,494.8L1371.6,496.4L1362.8,503.5L1359.5,511.2L1352.5,510.2L1344.9,514.0L1339.8,523.5L1336.6,527.3L1328.7,532.1L1320.0,539.6L1315.7,543.3L1313.3,545.6L1308.0,555.5L1304.9,562.4L1304.1,570.3L1304.9,577.1L1306.5,585.0L1311.2,597.8L1315.2,606.0L1318.7,611.2L1320.0,622.2L1324.4,633.9L1326.6,642.8L1325.5,653.4L1324.9,659.2L1322.3,666.6L1318.4,669.3L1309.9,670.7L1308.8,665.7L1304.9,657.8L1299.6,656.4L1298.5,652.7L1294.5,647.2L1291.2,642.8L1288.0,635.6L1286.1,631.5L1283.7,626.7L1285.8,624.0L1287.4,620.4L1282.2,620.1L1284.5,612.3L1284.2,603.3L1278.8,599.1L1273.1,589.6L1264.4,582.3L1260.4,581.7L1257.2,585.0L1249.3,588.7L1247.7,588.3L1242.1,589.3L1240.6,584.1L1236.6,581.0L1225.5,576.2L1212.8,577.1L1204.8,578.6L1200.1,579.0L1200.9,571.3L1199.3,570.7L1196.9,576.4L1191.3,576.8L1185.8,576.0L1178.6,577.7L1175.4,580.1L1176.2,583.2L1177.0,587.8L1179.4,593.3L1183.4,597.8L1181.8,601.5L1177.0,599.6L1172.3,596.0L1167.5,597.8L1161.9,600.0L1154.8,600.5L1149.2,597.8L1146.9,593.3L1139.7,592.4L1135.7,591.4L1127.0,590.9L1117.5,587.8L1107.2,588.3L1098.4,591.4L1092.4,596.0L1092.4,591.4L1088.9,588.7L1089.7,595.1L1084.1,602.7L1073.8,608.7L1066.7,613.2L1059.5,617.7L1056.3,622.6L1050.8,623.1L1051.9,630.3L1052.7,644.5L1054.8,653.9L1054.8,655.9L1049.2,656.9L1038.1,654.3L1027.0,649.0L1023.3,645.3L1018.2,637.4L1017.4,628.5L1004.7,615.9L1001.6,606.9L995.2,594.9L987.3,587.2L984.7,586.9L976.2,587.4L969.8,587.4L964.6,593.3L962.7,597.8L959.5,601.8L953.1,598.7L946.0,596.0L939.6,591.3L934.9,583.2L930.1,572.2L920.6,564.8L912.6,557.4L906.3,550.6L905.8,550.3L879.3,550.3L879.3,558.7L833.7,558.7L774.3,537.0L775.7,532.6L737.6,536.2L735.6,533.0L735.1,530.2L733.2,523.5L728.4,518.6L721.3,513.1L717.3,513.3L715.7,508.3L711.0,508.3L704.3,505.4L703.0,503.1L696.7,500.6L684.4,499.6L681.6,497.1L681.3,490.9L681.6,486.1L678.1,481.8L671.6,476.0L663.3,464.6L661.3,457.3L663.3,453.7L659.7,450.7L655.4,447.8L652.2,439.8L651.9,434.2L652.5,433.2L649.0,431.7L643.9,429.7L643.1,423.7L632.8,411.5L631.2,400.2L627.6,388.9L621.9,379.7L625.2,372.2L626.0,366.9L625.2,352.1L623.6,345.7L619.5,328.7L622.8,317.6L626.3,303.3L627.3,289.4L628.7,273.2L628.9,260.7L627.6,252.7L627.6,243.5L626.0,236.5L623.6,227.2L618.4,214.2Z" fill="none" stroke="#3a3634" stroke-width="1" stroke-linejoin="round"/>
<path d="M1192.1,207.8L1185.0,211.8L1181.0,214.7L1186.6,213.0ZM693.5,507.3L699.0,508.3L695.9,509.2ZM687.9,508.3L691.9,508.7L690.3,510.6ZM714.1,518.2L718.4,520.7L716.5,521.6ZM714.1,526.8L717.8,530.7L716.0,531.1ZM1473.2,358.1L1478.4,359.1L1474.0,361.0ZM1482.7,361.2L1486.4,361.7L1484.3,363.1ZM1321.1,668.9L1318.4,672.4L1317.3,673.1L1320.0,670.1ZM1312.0,677.1L1308.8,678.0L1311.2,678.4ZM1305.7,678.4L1298.2,680.6L1304.9,679.8ZM1156.4,238.8L1159.6,236.5L1158.8,240.0ZM1237.4,263.0L1239.8,264.1L1239.0,268.0L1237.4,267.1Z" fill="#fc8d59" stroke="#3a3634" stroke-width="0.8"/>
<path d="M641.1,195.6L645.1,195.1L647.4,197.5L646.6,201.1L643.5,201.1L641.1,198.7ZM649.3,201.8L647.9,207.1L650.6,211.8L653.5,213.7L652.2,210.7L651.2,204.7ZM651.9,223.2L652.2,227.6L653.8,226.0ZM650.6,218.5L651.1,222.2L652.5,220.8ZM649.0,214.2L648.2,218.9L646.6,226.0L645.8,230.7L649.0,227.2L649.8,221.3Z" fill="#6b5248" stroke="#2e2a28" stroke-width="1.1"/>
</g>
<g font-family="Liberation Sans, sans-serif" font-size="10.2" fill="#505050" filter="url(#halo)">
<circle cx="785.4" cy="137.4" r="2.6" fill="#fff" stroke="#555" stroke-width="1"/><text x="788.4" y="134.4">Calgary</text>
<circle cx="641.3" cy="181.5" r="2.6" fill="#fff" stroke="#555" stroke-width="1"/><text x="644.3" y="178.5">Vancouver</text>
<circle cx="654.2" cy="221.3" r="2.6" fill="#fff" stroke="#555" stroke-width="1"/><text x="657.2" y="218.3">Seattle</text>
<circle cx="653" cy="432.5" r="2.6" fill="#fff" stroke="#555" stroke-width="1"/><text x="656" y="429.5">San Francisco</text>
<circle cx="718.7" cy="508.2" r="2.6" fill="#fff" stroke="#555" stroke-width="1"/><text x="721.7" y="505.2">Los Angeles</text>
<circle cx="930.6" cy="393.8" r="2.6" fill="#fff" stroke="#555" stroke-width="1"/><text x="933.6" y="390.8">Denver</text>
<circle cx="1060" cy="532" r="2.6" fill="#fff" stroke="#555" stroke-width="1"/><text x="1063" y="529">Dallas</text>
<circle cx="1082.5" cy="588" r="2.6" fill="#fff" stroke="#555" stroke-width="1"/><text x="1085.5" y="585">Houston</text>
<circle cx="1164" cy="417.5" r="2.6" fill="#fff" stroke="#555" stroke-width="1"/><text x="1167" y="414.5">St. Louis</text>
<circle cx="1206.1" cy="348.4" r="2.6" fill="#fff" stroke="#555" stroke-width="1"/><text x="1209.1" y="345.4">Chicago</text>
<circle cx="1279.3" cy="340.5" r="2.6" fill="#fff" stroke="#555" stroke-width="1"/><text x="1282.3" y="337.5">Detroit</text>
<circle cx="1336.3" cy="311.3" r="2.6" fill="#fff" stroke="#555" stroke-width="1"/><text x="1339.3" y="308.3">Toronto</text>
<circle cx="1394.8" cy="271.9" r="2.6" fill="#fff" stroke="#555" stroke-width="1"/><text x="1397.8" y="268.9">Ottawa</text>
<circle cx="1468.9" cy="339.6" r="2.6" fill="#fff" stroke="#555" stroke-width="1"/><text x="1471.9" y="336.6">Boston</text>
<circle cx="1421.6" cy="374.3" r="2.6" fill="#fff" stroke="#555" stroke-width="1"/><text x="1424.6" y="371.3">New York</text>
<circle cx="1375.3" cy="412.3" r="2.6" fill="#fff" stroke="#555" stroke-width="1"/><text x="1378.3" y="409.3">Washington</text>
<circle cx="1256.5" cy="513.5" r="2.6" fill="#fff" stroke="#555" stroke-width="1"/><text x="1259.5" y="510.5">Atlanta</text>
<circle cx="1322.9" cy="658.9" r="2.6" fill="#fff" stroke="#555" stroke-width="1"/><text x="1325.9" y="655.9">Miami</text>
<circle cx="1288.6" cy="705.7" r="2.6" fill="#fff" stroke="#555" stroke-width="1"/><text x="1291.6" y="702.7">Havana</text>
<circle cx="1004" cy="661.3" r="2.6" fill="#fff" stroke="#555" stroke-width="1"/><text x="1007" y="658.3">Monterrey</text>
<circle cx="956" cy="747.3" r="2.6" fill="#fff" stroke="#555" stroke-width="1"/><text x="959" y="744.3">Guadalajara</text>
<circle cx="1047" cy="768.5" r="2.6" fill="#fff" stroke="#555" stroke-width="1"/><text x="1024" y="764.5">Mexico City</text>
<text x="1451" y="781" fill="#9a9a9a">Port-au-Prince</text>
</g>
<g font-family="Liberation Sans, sans-serif" fill="#6a6a6a" filter="url(#halo)">
<text x="979" y="380.3" font-size="14" letter-spacing="5.5">UNITED</text><text x="978.5" y="404.4" font-size="14" letter-spacing="5.5">STATES</text>
<text x="984.5" y="328.6" font-size="10.2" font-style="italic" letter-spacing="1.75">GREAT PLAINS</text>
<text x="946" y="696" font-size="10" letter-spacing="2">MÉXICO</text><text x="1329" y="731" font-size="10" letter-spacing="1.6">CUBA</text>
</g>
<g font-family="Liberation Sans, sans-serif" font-style="italic" fill="#8a959c" font-size="9.6" text-anchor="middle" letter-spacing="1">
<text x="1490" y="582">HATTERAS</text><text x="1490" y="595">PLAIN</text><text x="1136" y="682">MEXICO</text><text x="1136" y="696">BASIN</text></g>
<g font-family="Liberation Sans, sans-serif" font-style="italic" fill="#5b8fc7" font-size="9.8" text-anchor="middle" letter-spacing="0.5"><text x="1227" y="218">Lake</text><text x="1227" y="230">Superior</text></g>
<path id="rk" d="M681,75 C700,100 724,140 742,175 C754,198 767,215 781,234" fill="none"/>
<text font-family="Liberation Sans, sans-serif" font-style="italic" font-size="10" fill="#6a6a6a" letter-spacing="6.0" filter="url(#halo)"><textPath href="#rk">ROCKY MOUNTAINS</textPath></text>
</svg>
<div class="a mb" style="top:84px;height:64px"><div class="a" style="left:10.5px;top:15.5px;width:11px;height:1px;background:#333"></div><div class="a" style="left:15.5px;top:10.5px;width:1px;height:11px;background:#333"></div><div class="a" style="left:10.5px;top:47.5px;width:11px;height:1px;background:#333"></div></div>
<div class="a mb" style="top:158px;height:32px"><svg class="a" style="left:8px;top:8px" width="16" height="16" viewBox="0 0 16 16"><path d="M1.5,8.2 L5,2.2 L5,0.8 L6.6,0.8 L8,2.6 L14.5,8.2 M3.2,7 V15 H6.6 V10 H9.4 V15 H12.8 V7" fill="none" stroke="#222" stroke-width="1.1" stroke-linejoin="round"/></svg></div>
<div class="a" style="left:1339px;top:74px;width:232px;height:42px;background:#0079c1"><svg class="a" style="left:8.5px;top:13px" width="16" height="16" viewBox="0 0 16 16"><rect x="0.6" y="0.6" width="14.8" height="14.8" fill="none" stroke="#fff" stroke-width="1.2"/><path d="M5.5,0.6 V6.5 L9,12 V15.4 M5.5,6.5 L15.4,3" fill="none" stroke="#fff" stroke-width="1.2"/></svg><span class="a" style="left:32px;top:12px;font-size:14.2px;font-weight:700;color:#fff;line-height:17px;letter-spacing:-0.33px">Most Vulnerable Counties</span><svg class="a" style="left:205px;top:17px" width="13" height="9" viewBox="0 0 13 9"><path d="M0.5,0.5 H12.5 L6.5,8.5Z" fill="#fff"/></svg></div>
<div class="a" style="left:550px;top:646px;width:328px;height:124px;background:#fff;border:1px solid #8f8f8f"></div>
<div class="a" style="left:551px;top:647px;width:326px;height:45px;background:#d5d5d5;border-bottom:1px solid #b4b4b4"></div>
<div class="a" style="left:567px;top:659px;font-size:14px;font-weight:700;color:#2b2b2b;line-height:16px;letter-spacing:-0.2px">Vulnerability</div>
<svg class="a" style="left:567px;top:703px;filter:drop-shadow(0.8px 1.8px 1px rgba(0,0,0,.55))" width="24" height="24" viewBox="0 0 24 24"><path d="M2.2,2 L20.5,10.6 L20.5,20.5 L2.5,20.8Z" fill="#d7301f" stroke="#b3261a" stroke-width="1"/></svg>
<div class="a lg" style="left:596.5px">High</div>
<svg class="a" style="left:629px;top:703px;filter:drop-shadow(0.8px 1.8px 1px rgba(0,0,0,.55))" width="24" height="24" viewBox="0 0 24 24"><path d="M2.2,2 L20.5,10.6 L20.5,20.5 L2.5,20.8Z" fill="#fc8d59" stroke="#c9683a" stroke-width="1"/></svg>
<div class="a lg" style="left:659px">Moderate</div>
<svg class="a" style="left:719px;top:703px;filter:drop-shadow(0.8px 1.8px 1px rgba(0,0,0,.55))" width="24" height="24" viewBox="0 0 24 24"><path d="M2.2,2 L20.5,10.6 L20.5,20.5 L2.5,20.8Z" fill="#fdcc8a" stroke="#c79a5c" stroke-width="1"/></svg>
<div class="a lg" style="left:748px">Low</div>
<svg class="a" style="left:777px;top:703px;filter:drop-shadow(0.8px 1.8px 1px rgba(0,0,0,.55))" width="24" height="24" viewBox="0 0 24 24"><path d="M2.2,2 L20.5,10.6 L20.5,20.5 L2.5,20.8Z" fill="#fef0d9" stroke="#c9b994" stroke-width="1"/></svg>
<div class="a lg" style="left:806px;letter-spacing:-0.3px">Very Low</div>
<div class="a" style="left:535px;top:773px;width:1041px;height:16px;background:rgba(255,255,255,.66)"></div>
<div class="a" style="left:540px;top:774px;width:940px;overflow:hidden;font-size:12px;color:#666;line-height:14px;letter-spacing:-0.1px">Esri, USGS | Esri, TomTom, Garmin, FAO, NOAA, USGS, EPA, USFWS | CDC\ATSDR\Office of Innovation and Analytics\Geospatial Research, Analysis, and Services Program (…</div>
<div class="a" style="left:1484px;top:774px;font-size:12px;color:#555;line-height:14px;letter-spacing:0.1px">Powered by Esri</div>
</body></html>
